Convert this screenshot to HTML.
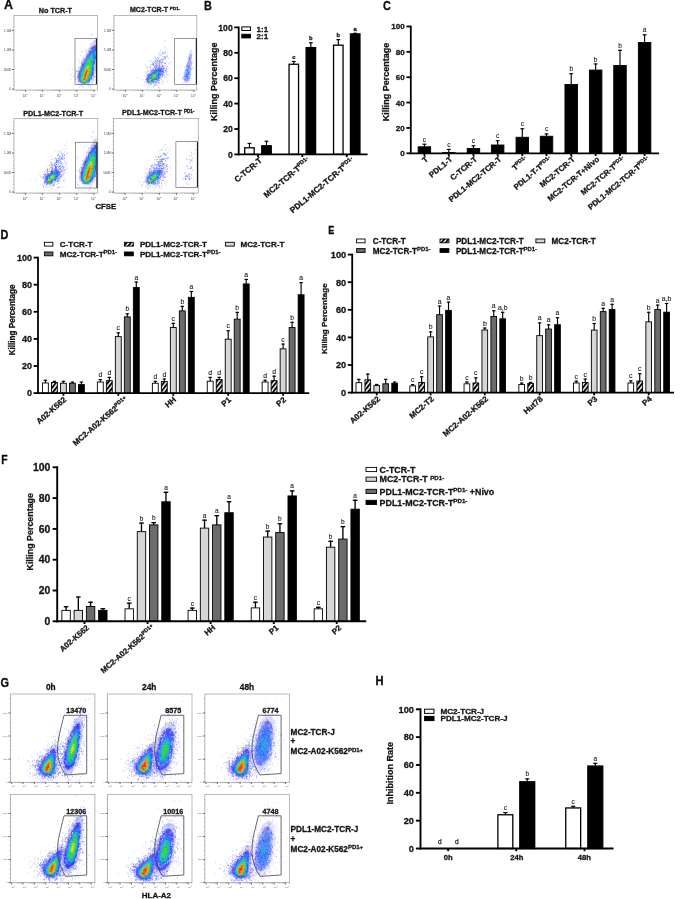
<!DOCTYPE html>
<html lang="en"><head><meta charset="utf-8"><title>Figure</title>
<style>
html,body{margin:0;padding:0;background:#fff;}
body{width:682px;height:899px;overflow:hidden;}
svg{display:block;font-family:"Liberation Sans", Arial, Helvetica, sans-serif;}
</style></head><body>
<svg width="682" height="899" viewBox="0 0 682 899">
<rect width="682" height="899" fill="#fff"/>
<defs>
<pattern id="hatch" width="3.4" height="3.4" patternUnits="userSpaceOnUse" patternTransform="rotate(-52)"><rect width="3.4" height="3.4" fill="#fff"/><rect width="3.4" height="1.95" fill="#000"/></pattern>
<filter id="bl" x="-20%" y="-20%" width="140%" height="140%"><feGaussianBlur stdDeviation="0.55" result="b"/><feTurbulence type="fractalNoise" baseFrequency="0.85" numOctaves="2" seed="3" result="n"/><feDisplacementMap in="b" in2="n" scale="2.4" xChannelSelector="R" yChannelSelector="G"/></filter>
<filter id="gr" x="-20%" y="-20%" width="140%" height="140%"><feGaussianBlur stdDeviation="0.5" result="b"/><feTurbulence type="fractalNoise" baseFrequency="0.85" numOctaves="2" seed="3" result="n"/><feDisplacementMap in="b" in2="n" scale="2.4" xChannelSelector="R" yChannelSelector="G" result="d"/><feTurbulence type="fractalNoise" baseFrequency="1.1" numOctaves="1" seed="11" result="n2"/><feColorMatrix in="n2" type="matrix" values="0 0 0 0 0 0 0 0 0 0 0 0 0 0 0 5 0 0 0 -1.35" result="m"/><feComposite in="d" in2="m" operator="in"/></filter>
</defs>
<text transform="translate(4.1 8.9) scale(0.92 1)" font-size="13.6" font-weight="bold" fill="#0a0a0a" stroke="#0a0a0a" stroke-width="0.3">A</text>
<rect x="14" y="15.6" width="83.4" height="74.4" fill="#fff" stroke="#8c8c8c" stroke-width="0.6"/>
<text x="11" y="90.22" font-size="3.1" font-weight="normal" text-anchor="end" fill="#333">0</text>
<text x="11" y="70.67" font-size="3.1" font-weight="normal" text-anchor="end" fill="#333">500K</text>
<text x="11" y="51.12" font-size="3.1" font-weight="normal" text-anchor="end" fill="#333">1.0M</text>
<text x="11" y="31.57" font-size="3.1" font-weight="normal" text-anchor="end" fill="#333">1.5M</text>
<text x="25" y="96.6" font-size="3.1" font-weight="normal" text-anchor="middle" fill="#333">10<tspan dy="-1.4" font-size="2.17">3</tspan></text>
<text x="42.1" y="96.6" font-size="3.1" font-weight="normal" text-anchor="middle" fill="#333">10<tspan dy="-1.4" font-size="2.17">4</tspan></text>
<text x="59.2" y="96.6" font-size="3.1" font-weight="normal" text-anchor="middle" fill="#333">10<tspan dy="-1.4" font-size="2.17">5</tspan></text>
<text x="76.3" y="96.6" font-size="3.1" font-weight="normal" text-anchor="middle" fill="#333">10<tspan dy="-1.4" font-size="2.17">6</tspan></text>
<text x="93.4" y="96.6" font-size="3.1" font-weight="normal" text-anchor="middle" fill="#333">10<tspan dy="-1.4" font-size="2.17">7</tspan></text>
<path d="M11.9 89.1H14M11.9 69.5H14M11.9 50H14M11.9 30.4H14M25.6 90V91.8M42.7 90V91.8M59.8 90V91.8M76.9 90V91.8M94 90V91.8" stroke="#333" stroke-width="0.7" fill="none"/>
<path d="M13 89.1H14M13 85.2H14M13 81.3H14M13 77.4H14M13 73.5H14M13 69.6H14M13 65.6H14M13 61.7H14M13 57.8H14M13 53.9H14M13 50H14M13 46.1H14M13 42.2H14M13 38.3H14M13 34.4H14M13 30.5H14M13 26.5H14M13 22.6H14M13 18.7H14M16.7 90V91M18.8 90V91M20.5 90V91M21.8 90V91M23 90V91M23.9 90V91M24.7 90V91M30.7 90V91M33.8 90V91M35.9 90V91M37.6 90V91M38.9 90V91M40.1 90V91M41 90V91M41.8 90V91M47.8 90V91M50.9 90V91M53 90V91M54.7 90V91M56 90V91M57.2 90V91M58.1 90V91M58.9 90V91M64.9 90V91M68 90V91M70.1 90V91M71.8 90V91M73.1 90V91M74.3 90V91M75.2 90V91M76 90V91M82 90V91M85.1 90V91M87.2 90V91M88.9 90V91M90.2 90V91M91.4 90V91M92.3 90V91M93.1 90V91" stroke="#777" stroke-width="0.4" fill="none"/>
<path d="M87.4 83.8h0.8M74.2 79.7h0.8M93.5 79.8h0.8M80.8 83.8h0.8M85.3 49.4h0.8M70 79.5h0.8M89.7 84h0.8M79.3 83h0.8M82.9 56.8h0.8M91.8 83.1h0.8M88 50.8h0.8M87.7 40h0.8M78.8 87.3h0.8M81.3 51.7h0.8M86.2 53.3h0.8M75.7 79.2h0.8M76.8 76.5h0.8M92.3 80.8h0.8M89.6 86.4h0.8M90.5 47.2h0.8M80 85.2h0.8M86.9 84.8h0.8M77.2 81.8h0.8M87.9 85.8h0.8M80.1 81.3h0.8M83.5 86.7h0.8M75.1 73.7h0.8M77.7 84h0.8M78.9 62.7h0.8M91 39.2h0.8M78 59h0.8M87.8 85.6h0.8M77.1 77.6h0.8M78.4 83.8h0.8M83 83.7h0.8M70.8 75h0.8M92.1 81.6h0.8M75.1 72.5h0.8M76.5 71.4h0.8M82.4 83.6h0.8M81.6 60.3h0.8M77.4 81.5h0.8M72 69.9h0.8M82.7 51.7h0.8M93.5 80.4h0.8M91.9 85.8h0.8M88.9 49.1h0.8M75.2 78.9h0.8M78.2 82.2h0.8M94.3 41.7h0.8M90.1 85.4h0.8M83.6 56h0.8M74 76.3h0.8M73.2 76.6h0.8M90.8 44.2h0.8M68 69.8h0.8M91.3 82h0.8M91.4 84.5h0.8M88.2 83.4h0.8M75.2 70.1h0.8M92.3 34.6h0.8M76.2 70.4h0.8M84.3 83.7h0.8M85.3 51.1h0.8M90.8 33.9h0.8M87.4 83.7h0.8M88.8 84.6h0.8M75 78.1h0.8M80.5 85.1h0.8M80.5 55.3h0.8M88.7 83.8h0.8M74.8 71.8h0.8M89.4 36.1h0.8M76.4 71.5h0.8M82.3 87.1h0.8M78.9 60.9h0.8M81.9 85.5h0.8M74.7 75.2h0.8" stroke="#9a9aff" stroke-opacity="0.8" stroke-width="0.8" fill="none"/>
<path d="M93.7 55.4h0.8M94.4 65.8h0.8M91.2 78.2h0.8M81.4 64h0.8M92.8 74.7h0.8M87.6 82.7h0.8M93.8 63.6h0.8M95.1 49.7h0.8M80.2 69.3h0.8M78.8 73.8h0.8M81.6 77.8h0.8M84.6 81.7h0.8M89 81.1h0.8M92.6 55.2h0.8M92.3 73.2h0.8M89.2 79.7h0.8M92.4 48.4h0.8M82.9 80.6h0.8M89.9 48.7h0.8M95.5 55.6h0.8M85.3 79.9h0.8M86.7 55h0.8M81.2 82h0.8M83.2 59.9h0.8M92.8 72.4h0.8M93.6 76.4h0.8M85.1 61.7h0.8M90.6 47.7h0.8M80.3 71.5h0.8M93.2 48.9h0.8M89.8 79.1h0.8M92.8 49.3h0.8M93 74.2h0.8M89.3 78.5h0.8M83.8 80h0.8M93.4 66h0.8M79.3 72.4h0.8M90.4 78.2h0.8M94.7 57.6h0.8M81.1 68.8h0.8M80 80.8h0.8M80.5 77h0.8M82.7 81.5h0.8M85.8 80.4h0.8M87.8 79.5h0.8M80.3 76.6h0.8M80.2 79.9h0.8M79.4 72.1h0.8M93.2 67.9h0.8M88.1 79.6h0.8M78.4 73.2h0.8M87.2 54.9h0.8M90.9 76.8h0.8M91.9 52.4h0.8M84.9 80h0.8M93.2 69.1h0.8M81 78.1h0.8M78.7 70.9h0.8M78.4 72.3h0.8M88.4 54h0.8M94.2 61.7h0.8M77.8 74.5h0.8M81.1 79.7h0.8M78.7 77.4h0.8M81.4 62.9h0.8M83.7 80h0.8M84.4 81.9h0.8M80.1 68.7h0.8M77.9 75.1h0.8M83.5 79.2h0.8M92.5 55.1h0.8M93.8 70h0.8M94.2 61.9h0.8M83.9 63.3h0.8M88.5 52.4h0.8M92.4 54h0.8M95.1 45.6h0.8M91.1 48.9h0.8M93.2 51.1h0.8M90.6 53.2h0.8M78.9 70.7h0.8M93 78.6h0.8M87.3 80.1h0.8M83.4 81h0.8M95.5 48h0.8M88 57.5h0.8M82.3 81.2h0.8M92 47.8h0.8M77.4 76.7h0.8M85.5 80.5h0.8M78.3 77h0.8M82.7 80.1h0.8M90.7 77h0.8M92.2 49.7h0.8M87.4 58.2h0.8M92.9 47.6h0.8M83.5 81.5h0.8M81.4 63.1h0.8M95.5 70.9h0.8M93.2 55.8h0.8M91.9 50.6h0.8M93.8 76.6h0.8M95.3 45.4h0.8M89.9 52h0.8M92.2 73.3h0.8M86.7 79.9h0.8M81.9 62.2h0.8M83.5 58.5h0.8M93.8 53h0.8M94 58.1h0.8M78.9 77.6h0.8M82.7 62.7h0.8M92.2 51.3h0.8M94.5 76.8h0.8M80 78.3h0.8M92.7 75.8h0.8M82.2 65.6h0.8M88.1 80.1h0.8M91.2 78h0.8M93.3 52.5h0.8M95.3 54.6h0.8M88.9 79.2h0.8M93.9 59.3h0.8M89.1 53.2h0.8M94 53h0.8M80.5 77.7h0.8M87.2 80.7h0.8M87 81.6h0.8M94.2 50.7h0.8M78.3 68.2h0.8M77 71.5h0.8M94.4 59.1h0.8" stroke="#5560ff" stroke-opacity="0.85" stroke-width="0.8" fill="none"/>
<clipPath id="c1"><rect x="14.5" y="16" width="81.8" height="73"/></clipPath><g clip-path="url(#c1)">
<g transform="translate(86 73.4) rotate(-72)" filter="url(#gr)"><path d="M-11.5 0C-11.5 -8.5 -2.9 -10.1 11.1 -7.4C24.1 -5.6 37 -3.4 37 0C37 3.4 24.1 5.6 11.1 7.4C-2.9 10.1 -11.5 8.5 -11.5 0Z" fill="#8080ff" fill-opacity="0.38"/><path d="M-10.6 0C-10.6 -6.8 -2.6 -8.1 8.9 -5.9C19.2 -4.5 29.6 -2.7 29.6 0C29.6 2.7 19.2 4.5 8.9 5.9C-2.6 8.1 -10.6 6.8 -10.6 0Z" fill="#3038f8" fill-opacity="0.85"/></g>
<g transform="translate(86 73.4) rotate(-72)" filter="url(#bl)"><path d="M-10.1 0C-10.1 -5.9 -2.5 -7 7.7 -5.1C16.7 -3.9 25.7 -2.3 25.7 0C25.7 2.3 16.7 3.9 7.7 5.1C-2.5 7 -10.1 5.9 -10.1 0Z" fill="#1f8cf5" fill-opacity="0.95"/><path d="M-9.5 0C-9.5 -4.8 -2.4 -5.6 6.2 -4.1C13.5 -3.1 20.7 -1.9 20.7 0C20.7 1.9 13.5 3.1 6.2 4.1C-2.4 5.6 -9.5 4.8 -9.5 0Z" fill="#22c4b8" fill-opacity="1"/><path d="M-9 0C-9 -3.8 -2.2 -4.5 5 -3.3C10.8 -2.5 16.6 -1.5 16.6 0C16.6 1.5 10.8 2.5 5 3.3C-2.2 4.5 -9 3.8 -9 0Z" fill="#3fd44a" fill-opacity="1"/><path d="M-8 0C-8 -2 -2 -2.4 2.6 -1.7C5.7 -1.3 8.7 -0.8 8.7 0C8.7 0.8 5.7 1.3 2.6 1.7C-2 2.4 -8 2 -8 0Z" fill="#cce42a" fill-opacity="1"/><path d="M-7.6 0C-7.6 -1.4 -1.9 -1.6 1.8 -1.2C3.8 -0.9 5.9 -0.5 5.9 0C5.9 0.5 3.8 0.9 1.8 1.2C-1.9 1.6 -7.6 1.4 -7.6 0Z" fill="#ff8a1a" fill-opacity="1"/><path d="M-7.3 0C-7.3 -0.8 -1.8 -0.9 1 -0.7C2.2 -0.5 3.4 -0.3 3.4 0C3.4 0.3 2.2 0.5 1 0.7C-1.8 0.9 -7.3 0.8 -7.3 0Z" fill="#f0301e" fill-opacity="1"/></g>
</g>
<path d="M86.5 64.1h0.8M83.1 72.7h0.8M88.9 75.7h0.8M90.4 72.5h0.8M89.9 67.8h0.8M86.7 75.8h0.8M82.7 76.1h0.8M91.3 61.3h0.8M87.4 76.5h0.8M88.2 65.3h0.8M87.4 77.4h0.8" stroke="#3fd44a" stroke-opacity="0.8" stroke-width="0.8" fill="none"/>
<path d="M79.4 74h0.8M92.1 67.6h0.8M77.7 77.1h0.8M90.1 54.3h0.8M83.4 79.9h0.8M80.2 76h0.8M92.8 57h0.8M89.3 58.4h0.8M94.2 63.3h0.8M82.7 68.8h0.8M91.7 61.6h0.8M90.6 52.1h0.8M92.7 74h0.8M91.4 48.5h0.8M92.5 73.3h0.8M93.1 55.5h0.8M94.5 67.8h0.8" stroke="#3038f8" stroke-opacity="0.8" stroke-width="0.8" fill="none"/>
<path d="M90.3 59.7h0.8M89.9 60.7h0.8M89 75.6h0.8M89.6 75.8h0.8M82.6 73.3h0.8M84.4 76.3h0.8M81.3 74.1h0.8M81.6 75.5h0.8" stroke="#22c4b8" stroke-opacity="0.8" stroke-width="0.8" fill="none"/>
<path d="M86.8 74.4h0.8M85.2 70.6h0.8M87.6 73.2h0.8M88.1 72.3h0.8M89.7 70.8h0.8M86.7 68.6h0.8M87 74.8h0.8" stroke="#cce42a" stroke-opacity="0.8" stroke-width="0.8" fill="none"/>
<path d="M86.8 70.9h0.8M86.7 72.6h0.8M86.1 73.3h0.8M88.7 69.8h0.8M83.6 73.3h0.8M88.1 74.2h0.8" stroke="#ff8a1a" stroke-opacity="0.8" stroke-width="0.8" fill="none"/>
<path d="M84.9 77.8h0.8M90.2 61.3h0.8M81.8 75.2h0.8M90.7 64h0.8M85.2 79.6h0.8M91.5 63.8h0.8" stroke="#1f8cf5" stroke-opacity="0.8" stroke-width="0.8" fill="none"/>
<path d="M86.3 72.7h0.8M84.5 74h0.8M86.8 71.2h0.8M88 68.3h0.8M86.3 70.4h0.8" stroke="#f0301e" stroke-opacity="0.8" stroke-width="0.8" fill="none"/>
<rect x="75" y="38.4" width="21.4" height="45.9" fill="none" stroke="#555" stroke-width="0.6"/>
<line x1="96.4" y1="38.4" x2="96.4" y2="84.3" stroke="#111" stroke-width="1"/>
<text x="55.4" y="12.6" font-size="7.2" font-weight="bold" text-anchor="middle" fill="#151515" stroke="#151515" stroke-width="0.3">No TCR-T</text>
<rect x="114" y="15.6" width="82.8" height="74.4" fill="#fff" stroke="#8c8c8c" stroke-width="0.6"/>
<text x="111" y="90.22" font-size="3.1" font-weight="normal" text-anchor="end" fill="#333">0</text>
<text x="111" y="70.67" font-size="3.1" font-weight="normal" text-anchor="end" fill="#333">500K</text>
<text x="111" y="51.12" font-size="3.1" font-weight="normal" text-anchor="end" fill="#333">1.0M</text>
<text x="111" y="31.57" font-size="3.1" font-weight="normal" text-anchor="end" fill="#333">1.5M</text>
<text x="125" y="96.6" font-size="3.1" font-weight="normal" text-anchor="middle" fill="#333">10<tspan dy="-1.4" font-size="2.17">3</tspan></text>
<text x="142.1" y="96.6" font-size="3.1" font-weight="normal" text-anchor="middle" fill="#333">10<tspan dy="-1.4" font-size="2.17">4</tspan></text>
<text x="159.2" y="96.6" font-size="3.1" font-weight="normal" text-anchor="middle" fill="#333">10<tspan dy="-1.4" font-size="2.17">5</tspan></text>
<text x="176.3" y="96.6" font-size="3.1" font-weight="normal" text-anchor="middle" fill="#333">10<tspan dy="-1.4" font-size="2.17">6</tspan></text>
<text x="193.4" y="96.6" font-size="3.1" font-weight="normal" text-anchor="middle" fill="#333">10<tspan dy="-1.4" font-size="2.17">7</tspan></text>
<path d="M111.9 89.1H114M111.9 69.5H114M111.9 50H114M111.9 30.4H114M125.6 90V91.8M142.7 90V91.8M159.8 90V91.8M176.9 90V91.8M194 90V91.8" stroke="#333" stroke-width="0.7" fill="none"/>
<path d="M113 89.1H114M113 85.2H114M113 81.3H114M113 77.4H114M113 73.5H114M113 69.6H114M113 65.6H114M113 61.7H114M113 57.8H114M113 53.9H114M113 50H114M113 46.1H114M113 42.2H114M113 38.3H114M113 34.4H114M113 30.5H114M113 26.5H114M113 22.6H114M113 18.7H114M116.7 90V91M118.8 90V91M120.5 90V91M121.8 90V91M123 90V91M123.9 90V91M124.7 90V91M130.7 90V91M133.8 90V91M135.9 90V91M137.6 90V91M138.9 90V91M140.1 90V91M141 90V91M141.8 90V91M147.8 90V91M150.9 90V91M153 90V91M154.7 90V91M156 90V91M157.2 90V91M158.1 90V91M158.9 90V91M164.9 90V91M168 90V91M170.1 90V91M171.8 90V91M173.1 90V91M174.3 90V91M175.2 90V91M176 90V91M182 90V91M185.1 90V91M187.2 90V91M188.9 90V91M190.2 90V91M191.4 90V91M192.3 90V91M193.1 90V91" stroke="#777" stroke-width="0.4" fill="none"/>
<path d="M165.9 49.6h0.8M166.9 81.8h0.8M153.2 84.1h0.8M168.2 68.3h0.8M166.7 53.9h0.8M160.5 84.1h0.8M167.5 51.3h0.8M168.2 74.7h0.8M155.7 85.5h0.8M171.1 62h0.8M146.9 67.4h0.8M147.4 71.4h0.8M149.4 61.5h0.8M148 76.4h0.8M146 67.1h0.8M150.8 64h0.8M148.2 76.4h0.8M167.3 56.8h0.8M162.8 81.2h0.8M163.1 83.7h0.8M154.5 56.4h0.8M168.6 58.4h0.8M159.3 53.6h0.8M158.9 88.1h0.8M154 85.8h0.8M150.7 81.8h0.8M165.8 76.5h0.8M147 69.3h0.8M169.3 63.6h0.8M150.7 61.2h0.8M161.8 81.4h0.8M167 56.7h0.8M148.2 82.9h0.8M164.6 40.6h0.8M148 75.4h0.8M149.8 60.7h0.8M144.5 83h0.8M159.6 53h0.8M149.6 79.9h0.8M155.1 58h0.8M166.9 75.2h0.8M146.5 66.2h0.8M149.3 67h0.8M160.2 50.6h0.8M172.1 34.6h0.8M148.8 76.5h0.8M164.8 47.9h0.8M158.3 87.5h0.8M150 65h0.8M163.6 46.6h0.8" stroke="#9a9aff" stroke-opacity="0.8" stroke-width="0.8" fill="none"/>
<path d="M154.3 62.2h0.8M155 61.2h0.8M166.1 55.9h0.8M151.3 70.6h0.8M166.8 66.8h0.8M155.6 78.5h0.8M166.1 68.5h0.8M152.5 63.8h0.8M152.9 64.4h0.8M156.7 79.2h0.8M150 66.8h0.8M156 59.5h0.8M157.4 82.7h0.8M164.1 76h0.8M162 75.8h0.8M152.7 62.8h0.8M152.7 63.5h0.8M154.6 80.3h0.8M158 79.5h0.8M166.2 70.1h0.8M158.4 54.9h0.8M150.1 72.4h0.8M158.6 82.5h0.8M150.4 70.1h0.8M156.8 80.4h0.8M159 80.5h0.8M148.6 74.8h0.8M159.6 77.7h0.8M152.6 77.2h0.8M151.6 69.9h0.8M152.1 74.1h0.8M155.1 63.5h0.8M163.2 74.5h0.8M150.2 75.1h0.8M155.4 60.7h0.8M161.5 54.2h0.8M158.6 57.3h0.8M152.3 64.6h0.8M151.3 71.3h0.8M158.1 58.6h0.8M164.3 63h0.8M163.2 59h0.8M164.3 63.4h0.8M155.1 79.1h0.8M156.2 62h0.8M152 79h0.8M164.8 56.8h0.8M150.5 77h0.8M161.8 56.8h0.8M164.6 53.3h0.8M156.1 79.1h0.8M159 78.2h0.8M163.4 73.1h0.8M162.4 53.9h0.8M151.5 77.7h0.8M150.7 76.8h0.8M151.1 76.2h0.8M150 76.1h0.8M150.8 77.7h0.8M165.8 68.3h0.8M156.3 82.6h0.8M165.2 51.9h0.8M159.9 55.4h0.8M153.3 64.9h0.8M157.9 80.4h0.8M159.9 78.8h0.8M165.2 58.3h0.8M164.2 52.8h0.8M166.2 71.7h0.8M151.5 65h0.8M156.7 57.5h0.8M164.8 57.5h0.8M152 70.3h0.8M162.4 52.6h0.8M157 60.7h0.8M150.4 74.5h0.8M153.2 65h0.8M162.7 52.8h0.8M155.4 61.1h0.8M150.6 71.9h0.8M157.3 59.2h0.8M153.8 62.1h0.8M164.3 58.8h0.8M165 70.6h0.8M151.9 72h0.8M153.3 61.2h0.8M164.8 70.5h0.8M154.6 77.9h0.8M165.2 63.2h0.8M161.4 76.6h0.8M155.5 79.6h0.8M166.3 73.7h0.8M163.7 57.1h0.8M157.5 60.6h0.8M164.3 57h0.8" stroke="#5560ff" stroke-opacity="0.85" stroke-width="0.8" fill="none"/>
<path d="M158.9 64.9h0.8M160.7 69.3h0.8M160 71.5h0.8M162.8 68.6h0.8M158 71.5h0.8M162 71.6h0.8M152.9 70h0.8M156.7 71.1h0.8M158.6 77.5h0.8M154.1 67.1h0.8M158.3 69.8h0.8M158.3 69h0.8M155.8 67h0.8M156 76.8h0.8M156.3 64.8h0.8M159.6 61.2h0.8M156.9 73.5h0.8M155.8 71.5h0.8M160.5 75.8h0.8M160.8 62.8h0.8M155.7 77.1h0.8M157.8 63.3h0.8M153 72.9h0.8M159.9 72.8h0.8M154.9 69.2h0.8M155.7 72.9h0.8M161.4 70.5h0.8M156.9 65.7h0.8M162.3 66.3h0.8M163 65.9h0.8M155.6 69.7h0.8M159.1 64.9h0.8M157.9 74.8h0.8M155.5 71.7h0.8M163.4 68.5h0.8M162.3 59.4h0.8M157.4 74.1h0.8M153 74.9h0.8M152.8 68.4h0.8M157.3 76.4h0.8M155.6 71.8h0.8M163.2 71.7h0.8M158.9 63.3h0.8M158.8 66.9h0.8M155.9 73.9h0.8M156.6 73.2h0.8M154.9 77.2h0.8M159.4 62.6h0.8M152.5 71.4h0.8M155.6 68.7h0.8M161 59.6h0.8M161.8 62.1h0.8M158.2 71.1h0.8M158.4 77.4h0.8M152.9 70.7h0.8M161.4 71.6h0.8M155.8 74.8h0.8M154.8 65.1h0.8M160.9 69.4h0.8M155.1 74.4h0.8M160.4 59.7h0.8M162.5 72.3h0.8M163.2 71.9h0.8M158.4 69.8h0.8M153.7 69.8h0.8M162.3 71.1h0.8M156.2 77.8h0.8M157.5 67.3h0.8M155.8 67.9h0.8M158.6 68.4h0.8M160.3 70.7h0.8M162.1 65.8h0.8M154.2 66.9h0.8M155.8 67.4h0.8M156.7 65.3h0.8M152.6 68.7h0.8M161.4 71.7h0.8M157.8 69h0.8M156.3 63.1h0.8M156.7 70.9h0.8M159.4 60.6h0.8M153.3 73.6h0.8M157.1 62.2h0.8M155 68h0.8M157.8 77.7h0.8M154.8 66.1h0.8M161 73.7h0.8M156.9 68.9h0.8M156.8 72.1h0.8M158.4 70.4h0.8M161.5 64.9h0.8M162.1 71.7h0.8M158.2 76.3h0.8M158.5 66.4h0.8M156.8 71.7h0.8M157.9 71.2h0.8M156.4 77.7h0.8M161.2 69.4h0.8M158.4 68.9h0.8M155.2 70.7h0.8M159.1 65.3h0.8M157.5 65.5h0.8M159.9 69.1h0.8M159.2 61.9h0.8M158.7 68.1h0.8M162.4 62.2h0.8M154.9 69.6h0.8M162.5 60.7h0.8M153.3 76.2h0.8M154.9 71h0.8M154.8 65.6h0.8M158.4 77h0.8M159.5 71.2h0.8M156 64.2h0.8M162 74.4h0.8M158.1 61h0.8M158.3 70.2h0.8M163 72.3h0.8M157.9 67.3h0.8M158.9 60.7h0.8M155.7 66.9h0.8M162.2 68.9h0.8M157.6 73.2h0.8M155 73.4h0.8M161.6 68.4h0.8M152.8 70.6h0.8M153.8 76.1h0.8M156.4 74h0.8M158.9 73h0.8M159.1 67.2h0.8M160 61.6h0.8M161 63.1h0.8M160.4 68.6h0.8M158.6 73.4h0.8" stroke="#3d55ff" stroke-opacity="0.9" stroke-width="0.8" fill="none"/>
<path d="M165.8 74.3h0.8M153.2 86.8h0.8M160.3 66.2h0.8M163.9 69h0.8M162.4 65.6h0.8M161.8 66h0.8M154 85.2h0.8M158 83.4h0.8M172.9 58.3h0.8M157.4 85h0.8M158.2 87.8h0.8M164 67.7h0.8M164.2 67h0.8M147.7 86.8h0.8M146.5 72.5h0.8M164.3 69h0.8M154.3 85.4h0.8M166.1 65.8h0.8M146.1 84.9h0.8M146.7 72.2h0.8M160 64.2h0.8M168.7 64h0.8M164.9 70.8h0.8M162.6 75.7h0.8M149.2 85.7h0.8M163.2 67h0.8M160.5 66.5h0.8M142.4 84.9h0.8M166.7 72h0.8M149.7 67.6h0.8M144.6 76.6h0.8M159.6 65.7h0.8M147.1 88h0.8M140.9 79.7h0.8M144.4 81.5h0.8M153.2 86h0.8M165.3 68.7h0.8M162.4 81.8h0.8M156.4 67.3h0.8M147.2 83.8h0.8M145 71.7h0.8M164.4 72.5h0.8M155 84.4h0.8M166.3 69.1h0.8M155 85.2h0.8M156.6 64.8h0.8M144.3 85h0.8M161 63.6h0.8M137 77.7h0.8M165.2 71h0.8M145.8 73.4h0.8M165 65.7h0.8M156.1 84.6h0.8M167.1 66.5h0.8M159.7 66.6h0.8M164.9 77.3h0.8M158.1 83.3h0.8M155.2 67.8h0.8M159.2 83.8h0.8M161.3 79.7h0.8M149.7 87.2h0.8M149.9 68.7h0.8M159.3 82.5h0.8M162.3 76.9h0.8" stroke="#9a9aff" stroke-opacity="0.72" stroke-width="0.8" fill="none"/>
<path d="M146.5 79.5h0.8M160.8 68.3h0.8M148.1 73.3h0.8M162.3 74.5h0.8M160.3 68.2h0.8M155.6 82h0.8M160.1 74.4h0.8M161.5 74.7h0.8M162.7 68.7h0.8M148.4 82.3h0.8M162.9 70.2h0.8M158.2 68.3h0.8M158.1 78.4h0.8M163.1 70.1h0.8M158.5 79h0.8M150.4 70.6h0.8M161.6 72.2h0.8M159.2 78.4h0.8M163.2 70.3h0.8M150.5 84.2h0.8M155.8 70.2h0.8M148.7 81h0.8M147.8 80.2h0.8M162.5 72.1h0.8M146.9 77.9h0.8M146.5 81.5h0.8M160.2 74.3h0.8M160.8 74.7h0.8M145.3 79.6h0.8M161.4 67h0.8M150.3 83.2h0.8M152.9 82.4h0.8M162 70.1h0.8M157.3 81.8h0.8M156.4 81.1h0.8M159.2 68.7h0.8M157.1 80.3h0.8M149.3 81.8h0.8M147 77.5h0.8M149.3 74h0.8M146.9 80h0.8M157.7 79.9h0.8M147.4 74.8h0.8M146.3 81.9h0.8M148.4 71.3h0.8M163.2 67.9h0.8M147.7 78.3h0.8M160 69.3h0.8M149.7 84.9h0.8M156.7 69.1h0.8M148.4 83.6h0.8M155.1 70.3h0.8M147 78.9h0.8M161.3 71.1h0.8M151.2 71.7h0.8M160.3 70.3h0.8M146.8 81.6h0.8M160.6 68.2h0.8M147.1 79.4h0.8M153.7 82.2h0.8M154 70.6h0.8M155.7 81.2h0.8M160.1 77.1h0.8M161.4 69.1h0.8M146.1 78.7h0.8M158.7 77.7h0.8M147.7 76h0.8M160.8 69.8h0.8M162 75.3h0.8M159.5 76.5h0.8M153.9 69.9h0.8M163.4 68.1h0.8M154.8 83.6h0.8M158 69.1h0.8M157.4 69.2h0.8M155.4 82.2h0.8M159.3 70h0.8M151.4 84.3h0.8M156.2 70.2h0.8M155.8 81.6h0.8M160.6 73.8h0.8M162.3 69.9h0.8M159.1 69.9h0.8M162.1 73.9h0.8M157.7 80.6h0.8M160.4 74.3h0.8M147.5 75.6h0.8M147.1 74.5h0.8M146.3 75.4h0.8M153.3 83.2h0.8M159.6 67.5h0.8M155.2 82.6h0.8M145.6 79.6h0.8" stroke="#5560ff" stroke-opacity="0.77" stroke-width="0.8" fill="none"/>
<clipPath id="c2"><rect x="114.5" y="16" width="82.3" height="73"/></clipPath><g clip-path="url(#c2)">
<g transform="translate(153.6 76.4) rotate(-42)" filter="url(#gr)"><path d="M-9 0C-9 -5.5 -2.2 -6.5 3.8 -4.9C8.1 -3.8 12.5 -2.6 12.5 0C12.5 2.6 8.1 3.8 3.8 4.9C-2.2 6.5 -9 5.5 -9 0Z" fill="#8080ff" fill-opacity="0.26"/><path d="M-8.1 0C-8.1 -4.4 -2 -5.2 3 -3.9C6.5 -3.1 10 -2.1 10 0C10 2.1 6.5 3.1 3 3.9C-2 5.2 -8.1 4.4 -8.1 0Z" fill="#3038f8" fill-opacity="0.6"/></g>
<g transform="translate(153.6 76.4) rotate(-42)" filter="url(#bl)"><path d="M-7.6 0C-7.6 -3.8 -1.9 -4.4 2.6 -3.3C5.5 -2.6 8.5 -1.8 8.5 0C8.5 1.8 5.5 2.6 2.6 3.3C-1.9 4.4 -7.6 3.8 -7.6 0Z" fill="#1f8cf5" fill-opacity="0.85"/><path d="M-7 0C-7 -3 -1.7 -3.6 2.1 -2.7C4.5 -2.1 6.9 -1.4 6.9 0C6.9 1.4 4.5 2.1 2.1 2.7C-1.7 3.6 -7 3 -7 0Z" fill="#22c4b8" fill-opacity="0.9"/><path d="M-6.5 0C-6.5 -2.4 -1.6 -2.9 1.7 -2.1C3.6 -1.7 5.5 -1.1 5.5 0C5.5 1.1 3.6 1.7 1.7 2.1C-1.6 2.9 -6.5 2.4 -6.5 0Z" fill="#3fd44a" fill-opacity="0.9"/><path d="M-5.9 0C-5.9 -1.7 -1.5 -2 1.2 -1.5C2.5 -1.2 3.9 -0.8 3.9 0C3.9 0.8 2.5 1.2 1.2 1.5C-1.5 2 -5.9 1.7 -5.9 0Z" fill="#cce42a" fill-opacity="0.9"/></g>
</g>
<path d="M151.8 75.8h0.8M158.1 74.7h0.8M150.9 73.9h0.8M154.8 77.4h0.8M155.8 76.5h0.8M155.3 77h0.8M151.3 75.6h0.8M156.8 75.8h0.8M155.9 75.1h0.8M155.9 75.6h0.8M157.9 74.2h0.8M153.9 78.4h0.8M151.9 76.2h0.8M152.3 75.2h0.8M151.5 76.3h0.8M153.2 79.2h0.8M153.8 74.6h0.8M151.3 76.4h0.8M158.3 72.3h0.8M151 77.9h0.8M158.5 73.7h0.8M150.8 75.6h0.8M151.1 79.1h0.8M155.5 73.9h0.8M151.3 77.4h0.8M153.1 79.5h0.8M155.1 77.6h0.8M151.1 78.3h0.8M156 74.4h0.8M151.5 75.6h0.8M153.3 79.1h0.8M156.9 77.8h0.8M151.5 79h0.8M151.5 77.1h0.8M156.1 76h0.8" stroke="#1f8cf5" stroke-opacity="0.8" stroke-width="0.8" fill="none"/>
<path d="M153.9 76.9h0.8M153 76.2h0.8M153.3 75.9h0.8M154.7 77.4h0.8M152.6 76h0.8M152.9 75.4h0.8M153.5 76.3h0.8M155.4 75.1h0.8M152.2 76.3h0.8M153.1 76.1h0.8M153.4 75.4h0.8M155.2 75.4h0.8M154.3 75.8h0.8M153.3 77.2h0.8" stroke="#cce42a" stroke-opacity="0.8" stroke-width="0.8" fill="none"/>
<path d="M152.9 76.5h0.8M155.3 73.7h0.8M154 77.2h0.8M152.4 78.3h0.8M151.6 75.5h0.8M153.5 78.3h0.8M152.5 76.5h0.8M153.7 75.2h0.8M156.2 76.3h0.8M152.5 76.9h0.8M152.4 76h0.8M154 76.2h0.8M154.4 74.8h0.8M151.5 76.1h0.8M152.5 77h0.8M156.6 74.8h0.8M153.6 75.2h0.8M154.9 77.7h0.8M153.5 75.8h0.8M152.1 77.7h0.8" stroke="#3fd44a" stroke-opacity="0.8" stroke-width="0.8" fill="none"/>
<path d="M157.6 78h0.8M152.5 80.2h0.8M154.5 72.3h0.8M153.7 73.5h0.8M147.8 79.6h0.8M159.9 75.4h0.8M156.6 73.9h0.8M158.1 73.9h0.8M152 73.1h0.8M152.8 82.1h0.8M154.9 71.2h0.8M157.9 74.6h0.8M162.1 66.5h0.8M157.5 70.4h0.8M151.9 80h0.8M150.3 77.1h0.8M154.2 73.6h0.8M154.8 72.2h0.8M158.8 71.1h0.8M159.7 70.2h0.8M151.4 74.3h0.8M157.8 79.1h0.8M149.1 78.3h0.8M150.1 78.3h0.8M147.8 76.8h0.8M158.6 74.2h0.8M147.8 79.7h0.8M149.7 78.2h0.8M149 74.2h0.8M154.6 79.4h0.8M148.5 78.7h0.8M157.3 76.4h0.8M153.1 73.1h0.8M151 80.4h0.8M151.3 80.2h0.8M158.3 74.6h0.8M159 75.5h0.8M149.6 75.5h0.8M151.5 78.5h0.8M152.8 79h0.8M154.9 73h0.8M155.4 73h0.8M156.3 79.4h0.8M150.5 77.6h0.8M158.3 74.3h0.8M156.1 70.8h0.8M160.5 72.1h0.8M156.4 79.2h0.8" stroke="#3038f8" stroke-opacity="0.8" stroke-width="0.8" fill="none"/>
<path d="M150.9 76.6h0.8M153.5 77.8h0.8M156.7 74.3h0.8M156.1 73.5h0.8M150.5 76.3h0.8M157.1 73.9h0.8M154.6 76.3h0.8M151.5 78.1h0.8M153.6 77.8h0.8M151.2 77.4h0.8M154.6 73.3h0.8M155.1 78.1h0.8M151.7 79h0.8M156.8 75.3h0.8M154.2 75.2h0.8M153.5 78.5h0.8M154.8 73.3h0.8M152.7 75.1h0.8M150.3 76.8h0.8M155.3 74.1h0.8M154.2 75.2h0.8M152.4 73.9h0.8M151.9 74.8h0.8" stroke="#22c4b8" stroke-opacity="0.8" stroke-width="0.8" fill="none"/>
<path d="M182.2 77.6h0.8M188.5 56.6h0.8M192.4 67.6h0.8M181 79.4h0.8M186.3 86h0.8M189.5 53.7h0.8M191.8 54.5h0.8M190.7 78.6h0.8M183.4 79.7h0.8M192.3 63.6h0.8M190.2 51.3h0.8M184.9 82.3h0.8M184.8 61.2h0.8M189.1 84.9h0.8M182.1 73.7h0.8M187.8 57.4h0.8M187.3 82.6h0.8M192.6 68.6h0.8M191.6 69.5h0.8M191.2 52.5h0.8M189.5 81.6h0.8M191.6 76.3h0.8M185 86.8h0.8M191.5 49.9h0.8M181.9 82h0.8M184 68.5h0.8M190.5 79.6h0.8M193.1 51.3h0.8M182.7 87.4h0.8M184.8 82.3h0.8M190.8 51h0.8M191.4 54h0.8M188.1 57.8h0.8M179.8 74.3h0.8M189.1 80.6h0.8M184.3 67h0.8M182.7 77.8h0.8M191.6 55h0.8M181.7 78.4h0.8M186.6 60.7h0.8M190.3 51.7h0.8M182 78.9h0.8M183.5 67.8h0.8M191.8 72.9h0.8M190.9 50.9h0.8M192.2 67.7h0.8M183.3 83.4h0.8M187 82.3h0.8M182.7 73.1h0.8M188.8 81.9h0.8M190.2 52.7h0.8M193.6 66.7h0.8" stroke="#9a9aff" stroke-opacity="0.4" stroke-width="0.8" fill="none"/>
<path d="M185.2 70.5h0.8M188.5 80.5h0.8M188.8 59.4h0.8M191.4 62.5h0.8M190.2 74.4h0.8M188.7 59.7h0.8M183.3 75.9h0.8M188 61.7h0.8M184.2 72.4h0.8M184.4 80h0.8M189.9 60.4h0.8M183.5 79.4h0.8M188 80.4h0.8M189.4 78.2h0.8M189.7 58.4h0.8M190.6 72.3h0.8M186 68.2h0.8M190.6 57.1h0.8M184.2 76.8h0.8M184.1 74.9h0.8M188.7 77.8h0.8M191 64.4h0.8M189 58.4h0.8M190.6 63.4h0.8M191.6 68.7h0.8M190.3 74.7h0.8M185 70.7h0.8M189.4 78.6h0.8M190.6 56.7h0.8M188.7 58.4h0.8M188.7 79h0.8M190.7 55.4h0.8M185.4 70h0.8M189.5 55.1h0.8M189.2 57.1h0.8M189.5 76h0.8M189.5 78.9h0.8M187.9 79.8h0.8M190.9 63.6h0.8M184.5 79.9h0.8M189.3 59.6h0.8M185.3 80h0.8M191.2 57.4h0.8M190.5 54.3h0.8M191.7 62.6h0.8M188.2 60.1h0.8M190 73.3h0.8M190.2 55.6h0.8M186.1 65.4h0.8M190.9 59.9h0.8M190.9 55.5h0.8M188 79h0.8M184.5 75.9h0.8M185.2 78.2h0.8M184.6 76.6h0.8M189.1 77.4h0.8M189.1 77.8h0.8M191.4 55.8h0.8M188.1 80.2h0.8M184.3 76.3h0.8M190 76.6h0.8M183.5 78.3h0.8M190.5 67.7h0.8M186.2 80.6h0.8M184.5 77.5h0.8M190.2 74.7h0.8M189.6 76.3h0.8M185.8 79h0.8M191.2 54.8h0.8M191 62.8h0.8M189.1 58h0.8M191.6 61.1h0.8M190.5 69.7h0.8M186.8 64.6h0.8M189.8 60h0.8M187.2 63.7h0.8M190.7 58.1h0.8M185.6 79.1h0.8M187.4 79.3h0.8M190.9 69.8h0.8M189 57.9h0.8M187 80.9h0.8M183.3 77.1h0.8" stroke="#5560ff" stroke-opacity="0.42" stroke-width="0.8" fill="none"/>
<clipPath id="c3"><rect x="114.5" y="16" width="81.5" height="73"/></clipPath><g clip-path="url(#c3)">
<g transform="translate(187.2 73.8) rotate(-80)" filter="url(#gr)"><path d="M-9 0C-9 -3.6 -2.2 -4.3 7.2 -3C15.6 -2.1 24 -0.9 24 0C24 0.9 15.6 2.1 7.2 3C-2.2 4.3 -9 3.6 -9 0Z" fill="#8080ff" fill-opacity="0.15"/><path d="M-8.1 0C-8.1 -2.9 -2 -3.4 5.8 -2.4C12.5 -1.6 19.2 -0.7 19.2 0C19.2 0.7 12.5 1.6 5.8 2.4C-2 3.4 -8.1 2.9 -8.1 0Z" fill="#3038f8" fill-opacity="0.33"/></g>
<g transform="translate(187.2 73.8) rotate(-80)" filter="url(#bl)"><path d="M-6.2 0C-6.2 -1.3 -1.5 -1.6 2.7 -1.1C5.8 -0.8 8.9 -0.3 8.9 0C8.9 0.3 5.8 0.8 2.7 1.1C-1.5 1.6 -6.2 1.3 -6.2 0Z" fill="#1f8cf5" fill-opacity="0.47"/></g>
</g>
<path d="M186 75.6h0.8M187 71.8h0.8M187.8 72.6h0.8M188 74.5h0.8M186.6 75.4h0.8M188.5 68h0.8M186.4 75.6h0.8M186.5 74.5h0.8M187 72.4h0.8M187.2 71.4h0.8M187.1 75.3h0.8" stroke="#22c4b8" stroke-opacity="0.8" stroke-width="0.8" fill="none"/>
<path d="M187.2 78.8h0.8M190.1 68.7h0.8M189.9 61.6h0.8M186.5 70.6h0.8M187.9 66.3h0.8M184.9 73.4h0.8M187.6 77.2h0.8M190.5 66h0.8M188.2 67.3h0.8M189 72.7h0.8M187.4 77.4h0.8M189.5 54.4h0.8M189.4 62.6h0.8M185.8 76.2h0.8M188.9 71.8h0.8M184.3 78.9h0.8M189.9 69.2h0.8M186.1 69.7h0.8M189.2 67.1h0.8M186 76h0.8M189 65.6h0.8M186.4 74.5h0.8M186.7 66.2h0.8M188 74.6h0.8M188.7 74.5h0.8" stroke="#3038f8" stroke-opacity="0.8" stroke-width="0.8" fill="none"/>
<path d="M186.6 77.6h0.8M187.9 73.1h0.8M187.9 73h0.8M185.7 74.3h0.8M188.2 71.3h0.8M185.9 70.5h0.8M187.7 74.6h0.8M188.1 72.7h0.8M186.7 75.8h0.8M188.4 72.4h0.8M188.1 72.6h0.8M188.5 68.3h0.8M186.9 76.1h0.8M186.6 74.3h0.8" stroke="#1f8cf5" stroke-opacity="0.8" stroke-width="0.8" fill="none"/>
<rect x="174.7" y="38.4" width="21.6" height="45.9" fill="none" stroke="#555" stroke-width="0.6"/>
<line x1="196.3" y1="38.4" x2="196.3" y2="84.3" stroke="#111" stroke-width="1"/>
<text x="130" y="12.4" font-size="7" font-weight="bold" text-anchor="start" fill="#151515" stroke="#151515" stroke-width="0.3">MC2-TCR-T <tspan dy="-2.8" font-size="4.4">PD1-</tspan></text>
<rect x="14" y="118.6" width="83.8" height="74.4" fill="#fff" stroke="#8c8c8c" stroke-width="0.6"/>
<text x="11" y="193.22" font-size="3.1" font-weight="normal" text-anchor="end" fill="#333">0</text>
<text x="11" y="173.67" font-size="3.1" font-weight="normal" text-anchor="end" fill="#333">500K</text>
<text x="11" y="154.12" font-size="3.1" font-weight="normal" text-anchor="end" fill="#333">1.0M</text>
<text x="11" y="134.57" font-size="3.1" font-weight="normal" text-anchor="end" fill="#333">1.5M</text>
<text x="25" y="199.6" font-size="3.1" font-weight="normal" text-anchor="middle" fill="#333">10<tspan dy="-1.4" font-size="2.17">3</tspan></text>
<text x="42.1" y="199.6" font-size="3.1" font-weight="normal" text-anchor="middle" fill="#333">10<tspan dy="-1.4" font-size="2.17">4</tspan></text>
<text x="59.2" y="199.6" font-size="3.1" font-weight="normal" text-anchor="middle" fill="#333">10<tspan dy="-1.4" font-size="2.17">5</tspan></text>
<text x="76.3" y="199.6" font-size="3.1" font-weight="normal" text-anchor="middle" fill="#333">10<tspan dy="-1.4" font-size="2.17">6</tspan></text>
<text x="93.4" y="199.6" font-size="3.1" font-weight="normal" text-anchor="middle" fill="#333">10<tspan dy="-1.4" font-size="2.17">7</tspan></text>
<path d="M11.9 192.1H14M11.9 172.5H14M11.9 153H14M11.9 133.4H14M25.6 193V194.8M42.7 193V194.8M59.8 193V194.8M76.9 193V194.8M94 193V194.8" stroke="#333" stroke-width="0.7" fill="none"/>
<path d="M13 192.1H14M13 188.2H14M13 184.3H14M13 180.4H14M13 176.5H14M13 172.6H14M13 168.6H14M13 164.7H14M13 160.8H14M13 156.9H14M13 153H14M13 149.1H14M13 145.2H14M13 141.3H14M13 137.4H14M13 133.5H14M13 129.5H14M13 125.6H14M13 121.7H14M16.7 193V194M18.8 193V194M20.5 193V194M21.8 193V194M23 193V194M23.9 193V194M24.7 193V194M30.7 193V194M33.8 193V194M35.9 193V194M37.6 193V194M38.9 193V194M40.1 193V194M41 193V194M41.8 193V194M47.8 193V194M50.9 193V194M53 193V194M54.7 193V194M56 193V194M57.2 193V194M58.1 193V194M58.9 193V194M64.9 193V194M68 193V194M70.1 193V194M71.8 193V194M73.1 193V194M74.3 193V194M75.2 193V194M76 193V194M82 193V194M85.1 193V194M87.2 193V194M88.9 193V194M90.2 193V194M91.4 193V194M92.3 193V194M93.1 193V194" stroke="#777" stroke-width="0.4" fill="none"/>
<path d="M44.2 189.7h0.8M63.5 153.2h0.8M65.6 163.1h0.8M50.7 184.2h0.8M64 181.3h0.8M67.2 166.8h0.8M64.5 151.3h0.8M53.6 184.1h0.8M60.3 149.2h0.8M59.9 186.5h0.8M43.8 182.8h0.8M65.3 187h0.8M66.4 164.7h0.8M51.3 159.4h0.8M63 180.2h0.8M55.4 151h0.8M40 176.2h0.8M59.7 151.9h0.8M63.6 148.9h0.8M64.4 145.3h0.8M42.6 186h0.8M66.4 148.8h0.8M43.8 174.4h0.8M43.5 185.3h0.8M44.1 180.6h0.8M66.3 153.3h0.8M45.2 175.8h0.8M57.9 183.3h0.8M62.3 187.5h0.8M57.1 152.7h0.8M52.5 159h0.8M43.4 171.4h0.8M53.6 158.6h0.8M57 187.2h0.8M43.3 174.5h0.8M46.6 169.9h0.8M45.1 174.3h0.8M66.4 143h0.8M67.1 152.9h0.8M49 190.9h0.8M65.5 179.3h0.8M65.2 163.8h0.8M59.1 187.5h0.8M55.6 190.2h0.8M48.9 165.1h0.8M56.5 184.5h0.8M63.3 180.6h0.8M61.9 149.6h0.8M43 177.4h0.8M66.4 160.7h0.8M50.3 156.6h0.8M58.8 151.4h0.8M57.1 150.4h0.8M45 176.7h0.8M53 186.3h0.8M46 172.3h0.8M58 187.3h0.8M51.6 189.6h0.8M46.3 166.4h0.8M46.9 178.9h0.8" stroke="#9a9aff" stroke-opacity="0.8" stroke-width="0.8" fill="none"/>
<path d="M57.7 155.2h0.8M64.5 173h0.8M64.7 169.3h0.8M63.7 155.9h0.8M50.5 163.1h0.8M47.2 173.1h0.8M62.2 158.1h0.8M56.7 181.2h0.8M59.6 156.4h0.8M52.2 165.2h0.8M50.9 167.4h0.8M63.2 174.1h0.8M57.9 180.3h0.8M58.1 158.3h0.8M49.1 169h0.8M48.1 174.9h0.8M63.7 154.2h0.8M50.9 162.9h0.8M49.9 177.9h0.8M55.7 159.5h0.8M62.3 156.1h0.8M57.5 180.4h0.8M63.5 171h0.8M50.8 164.7h0.8M55.6 161h0.8M62.6 163.9h0.8M56.7 179.7h0.8M51 165.2h0.8M62.3 172.7h0.8M46.9 175.3h0.8M47.2 169.5h0.8M56.3 179.5h0.8M47.6 171.4h0.8M62.4 156.7h0.8M52.5 182.2h0.8M50.3 176.2h0.8M58.3 158.6h0.8M57.3 158.9h0.8M49.6 175h0.8M53.6 163.2h0.8M61.3 158.5h0.8M60.4 176h0.8M56.1 160.4h0.8M57.2 181.4h0.8M51.9 166h0.8M49.7 175.8h0.8M61.3 174.6h0.8M57.8 181.6h0.8M50.7 181.5h0.8M61 176.4h0.8M62.6 159.6h0.8M47.1 170.4h0.8M55.1 158.1h0.8M64.2 161.4h0.8M62 175.7h0.8M57 156.1h0.8M50.1 166.9h0.8M52.2 180.8h0.8M58.8 178.6h0.8M60.7 158.1h0.8M61.7 170.3h0.8M49.5 178.1h0.8M61 157.9h0.8M54.3 179.6h0.8M59.1 157.5h0.8M62.4 171.2h0.8M59.7 156.5h0.8M56.8 181.4h0.8M58.2 178.6h0.8M48.8 175.3h0.8M55.9 158.7h0.8M63.2 167.3h0.8M47.1 168.8h0.8M64.6 167.7h0.8M48.8 169.5h0.8M47 176.5h0.8M51.4 179.5h0.8M49.1 176h0.8M63.9 157.9h0.8M62.2 154.2h0.8M55.9 160.6h0.8M52.6 164.1h0.8M49.3 165.9h0.8M63.8 158.6h0.8M64 155.5h0.8M62.8 168.7h0.8M59.6 177.7h0.8M53.9 183.7h0.8M55.3 180.6h0.8M58.1 155.5h0.8M58.2 154.1h0.8M49 180.4h0.8M61.1 153.5h0.8M48.9 180.9h0.8M64.2 170.5h0.8M59.8 158.7h0.8M60.5 152.2h0.8M61.4 157.9h0.8M60.7 159.4h0.8M51.3 180.5h0.8M59.8 176.6h0.8M61.7 155.7h0.8M62.1 159.7h0.8M50.4 181.5h0.8M48.3 174.4h0.8M54.4 182.1h0.8" stroke="#5560ff" stroke-opacity="0.85" stroke-width="0.8" fill="none"/>
<path d="M59.3 163.1h0.8M57.5 162.1h0.8M53.3 176h0.8M58.4 167.1h0.8M52.1 171.4h0.8M53.6 170.4h0.8M59.5 159.4h0.8M53.3 172.9h0.8M53.6 174h0.8M52 172.7h0.8M54.7 168.6h0.8M57.2 173.3h0.8M60.6 167.8h0.8M52.8 174.3h0.8M54.8 170h0.8M53.7 168.7h0.8M54.2 175.3h0.8M56.2 170.3h0.8M55.6 168.5h0.8M53 177.2h0.8M60.2 161.4h0.8M57.1 172.3h0.8M52.5 172h0.8M54.6 165.4h0.8M52 168.1h0.8M56.6 160.7h0.8M59.1 174.4h0.8M56.3 176.9h0.8M60.9 162.1h0.8M55.5 172.9h0.8M59.4 171.7h0.8M50.8 174.8h0.8M56.2 161.5h0.8M57.6 173.9h0.8M61 167.1h0.8M57.9 161.6h0.8M56 171.9h0.8M55.1 167.3h0.8M52.9 172.2h0.8M52.1 169.6h0.8M58.3 174.9h0.8M59.3 174.1h0.8M55.7 166.3h0.8M57.3 176.5h0.8M54.2 175.1h0.8M58.8 172.7h0.8M58 164.2h0.8M51.9 173.9h0.8M54.8 170.3h0.8M52 177.6h0.8M58.6 160.6h0.8M56.3 162.4h0.8M55.9 164.6h0.8M54.6 169.1h0.8M51.9 167.8h0.8M51.4 171.8h0.8M57.8 176.2h0.8M56.2 175.1h0.8M55.8 168.1h0.8M56 173.8h0.8M55 167.1h0.8M55.7 172.1h0.8M59.4 168.4h0.8M61.3 163.7h0.8M54 163.9h0.8M53.7 177.6h0.8M58.7 173.3h0.8M56.2 170.3h0.8M52.6 175.2h0.8M55.7 176.1h0.8M59.8 166.5h0.8M54.7 165.4h0.8M60.3 165.5h0.8M57.3 160.7h0.8M55.4 162.4h0.8M56.3 162.6h0.8M55.7 167.2h0.8M50.9 168.2h0.8M53.7 166.1h0.8M52 171.1h0.8M60.3 173.3h0.8M57.6 162.3h0.8M58.4 166.8h0.8M55.6 167.9h0.8M51.7 173h0.8M59.2 166.5h0.8M53.9 170.1h0.8M55.8 169.2h0.8M54.2 165.1h0.8M54.9 170.1h0.8M59.5 160.9h0.8M59.2 175.1h0.8M50.1 172.2h0.8M51.9 168.2h0.8M54.8 163.4h0.8M60.4 162.9h0.8M53.4 176.2h0.8M57.1 177.2h0.8M60.3 169h0.8M55.7 175h0.8M55 172.6h0.8M55.8 169.8h0.8M60.9 169.5h0.8M55.6 166.9h0.8M55.1 166h0.8M53.3 173.4h0.8M53.5 178.1h0.8M55.8 170.1h0.8M51.8 173.3h0.8M56.2 164.3h0.8M51.2 176.8h0.8M58.8 166.4h0.8M58.2 160.3h0.8M55.6 167.5h0.8" stroke="#3d55ff" stroke-opacity="0.9" stroke-width="0.8" fill="none"/>
<path d="M38.8 174.4h0.8M60.1 163.1h0.8M63.9 165.6h0.8M58.4 167.7h0.8M61.1 174.7h0.8M63.1 175.9h0.8M60.9 165.1h0.8M57.8 166h0.8M45.1 187.2h0.8M62.9 166.9h0.8M49.4 186.1h0.8M42 178.2h0.8M61.8 164.8h0.8M57.2 166.4h0.8M41.7 176.7h0.8M47.1 170.6h0.8M58.3 183.4h0.8M42.9 186.6h0.8M30 180.9h0.8M43.2 187.8h0.8M42.6 178h0.8M63.2 168.8h0.8M45.7 186.3h0.8M56.9 188.2h0.8M50 187h0.8M60 180.9h0.8M53.7 185h0.8M58 187.4h0.8M47 188.1h0.8M62.4 171.1h0.8M52.7 166.1h0.8M56.9 165.4h0.8M62 166.2h0.8M66 162.8h0.8M66.7 168.8h0.8M41.7 177.3h0.8M62.1 169.2h0.8M61.5 177.3h0.8M45.7 171h0.8M52.7 188.1h0.8M36.4 180.4h0.8M60.7 175.9h0.8M64 177.9h0.8M63.5 166.5h0.8M44.5 173.9h0.8M53.1 185.3h0.8M44.3 172.5h0.8M45.7 186.3h0.8M56.5 165.8h0.8M42.5 176.2h0.8M53.5 185.6h0.8M50.6 187.7h0.8M65.1 169.8h0.8M59.8 178.3h0.8M58.9 179.5h0.8M45.2 170.3h0.8M43.6 185.3h0.8M43.8 183.7h0.8" stroke="#9a9aff" stroke-opacity="0.72" stroke-width="0.8" fill="none"/>
<path d="M57.1 178.3h0.8M45.4 173.9h0.8M44.9 182.4h0.8M46.4 182.5h0.8M44.3 175h0.8M47.5 171.7h0.8M61.2 171.1h0.8M60 171.9h0.8M46.4 176.8h0.8M43.3 178.2h0.8M58 175.4h0.8M43.9 183.2h0.8M44.5 177.7h0.8M58 180.6h0.8M56.1 168.9h0.8M58 169.9h0.8M54.6 169.9h0.8M44.4 178.3h0.8M47.5 174.1h0.8M43.8 181.2h0.8M46 177h0.8M53.6 171.5h0.8M49.5 171.6h0.8M58.5 172.7h0.8M51.3 183.4h0.8M58.9 177.1h0.8M59.9 176.9h0.8M47.5 182.3h0.8M59 174.5h0.8M58.8 172.8h0.8M59 172.7h0.8M58.4 174.5h0.8M51 171.1h0.8M47.2 175.1h0.8M54.9 181.4h0.8M56.5 169.5h0.8M43.4 176.8h0.8M44.9 176.6h0.8M46.4 184.6h0.8M47.1 172.9h0.8M56.7 178.5h0.8M46.7 174.6h0.8M51.3 171.2h0.8M47.1 182.7h0.8M53 185h0.8M60.1 176h0.8M59.7 169h0.8M44.5 176.2h0.8M46.6 182h0.8M45.9 181.6h0.8M48.1 183.7h0.8M52.1 170.2h0.8M60.7 171.5h0.8M52 185.4h0.8M60.6 174.9h0.8M50.5 185.1h0.8M50.5 183.2h0.8M58.6 174.9h0.8M55.4 169.9h0.8M46.3 177.1h0.8M51.3 170.5h0.8M44 175.3h0.8M55.6 181.6h0.8M53.7 170.1h0.8M47 184.1h0.8M55.9 170h0.8M49.1 183.7h0.8M50.9 170.1h0.8M48.2 182.5h0.8M51.5 171h0.8M52 172h0.8M52.7 171.8h0.8M48.3 173.6h0.8M58.7 171.9h0.8M57.9 180h0.8M45.7 174.4h0.8M49.8 183.4h0.8M53.9 184.8h0.8M58.4 177.7h0.8M46.8 175.7h0.8M45.1 176.5h0.8M50.9 172.1h0.8M46.8 174.9h0.8M49.1 171.2h0.8M45.2 174.5h0.8M57 169.2h0.8M44.5 182.2h0.8M51 170.5h0.8M47.5 183.1h0.8M58.8 168.7h0.8M58.7 172h0.8M51.5 170.4h0.8" stroke="#5560ff" stroke-opacity="0.77" stroke-width="0.8" fill="none"/>
<clipPath id="c4"><rect x="14.5" y="119.3" width="82.8" height="73"/></clipPath><g clip-path="url(#c4)">
<g transform="translate(51.7 177.4) rotate(-42)" filter="url(#gr)"><path d="M-9 0C-9 -5.5 -2.2 -6.5 3.8 -4.9C8.1 -3.8 12.5 -2.6 12.5 0C12.5 2.6 8.1 3.8 3.8 4.9C-2.2 6.5 -9 5.5 -9 0Z" fill="#8080ff" fill-opacity="0.26"/><path d="M-8.1 0C-8.1 -4.4 -2 -5.2 3 -3.9C6.5 -3.1 10 -2.1 10 0C10 2.1 6.5 3.1 3 3.9C-2 5.2 -8.1 4.4 -8.1 0Z" fill="#3038f8" fill-opacity="0.6"/></g>
<g transform="translate(51.7 177.4) rotate(-42)" filter="url(#bl)"><path d="M-7.3 0C-7.3 -3.4 -1.8 -4 2.3 -3C5 -2.4 7.8 -1.6 7.8 0C7.8 1.6 5 2.4 2.3 3C-1.8 4 -7.3 3.4 -7.3 0Z" fill="#1f8cf5" fill-opacity="0.85"/><path d="M-6.8 0C-6.8 -2.8 -1.7 -3.2 1.9 -2.4C4.1 -1.9 6.2 -1.3 6.2 0C6.2 1.3 4.1 1.9 1.9 2.4C-1.7 3.2 -6.8 2.8 -6.8 0Z" fill="#22c4b8" fill-opacity="0.9"/><path d="M-6.3 0C-6.3 -2.2 -1.6 -2.6 1.5 -1.9C3.2 -1.5 5 -1 5 0C5 1 3.2 1.5 1.5 1.9C-1.6 2.6 -6.3 2.2 -6.3 0Z" fill="#3fd44a" fill-opacity="0.9"/><path d="M-5.8 0C-5.8 -1.5 -1.4 -1.8 1.1 -1.4C2.3 -1.1 3.5 -0.7 3.5 0C3.5 0.7 2.3 1.1 1.1 1.4C-1.4 1.8 -5.8 1.5 -5.8 0Z" fill="#cce42a" fill-opacity="0.9"/></g>
</g>
<path d="M55 174h0.8M51.6 179.6h0.8M53.6 179.6h0.8M50.6 179.2h0.8M49.7 178.6h0.8M50.2 176.2h0.8M54.2 176.4h0.8M55.3 174.7h0.8M51.1 175.6h0.8M52.5 175h0.8M52.7 173.6h0.8M49.6 175.1h0.8M53.5 174.1h0.8M53.9 178.5h0.8M49.7 177.6h0.8M49.2 177.4h0.8M50.4 175.1h0.8M54 174.5h0.8M48.2 176.8h0.8M49.4 178.6h0.8M49.9 179.1h0.8M51.6 180.1h0.8M49.1 177.4h0.8M53.6 180h0.8M50 175.4h0.8M51.2 179.1h0.8M54.1 172.9h0.8M51 180.7h0.8" stroke="#1f8cf5" stroke-opacity="0.8" stroke-width="0.8" fill="none"/>
<path d="M55.4 177.5h0.8M48.8 176.5h0.8M51.9 173.1h0.8M51.8 181.2h0.8M46.7 178.3h0.8M51.1 171.5h0.8M51.7 181.6h0.8M52.9 174.3h0.8M50.8 173.7h0.8M50.3 173.7h0.8M57.1 173.8h0.8M50.3 181.5h0.8M48.2 181.6h0.8M52.3 173.6h0.8M57.1 172.5h0.8M51.1 183h0.8M51 174.7h0.8M55.2 179.3h0.8M57 172.9h0.8M62.2 166.8h0.8M53.7 174.1h0.8M54.3 174.4h0.8M51.1 173.1h0.8M54.6 179.5h0.8M46.7 178.5h0.8M55.5 173.5h0.8M55 179h0.8M54.9 179.6h0.8M48.2 175.6h0.8M56.4 176.7h0.8M54.8 179.1h0.8M47.5 177.9h0.8M56.7 174.2h0.8M46.7 180h0.8M46.2 176.1h0.8M56.8 175.7h0.8M46.7 177.9h0.8M47.1 179.9h0.8M48.8 181.7h0.8M55.8 172.4h0.8M50.9 180.9h0.8M47.4 181.3h0.8M57.4 171.3h0.8M56.5 177h0.8" stroke="#3038f8" stroke-opacity="0.8" stroke-width="0.8" fill="none"/>
<path d="M53.1 178.4h0.8M50.4 180.6h0.8M54 174.5h0.8M52.4 180.2h0.8M52.9 173.8h0.8M53.1 176.3h0.8M54.6 175.9h0.8M54.4 174.5h0.8M52.5 175.8h0.8M49.9 177.8h0.8M51 178.3h0.8M51.1 178.3h0.8M50.9 176.1h0.8M52.5 179.4h0.8M49.7 179.7h0.8M51.5 178.3h0.8M51.6 179.7h0.8M49.7 179.7h0.8M53.4 174.7h0.8M54.1 177.1h0.8M51 174.8h0.8M52.2 178.4h0.8M53.4 179.5h0.8M51.2 175.9h0.8M50 178.5h0.8M52.7 179.5h0.8M51.5 178.3h0.8M52.4 176.1h0.8M51.2 176.4h0.8M54.9 175.1h0.8M50.6 177.5h0.8M50.6 176.8h0.8M48.4 177.5h0.8M49.3 179.2h0.8M50.3 180.7h0.8" stroke="#22c4b8" stroke-opacity="0.8" stroke-width="0.8" fill="none"/>
<path d="M53.5 175.2h0.8M53 177.5h0.8M49.9 179.3h0.8M53.5 177.7h0.8M50.5 179.5h0.8M52.3 179.1h0.8M51.4 177.9h0.8M50.7 176.3h0.8M52.3 176.5h0.8M54.5 176.9h0.8M53.5 177.8h0.8M52.1 178.8h0.8M52.6 176.8h0.8M54.2 175.7h0.8M53.5 176.8h0.8" stroke="#3fd44a" stroke-opacity="0.8" stroke-width="0.8" fill="none"/>
<path d="M52 177h0.8M50.8 176.2h0.8M52.2 176h0.8M52 176.8h0.8M52.8 176.8h0.8M50.6 177.8h0.8M52.8 178.2h0.8M52.1 177.6h0.8M50.4 178h0.8M52.8 178.2h0.8M52.6 177.5h0.8M51.1 177.8h0.8M50.4 177.5h0.8M51.5 176.6h0.8M51.4 178.4h0.8M51.3 177.8h0.8M51.2 176.9h0.8M51.5 177.6h0.8" stroke="#cce42a" stroke-opacity="0.8" stroke-width="0.8" fill="none"/>
<path d="M83.1 161.1h0.8M84.1 146.9h0.8M89.6 186.8h0.8M94.5 136.9h0.8M81.5 181h0.8M87.8 149.1h0.8M86.7 183.2h0.8M76 182.4h0.8M82.9 183.6h0.8M92.3 145.5h0.8M84.6 150.3h0.8M94.6 185.3h0.8M77.7 184.8h0.8M79.5 185.2h0.8M82.2 183.4h0.8M89.8 189h0.8M75.6 176.8h0.8M83.9 186.6h0.8M78.7 190.3h0.8M85.3 183.5h0.8M79.3 170.8h0.8M78.3 169.8h0.8M92.2 131.8h0.8M81.8 160.9h0.8M77.3 184.5h0.8M76.2 178.5h0.8M95.4 142.7h0.8M91.3 145.4h0.8M93.3 142.8h0.8M95.3 179.8h0.8M88.2 147.7h0.8M91.8 181.9h0.8M81.6 190.2h0.8M90.5 187.8h0.8M87.9 189.6h0.8M82.8 183.8h0.8M93.8 139.9h0.8M91 136.3h0.8M88.7 183.2h0.8M79.3 179.4h0.8M87.3 183.3h0.8M79.3 168.2h0.8M75.6 175.5h0.8M86.6 151.9h0.8M77.2 156.6h0.8M80.8 164.5h0.8M91 184.7h0.8M81.5 182.8h0.8M91.7 137.3h0.8M79.1 177.7h0.8M88.1 185.2h0.8M89.8 187h0.8M90.6 184.9h0.8M93.7 132h0.8M79.3 176.2h0.8M77.2 158.2h0.8M87 184.4h0.8M76.3 170.9h0.8M86.1 152.4h0.8M92.9 181h0.8M87 152.1h0.8M95.3 188.5h0.8M79.1 171.1h0.8M78.5 181.7h0.8" stroke="#9a9aff" stroke-opacity="0.8" stroke-width="0.8" fill="none"/>
<path d="M88.1 158.1h0.8M82.8 167.3h0.8M90.8 152.4h0.8M88.6 182h0.8M85.8 182h0.8M83.6 168h0.8M92.2 153.4h0.8M83.5 181.2h0.8M94.6 153.8h0.8M87.1 182.1h0.8M82.9 165.7h0.8M79.9 173.2h0.8M94.8 170.1h0.8M82 172.5h0.8M95.8 160.2h0.8M91.7 177.9h0.8M82.7 167.1h0.8M91 178.4h0.8M95 174.6h0.8M93.1 149.1h0.8M94.7 150.9h0.8M95.6 167h0.8M80.7 173.9h0.8M80.3 173.4h0.8M93.7 175.8h0.8M90.6 152.7h0.8M89.2 155.8h0.8M90.5 180.9h0.8M81.6 176.5h0.8M86 179.8h0.8M94.3 178.8h0.8M93.5 175.2h0.8M82.5 170.6h0.8M89 180.9h0.8M95.9 173.7h0.8M86.4 178.7h0.8M86 162.2h0.8M95.9 160.3h0.8M81.7 171.8h0.8M89.1 152.1h0.8M85.8 178.4h0.8M85.6 179.8h0.8M86.3 178.9h0.8M89.8 180.7h0.8M79.5 171.7h0.8M91.4 153.3h0.8M90.7 180.9h0.8M86.2 161.7h0.8M81 167.4h0.8M83.5 163.7h0.8M81.2 173.2h0.8M84.6 180.7h0.8M82.9 169.5h0.8M86.2 181.9h0.8M90.6 179.3h0.8M81.3 173h0.8M81.4 173.2h0.8M95.8 170.2h0.8M81.8 174.9h0.8M84.2 166h0.8M80.2 177.5h0.8M87.2 158.5h0.8M89 178.9h0.8M95.5 175.4h0.8M93.3 177.2h0.8M82.3 173.9h0.8M84.9 164.8h0.8M80.7 173h0.8M86.6 178.6h0.8M80.8 175.5h0.8M95.8 173.1h0.8M96 163.1h0.8M93.6 175.7h0.8M95.9 159.7h0.8M94.7 176.4h0.8M84.1 179.4h0.8M83.8 165h0.8M86.5 159.4h0.8M85.8 158.9h0.8M94.9 145.5h0.8M86.3 157.4h0.8M84.8 159.2h0.8M91.5 152.3h0.8M91.5 177.5h0.8M80.8 167.6h0.8M81.2 169.6h0.8M90.1 178.7h0.8M87.5 179.1h0.8M95.3 174.1h0.8M86.6 159.5h0.8M82.3 177.3h0.8M83.4 163.2h0.8M89.9 178.6h0.8M87.3 179.5h0.8M88.7 179h0.8M83.9 177.8h0.8M95.2 176.6h0.8M95.8 169.5h0.8M80.9 175.6h0.8M95.7 155.8h0.8M83.3 162.5h0.8M92.3 152.4h0.8M90.3 180.4h0.8M84.7 177.3h0.8M95.5 148.9h0.8M95.3 176.1h0.8M81.2 175.4h0.8M93.8 175.3h0.8M94 176.8h0.8M82 179h0.8M95.9 165.6h0.8M90.2 179.6h0.8M81.9 179h0.8M94.1 173.6h0.8M94.7 174.2h0.8M85.3 163.3h0.8M86.1 178.8h0.8M85.5 160.5h0.8M95.5 173h0.8M95.4 165.9h0.8M87 181h0.8M92 179.8h0.8M81.4 169.1h0.8M90.4 179.1h0.8M81.8 171h0.8M82 171.8h0.8M81.8 171.1h0.8M83.4 164.6h0.8" stroke="#5560ff" stroke-opacity="0.85" stroke-width="0.8" fill="none"/>
<clipPath id="c5"><rect x="14.5" y="119.3" width="82.3" height="73"/></clipPath><g clip-path="url(#c5)">
<g transform="translate(88.8 170.5) rotate(-74)" filter="url(#gr)"><path d="M-15 0C-15 -8.4 -3.8 -9.9 10.2 -7.4C22.1 -5.8 34 -4 34 0C34 4 22.1 5.8 10.2 7.4C-3.8 9.9 -15 8.4 -15 0Z" fill="#8080ff" fill-opacity="0.42"/><path d="M-13.8 0C-13.8 -6.7 -3.5 -7.9 8.2 -5.9C17.7 -4.6 27.2 -3.2 27.2 0C27.2 3.2 17.7 4.6 8.2 5.9C-3.5 7.9 -13.8 6.7 -13.8 0Z" fill="#3038f8" fill-opacity="0.95"/></g>
<g transform="translate(88.8 170.5) rotate(-74)" filter="url(#bl)"><path d="M-13.2 0C-13.2 -5.8 -3.3 -6.8 7.1 -5.1C15.3 -4 23.6 -2.7 23.6 0C23.6 2.7 15.3 4 7.1 5.1C-3.3 6.8 -13.2 5.8 -13.2 0Z" fill="#1f8cf5" fill-opacity="0.95"/><path d="M-12.4 0C-12.4 -4.7 -3.1 -5.5 5.7 -4.1C12.4 -3.3 19 -2.2 19 0C19 2.2 12.4 3.3 5.7 4.1C-3.1 5.5 -12.4 4.7 -12.4 0Z" fill="#22c4b8" fill-opacity="1"/><path d="M-11.7 0C-11.7 -3.7 -2.9 -4.4 4.6 -3.3C9.9 -2.6 15.2 -1.8 15.2 0C15.2 1.8 9.9 2.6 4.6 3.3C-2.9 4.4 -11.7 3.7 -11.7 0Z" fill="#3fd44a" fill-opacity="1"/><path d="M-10.7 0C-10.7 -2.4 -2.7 -2.8 2.9 -2.1C6.2 -1.6 9.6 -1.1 9.6 0C9.6 1.1 6.2 1.6 2.9 2.1C-2.7 2.8 -10.7 2.4 -10.7 0Z" fill="#cce42a" fill-opacity="1"/><path d="M-10.1 0C-10.1 -1.6 -2.5 -1.9 2 -1.4C4.2 -1.1 6.5 -0.8 6.5 0C6.5 0.8 4.2 1.1 2 1.4C-2.5 1.9 -10.1 1.6 -10.1 0Z" fill="#ff8a1a" fill-opacity="1"/><path d="M-9.7 0C-9.7 -0.9 -2.4 -1.1 1.1 -0.8C2.5 -0.6 3.8 -0.4 3.8 0C3.8 0.4 2.5 0.6 1.1 0.8C-2.4 1.1 -9.7 0.9 -9.7 0Z" fill="#f0301e" fill-opacity="1"/></g>
</g>
<path d="M86.9 165.1h0.8M85.8 172.8h0.8M85.2 172.7h0.8M91.9 168.8h0.8M88.4 163.3h0.8M85.8 172.8h0.8M87.7 174.7h0.8M90.6 174h0.8M92.9 173.8h0.8M91.6 163.4h0.8M91.8 170.6h0.8M84.2 169.4h0.8M92.3 171.3h0.8M93.3 166.1h0.8M87.5 162.6h0.8M91.8 163.4h0.8" stroke="#22c4b8" stroke-opacity="0.8" stroke-width="0.8" fill="none"/>
<path d="M92.5 160.6h0.8M89.8 173.6h0.8M90.5 159.7h0.8M88.3 175.8h0.8M87.7 176.5h0.8" stroke="#3fd44a" stroke-opacity="0.8" stroke-width="0.8" fill="none"/>
<path d="M92 164.4h0.8M88.6 175.1h0.8M90.5 170.4h0.8M87 172.8h0.8M87.6 174.9h0.8M91.2 162.7h0.8M89.3 165.7h0.8M89.8 165.4h0.8M88.1 169.4h0.8" stroke="#cce42a" stroke-opacity="0.8" stroke-width="0.8" fill="none"/>
<path d="M81.8 168.9h0.8M81.6 173.9h0.8M82.2 172.4h0.8M93.4 177.3h0.8M87.4 160.8h0.8M94.8 152.4h0.8M90.1 180.3h0.8M94.1 155.4h0.8M94.3 153.7h0.8M87.8 177.7h0.8M95 153.1h0.8M84.9 174.8h0.8M86.7 160.4h0.8M94.4 156.1h0.8M92 155.2h0.8M95.4 162.7h0.8M91.4 178.7h0.8" stroke="#3038f8" stroke-opacity="0.8" stroke-width="0.8" fill="none"/>
<path d="M89.8 171.7h0.8M90.6 168.9h0.8M87.5 171.9h0.8M87.4 172.3h0.8M89 168.8h0.8" stroke="#f0301e" stroke-opacity="0.8" stroke-width="0.8" fill="none"/>
<path d="M91.1 169.5h0.8M90.3 169.2h0.8M91.4 163.5h0.8" stroke="#ff8a1a" stroke-opacity="0.8" stroke-width="0.8" fill="none"/>
<path d="M88.5 177.9h0.8M92.8 153.5h0.8M87.4 175.5h0.8M86.2 165.4h0.8M85.4 167.9h0.8" stroke="#1f8cf5" stroke-opacity="0.8" stroke-width="0.8" fill="none"/>
<rect x="75.4" y="142.2" width="21.6" height="45.8" fill="none" stroke="#555" stroke-width="0.6"/>
<line x1="97" y1="142.2" x2="97" y2="188" stroke="#111" stroke-width="1"/>
<text x="53.2" y="115.6" font-size="7.2" font-weight="bold" text-anchor="middle" fill="#151515" stroke="#151515" stroke-width="0.3">PDL1-MC2-TCR-T</text>
<rect x="113.6" y="118.6" width="84.6" height="74.4" fill="#fff" stroke="#8c8c8c" stroke-width="0.6"/>
<text x="110.6" y="193.22" font-size="3.1" font-weight="normal" text-anchor="end" fill="#333">0</text>
<text x="110.6" y="173.67" font-size="3.1" font-weight="normal" text-anchor="end" fill="#333">500K</text>
<text x="110.6" y="154.12" font-size="3.1" font-weight="normal" text-anchor="end" fill="#333">1.0M</text>
<text x="110.6" y="134.57" font-size="3.1" font-weight="normal" text-anchor="end" fill="#333">1.5M</text>
<text x="124.6" y="199.6" font-size="3.1" font-weight="normal" text-anchor="middle" fill="#333">10<tspan dy="-1.4" font-size="2.17">3</tspan></text>
<text x="141.7" y="199.6" font-size="3.1" font-weight="normal" text-anchor="middle" fill="#333">10<tspan dy="-1.4" font-size="2.17">4</tspan></text>
<text x="158.8" y="199.6" font-size="3.1" font-weight="normal" text-anchor="middle" fill="#333">10<tspan dy="-1.4" font-size="2.17">5</tspan></text>
<text x="175.9" y="199.6" font-size="3.1" font-weight="normal" text-anchor="middle" fill="#333">10<tspan dy="-1.4" font-size="2.17">6</tspan></text>
<text x="193" y="199.6" font-size="3.1" font-weight="normal" text-anchor="middle" fill="#333">10<tspan dy="-1.4" font-size="2.17">7</tspan></text>
<path d="M111.5 192.1H113.6M111.5 172.5H113.6M111.5 153H113.6M111.5 133.4H113.6M125.2 193V194.8M142.3 193V194.8M159.4 193V194.8M176.5 193V194.8M193.6 193V194.8" stroke="#333" stroke-width="0.7" fill="none"/>
<path d="M112.6 192.1H113.6M112.6 188.2H113.6M112.6 184.3H113.6M112.6 180.4H113.6M112.6 176.5H113.6M112.6 172.6H113.6M112.6 168.6H113.6M112.6 164.7H113.6M112.6 160.8H113.6M112.6 156.9H113.6M112.6 153H113.6M112.6 149.1H113.6M112.6 145.2H113.6M112.6 141.3H113.6M112.6 137.4H113.6M112.6 133.5H113.6M112.6 129.5H113.6M112.6 125.6H113.6M112.6 121.7H113.6M116.3 193V194M118.4 193V194M120.1 193V194M121.4 193V194M122.6 193V194M123.5 193V194M124.3 193V194M130.3 193V194M133.4 193V194M135.5 193V194M137.2 193V194M138.5 193V194M139.7 193V194M140.6 193V194M141.4 193V194M147.4 193V194M150.5 193V194M152.6 193V194M154.3 193V194M155.6 193V194M156.8 193V194M157.7 193V194M158.5 193V194M164.5 193V194M167.6 193V194M169.7 193V194M171.4 193V194M172.7 193V194M173.9 193V194M174.8 193V194M175.6 193V194M181.6 193V194M184.7 193V194M186.8 193V194M188.5 193V194M189.8 193V194M191 193V194M191.9 193V194M192.7 193V194" stroke="#777" stroke-width="0.4" fill="none"/>
<path d="M166.9 158.1h0.8M154.1 160.1h0.8M169.9 168.9h0.8M165.2 148.9h0.8M148 177.9h0.8M155 156.3h0.8M147.3 173.8h0.8M167.7 158.3h0.8M146.9 175.8h0.8M166.9 172.8h0.8M148.6 171.1h0.8M162.7 147.2h0.8M161 183.4h0.8M146.5 168.4h0.8M161.5 149.6h0.8M156.2 157.5h0.8M161.5 182.8h0.8M167.3 166.8h0.8M148.8 183h0.8M169.6 161.2h0.8M161.7 185.4h0.8M167.8 171.3h0.8M150.1 181.7h0.8M167.1 168.4h0.8M167.6 176.2h0.8M164.6 144.2h0.8M157.9 186.5h0.8M165.5 150.6h0.8M164.3 183h0.8M168.1 157.5h0.8M162.1 149.7h0.8M158.4 191.5h0.8M147.8 179.1h0.8M160.7 188.1h0.8M165.3 185h0.8M149.3 186.5h0.8M167.4 156.6h0.8M167.6 146.9h0.8M160.7 182.7h0.8M155.4 184.6h0.8M166.9 152.8h0.8M165.6 144.4h0.8M149.3 180.4h0.8M159.3 188.1h0.8M172.7 136.1h0.8M169 150.7h0.8M149.1 183.4h0.8M154.5 160h0.8M158.9 151.1h0.8M159.5 153.4h0.8M148.3 172.4h0.8M167.1 171.7h0.8M157.5 155.1h0.8M166.2 153.6h0.8M160.3 149.8h0.8M169.4 174.6h0.8M157.3 184.5h0.8M165.7 182.9h0.8" stroke="#9a9aff" stroke-opacity="0.8" stroke-width="0.8" fill="none"/>
<path d="M150.8 171.9h0.8M150.5 166.4h0.8M163.5 177.5h0.8M164.2 173.1h0.8M149.8 172.3h0.8M166.6 158.6h0.8M153.2 167.6h0.8M165.7 155.3h0.8M165.3 158.2h0.8M152.9 181.6h0.8M157.2 159.4h0.8M157.1 180.6h0.8M153.9 183.4h0.8M161.8 158.4h0.8M165.4 161.1h0.8M157.3 179.3h0.8M159.7 159.2h0.8M160.1 156.4h0.8M166.7 169.2h0.8M161.1 155.8h0.8M163.8 159.5h0.8M152.2 177.6h0.8M162.2 176.1h0.8M162.8 180.5h0.8M153.7 179.3h0.8M149.6 174.4h0.8M164 158.9h0.8M163.1 159.2h0.8M164.8 153.8h0.8M154.1 164h0.8M162.5 154.6h0.8M153.3 180.7h0.8M157.7 156.5h0.8M166 171.5h0.8M164.4 177h0.8M162.4 180.4h0.8M151.6 181.8h0.8M165.1 174h0.8M151.6 167.4h0.8M157.2 183h0.8M153.4 180.1h0.8M151.2 170.1h0.8M166.5 164.6h0.8M166.3 158.7h0.8M163.9 173h0.8M150.4 168.5h0.8M162.7 175.9h0.8M151.5 165.9h0.8M153.5 165.5h0.8M164.4 154.7h0.8M164.3 171.9h0.8M154.6 181.8h0.8M165.5 167.4h0.8M166.3 166.4h0.8M153 168.1h0.8M151.2 165.7h0.8M152.1 165h0.8M163.4 177.8h0.8M159.1 182.7h0.8M163 175.8h0.8M162.7 158.6h0.8M149.3 171.8h0.8M163.7 152.9h0.8M159.1 157h0.8M155.8 159.6h0.8M164.6 155.1h0.8M155.5 179.5h0.8M164.5 164.2h0.8M156.5 181.7h0.8M154.7 179.6h0.8M159.5 159.2h0.8M158.1 157.4h0.8M149.2 169.9h0.8M164.4 177.2h0.8M164.8 169h0.8M149.8 179.8h0.8M149.3 170.4h0.8M148.6 176.3h0.8M154.3 180.1h0.8M160.2 156.3h0.8M150.8 174.6h0.8M154.3 183.3h0.8M157.9 180.3h0.8M164.2 153.7h0.8M162.8 174.6h0.8M164.9 161h0.8M163.2 153.5h0.8M165.3 155.1h0.8M151.8 173.6h0.8M166.4 165.7h0.8M158.9 180.8h0.8" stroke="#5560ff" stroke-opacity="0.85" stroke-width="0.8" fill="none"/>
<path d="M156.6 175h0.8M155.8 167.1h0.8M156.8 168.1h0.8M160.8 161.1h0.8M154.6 175.8h0.8M158 164.1h0.8M154.2 168.7h0.8M162.3 164.3h0.8M156.3 167.6h0.8M162.9 163.8h0.8M157.7 165.7h0.8M161.9 164.4h0.8M158.8 178.6h0.8M161.9 161.4h0.8M163.4 164.4h0.8M161.4 173.8h0.8M154.5 170.2h0.8M160.7 174.9h0.8M156.3 178.2h0.8M157.2 164.7h0.8M160.2 171.9h0.8M163.9 165.7h0.8M158.2 161.9h0.8M153.3 173.2h0.8M155.7 176.8h0.8M159.4 165h0.8M157.5 162.1h0.8M158.7 168.5h0.8M156.6 178.7h0.8M155.8 170.7h0.8M160.1 163.2h0.8M159.9 177.5h0.8M159 173.9h0.8M153.1 177h0.8M161.2 159.6h0.8M160.7 176.8h0.8M158.1 176.5h0.8M155.2 175.1h0.8M160.8 165.2h0.8M158 164.2h0.8M153.7 167.1h0.8M159.7 167.2h0.8M155.8 165.9h0.8M154.1 173h0.8M153.8 174.2h0.8M157.6 176.4h0.8M161.6 169.2h0.8M155.1 164.7h0.8M153.1 171h0.8M152.6 173.8h0.8M155.4 175h0.8M162.8 163.7h0.8M162.2 159.2h0.8M153.5 170.9h0.8M161.1 160.2h0.8M158.4 169.4h0.8M157.8 168.8h0.8M154.4 177.5h0.8M154.2 168.5h0.8M157.4 173h0.8M155 168.9h0.8M158 171.2h0.8M154.3 172.5h0.8M154.5 170.6h0.8M161.4 174.9h0.8M162.8 163.3h0.8M160.6 168.6h0.8M159.4 162.3h0.8M154.9 175.7h0.8M161.5 161.3h0.8M160.3 174.1h0.8M158.6 171.7h0.8M158.3 163.3h0.8M160.7 170.5h0.8M159.1 174.1h0.8M162.3 168.5h0.8M153.2 177.1h0.8M156.6 177.6h0.8M155.7 173.1h0.8M156.1 164.7h0.8M161.6 162.8h0.8M161.2 166.9h0.8M156 175.3h0.8M156.4 169h0.8M161.9 166.3h0.8M159.5 161.4h0.8M158 164.7h0.8M155.8 173.3h0.8M159.1 165.9h0.8M152.2 172.9h0.8M158.9 166.4h0.8M157.1 171.8h0.8M159.5 159.9h0.8M159.1 171.7h0.8M159 162.8h0.8M160.5 165.4h0.8M161.1 170.3h0.8M155.6 173.9h0.8M161.8 159.6h0.8M156.2 168.4h0.8M157.7 161.9h0.8M161.5 172.7h0.8M160.3 163.3h0.8M161.5 161.4h0.8M159.9 173.2h0.8M158.1 172.9h0.8M163.1 167.2h0.8M159.5 165.4h0.8M160.6 170.4h0.8M155.7 174.1h0.8M158.1 178.5h0.8M160.2 176.9h0.8M158.1 178h0.8M159.2 166.2h0.8M159.3 178.4h0.8M153.5 176h0.8M158.9 171.2h0.8M159.2 172.6h0.8M161.9 171.7h0.8M156.6 178.4h0.8M157.4 175.2h0.8M155.7 173h0.8M153.2 176.6h0.8M155.3 170.6h0.8M162.8 171.1h0.8M154.2 176.1h0.8M160 161.3h0.8M155.6 173.3h0.8M153.1 174.2h0.8M160.3 165.6h0.8" stroke="#3d55ff" stroke-opacity="0.9" stroke-width="0.8" fill="none"/>
<path d="M147.4 187.4h0.8M149.6 169.2h0.8M148 188h0.8M161.4 186.1h0.8M164.3 173.8h0.8M160.7 180.2h0.8M151.5 170h0.8M145 173.4h0.8M152.8 165.8h0.8M169.9 167.7h0.8M147.2 188.1h0.8M164.5 169h0.8M156.7 185.2h0.8M145.9 174.5h0.8M154.7 187.9h0.8M158.4 166.1h0.8M165 171.2h0.8M146.5 173.5h0.8M151.8 168.7h0.8M162.9 175.6h0.8M147.4 185.3h0.8M158.1 185h0.8M166.2 170h0.8M158.9 186.9h0.8M146.5 184.4h0.8M152.3 187.3h0.8M144.5 181.2h0.8M141.7 185.1h0.8M165.5 166.7h0.8M160.5 167h0.8M153.5 190.2h0.8M163.7 167.4h0.8M157.5 167h0.8M156.5 168.1h0.8M164.1 172.6h0.8M154.1 187.5h0.8M165 176.9h0.8M144 179.9h0.8M144 169.2h0.8M141.7 184.7h0.8M141.8 181.4h0.8M163.1 166.2h0.8M158.5 183.4h0.8M163.4 168.2h0.8M147.6 185.1h0.8M165.3 165.1h0.8M140.9 186.7h0.8M143.9 181.8h0.8M161.7 179.3h0.8M158.5 183.3h0.8M157.7 166.9h0.8M139.3 181.5h0.8M146.5 187.3h0.8M143.1 182.7h0.8M143.9 176.3h0.8M155.2 186.5h0.8M145 191.5h0.8M162.5 165.3h0.8M159 185.3h0.8M169.5 166.8h0.8M159.9 167.4h0.8M153 169.4h0.8M155.7 168.1h0.8M149.9 170.6h0.8M138.6 182.3h0.8M149.4 168.7h0.8M145.2 173.1h0.8M155.8 185.7h0.8M163.6 175h0.8M142 177.6h0.8M145.1 186.2h0.8" stroke="#9a9aff" stroke-opacity="0.72" stroke-width="0.8" fill="none"/>
<path d="M155.3 183.2h0.8M157.3 170.5h0.8M157.2 181.6h0.8M157.3 183.8h0.8M146.6 182h0.8M152.8 184.7h0.8M149.4 182.6h0.8M154 184.3h0.8M156.8 181.4h0.8M153.7 170.9h0.8M162.4 168.5h0.8M146.1 176.9h0.8M161.7 171.4h0.8M146.2 177.6h0.8M148.5 181.1h0.8M145.6 181.2h0.8M156.8 171h0.8M160.7 175.7h0.8M151.9 183.5h0.8M150.7 172.8h0.8M151.8 171.9h0.8M149.8 171.8h0.8M146.2 183h0.8M156.7 168.6h0.8M153 171.6h0.8M147.4 180.3h0.8M151 183.4h0.8M147.1 175.7h0.8M152.8 170.4h0.8M145.5 182.4h0.8M159.8 176.6h0.8M159 168.2h0.8M151.7 182.8h0.8M151.2 171.2h0.8M155.7 184.1h0.8M149.2 174.5h0.8M153.9 184.6h0.8M161.5 169.8h0.8M161.2 172.9h0.8M155.1 183.1h0.8M161.3 168.5h0.8M147.7 175.8h0.8M148.5 172.9h0.8M149.3 174.6h0.8M160.2 172.4h0.8M157.3 183.2h0.8M153.4 183.7h0.8M161 172.6h0.8M152.6 183.7h0.8M158.6 181.4h0.8M148.5 173.2h0.8M160.7 171.5h0.8M149.8 172.7h0.8M154.6 182.2h0.8M161.6 173.6h0.8M162.9 173h0.8M161.1 174.9h0.8M150.6 173.3h0.8M148 183.7h0.8M158.6 178h0.8M160.5 170.7h0.8M145.4 177.6h0.8M158 182h0.8M154.9 182.1h0.8M149.2 172.8h0.8M159.7 169h0.8M160.7 171.6h0.8M147.2 177.9h0.8M157.9 183.3h0.8M155.5 183h0.8M148.5 172.8h0.8M154.4 170h0.8M162.5 173.5h0.8M160 171.3h0.8M148.7 174.8h0.8M150.1 185.3h0.8M149.3 173.4h0.8M151 183.5h0.8M162.9 170.6h0.8M148.9 173.4h0.8M160 179.5h0.8M154 170.6h0.8M158.1 180.2h0.8M155.2 182.5h0.8M146.3 179.8h0.8" stroke="#5560ff" stroke-opacity="0.77" stroke-width="0.8" fill="none"/>
<clipPath id="c6"><rect x="114" y="119.3" width="83.8" height="73"/></clipPath><g clip-path="url(#c6)">
<g transform="translate(153.5 177.2) rotate(-42)" filter="url(#gr)"><path d="M-9 0C-9 -5.5 -2.2 -6.5 3.8 -4.9C8.1 -3.8 12.5 -2.6 12.5 0C12.5 2.6 8.1 3.8 3.8 4.9C-2.2 6.5 -9 5.5 -9 0Z" fill="#8080ff" fill-opacity="0.26"/><path d="M-8.1 0C-8.1 -4.4 -2 -5.2 3 -3.9C6.5 -3.1 10 -2.1 10 0C10 2.1 6.5 3.1 3 3.9C-2 5.2 -8.1 4.4 -8.1 0Z" fill="#3038f8" fill-opacity="0.6"/></g>
<g transform="translate(153.5 177.2) rotate(-42)" filter="url(#bl)"><path d="M-7.6 0C-7.6 -3.8 -1.9 -4.4 2.6 -3.3C5.5 -2.6 8.5 -1.8 8.5 0C8.5 1.8 5.5 2.6 2.6 3.3C-1.9 4.4 -7.6 3.8 -7.6 0Z" fill="#1f8cf5" fill-opacity="0.85"/><path d="M-7 0C-7 -3 -1.7 -3.6 2.1 -2.7C4.5 -2.1 6.9 -1.4 6.9 0C6.9 1.4 4.5 2.1 2.1 2.7C-1.7 3.6 -7 3 -7 0Z" fill="#22c4b8" fill-opacity="0.9"/><path d="M-6.5 0C-6.5 -2.4 -1.6 -2.9 1.7 -2.1C3.6 -1.7 5.5 -1.1 5.5 0C5.5 1.1 3.6 1.7 1.7 2.1C-1.6 2.9 -6.5 2.4 -6.5 0Z" fill="#3fd44a" fill-opacity="0.9"/><path d="M-5.9 0C-5.9 -1.7 -1.5 -2 1.2 -1.5C2.5 -1.2 3.9 -0.8 3.9 0C3.9 0.8 2.5 1.2 1.2 1.5C-1.5 2 -5.9 1.7 -5.9 0Z" fill="#cce42a" fill-opacity="0.9"/></g>
</g>
<path d="M149.4 178.5h0.8M153.4 174h0.8M151.8 175.6h0.8M149.2 183.4h0.8M150.4 179.3h0.8M154.3 172.7h0.8M158.2 174.6h0.8M155 172.8h0.8M150.1 178.5h0.8M157.4 173.6h0.8M152.8 172.7h0.8M157.4 173h0.8M162.8 168.6h0.8M157.8 177h0.8M156.6 176h0.8M158.5 171.9h0.8M151.8 180h0.8M150.5 177.1h0.8M150.7 179h0.8M151.7 175.4h0.8M150.2 181.2h0.8M150.5 179.8h0.8M153.2 181.3h0.8M159 174.1h0.8M156.4 173.8h0.8M155.4 179.3h0.8M159 170.1h0.8M155.6 179.7h0.8M156.5 176.6h0.8M151 182.2h0.8M151.2 172.8h0.8M153.3 180.7h0.8M147.6 177.2h0.8M150.4 178.6h0.8M152.4 175.1h0.8M153.1 182.9h0.8M154 174.1h0.8M151 179.2h0.8M152.5 181.3h0.8M157.2 171.4h0.8M158.8 173h0.8" stroke="#3038f8" stroke-opacity="0.8" stroke-width="0.8" fill="none"/>
<path d="M149.9 176.9h0.8M157.6 173.4h0.8M156.5 177.1h0.8M156.3 177.8h0.8M155.9 177.2h0.8M151.5 176.1h0.8M155.2 179.6h0.8M153.2 179h0.8M158.3 175.7h0.8M156.3 176.9h0.8M156.3 173.1h0.8M153.9 175.2h0.8M157.4 176.4h0.8M153.5 179h0.8M154.7 178.1h0.8M154.8 174.4h0.8M157.1 175.7h0.8M154.4 178.5h0.8M156 176.1h0.8M155 179.2h0.8M154.4 179.9h0.8" stroke="#1f8cf5" stroke-opacity="0.8" stroke-width="0.8" fill="none"/>
<path d="M153.2 176.2h0.8M153.1 178.7h0.8M155.5 176.8h0.8M154 180.1h0.8M154.8 178.7h0.8M153.2 175.9h0.8M150.8 177.2h0.8M154.9 175.4h0.8M157 175.6h0.8M155.4 178.9h0.8M152.3 175.1h0.8M152.8 179h0.8M154.7 174.4h0.8M152.1 178.7h0.8M153.2 178.4h0.8M154.4 178.9h0.8M154.7 174.9h0.8M154.9 178h0.8M153.2 176.2h0.8M154.8 173.9h0.8M150.4 177.1h0.8M154.6 175.8h0.8M153.9 179h0.8M152.8 176.6h0.8M154.7 176.4h0.8M152.5 176.8h0.8M155.4 176.7h0.8M155.2 176.5h0.8M152 176h0.8M154.1 174.8h0.8M154.9 176.6h0.8M153.4 178.9h0.8M154.2 179.9h0.8" stroke="#22c4b8" stroke-opacity="0.8" stroke-width="0.8" fill="none"/>
<path d="M154 177.1h0.8M153.6 177.6h0.8M154.1 175.8h0.8M152.8 178.3h0.8M153.9 175.7h0.8M152.6 176.2h0.8M155.5 176.3h0.8M153.8 176.7h0.8M152.9 177h0.8M153.5 177.7h0.8M153.5 176h0.8M153.6 178.8h0.8M154.9 176h0.8M152.1 177.2h0.8M153.2 177h0.8" stroke="#cce42a" stroke-opacity="0.8" stroke-width="0.8" fill="none"/>
<path d="M152.6 177.1h0.8M152.5 178.6h0.8M154.1 178.4h0.8M154.5 177.1h0.8M151.8 176.5h0.8M152.9 176.5h0.8M155.7 174.8h0.8M152.8 179.6h0.8M152.2 179.7h0.8M152.5 177.3h0.8M153.9 179.3h0.8M153.4 177h0.8M152.7 179.4h0.8M153.5 177.8h0.8M151.7 177.1h0.8M154.2 178.1h0.8M156.1 174.9h0.8M153.1 176h0.8M155.7 174.6h0.8M152.9 177.9h0.8M153.6 176.1h0.8M153.9 175.9h0.8M155.1 175.3h0.8M153.9 176.9h0.8M155 177.4h0.8M154.8 176.6h0.8M154.1 176.2h0.8M152 179.2h0.8M153.5 174.7h0.8M152.3 176.8h0.8" stroke="#3fd44a" stroke-opacity="0.8" stroke-width="0.8" fill="none"/>
<path d="M187.3 184.7h0.8M194.9 140.1h0.8M188.2 142.7h0.8M191.5 141h0.8M194.7 149h0.8M188.2 187.7h0.8M180.4 173.1h0.8M189.6 150.9h0.8M193.3 154.1h0.8M193.2 186.9h0.8M193.1 181.3h0.8M183.5 167.2h0.8M182.6 185.9h0.8M193.7 146h0.8M194.1 137.4h0.8M188.5 184.4h0.8M193.6 154.1h0.8M194.9 149.7h0.8M192.8 178.8h0.8M186.2 159.4h0.8" stroke="#9a9aff" stroke-opacity="0.64" stroke-width="0.8" fill="none"/>
<path d="M191.9 161.6h0.8M183.8 178.3h0.8M186.5 183.6h0.8M191.2 155.9h0.8M192.3 158.2h0.8M186.9 159.3h0.8M189 155.2h0.8M190.9 178.1h0.8M184.1 173h0.8M192.2 170.4h0.8M191.4 159.7h0.8M186.4 165.8h0.8M182.6 178.9h0.8M189.5 179.9h0.8M191.2 152.7h0.8" stroke="#5560ff" stroke-opacity="0.68" stroke-width="0.8" fill="none"/>
<path d="M189 174.4h0.8M187.1 166.5h0.8M187.6 176h0.8M188 176h0.8M188.6 179.1h0.8M188.3 168.6h0.8M189 178h0.8M191.3 167.2h0.8M189.1 179.2h0.8M190.7 160.6h0.8M187.2 176h0.8M191 166.8h0.8M186 175.8h0.8M185.7 173h0.8M189.3 163h0.8M189.6 159.6h0.8M185.4 176.3h0.8M185.2 179.3h0.8M185 178.5h0.8M189.5 173.5h0.8M185.1 179.4h0.8M185.6 175.1h0.8M186.1 179h0.8M189.5 176.6h0.8M190.7 168.5h0.8M189.3 179h0.8M186 176.5h0.8M189.7 167.9h0.8M189.9 161.5h0.8M184.7 177h0.8M188.7 178.5h0.8M187.1 177.1h0.8M191.1 174.8h0.8M189.8 168.4h0.8M188.1 174.7h0.8" stroke="#3d55ff" stroke-opacity="0.72" stroke-width="0.8" fill="none"/>
<rect x="175.9" y="141.7" width="21.5" height="45.7" fill="none" stroke="#555" stroke-width="0.6"/>
<line x1="197.4" y1="141.7" x2="197.4" y2="187.4" stroke="#111" stroke-width="1"/>
<text x="122" y="115.4" font-size="7.2" font-weight="bold" text-anchor="start" fill="#151515" stroke="#151515" stroke-width="0.3">PDL1-MC2-TCR-T <tspan dy="-2.8" font-size="4.6">PD1-</tspan></text>
<text x="105.8" y="209" font-size="7.8" font-weight="bold" text-anchor="middle" fill="#151515" stroke="#151515" stroke-width="0.3">CFSE</text>
<text transform="translate(204 9.6) scale(0.84 1)" font-size="13" font-weight="bold" fill="#0a0a0a" stroke="#0a0a0a" stroke-width="0.3">B</text>
<line x1="249.45" y1="142.84" x2="249.45" y2="147.66" stroke="#000" stroke-width="1.15"/>
<line x1="247.55" y1="143.42" x2="251.35" y2="143.42" stroke="#000" stroke-width="1.15"/>
<rect x="244.7" y="147.81" width="9.5" height="6.59" fill="#ffffff" stroke="#000" stroke-width="1.3"/>
<line x1="266.5" y1="140.68" x2="266.5" y2="145.63" stroke="#000" stroke-width="1.15"/>
<line x1="264.6" y1="141.26" x2="268.4" y2="141.26" stroke="#000" stroke-width="1.15"/>
<rect x="261.75" y="145.78" width="9.5" height="8.62" fill="#000000" stroke="#000" stroke-width="1.3"/>
<line x1="293.8" y1="60.93" x2="293.8" y2="64.09" stroke="#000" stroke-width="1.15"/>
<line x1="291.9" y1="61.5" x2="295.7" y2="61.5" stroke="#000" stroke-width="1.15"/>
<rect x="289.05" y="64.25" width="9.5" height="90.16" fill="#ffffff" stroke="#000" stroke-width="1.3"/>
<text x="293.8" y="59.03" font-size="5.8" font-weight="bold" text-anchor="middle" fill="#1c1c1c" stroke="#1c1c1c" stroke-width="0.3">c</text>
<line x1="310.85" y1="42.26" x2="310.85" y2="47.46" stroke="#000" stroke-width="1.15"/>
<line x1="308.95" y1="42.83" x2="312.75" y2="42.83" stroke="#000" stroke-width="1.15"/>
<rect x="306.1" y="47.61" width="9.5" height="106.79" fill="#000000" stroke="#000" stroke-width="1.3"/>
<text x="310.85" y="40.36" font-size="5.8" font-weight="bold" text-anchor="middle" fill="#1c1c1c" stroke="#1c1c1c" stroke-width="0.3">b</text>
<line x1="338.3" y1="39.08" x2="338.3" y2="45.05" stroke="#000" stroke-width="1.15"/>
<line x1="336.4" y1="39.66" x2="340.2" y2="39.66" stroke="#000" stroke-width="1.15"/>
<rect x="333.55" y="45.2" width="9.5" height="109.2" fill="#ffffff" stroke="#000" stroke-width="1.3"/>
<text x="338.3" y="37.18" font-size="5.8" font-weight="bold" text-anchor="middle" fill="#1c1c1c" stroke="#1c1c1c" stroke-width="0.3">b</text>
<line x1="355.2" y1="32.73" x2="355.2" y2="33.74" stroke="#000" stroke-width="1.15"/>
<line x1="353.3" y1="33.31" x2="357.1" y2="33.31" stroke="#000" stroke-width="1.15"/>
<rect x="350.45" y="33.89" width="9.5" height="120.51" fill="#000000" stroke="#000" stroke-width="1.3"/>
<text x="355.2" y="30.83" font-size="5.8" font-weight="bold" text-anchor="middle" fill="#1c1c1c" stroke="#1c1c1c" stroke-width="0.3">a</text>
<line x1="238.7" y1="26.5" x2="238.7" y2="155.3" stroke="#000" stroke-width="1.8"/>
<line x1="237.8" y1="154.4" x2="367.6" y2="154.4" stroke="#000" stroke-width="1.8"/>
<line x1="234.3" y1="154.4" x2="238.7" y2="154.4" stroke="#000" stroke-width="1.8"/>
<text x="232.7" y="157.5" font-size="8.6" font-weight="bold" text-anchor="end" fill="#151515" stroke="#151515" stroke-width="0.3">0</text>
<line x1="234.3" y1="129" x2="238.7" y2="129" stroke="#000" stroke-width="1.8"/>
<text x="232.7" y="132.1" font-size="8.6" font-weight="bold" text-anchor="end" fill="#151515" stroke="#151515" stroke-width="0.3">20</text>
<line x1="234.3" y1="103.6" x2="238.7" y2="103.6" stroke="#000" stroke-width="1.8"/>
<text x="232.7" y="106.7" font-size="8.6" font-weight="bold" text-anchor="end" fill="#151515" stroke="#151515" stroke-width="0.3">40</text>
<line x1="234.3" y1="78.2" x2="238.7" y2="78.2" stroke="#000" stroke-width="1.8"/>
<text x="232.7" y="81.3" font-size="8.6" font-weight="bold" text-anchor="end" fill="#151515" stroke="#151515" stroke-width="0.3">60</text>
<line x1="234.3" y1="52.8" x2="238.7" y2="52.8" stroke="#000" stroke-width="1.8"/>
<text x="232.7" y="55.9" font-size="8.6" font-weight="bold" text-anchor="end" fill="#151515" stroke="#151515" stroke-width="0.3">80</text>
<line x1="234.3" y1="27.4" x2="238.7" y2="27.4" stroke="#000" stroke-width="1.8"/>
<text x="232.7" y="30.5" font-size="8.6" font-weight="bold" text-anchor="end" fill="#151515" stroke="#151515" stroke-width="0.3">100</text>
<line x1="258" y1="154.4" x2="258" y2="157.1" stroke="#000" stroke-width="1.8"/>
<line x1="302.3" y1="154.4" x2="302.3" y2="157.1" stroke="#000" stroke-width="1.8"/>
<line x1="346.7" y1="154.4" x2="346.7" y2="157.1" stroke="#000" stroke-width="1.8"/>
<text x="216.9" y="81.8" font-size="9" font-weight="bold" text-anchor="middle" fill="#151515" transform="rotate(-90 216.9 81.8)" stroke="#151515" stroke-width="0.3">Killing Percentage</text>
<rect x="241.8" y="26.9" width="8.6" height="3.6" fill="#fff" stroke="#000" stroke-width="1"/>
<text x="256.6" y="31.8" font-size="8" font-weight="bold" text-anchor="start" fill="#151515" stroke="#151515" stroke-width="0.3">1:1</text>
<rect x="241.8" y="34.3" width="8.6" height="3.6" fill="#000" stroke="#000" stroke-width="1"/>
<text x="256.6" y="39.3" font-size="8" font-weight="bold" text-anchor="start" fill="#151515" stroke="#151515" stroke-width="0.3">2:1</text>
<text x="262.6" y="161.4" font-size="8.2" font-weight="bold" text-anchor="end" fill="#151515" transform="rotate(-40 262.6 161.4)" stroke="#151515" stroke-width="0.3">C-TCR-T</text>
<text x="310.5" y="161.4" font-size="8.2" font-weight="bold" text-anchor="end" fill="#151515" transform="rotate(-40 310.5 161.4)" stroke="#151515" stroke-width="0.3">MC2-TCR-T<tspan dy="-3.12" font-size="5.6">PD1-</tspan></text>
<text x="354.9" y="161.4" font-size="8.2" font-weight="bold" text-anchor="end" fill="#151515" transform="rotate(-40 354.9 161.4)" stroke="#151515" stroke-width="0.3">PDL1-MC2-TCR-T<tspan dy="-3.12" font-size="5.6">PD1-</tspan></text>
<text transform="translate(383 9.6) scale(0.84 1)" font-size="13" font-weight="bold" fill="#0a0a0a" stroke="#0a0a0a" stroke-width="0.3">C</text>
<line x1="424.4" y1="143.66" x2="424.4" y2="146.83" stroke="#000" stroke-width="1.15"/>
<line x1="422.5" y1="144.24" x2="426.3" y2="144.24" stroke="#000" stroke-width="1.15"/>
<rect x="418.15" y="146.78" width="12.5" height="6.52" fill="#000000" stroke="#000" stroke-width="0.9"/>
<text x="424.4" y="141.76" font-size="6.5" font-weight="normal" text-anchor="middle" fill="#1c1c1c" stroke="#1c1c1c" stroke-width="0.12">c</text>
<line x1="448.8" y1="148.86" x2="448.8" y2="152.66" stroke="#000" stroke-width="1.15"/>
<line x1="446.9" y1="149.44" x2="450.7" y2="149.44" stroke="#000" stroke-width="1.15"/>
<rect x="442.55" y="152.61" width="12.5" height="0.69" fill="#000000" stroke="#000" stroke-width="0.9"/>
<text x="448.8" y="146.96" font-size="6.5" font-weight="normal" text-anchor="middle" fill="#1c1c1c" stroke="#1c1c1c" stroke-width="0.12">c</text>
<line x1="473.45" y1="145.18" x2="473.45" y2="148.47" stroke="#000" stroke-width="1.15"/>
<line x1="471.55" y1="145.76" x2="475.35" y2="145.76" stroke="#000" stroke-width="1.15"/>
<rect x="467.2" y="148.42" width="12.5" height="4.88" fill="#000000" stroke="#000" stroke-width="0.9"/>
<text x="473.45" y="143.28" font-size="6.5" font-weight="normal" text-anchor="middle" fill="#1c1c1c" stroke="#1c1c1c" stroke-width="0.12">c</text>
<line x1="497.65" y1="140.11" x2="497.65" y2="145.05" stroke="#000" stroke-width="1.15"/>
<line x1="495.75" y1="140.69" x2="499.55" y2="140.69" stroke="#000" stroke-width="1.15"/>
<rect x="491.4" y="145" width="12.5" height="8.3" fill="#000000" stroke="#000" stroke-width="0.9"/>
<text x="497.65" y="138.21" font-size="6.5" font-weight="normal" text-anchor="middle" fill="#1c1c1c" stroke="#1c1c1c" stroke-width="0.12">c</text>
<line x1="522.3" y1="128.19" x2="522.3" y2="137.32" stroke="#000" stroke-width="1.15"/>
<line x1="520.4" y1="128.77" x2="524.2" y2="128.77" stroke="#000" stroke-width="1.15"/>
<rect x="516.05" y="137.27" width="12.5" height="16.03" fill="#000000" stroke="#000" stroke-width="0.9"/>
<text x="522.3" y="126.29" font-size="6.5" font-weight="normal" text-anchor="middle" fill="#1c1c1c" stroke="#1c1c1c" stroke-width="0.12">c</text>
<line x1="546.5" y1="133.39" x2="546.5" y2="136.3" stroke="#000" stroke-width="1.15"/>
<line x1="544.6" y1="133.97" x2="548.4" y2="133.97" stroke="#000" stroke-width="1.15"/>
<rect x="540.25" y="136.25" width="12.5" height="17.05" fill="#000000" stroke="#000" stroke-width="0.9"/>
<text x="546.5" y="131.49" font-size="6.5" font-weight="normal" text-anchor="middle" fill="#1c1c1c" stroke="#1c1c1c" stroke-width="0.12">c</text>
<line x1="571.2" y1="73.16" x2="571.2" y2="84.57" stroke="#000" stroke-width="1.15"/>
<line x1="569.3" y1="73.74" x2="573.1" y2="73.74" stroke="#000" stroke-width="1.15"/>
<rect x="564.95" y="84.52" width="12.5" height="68.78" fill="#000000" stroke="#000" stroke-width="0.9"/>
<text x="571.2" y="71.26" font-size="6.5" font-weight="normal" text-anchor="middle" fill="#1c1c1c" stroke="#1c1c1c" stroke-width="0.12">b</text>
<line x1="595.65" y1="63.4" x2="595.65" y2="70.11" stroke="#000" stroke-width="1.15"/>
<line x1="593.75" y1="63.97" x2="597.55" y2="63.97" stroke="#000" stroke-width="1.15"/>
<rect x="589.4" y="70.06" width="12.5" height="83.24" fill="#000000" stroke="#000" stroke-width="0.9"/>
<text x="595.65" y="61.5" font-size="6.5" font-weight="normal" text-anchor="middle" fill="#1c1c1c" stroke="#1c1c1c" stroke-width="0.12">b</text>
<line x1="620" y1="49.7" x2="620" y2="65.55" stroke="#000" stroke-width="1.15"/>
<line x1="618.1" y1="50.28" x2="621.9" y2="50.28" stroke="#000" stroke-width="1.15"/>
<rect x="613.75" y="65.5" width="12.5" height="87.8" fill="#000000" stroke="#000" stroke-width="0.9"/>
<text x="620" y="47.8" font-size="6.5" font-weight="normal" text-anchor="middle" fill="#1c1c1c" stroke="#1c1c1c" stroke-width="0.12">b</text>
<line x1="644.6" y1="34.23" x2="644.6" y2="42.6" stroke="#000" stroke-width="1.15"/>
<line x1="642.7" y1="34.81" x2="646.5" y2="34.81" stroke="#000" stroke-width="1.15"/>
<rect x="638.35" y="42.55" width="12.5" height="110.75" fill="#000000" stroke="#000" stroke-width="0.9"/>
<text x="644.6" y="32.33" font-size="6.5" font-weight="normal" text-anchor="middle" fill="#1c1c1c" stroke="#1c1c1c" stroke-width="0.12">a</text>
<line x1="410.8" y1="25.6" x2="410.8" y2="154.2" stroke="#000" stroke-width="1.8"/>
<line x1="409.9" y1="153.3" x2="659" y2="153.3" stroke="#000" stroke-width="1.8"/>
<line x1="406.4" y1="153.3" x2="410.8" y2="153.3" stroke="#000" stroke-width="1.8"/>
<text x="404.8" y="156.22" font-size="8.1" font-weight="bold" text-anchor="end" fill="#151515" stroke="#151515" stroke-width="0.3">0</text>
<line x1="406.4" y1="127.94" x2="410.8" y2="127.94" stroke="#000" stroke-width="1.8"/>
<text x="404.8" y="130.86" font-size="8.1" font-weight="bold" text-anchor="end" fill="#151515" stroke="#151515" stroke-width="0.3">20</text>
<line x1="406.4" y1="102.58" x2="410.8" y2="102.58" stroke="#000" stroke-width="1.8"/>
<text x="404.8" y="105.5" font-size="8.1" font-weight="bold" text-anchor="end" fill="#151515" stroke="#151515" stroke-width="0.3">40</text>
<line x1="406.4" y1="77.22" x2="410.8" y2="77.22" stroke="#000" stroke-width="1.8"/>
<text x="404.8" y="80.14" font-size="8.1" font-weight="bold" text-anchor="end" fill="#151515" stroke="#151515" stroke-width="0.3">60</text>
<line x1="406.4" y1="51.86" x2="410.8" y2="51.86" stroke="#000" stroke-width="1.8"/>
<text x="404.8" y="54.78" font-size="8.1" font-weight="bold" text-anchor="end" fill="#151515" stroke="#151515" stroke-width="0.3">80</text>
<line x1="406.4" y1="26.5" x2="410.8" y2="26.5" stroke="#000" stroke-width="1.8"/>
<text x="404.8" y="29.42" font-size="8.1" font-weight="bold" text-anchor="end" fill="#151515" stroke="#151515" stroke-width="0.3">100</text>
<line x1="424.4" y1="153.3" x2="424.4" y2="156" stroke="#000" stroke-width="1.8"/>
<line x1="448.8" y1="153.3" x2="448.8" y2="156" stroke="#000" stroke-width="1.8"/>
<line x1="473.45" y1="153.3" x2="473.45" y2="156" stroke="#000" stroke-width="1.8"/>
<line x1="497.65" y1="153.3" x2="497.65" y2="156" stroke="#000" stroke-width="1.8"/>
<line x1="522.3" y1="153.3" x2="522.3" y2="156" stroke="#000" stroke-width="1.8"/>
<line x1="546.5" y1="153.3" x2="546.5" y2="156" stroke="#000" stroke-width="1.8"/>
<line x1="571.2" y1="153.3" x2="571.2" y2="156" stroke="#000" stroke-width="1.8"/>
<line x1="595.65" y1="153.3" x2="595.65" y2="156" stroke="#000" stroke-width="1.8"/>
<line x1="620" y1="153.3" x2="620" y2="156" stroke="#000" stroke-width="1.8"/>
<line x1="644.6" y1="153.3" x2="644.6" y2="156" stroke="#000" stroke-width="1.8"/>
<text x="389.4" y="82" font-size="9" font-weight="bold" text-anchor="middle" fill="#151515" transform="rotate(-90 389.4 82)" stroke="#151515" stroke-width="0.3">Killing Percentage</text>
<text x="428.6" y="160.2" font-size="7.9" font-weight="bold" text-anchor="end" fill="#151515" transform="rotate(-40 428.6 160.2)" stroke="#151515" stroke-width="0.3">T</text>
<text x="453" y="160.2" font-size="7.9" font-weight="bold" text-anchor="end" fill="#151515" transform="rotate(-40 453 160.2)" stroke="#151515" stroke-width="0.3">PDL1-T</text>
<text x="477.65" y="160.2" font-size="7.9" font-weight="bold" text-anchor="end" fill="#151515" transform="rotate(-40 477.65 160.2)" stroke="#151515" stroke-width="0.3">C-TCR-T</text>
<text x="501.85" y="160.2" font-size="7.9" font-weight="bold" text-anchor="end" fill="#151515" transform="rotate(-40 501.85 160.2)" stroke="#151515" stroke-width="0.3">PDL1-MC2-TCR-T</text>
<text x="528" y="160.2" font-size="7.9" font-weight="bold" text-anchor="end" fill="#151515" transform="rotate(-40 528 160.2)" stroke="#151515" stroke-width="0.3">T<tspan dy="-3" font-size="5.3">PD1-</tspan></text>
<text x="552.2" y="160.2" font-size="7.9" font-weight="bold" text-anchor="end" fill="#151515" transform="rotate(-40 552.2 160.2)" stroke="#151515" stroke-width="0.3">PDL1-T-T<tspan dy="-3" font-size="5.3">PD1-</tspan></text>
<text x="575.4" y="160.2" font-size="7.9" font-weight="bold" text-anchor="end" fill="#151515" transform="rotate(-40 575.4 160.2)" stroke="#151515" stroke-width="0.3">MC2-TCR-T</text>
<text x="599.85" y="160.2" font-size="7.9" font-weight="bold" text-anchor="end" fill="#151515" transform="rotate(-40 599.85 160.2)" stroke="#151515" stroke-width="0.3">MC2-TCR-T+Nivo</text>
<text x="625.7" y="160.2" font-size="7.9" font-weight="bold" text-anchor="end" fill="#151515" transform="rotate(-40 625.7 160.2)" stroke="#151515" stroke-width="0.3">MC2-TCR-T<tspan dy="-3" font-size="5.3">PD1-</tspan></text>
<text x="650.3" y="160.2" font-size="7.9" font-weight="bold" text-anchor="end" fill="#151515" transform="rotate(-40 650.3 160.2)" stroke="#151515" stroke-width="0.3">PDL1-MC2-TCR-T<tspan dy="-3" font-size="5.3">PD1-</tspan></text>
<text transform="translate(0.5 239.1) scale(0.88 1)" font-size="12.4" font-weight="bold" fill="#0a0a0a" stroke="#0a0a0a" stroke-width="0.3">D</text>
<line x1="45.4" y1="379.69" x2="45.4" y2="383.03" stroke="#000" stroke-width="1.15"/>
<line x1="43.7" y1="380.26" x2="47.1" y2="380.26" stroke="#000" stroke-width="1.15"/>
<rect x="42.45" y="382.98" width="5.9" height="10.12" fill="#ffffff" stroke="#000" stroke-width="0.9"/>
<line x1="54.4" y1="380.77" x2="54.4" y2="382.49" stroke="#000" stroke-width="1.15"/>
<line x1="52.7" y1="381.34" x2="56.1" y2="381.34" stroke="#000" stroke-width="1.15"/>
<rect x="51.45" y="382.44" width="5.9" height="10.66" fill="url(#hatch)" stroke="#000" stroke-width="0.9"/>
<line x1="63.4" y1="380.77" x2="63.4" y2="383.3" stroke="#000" stroke-width="1.15"/>
<line x1="61.7" y1="381.34" x2="65.1" y2="381.34" stroke="#000" stroke-width="1.15"/>
<rect x="60.45" y="383.25" width="5.9" height="9.85" fill="#d6d6d6" stroke="#000" stroke-width="0.9"/>
<line x1="72.4" y1="381.58" x2="72.4" y2="383.3" stroke="#000" stroke-width="1.15"/>
<line x1="70.7" y1="382.16" x2="74.1" y2="382.16" stroke="#000" stroke-width="1.15"/>
<rect x="69.45" y="383.25" width="5.9" height="9.85" fill="#6b6b6b" stroke="#000" stroke-width="0.9"/>
<line x1="81.4" y1="381.58" x2="81.4" y2="384.66" stroke="#000" stroke-width="1.15"/>
<line x1="79.7" y1="382.16" x2="83.1" y2="382.16" stroke="#000" stroke-width="1.15"/>
<rect x="78.45" y="384.61" width="5.9" height="8.49" fill="#000000" stroke="#000" stroke-width="0.9"/>
<line x1="100.3" y1="379.01" x2="100.3" y2="382.08" stroke="#000" stroke-width="1.15"/>
<line x1="98.6" y1="379.58" x2="102" y2="379.58" stroke="#000" stroke-width="1.15"/>
<rect x="97.35" y="382.03" width="5.9" height="11.07" fill="#ffffff" stroke="#000" stroke-width="0.9"/>
<text x="100.3" y="377.11" font-size="6.9" font-weight="normal" text-anchor="middle" fill="#1c1c1c" stroke="#1c1c1c" stroke-width="0.12">d</text>
<line x1="109.3" y1="376.84" x2="109.3" y2="380.73" stroke="#000" stroke-width="1.15"/>
<line x1="107.6" y1="377.42" x2="111" y2="377.42" stroke="#000" stroke-width="1.15"/>
<rect x="106.35" y="380.68" width="5.9" height="12.42" fill="url(#hatch)" stroke="#000" stroke-width="0.9"/>
<text x="109.3" y="374.94" font-size="6.9" font-weight="normal" text-anchor="middle" fill="#1c1c1c" stroke="#1c1c1c" stroke-width="0.12">d</text>
<line x1="118.3" y1="332.26" x2="118.3" y2="336.69" stroke="#000" stroke-width="1.15"/>
<line x1="116.6" y1="332.84" x2="120" y2="332.84" stroke="#000" stroke-width="1.15"/>
<rect x="115.35" y="336.64" width="5.9" height="56.46" fill="#d6d6d6" stroke="#000" stroke-width="0.9"/>
<text x="118.3" y="330.36" font-size="6.9" font-weight="normal" text-anchor="middle" fill="#1c1c1c" stroke="#1c1c1c" stroke-width="0.12">c</text>
<line x1="127.3" y1="313.29" x2="127.3" y2="316.91" stroke="#000" stroke-width="1.15"/>
<line x1="125.6" y1="313.87" x2="129" y2="313.87" stroke="#000" stroke-width="1.15"/>
<rect x="124.35" y="316.86" width="5.9" height="76.24" fill="#6b6b6b" stroke="#000" stroke-width="0.9"/>
<text x="127.3" y="311.39" font-size="6.9" font-weight="normal" text-anchor="middle" fill="#1c1c1c" stroke="#1c1c1c" stroke-width="0.12">b</text>
<line x1="136.3" y1="281.45" x2="136.3" y2="287.64" stroke="#000" stroke-width="1.15"/>
<line x1="134.6" y1="282.02" x2="138" y2="282.02" stroke="#000" stroke-width="1.15"/>
<rect x="133.35" y="287.59" width="5.9" height="105.51" fill="#000000" stroke="#000" stroke-width="0.9"/>
<text x="136.3" y="279.55" font-size="6.9" font-weight="normal" text-anchor="middle" fill="#1c1c1c" stroke="#1c1c1c" stroke-width="0.12">a</text>
<line x1="155.3" y1="380.77" x2="155.3" y2="383.3" stroke="#000" stroke-width="1.15"/>
<line x1="153.6" y1="381.34" x2="157" y2="381.34" stroke="#000" stroke-width="1.15"/>
<rect x="152.35" y="383.25" width="5.9" height="9.85" fill="#ffffff" stroke="#000" stroke-width="0.9"/>
<text x="155.3" y="378.87" font-size="6.9" font-weight="normal" text-anchor="middle" fill="#1c1c1c" stroke="#1c1c1c" stroke-width="0.12">d</text>
<line x1="164.3" y1="378.47" x2="164.3" y2="381.54" stroke="#000" stroke-width="1.15"/>
<line x1="162.6" y1="379.04" x2="166" y2="379.04" stroke="#000" stroke-width="1.15"/>
<rect x="161.35" y="381.49" width="5.9" height="11.61" fill="url(#hatch)" stroke="#000" stroke-width="0.9"/>
<text x="164.3" y="376.57" font-size="6.9" font-weight="normal" text-anchor="middle" fill="#1c1c1c" stroke="#1c1c1c" stroke-width="0.12">d</text>
<line x1="173.3" y1="322.78" x2="173.3" y2="327.61" stroke="#000" stroke-width="1.15"/>
<line x1="171.6" y1="323.35" x2="175" y2="323.35" stroke="#000" stroke-width="1.15"/>
<rect x="170.35" y="327.56" width="5.9" height="65.54" fill="#d6d6d6" stroke="#000" stroke-width="0.9"/>
<text x="173.3" y="320.88" font-size="6.9" font-weight="normal" text-anchor="middle" fill="#1c1c1c" stroke="#1c1c1c" stroke-width="0.12">c</text>
<line x1="182.3" y1="305.84" x2="182.3" y2="310.95" stroke="#000" stroke-width="1.15"/>
<line x1="180.6" y1="306.41" x2="184" y2="306.41" stroke="#000" stroke-width="1.15"/>
<rect x="179.35" y="310.9" width="5.9" height="82.2" fill="#6b6b6b" stroke="#000" stroke-width="0.9"/>
<text x="182.3" y="303.94" font-size="6.9" font-weight="normal" text-anchor="middle" fill="#1c1c1c" stroke="#1c1c1c" stroke-width="0.12">b</text>
<line x1="191.3" y1="290.93" x2="191.3" y2="297.4" stroke="#000" stroke-width="1.15"/>
<line x1="189.6" y1="291.51" x2="193" y2="291.51" stroke="#000" stroke-width="1.15"/>
<rect x="188.35" y="297.35" width="5.9" height="95.75" fill="#000000" stroke="#000" stroke-width="0.9"/>
<text x="191.3" y="289.03" font-size="6.9" font-weight="normal" text-anchor="middle" fill="#1c1c1c" stroke="#1c1c1c" stroke-width="0.12">a</text>
<line x1="210.2" y1="376.84" x2="210.2" y2="381.27" stroke="#000" stroke-width="1.15"/>
<line x1="208.5" y1="377.42" x2="211.9" y2="377.42" stroke="#000" stroke-width="1.15"/>
<rect x="207.25" y="381.22" width="5.9" height="11.88" fill="#ffffff" stroke="#000" stroke-width="0.9"/>
<text x="210.2" y="374.94" font-size="6.9" font-weight="normal" text-anchor="middle" fill="#1c1c1c" stroke="#1c1c1c" stroke-width="0.12">d</text>
<line x1="219.2" y1="376.84" x2="219.2" y2="379.51" stroke="#000" stroke-width="1.15"/>
<line x1="217.5" y1="377.42" x2="220.9" y2="377.42" stroke="#000" stroke-width="1.15"/>
<rect x="216.25" y="379.46" width="5.9" height="13.64" fill="url(#hatch)" stroke="#000" stroke-width="0.9"/>
<text x="219.2" y="374.94" font-size="6.9" font-weight="normal" text-anchor="middle" fill="#1c1c1c" stroke="#1c1c1c" stroke-width="0.12">d</text>
<line x1="228.2" y1="330.23" x2="228.2" y2="339.26" stroke="#000" stroke-width="1.15"/>
<line x1="226.5" y1="330.8" x2="229.9" y2="330.8" stroke="#000" stroke-width="1.15"/>
<rect x="225.25" y="339.21" width="5.9" height="53.89" fill="#d6d6d6" stroke="#000" stroke-width="0.9"/>
<text x="228.2" y="328.33" font-size="6.9" font-weight="normal" text-anchor="middle" fill="#1c1c1c" stroke="#1c1c1c" stroke-width="0.12">c</text>
<line x1="237.2" y1="311.8" x2="237.2" y2="319.21" stroke="#000" stroke-width="1.15"/>
<line x1="235.5" y1="312.38" x2="238.9" y2="312.38" stroke="#000" stroke-width="1.15"/>
<rect x="234.25" y="319.16" width="5.9" height="73.94" fill="#6b6b6b" stroke="#000" stroke-width="0.9"/>
<text x="237.2" y="309.9" font-size="6.9" font-weight="normal" text-anchor="middle" fill="#1c1c1c" stroke="#1c1c1c" stroke-width="0.12">b</text>
<line x1="246.2" y1="278.87" x2="246.2" y2="283.98" stroke="#000" stroke-width="1.15"/>
<line x1="244.5" y1="279.45" x2="247.9" y2="279.45" stroke="#000" stroke-width="1.15"/>
<rect x="243.25" y="283.93" width="5.9" height="109.17" fill="#000000" stroke="#000" stroke-width="0.9"/>
<text x="246.2" y="276.97" font-size="6.9" font-weight="normal" text-anchor="middle" fill="#1c1c1c" stroke="#1c1c1c" stroke-width="0.12">a</text>
<line x1="265.1" y1="379.69" x2="265.1" y2="382.08" stroke="#000" stroke-width="1.15"/>
<line x1="263.4" y1="380.26" x2="266.8" y2="380.26" stroke="#000" stroke-width="1.15"/>
<rect x="262.15" y="382.03" width="5.9" height="11.07" fill="#ffffff" stroke="#000" stroke-width="0.9"/>
<text x="265.1" y="377.79" font-size="6.9" font-weight="normal" text-anchor="middle" fill="#1c1c1c" stroke="#1c1c1c" stroke-width="0.12">d</text>
<line x1="274.1" y1="375.62" x2="274.1" y2="380.73" stroke="#000" stroke-width="1.15"/>
<line x1="272.4" y1="376.2" x2="275.8" y2="376.2" stroke="#000" stroke-width="1.15"/>
<rect x="271.15" y="380.68" width="5.9" height="12.42" fill="url(#hatch)" stroke="#000" stroke-width="0.9"/>
<text x="274.1" y="373.72" font-size="6.9" font-weight="normal" text-anchor="middle" fill="#1c1c1c" stroke="#1c1c1c" stroke-width="0.12">d</text>
<line x1="283.1" y1="343.51" x2="283.1" y2="348.89" stroke="#000" stroke-width="1.15"/>
<line x1="281.4" y1="344.08" x2="284.8" y2="344.08" stroke="#000" stroke-width="1.15"/>
<rect x="280.15" y="348.84" width="5.9" height="44.26" fill="#d6d6d6" stroke="#000" stroke-width="0.9"/>
<text x="283.1" y="341.61" font-size="6.9" font-weight="normal" text-anchor="middle" fill="#1c1c1c" stroke="#1c1c1c" stroke-width="0.12">c</text>
<line x1="292.1" y1="321.69" x2="292.1" y2="327.61" stroke="#000" stroke-width="1.15"/>
<line x1="290.4" y1="322.27" x2="293.8" y2="322.27" stroke="#000" stroke-width="1.15"/>
<rect x="289.15" y="327.56" width="5.9" height="65.54" fill="#6b6b6b" stroke="#000" stroke-width="0.9"/>
<text x="292.1" y="319.79" font-size="6.9" font-weight="normal" text-anchor="middle" fill="#1c1c1c" stroke="#1c1c1c" stroke-width="0.12">b</text>
<line x1="301.1" y1="281.99" x2="301.1" y2="294.82" stroke="#000" stroke-width="1.15"/>
<line x1="299.4" y1="282.56" x2="302.8" y2="282.56" stroke="#000" stroke-width="1.15"/>
<rect x="298.15" y="294.77" width="5.9" height="98.33" fill="#000000" stroke="#000" stroke-width="0.9"/>
<text x="301.1" y="280.09" font-size="6.9" font-weight="normal" text-anchor="middle" fill="#1c1c1c" stroke="#1c1c1c" stroke-width="0.12">a</text>
<line x1="38" y1="256.7" x2="38" y2="394" stroke="#000" stroke-width="1.8"/>
<line x1="37.1" y1="393.1" x2="309.2" y2="393.1" stroke="#000" stroke-width="1.8"/>
<line x1="33.6" y1="393.1" x2="38" y2="393.1" stroke="#000" stroke-width="1.8"/>
<text x="32" y="396.34" font-size="9" font-weight="bold" text-anchor="end" fill="#151515" stroke="#151515" stroke-width="0.3">0</text>
<line x1="33.6" y1="366" x2="38" y2="366" stroke="#000" stroke-width="1.8"/>
<text x="32" y="369.24" font-size="9" font-weight="bold" text-anchor="end" fill="#151515" stroke="#151515" stroke-width="0.3">20</text>
<line x1="33.6" y1="338.9" x2="38" y2="338.9" stroke="#000" stroke-width="1.8"/>
<text x="32" y="342.14" font-size="9" font-weight="bold" text-anchor="end" fill="#151515" stroke="#151515" stroke-width="0.3">40</text>
<line x1="33.6" y1="311.8" x2="38" y2="311.8" stroke="#000" stroke-width="1.8"/>
<text x="32" y="315.04" font-size="9" font-weight="bold" text-anchor="end" fill="#151515" stroke="#151515" stroke-width="0.3">60</text>
<line x1="33.6" y1="284.7" x2="38" y2="284.7" stroke="#000" stroke-width="1.8"/>
<text x="32" y="287.94" font-size="9" font-weight="bold" text-anchor="end" fill="#151515" stroke="#151515" stroke-width="0.3">80</text>
<line x1="33.6" y1="257.6" x2="38" y2="257.6" stroke="#000" stroke-width="1.8"/>
<text x="32" y="260.84" font-size="9" font-weight="bold" text-anchor="end" fill="#151515" stroke="#151515" stroke-width="0.3">100</text>
<line x1="63.4" y1="393.1" x2="63.4" y2="395.8" stroke="#000" stroke-width="1.8"/>
<line x1="118.3" y1="393.1" x2="118.3" y2="395.8" stroke="#000" stroke-width="1.8"/>
<line x1="173.3" y1="393.1" x2="173.3" y2="395.8" stroke="#000" stroke-width="1.8"/>
<line x1="228.2" y1="393.1" x2="228.2" y2="395.8" stroke="#000" stroke-width="1.8"/>
<line x1="283.1" y1="393.1" x2="283.1" y2="395.8" stroke="#000" stroke-width="1.8"/>
<text x="14.9" y="319.9" font-size="8.15" font-weight="bold" text-anchor="middle" fill="#151515" transform="rotate(-90 14.9 319.9)" stroke="#151515" stroke-width="0.3">Killing Percentage</text>
<rect x="44.4" y="242.3" width="8.5" height="3.8" fill="#ffffff" stroke="#000" stroke-width="0.9"/>
<text x="59.8" y="246.9" font-size="8.05" font-weight="bold" text-anchor="start" fill="#151515" stroke="#151515" stroke-width="0.3">C-TCR-T</text>
<rect x="44.4" y="252" width="8.5" height="3.8" fill="#6b6b6b" stroke="#000" stroke-width="0.9"/>
<text x="59.8" y="256.8" font-size="8.05" font-weight="bold" text-anchor="start" fill="#151515" stroke="#151515" stroke-width="0.3">MC2-TCR-T<tspan dy="-3" font-size="5.9">PD1-</tspan></text>
<rect x="124.4" y="242.3" width="8.9" height="3.8" fill="url(#hatch)" stroke="#000" stroke-width="0.9"/>
<text x="139.9" y="246.9" font-size="8.05" font-weight="bold" text-anchor="start" fill="#151515" stroke="#151515" stroke-width="0.3">PDL1-MC2-TCR-T</text>
<rect x="124.4" y="252" width="8.9" height="3.8" fill="#000000" stroke="#000" stroke-width="0.9"/>
<text x="139.9" y="256.8" font-size="8.05" font-weight="bold" text-anchor="start" fill="#151515" stroke="#151515" stroke-width="0.3">PDL1-MC2-TCR-T<tspan dy="-3" font-size="5.9">PD1-</tspan></text>
<rect x="225.4" y="242.3" width="8.9" height="3.8" fill="#d6d6d6" stroke="#000" stroke-width="0.9"/>
<text x="240.5" y="246.9" font-size="8.05" font-weight="bold" text-anchor="start" fill="#151515" stroke="#151515" stroke-width="0.3">MC2-TCR-T</text>
<text x="66.8" y="400.5" font-size="8" font-weight="bold" text-anchor="end" fill="#151515" transform="rotate(-41 66.8 400.5)" stroke="#151515" stroke-width="0.3">A02-K562</text>
<text x="128.3" y="400.5" font-size="8" font-weight="bold" text-anchor="end" fill="#151515" transform="rotate(-41 128.3 400.5)" stroke="#151515" stroke-width="0.3">MC2-A02-K562<tspan dy="-3.04" font-size="5.4">PD1+</tspan></text>
<text x="176.7" y="400.5" font-size="8" font-weight="bold" text-anchor="end" fill="#151515" transform="rotate(-41 176.7 400.5)" stroke="#151515" stroke-width="0.3">HH</text>
<text x="231.6" y="400.5" font-size="8" font-weight="bold" text-anchor="end" fill="#151515" transform="rotate(-41 231.6 400.5)" stroke="#151515" stroke-width="0.3">P1</text>
<text x="286.5" y="400.5" font-size="8" font-weight="bold" text-anchor="end" fill="#151515" transform="rotate(-41 286.5 400.5)" stroke="#151515" stroke-width="0.3">P2</text>
<text transform="translate(328.2 233.6) scale(0.82 1)" font-size="11" font-weight="bold" fill="#0a0a0a" stroke="#0a0a0a" stroke-width="0.3">E</text>
<line x1="358.85" y1="378.8" x2="358.85" y2="382.75" stroke="#000" stroke-width="1.15"/>
<line x1="357.15" y1="379.38" x2="360.55" y2="379.38" stroke="#000" stroke-width="1.15"/>
<rect x="356" y="382.7" width="5.7" height="9.9" fill="#ffffff" stroke="#000" stroke-width="0.9"/>
<line x1="367.8" y1="373.56" x2="367.8" y2="379.85" stroke="#000" stroke-width="1.15"/>
<line x1="366.1" y1="374.13" x2="369.5" y2="374.13" stroke="#000" stroke-width="1.15"/>
<rect x="364.95" y="379.8" width="5.7" height="12.8" fill="url(#hatch)" stroke="#000" stroke-width="0.9"/>
<line x1="376.75" y1="383.91" x2="376.75" y2="385.65" stroke="#000" stroke-width="1.15"/>
<line x1="375.05" y1="384.48" x2="378.45" y2="384.48" stroke="#000" stroke-width="1.15"/>
<rect x="373.9" y="385.6" width="5.7" height="7" fill="#d6d6d6" stroke="#000" stroke-width="0.9"/>
<line x1="385.7" y1="378.8" x2="385.7" y2="383.85" stroke="#000" stroke-width="1.15"/>
<line x1="384" y1="379.38" x2="387.4" y2="379.38" stroke="#000" stroke-width="1.15"/>
<rect x="382.85" y="383.8" width="5.7" height="8.8" fill="#6b6b6b" stroke="#000" stroke-width="0.9"/>
<line x1="394.65" y1="381.56" x2="394.65" y2="383.3" stroke="#000" stroke-width="1.15"/>
<line x1="392.95" y1="382.13" x2="396.35" y2="382.13" stroke="#000" stroke-width="1.15"/>
<rect x="391.8" y="383.25" width="5.7" height="9.35" fill="#000000" stroke="#000" stroke-width="0.9"/>
<line x1="412.7" y1="384.04" x2="412.7" y2="385.92" stroke="#000" stroke-width="1.15"/>
<line x1="411" y1="384.62" x2="414.4" y2="384.62" stroke="#000" stroke-width="1.15"/>
<rect x="409.85" y="385.87" width="5.7" height="6.73" fill="#ffffff" stroke="#000" stroke-width="0.9"/>
<text x="412.7" y="382.14" font-size="6.9" font-weight="normal" text-anchor="middle" fill="#1c1c1c" stroke="#1c1c1c" stroke-width="0.12">c</text>
<line x1="421.65" y1="376.18" x2="421.65" y2="382.47" stroke="#000" stroke-width="1.15"/>
<line x1="419.95" y1="376.75" x2="423.35" y2="376.75" stroke="#000" stroke-width="1.15"/>
<rect x="418.8" y="382.42" width="5.7" height="10.18" fill="url(#hatch)" stroke="#000" stroke-width="0.9"/>
<text x="421.65" y="374.28" font-size="6.9" font-weight="normal" text-anchor="middle" fill="#1c1c1c" stroke="#1c1c1c" stroke-width="0.12">c</text>
<line x1="430.6" y1="331.33" x2="430.6" y2="336.93" stroke="#000" stroke-width="1.15"/>
<line x1="428.9" y1="331.9" x2="432.3" y2="331.9" stroke="#000" stroke-width="1.15"/>
<rect x="427.75" y="336.88" width="5.7" height="55.72" fill="#d6d6d6" stroke="#000" stroke-width="0.9"/>
<text x="430.6" y="329.43" font-size="6.9" font-weight="normal" text-anchor="middle" fill="#1c1c1c" stroke="#1c1c1c" stroke-width="0.12">b</text>
<line x1="439.55" y1="305.52" x2="439.55" y2="314.72" stroke="#000" stroke-width="1.15"/>
<line x1="437.85" y1="306.1" x2="441.25" y2="306.1" stroke="#000" stroke-width="1.15"/>
<rect x="436.7" y="314.67" width="5.7" height="77.93" fill="#6b6b6b" stroke="#000" stroke-width="0.9"/>
<text x="439.55" y="303.62" font-size="6.9" font-weight="normal" text-anchor="middle" fill="#1c1c1c" stroke="#1c1c1c" stroke-width="0.12">a</text>
<line x1="448.5" y1="301.52" x2="448.5" y2="310.44" stroke="#000" stroke-width="1.15"/>
<line x1="446.8" y1="302.09" x2="450.2" y2="302.09" stroke="#000" stroke-width="1.15"/>
<rect x="445.65" y="310.39" width="5.7" height="82.21" fill="#000000" stroke="#000" stroke-width="0.9"/>
<text x="448.5" y="299.62" font-size="6.9" font-weight="normal" text-anchor="middle" fill="#1c1c1c" stroke="#1c1c1c" stroke-width="0.12">a</text>
<line x1="466.9" y1="381.42" x2="466.9" y2="383.85" stroke="#000" stroke-width="1.15"/>
<line x1="465.2" y1="382" x2="468.6" y2="382" stroke="#000" stroke-width="1.15"/>
<rect x="464.05" y="383.8" width="5.7" height="8.8" fill="#ffffff" stroke="#000" stroke-width="0.9"/>
<text x="466.9" y="379.52" font-size="6.9" font-weight="normal" text-anchor="middle" fill="#1c1c1c" stroke="#1c1c1c" stroke-width="0.12">c</text>
<line x1="475.85" y1="377.28" x2="475.85" y2="383.03" stroke="#000" stroke-width="1.15"/>
<line x1="474.15" y1="377.86" x2="477.55" y2="377.86" stroke="#000" stroke-width="1.15"/>
<rect x="473" y="382.98" width="5.7" height="9.62" fill="url(#hatch)" stroke="#000" stroke-width="0.9"/>
<text x="475.85" y="375.38" font-size="6.9" font-weight="normal" text-anchor="middle" fill="#1c1c1c" stroke="#1c1c1c" stroke-width="0.12">c</text>
<line x1="484.8" y1="327.46" x2="484.8" y2="330.03" stroke="#000" stroke-width="1.15"/>
<line x1="483.1" y1="328.04" x2="486.5" y2="328.04" stroke="#000" stroke-width="1.15"/>
<rect x="481.95" y="329.98" width="5.7" height="62.62" fill="#d6d6d6" stroke="#000" stroke-width="0.9"/>
<text x="484.8" y="325.56" font-size="6.9" font-weight="normal" text-anchor="middle" fill="#1c1c1c" stroke="#1c1c1c" stroke-width="0.12">b</text>
<line x1="493.75" y1="310.21" x2="493.75" y2="316.51" stroke="#000" stroke-width="1.15"/>
<line x1="492.05" y1="310.79" x2="495.45" y2="310.79" stroke="#000" stroke-width="1.15"/>
<rect x="490.9" y="316.46" width="5.7" height="76.14" fill="#6b6b6b" stroke="#000" stroke-width="0.9"/>
<text x="493.75" y="308.31" font-size="6.9" font-weight="normal" text-anchor="middle" fill="#1c1c1c" stroke="#1c1c1c" stroke-width="0.12">a</text>
<line x1="502.7" y1="311.73" x2="502.7" y2="318.86" stroke="#000" stroke-width="1.15"/>
<line x1="501" y1="312.31" x2="504.4" y2="312.31" stroke="#000" stroke-width="1.15"/>
<rect x="499.85" y="318.81" width="5.7" height="73.79" fill="#000000" stroke="#000" stroke-width="0.9"/>
<text x="502.7" y="309.83" font-size="6.9" font-weight="normal" text-anchor="middle" fill="#1c1c1c" stroke="#1c1c1c" stroke-width="0.12">a,b</text>
<line x1="521.7" y1="382.53" x2="521.7" y2="384.54" stroke="#000" stroke-width="1.15"/>
<line x1="520" y1="383.1" x2="523.4" y2="383.1" stroke="#000" stroke-width="1.15"/>
<rect x="518.85" y="384.49" width="5.7" height="8.11" fill="#ffffff" stroke="#000" stroke-width="0.9"/>
<text x="521.7" y="380.63" font-size="6.9" font-weight="normal" text-anchor="middle" fill="#1c1c1c" stroke="#1c1c1c" stroke-width="0.12">b</text>
<line x1="530.65" y1="381.84" x2="530.65" y2="383.44" stroke="#000" stroke-width="1.15"/>
<line x1="528.95" y1="382.41" x2="532.35" y2="382.41" stroke="#000" stroke-width="1.15"/>
<rect x="527.8" y="383.39" width="5.7" height="9.21" fill="url(#hatch)" stroke="#000" stroke-width="0.9"/>
<text x="530.65" y="379.94" font-size="6.9" font-weight="normal" text-anchor="middle" fill="#1c1c1c" stroke="#1c1c1c" stroke-width="0.12">b</text>
<line x1="539.6" y1="322.36" x2="539.6" y2="335.69" stroke="#000" stroke-width="1.15"/>
<line x1="537.9" y1="322.93" x2="541.3" y2="322.93" stroke="#000" stroke-width="1.15"/>
<rect x="536.75" y="335.64" width="5.7" height="56.96" fill="#d6d6d6" stroke="#000" stroke-width="0.9"/>
<text x="539.6" y="320.46" font-size="6.9" font-weight="normal" text-anchor="middle" fill="#1c1c1c" stroke="#1c1c1c" stroke-width="0.12">a</text>
<line x1="548.55" y1="324.29" x2="548.55" y2="329.07" stroke="#000" stroke-width="1.15"/>
<line x1="546.85" y1="324.87" x2="550.25" y2="324.87" stroke="#000" stroke-width="1.15"/>
<rect x="545.7" y="329.02" width="5.7" height="63.58" fill="#6b6b6b" stroke="#000" stroke-width="0.9"/>
<text x="548.55" y="322.39" font-size="6.9" font-weight="normal" text-anchor="middle" fill="#1c1c1c" stroke="#1c1c1c" stroke-width="0.12">a</text>
<line x1="557.5" y1="317.11" x2="557.5" y2="324.79" stroke="#000" stroke-width="1.15"/>
<line x1="555.8" y1="317.69" x2="559.2" y2="317.69" stroke="#000" stroke-width="1.15"/>
<rect x="554.65" y="324.74" width="5.7" height="67.86" fill="#000000" stroke="#000" stroke-width="0.9"/>
<text x="557.5" y="315.21" font-size="6.9" font-weight="normal" text-anchor="middle" fill="#1c1c1c" stroke="#1c1c1c" stroke-width="0.12">a</text>
<line x1="576.3" y1="380.59" x2="576.3" y2="383.03" stroke="#000" stroke-width="1.15"/>
<line x1="574.6" y1="381.17" x2="578" y2="381.17" stroke="#000" stroke-width="1.15"/>
<rect x="573.45" y="382.98" width="5.7" height="9.62" fill="#ffffff" stroke="#000" stroke-width="0.9"/>
<text x="576.3" y="378.69" font-size="6.9" font-weight="normal" text-anchor="middle" fill="#1c1c1c" stroke="#1c1c1c" stroke-width="0.12">c</text>
<line x1="585.25" y1="378.52" x2="585.25" y2="382.47" stroke="#000" stroke-width="1.15"/>
<line x1="583.55" y1="379.1" x2="586.95" y2="379.1" stroke="#000" stroke-width="1.15"/>
<rect x="582.4" y="382.42" width="5.7" height="10.18" fill="url(#hatch)" stroke="#000" stroke-width="0.9"/>
<text x="585.25" y="376.62" font-size="6.9" font-weight="normal" text-anchor="middle" fill="#1c1c1c" stroke="#1c1c1c" stroke-width="0.12">c</text>
<line x1="594.2" y1="322.91" x2="594.2" y2="330.17" stroke="#000" stroke-width="1.15"/>
<line x1="592.5" y1="323.49" x2="595.9" y2="323.49" stroke="#000" stroke-width="1.15"/>
<rect x="591.35" y="330.12" width="5.7" height="62.48" fill="#d6d6d6" stroke="#000" stroke-width="0.9"/>
<text x="594.2" y="321.01" font-size="6.9" font-weight="normal" text-anchor="middle" fill="#1c1c1c" stroke="#1c1c1c" stroke-width="0.12">b</text>
<line x1="603.15" y1="307.73" x2="603.15" y2="311.68" stroke="#000" stroke-width="1.15"/>
<line x1="601.45" y1="308.31" x2="604.85" y2="308.31" stroke="#000" stroke-width="1.15"/>
<rect x="600.3" y="311.63" width="5.7" height="80.97" fill="#6b6b6b" stroke="#000" stroke-width="0.9"/>
<text x="603.15" y="305.83" font-size="6.9" font-weight="normal" text-anchor="middle" fill="#1c1c1c" stroke="#1c1c1c" stroke-width="0.12">a</text>
<line x1="612.1" y1="303.73" x2="612.1" y2="309.61" stroke="#000" stroke-width="1.15"/>
<line x1="610.4" y1="304.3" x2="613.8" y2="304.3" stroke="#000" stroke-width="1.15"/>
<rect x="609.25" y="309.56" width="5.7" height="83.04" fill="#000000" stroke="#000" stroke-width="0.9"/>
<text x="612.1" y="301.83" font-size="6.9" font-weight="normal" text-anchor="middle" fill="#1c1c1c" stroke="#1c1c1c" stroke-width="0.12">a</text>
<line x1="630.8" y1="380.32" x2="630.8" y2="383.03" stroke="#000" stroke-width="1.15"/>
<line x1="629.1" y1="380.89" x2="632.5" y2="380.89" stroke="#000" stroke-width="1.15"/>
<rect x="627.95" y="382.98" width="5.7" height="9.62" fill="#ffffff" stroke="#000" stroke-width="0.9"/>
<text x="630.8" y="378.42" font-size="6.9" font-weight="normal" text-anchor="middle" fill="#1c1c1c" stroke="#1c1c1c" stroke-width="0.12">c</text>
<line x1="639.75" y1="373.14" x2="639.75" y2="381.09" stroke="#000" stroke-width="1.15"/>
<line x1="638.05" y1="373.72" x2="641.45" y2="373.72" stroke="#000" stroke-width="1.15"/>
<rect x="636.9" y="381.04" width="5.7" height="11.56" fill="url(#hatch)" stroke="#000" stroke-width="0.9"/>
<text x="639.75" y="371.24" font-size="6.9" font-weight="normal" text-anchor="middle" fill="#1c1c1c" stroke="#1c1c1c" stroke-width="0.12">c</text>
<line x1="648.7" y1="311.73" x2="648.7" y2="321.89" stroke="#000" stroke-width="1.15"/>
<line x1="647" y1="312.31" x2="650.4" y2="312.31" stroke="#000" stroke-width="1.15"/>
<rect x="645.85" y="321.84" width="5.7" height="70.76" fill="#d6d6d6" stroke="#000" stroke-width="0.9"/>
<text x="648.7" y="309.83" font-size="6.9" font-weight="normal" text-anchor="middle" fill="#1c1c1c" stroke="#1c1c1c" stroke-width="0.12">b</text>
<line x1="657.65" y1="304.56" x2="657.65" y2="309.61" stroke="#000" stroke-width="1.15"/>
<line x1="655.95" y1="305.13" x2="659.35" y2="305.13" stroke="#000" stroke-width="1.15"/>
<rect x="654.8" y="309.56" width="5.7" height="83.04" fill="#6b6b6b" stroke="#000" stroke-width="0.9"/>
<text x="657.65" y="302.66" font-size="6.9" font-weight="normal" text-anchor="middle" fill="#1c1c1c" stroke="#1c1c1c" stroke-width="0.12">a</text>
<line x1="666.6" y1="302.9" x2="666.6" y2="312.23" stroke="#000" stroke-width="1.15"/>
<line x1="664.9" y1="303.47" x2="668.3" y2="303.47" stroke="#000" stroke-width="1.15"/>
<rect x="663.75" y="312.18" width="5.7" height="80.42" fill="#000000" stroke="#000" stroke-width="0.9"/>
<text x="666.6" y="301" font-size="6.9" font-weight="normal" text-anchor="middle" fill="#1c1c1c" stroke="#1c1c1c" stroke-width="0.12">a,b</text>
<line x1="352.2" y1="253.7" x2="352.2" y2="393.5" stroke="#000" stroke-width="1.8"/>
<line x1="351.3" y1="392.6" x2="674" y2="392.6" stroke="#000" stroke-width="1.8"/>
<line x1="347.8" y1="392.6" x2="352.2" y2="392.6" stroke="#000" stroke-width="1.8"/>
<text x="346.2" y="395.91" font-size="9.2" font-weight="bold" text-anchor="end" fill="#151515" stroke="#151515" stroke-width="0.3">0</text>
<line x1="347.8" y1="365" x2="352.2" y2="365" stroke="#000" stroke-width="1.8"/>
<text x="346.2" y="368.31" font-size="9.2" font-weight="bold" text-anchor="end" fill="#151515" stroke="#151515" stroke-width="0.3">20</text>
<line x1="347.8" y1="337.4" x2="352.2" y2="337.4" stroke="#000" stroke-width="1.8"/>
<text x="346.2" y="340.71" font-size="9.2" font-weight="bold" text-anchor="end" fill="#151515" stroke="#151515" stroke-width="0.3">40</text>
<line x1="347.8" y1="309.8" x2="352.2" y2="309.8" stroke="#000" stroke-width="1.8"/>
<text x="346.2" y="313.11" font-size="9.2" font-weight="bold" text-anchor="end" fill="#151515" stroke="#151515" stroke-width="0.3">60</text>
<line x1="347.8" y1="282.2" x2="352.2" y2="282.2" stroke="#000" stroke-width="1.8"/>
<text x="346.2" y="285.51" font-size="9.2" font-weight="bold" text-anchor="end" fill="#151515" stroke="#151515" stroke-width="0.3">80</text>
<line x1="347.8" y1="254.6" x2="352.2" y2="254.6" stroke="#000" stroke-width="1.8"/>
<text x="346.2" y="257.91" font-size="9.2" font-weight="bold" text-anchor="end" fill="#151515" stroke="#151515" stroke-width="0.3">100</text>
<line x1="376.75" y1="392.6" x2="376.75" y2="395.3" stroke="#000" stroke-width="1.8"/>
<line x1="430.6" y1="392.6" x2="430.6" y2="395.3" stroke="#000" stroke-width="1.8"/>
<line x1="484.8" y1="392.6" x2="484.8" y2="395.3" stroke="#000" stroke-width="1.8"/>
<line x1="539.6" y1="392.6" x2="539.6" y2="395.3" stroke="#000" stroke-width="1.8"/>
<line x1="594.2" y1="392.6" x2="594.2" y2="395.3" stroke="#000" stroke-width="1.8"/>
<line x1="648.7" y1="392.6" x2="648.7" y2="395.3" stroke="#000" stroke-width="1.8"/>
<text x="327.4" y="318.6" font-size="8.1" font-weight="bold" text-anchor="middle" fill="#151515" transform="rotate(-90 327.4 318.6)" stroke="#151515" stroke-width="0.3">Killing Percentage</text>
<rect x="356.6" y="239" width="8.5" height="3.8" fill="#ffffff" stroke="#000" stroke-width="0.9"/>
<text x="372.8" y="243.5" font-size="8.15" font-weight="bold" text-anchor="start" fill="#151515" stroke="#151515" stroke-width="0.3">C-TCR-T</text>
<rect x="356.6" y="248.6" width="8.5" height="3.8" fill="#6b6b6b" stroke="#000" stroke-width="0.9"/>
<text x="372.8" y="253.5" font-size="8.15" font-weight="bold" text-anchor="start" fill="#151515" stroke="#151515" stroke-width="0.3">MC2-TCR-T<tspan dy="-3" font-size="5.9">PD1-</tspan></text>
<rect x="440" y="239" width="8.9" height="3.8" fill="url(#hatch)" stroke="#000" stroke-width="0.9"/>
<text x="455.9" y="243.5" font-size="8.15" font-weight="bold" text-anchor="start" fill="#151515" stroke="#151515" stroke-width="0.3">PDL1-MC2-TCR-T</text>
<rect x="440" y="248.6" width="8.9" height="3.8" fill="#000000" stroke="#000" stroke-width="0.9"/>
<text x="455.9" y="253.5" font-size="8.15" font-weight="bold" text-anchor="start" fill="#151515" stroke="#151515" stroke-width="0.3">PDL1-MC2-TCR-T<tspan dy="-3" font-size="5.9">PD1-</tspan></text>
<rect x="535.9" y="239" width="8.9" height="3.8" fill="#d6d6d6" stroke="#000" stroke-width="0.9"/>
<text x="551.5" y="243.5" font-size="8.15" font-weight="bold" text-anchor="start" fill="#151515" stroke="#151515" stroke-width="0.3">MC2-TCR-T</text>
<text x="380.55" y="399.8" font-size="8.1" font-weight="bold" text-anchor="end" fill="#151515" transform="rotate(-41 380.55 399.8)" stroke="#151515" stroke-width="0.3">A02-K562</text>
<text x="434.4" y="399.8" font-size="8.1" font-weight="bold" text-anchor="end" fill="#151515" transform="rotate(-41 434.4 399.8)" stroke="#151515" stroke-width="0.3">MC2-T2</text>
<text x="488.6" y="399.8" font-size="8.1" font-weight="bold" text-anchor="end" fill="#151515" transform="rotate(-41 488.6 399.8)" stroke="#151515" stroke-width="0.3">MC2-A02-K562</text>
<text x="543.4" y="399.8" font-size="8.1" font-weight="bold" text-anchor="end" fill="#151515" transform="rotate(-41 543.4 399.8)" stroke="#151515" stroke-width="0.3">Hut78</text>
<text x="598" y="399.8" font-size="8.1" font-weight="bold" text-anchor="end" fill="#151515" transform="rotate(-41 598 399.8)" stroke="#151515" stroke-width="0.3">P3</text>
<text x="652.5" y="399.8" font-size="8.1" font-weight="bold" text-anchor="end" fill="#151515" transform="rotate(-41 652.5 399.8)" stroke="#151515" stroke-width="0.3">P4</text>
<text transform="translate(1.3 464.4) scale(0.84 1)" font-size="12.4" font-weight="bold" fill="#0a0a0a" stroke="#0a0a0a" stroke-width="0.3">F</text>
<line x1="66.08" y1="606.05" x2="66.08" y2="610.4" stroke="#000" stroke-width="1.35"/>
<line x1="63.78" y1="606.73" x2="68.38" y2="606.73" stroke="#000" stroke-width="1.35"/>
<rect x="61.88" y="610.35" width="8.4" height="10.95" fill="#ffffff" stroke="#000" stroke-width="0.9"/>
<line x1="78.33" y1="596.35" x2="78.33" y2="610.4" stroke="#000" stroke-width="1.35"/>
<line x1="76.03" y1="597.03" x2="80.62" y2="597.03" stroke="#000" stroke-width="1.35"/>
<rect x="74.12" y="610.35" width="8.4" height="10.95" fill="#d6d6d6" stroke="#000" stroke-width="0.9"/>
<line x1="90.58" y1="601.59" x2="90.58" y2="606.55" stroke="#000" stroke-width="1.35"/>
<line x1="88.28" y1="602.26" x2="92.88" y2="602.26" stroke="#000" stroke-width="1.35"/>
<rect x="86.38" y="606.5" width="8.4" height="14.8" fill="#6b6b6b" stroke="#000" stroke-width="0.9"/>
<line x1="102.83" y1="608.06" x2="102.83" y2="610.4" stroke="#000" stroke-width="1.35"/>
<line x1="100.53" y1="608.73" x2="105.12" y2="608.73" stroke="#000" stroke-width="1.35"/>
<rect x="98.62" y="610.35" width="8.4" height="10.95" fill="#000000" stroke="#000" stroke-width="0.9"/>
<line x1="129.22" y1="602.51" x2="129.22" y2="608.86" stroke="#000" stroke-width="1.35"/>
<line x1="126.92" y1="603.19" x2="131.53" y2="603.19" stroke="#000" stroke-width="1.35"/>
<rect x="125.02" y="608.81" width="8.4" height="12.49" fill="#ffffff" stroke="#000" stroke-width="0.9"/>
<text x="129.22" y="600.61" font-size="6.5" font-weight="normal" text-anchor="middle" fill="#1c1c1c" stroke="#1c1c1c" stroke-width="0.12">c</text>
<line x1="141.47" y1="522.43" x2="141.47" y2="531.71" stroke="#000" stroke-width="1.35"/>
<line x1="139.17" y1="523.11" x2="143.78" y2="523.11" stroke="#000" stroke-width="1.35"/>
<rect x="137.27" y="531.66" width="8.4" height="89.64" fill="#d6d6d6" stroke="#000" stroke-width="0.9"/>
<text x="141.47" y="520.53" font-size="6.5" font-weight="normal" text-anchor="middle" fill="#1c1c1c" stroke="#1c1c1c" stroke-width="0.12">b</text>
<line x1="153.72" y1="521.97" x2="153.72" y2="524.93" stroke="#000" stroke-width="1.35"/>
<line x1="151.42" y1="522.64" x2="156.03" y2="522.64" stroke="#000" stroke-width="1.35"/>
<rect x="149.52" y="524.88" width="8.4" height="96.42" fill="#6b6b6b" stroke="#000" stroke-width="0.9"/>
<text x="153.72" y="520.07" font-size="6.5" font-weight="normal" text-anchor="middle" fill="#1c1c1c" stroke="#1c1c1c" stroke-width="0.12">b</text>
<line x1="165.97" y1="491.63" x2="165.97" y2="501.83" stroke="#000" stroke-width="1.35"/>
<line x1="163.67" y1="492.31" x2="168.28" y2="492.31" stroke="#000" stroke-width="1.35"/>
<rect x="161.77" y="501.78" width="8.4" height="119.52" fill="#000000" stroke="#000" stroke-width="0.9"/>
<text x="165.97" y="489.73" font-size="6.5" font-weight="normal" text-anchor="middle" fill="#1c1c1c" stroke="#1c1c1c" stroke-width="0.12">a</text>
<line x1="192.28" y1="607.44" x2="192.28" y2="610.4" stroke="#000" stroke-width="1.35"/>
<line x1="189.97" y1="608.11" x2="194.58" y2="608.11" stroke="#000" stroke-width="1.35"/>
<rect x="188.07" y="610.35" width="8.4" height="10.95" fill="#ffffff" stroke="#000" stroke-width="0.9"/>
<text x="192.28" y="605.54" font-size="6.5" font-weight="normal" text-anchor="middle" fill="#1c1c1c" stroke="#1c1c1c" stroke-width="0.12">c</text>
<line x1="204.53" y1="519.51" x2="204.53" y2="528.17" stroke="#000" stroke-width="1.35"/>
<line x1="202.22" y1="520.18" x2="206.83" y2="520.18" stroke="#000" stroke-width="1.35"/>
<rect x="200.32" y="528.12" width="8.4" height="93.18" fill="#d6d6d6" stroke="#000" stroke-width="0.9"/>
<text x="204.53" y="517.61" font-size="6.5" font-weight="normal" text-anchor="middle" fill="#1c1c1c" stroke="#1c1c1c" stroke-width="0.12">a</text>
<line x1="216.78" y1="515.04" x2="216.78" y2="524.93" stroke="#000" stroke-width="1.35"/>
<line x1="214.47" y1="515.71" x2="219.08" y2="515.71" stroke="#000" stroke-width="1.35"/>
<rect x="212.57" y="524.88" width="8.4" height="96.42" fill="#6b6b6b" stroke="#000" stroke-width="0.9"/>
<text x="216.78" y="513.14" font-size="6.5" font-weight="normal" text-anchor="middle" fill="#1c1c1c" stroke="#1c1c1c" stroke-width="0.12">a</text>
<line x1="229.03" y1="501.03" x2="229.03" y2="512.77" stroke="#000" stroke-width="1.35"/>
<line x1="226.72" y1="501.7" x2="231.33" y2="501.7" stroke="#000" stroke-width="1.35"/>
<rect x="224.82" y="512.72" width="8.4" height="108.58" fill="#000000" stroke="#000" stroke-width="0.9"/>
<text x="229.03" y="499.13" font-size="6.5" font-weight="normal" text-anchor="middle" fill="#1c1c1c" stroke="#1c1c1c" stroke-width="0.12">a</text>
<line x1="255.43" y1="601.59" x2="255.43" y2="607.94" stroke="#000" stroke-width="1.35"/>
<line x1="253.12" y1="602.26" x2="257.73" y2="602.26" stroke="#000" stroke-width="1.35"/>
<rect x="251.22" y="607.89" width="8.4" height="13.41" fill="#ffffff" stroke="#000" stroke-width="0.9"/>
<text x="255.43" y="599.69" font-size="6.5" font-weight="normal" text-anchor="middle" fill="#1c1c1c" stroke="#1c1c1c" stroke-width="0.12">c</text>
<line x1="267.68" y1="530.44" x2="267.68" y2="537.1" stroke="#000" stroke-width="1.35"/>
<line x1="265.38" y1="531.12" x2="269.98" y2="531.12" stroke="#000" stroke-width="1.35"/>
<rect x="263.48" y="537.05" width="8.4" height="84.25" fill="#d6d6d6" stroke="#000" stroke-width="0.9"/>
<text x="267.68" y="528.54" font-size="6.5" font-weight="normal" text-anchor="middle" fill="#1c1c1c" stroke="#1c1c1c" stroke-width="0.12">b</text>
<line x1="279.93" y1="523.05" x2="279.93" y2="532.63" stroke="#000" stroke-width="1.35"/>
<line x1="277.62" y1="523.72" x2="282.23" y2="523.72" stroke="#000" stroke-width="1.35"/>
<rect x="275.73" y="532.58" width="8.4" height="88.72" fill="#6b6b6b" stroke="#000" stroke-width="0.9"/>
<text x="279.93" y="521.15" font-size="6.5" font-weight="normal" text-anchor="middle" fill="#1c1c1c" stroke="#1c1c1c" stroke-width="0.12">b</text>
<line x1="292.18" y1="490.25" x2="292.18" y2="495.98" stroke="#000" stroke-width="1.35"/>
<line x1="289.88" y1="490.92" x2="294.48" y2="490.92" stroke="#000" stroke-width="1.35"/>
<rect x="287.98" y="495.93" width="8.4" height="125.37" fill="#000000" stroke="#000" stroke-width="0.9"/>
<text x="292.18" y="488.35" font-size="6.5" font-weight="normal" text-anchor="middle" fill="#1c1c1c" stroke="#1c1c1c" stroke-width="0.12">a</text>
<line x1="318.38" y1="606.67" x2="318.38" y2="608.86" stroke="#000" stroke-width="1.35"/>
<line x1="316.07" y1="607.34" x2="320.68" y2="607.34" stroke="#000" stroke-width="1.35"/>
<rect x="314.18" y="608.81" width="8.4" height="12.49" fill="#ffffff" stroke="#000" stroke-width="0.9"/>
<text x="318.38" y="604.77" font-size="6.5" font-weight="normal" text-anchor="middle" fill="#1c1c1c" stroke="#1c1c1c" stroke-width="0.12">c</text>
<line x1="330.62" y1="540.6" x2="330.62" y2="547.26" stroke="#000" stroke-width="1.35"/>
<line x1="328.32" y1="541.28" x2="332.93" y2="541.28" stroke="#000" stroke-width="1.35"/>
<rect x="326.43" y="547.21" width="8.4" height="74.09" fill="#d6d6d6" stroke="#000" stroke-width="0.9"/>
<text x="330.62" y="538.7" font-size="6.5" font-weight="normal" text-anchor="middle" fill="#1c1c1c" stroke="#1c1c1c" stroke-width="0.12">b</text>
<line x1="342.88" y1="525.97" x2="342.88" y2="539.1" stroke="#000" stroke-width="1.35"/>
<line x1="340.57" y1="526.65" x2="345.18" y2="526.65" stroke="#000" stroke-width="1.35"/>
<rect x="338.68" y="539.05" width="8.4" height="82.25" fill="#6b6b6b" stroke="#000" stroke-width="0.9"/>
<text x="342.88" y="524.07" font-size="6.5" font-weight="normal" text-anchor="middle" fill="#1c1c1c" stroke="#1c1c1c" stroke-width="0.12">b</text>
<line x1="355.12" y1="499.64" x2="355.12" y2="509.23" stroke="#000" stroke-width="1.35"/>
<line x1="352.82" y1="500.31" x2="357.43" y2="500.31" stroke="#000" stroke-width="1.35"/>
<rect x="350.93" y="509.18" width="8.4" height="112.12" fill="#000000" stroke="#000" stroke-width="0.9"/>
<text x="355.12" y="497.74" font-size="6.5" font-weight="normal" text-anchor="middle" fill="#1c1c1c" stroke="#1c1c1c" stroke-width="0.12">a</text>
<line x1="57.2" y1="466.35" x2="57.2" y2="622.25" stroke="#000" stroke-width="1.9"/>
<line x1="56.25" y1="621.3" x2="366.2" y2="621.3" stroke="#000" stroke-width="1.9"/>
<line x1="52.6" y1="621.3" x2="57.2" y2="621.3" stroke="#000" stroke-width="1.9"/>
<text x="50.4" y="625.04" font-size="10.4" font-weight="bold" text-anchor="end" fill="#151515" stroke="#151515" stroke-width="0.3">0</text>
<line x1="52.6" y1="590.5" x2="57.2" y2="590.5" stroke="#000" stroke-width="1.9"/>
<text x="50.4" y="594.24" font-size="10.4" font-weight="bold" text-anchor="end" fill="#151515" stroke="#151515" stroke-width="0.3">20</text>
<line x1="52.6" y1="559.7" x2="57.2" y2="559.7" stroke="#000" stroke-width="1.9"/>
<text x="50.4" y="563.44" font-size="10.4" font-weight="bold" text-anchor="end" fill="#151515" stroke="#151515" stroke-width="0.3">40</text>
<line x1="52.6" y1="528.9" x2="57.2" y2="528.9" stroke="#000" stroke-width="1.9"/>
<text x="50.4" y="532.64" font-size="10.4" font-weight="bold" text-anchor="end" fill="#151515" stroke="#151515" stroke-width="0.3">60</text>
<line x1="52.6" y1="498.1" x2="57.2" y2="498.1" stroke="#000" stroke-width="1.9"/>
<text x="50.4" y="501.84" font-size="10.4" font-weight="bold" text-anchor="end" fill="#151515" stroke="#151515" stroke-width="0.3">80</text>
<line x1="52.6" y1="467.3" x2="57.2" y2="467.3" stroke="#000" stroke-width="1.9"/>
<text x="50.4" y="471.04" font-size="10.4" font-weight="bold" text-anchor="end" fill="#151515" stroke="#151515" stroke-width="0.3">100</text>
<line x1="84.45" y1="621.3" x2="84.45" y2="624" stroke="#000" stroke-width="1.9"/>
<line x1="147.6" y1="621.3" x2="147.6" y2="624" stroke="#000" stroke-width="1.9"/>
<line x1="210.65" y1="621.3" x2="210.65" y2="624" stroke="#000" stroke-width="1.9"/>
<line x1="273.8" y1="621.3" x2="273.8" y2="624" stroke="#000" stroke-width="1.9"/>
<line x1="336.75" y1="621.3" x2="336.75" y2="624" stroke="#000" stroke-width="1.9"/>
<text x="32.9" y="531.8" font-size="8.9" font-weight="bold" text-anchor="middle" fill="#151515" transform="rotate(-90 32.9 531.8)" stroke="#151515" stroke-width="0.3">Killing Percentage</text>
<rect x="366" y="467.4" width="10.6" height="4.2" fill="#ffffff" stroke="#000" stroke-width="0.9"/>
<text x="379.6" y="472.6" font-size="8.85" font-weight="bold" text-anchor="start" fill="#151515" stroke="#151515" stroke-width="0.3">C-TCR-T</text>
<rect x="366" y="477.1" width="10.6" height="4.2" fill="#d6d6d6" stroke="#000" stroke-width="0.9"/>
<text x="379.6" y="482.3" font-size="8.85" font-weight="bold" text-anchor="start" fill="#151515" stroke="#151515" stroke-width="0.3">MC2-TCR-T <tspan dy="-2.4" font-size="6.2">PD1-</tspan></text>
<rect x="366" y="489.3" width="10.6" height="4.2" fill="#6b6b6b" stroke="#000" stroke-width="0.9"/>
<text x="379.6" y="494.5" font-size="8.85" font-weight="bold" text-anchor="start" fill="#151515" stroke="#151515" stroke-width="0.3">PDL1-MC2-TCR-T<tspan dy="-2.4" font-size="6.2">PD1-</tspan><tspan dy="2.4"> +Nivo</tspan></text>
<rect x="366" y="500.3" width="10.6" height="4.2" fill="#000000" stroke="#000" stroke-width="0.9"/>
<text x="379.6" y="505.5" font-size="8.85" font-weight="bold" text-anchor="start" fill="#151515" stroke="#151515" stroke-width="0.3">PDL1-MC2-TCR-T<tspan dy="-2.4" font-size="6.2">PD1-</tspan></text>
<text x="89.65" y="628.6" font-size="7.9" font-weight="bold" text-anchor="end" fill="#151515" transform="rotate(-41 89.65 628.6)" stroke="#151515" stroke-width="0.3">A02-K562</text>
<text x="155.3" y="628.6" font-size="7.9" font-weight="bold" text-anchor="end" fill="#151515" transform="rotate(-41 155.3 628.6)" stroke="#151515" stroke-width="0.3">MC2-A02-K562<tspan dy="-3" font-size="5.3">PD1+</tspan></text>
<text x="215.85" y="628.6" font-size="7.9" font-weight="bold" text-anchor="end" fill="#151515" transform="rotate(-41 215.85 628.6)" stroke="#151515" stroke-width="0.3">HH</text>
<text x="279" y="628.6" font-size="7.9" font-weight="bold" text-anchor="end" fill="#151515" transform="rotate(-41 279 628.6)" stroke="#151515" stroke-width="0.3">P1</text>
<text x="341.95" y="628.6" font-size="7.9" font-weight="bold" text-anchor="end" fill="#151515" transform="rotate(-41 341.95 628.6)" stroke="#151515" stroke-width="0.3">P2</text>
<text transform="translate(0.4 686.6) scale(0.82 1)" font-size="13.4" font-weight="bold" fill="#0a0a0a" stroke="#0a0a0a" stroke-width="0.3">G</text>
<rect x="10.5" y="694" width="84.4" height="88.2" fill="#fff" stroke="#8c8c8c" stroke-width="0.6"/>
<text x="7.5" y="782.96" font-size="2.4" font-weight="normal" text-anchor="end" fill="#555">0</text>
<text x="7.5" y="759.93" font-size="2.4" font-weight="normal" text-anchor="end" fill="#555">500</text>
<text x="7.5" y="736.9" font-size="2.4" font-weight="normal" text-anchor="end" fill="#555">1.0K</text>
<text x="7.5" y="713.87" font-size="2.4" font-weight="normal" text-anchor="end" fill="#555">1.5K</text>
<text x="13.3" y="787.4" font-size="2.4" font-weight="normal" text-anchor="middle" fill="#555">10<tspan dy="-1.08" font-size="1.68">0</tspan></text>
<text x="24.65" y="787.4" font-size="2.4" font-weight="normal" text-anchor="middle" fill="#555">10<tspan dy="-1.08" font-size="1.68">1</tspan></text>
<text x="36" y="787.4" font-size="2.4" font-weight="normal" text-anchor="middle" fill="#555">10<tspan dy="-1.08" font-size="1.68">2</tspan></text>
<text x="47.35" y="787.4" font-size="2.4" font-weight="normal" text-anchor="middle" fill="#555">10<tspan dy="-1.08" font-size="1.68">3</tspan></text>
<text x="58.7" y="787.4" font-size="2.4" font-weight="normal" text-anchor="middle" fill="#555">10<tspan dy="-1.08" font-size="1.68">4</tspan></text>
<text x="70.05" y="787.4" font-size="2.4" font-weight="normal" text-anchor="middle" fill="#555">10<tspan dy="-1.08" font-size="1.68">5</tspan></text>
<text x="81.4" y="787.4" font-size="2.4" font-weight="normal" text-anchor="middle" fill="#555">10<tspan dy="-1.08" font-size="1.68">6</tspan></text>
<text x="92.75" y="787.4" font-size="2.4" font-weight="normal" text-anchor="middle" fill="#555">10<tspan dy="-1.08" font-size="1.68">7</tspan></text>
<path d="M8.4 782.1H10.5M8.4 759.1H10.5M8.4 736H10.5M8.4 713H10.5M11.7 782.2V784M23 782.2V784M34.4 782.2V784M45.8 782.2V784M57.1 782.2V784M68.5 782.2V784M79.8 782.2V784M91.2 782.2V784" stroke="#333" stroke-width="0.7" fill="none"/>
<path d="M9.5 782.1H10.5M9.5 777.5H10.5M9.5 772.9H10.5M9.5 768.3H10.5M9.5 763.7H10.5M9.5 759.1H10.5M9.5 754.5H10.5M9.5 749.9H10.5M9.5 745.3H10.5M9.5 740.6H10.5M9.5 736H10.5M9.5 731.4H10.5M9.5 726.8H10.5M9.5 722.2H10.5M9.5 717.6H10.5M9.5 713H10.5M9.5 708.4H10.5M9.5 703.8H10.5M9.5 699.2H10.5M11.1 782.2V783.2M15.1 782.2V783.2M17.1 782.2V783.2M18.5 782.2V783.2M19.6 782.2V783.2M20.6 782.2V783.2M21.3 782.2V783.2M21.9 782.2V783.2M22.5 782.2V783.2M26.5 782.2V783.2M28.5 782.2V783.2M29.9 782.2V783.2M31 782.2V783.2M31.9 782.2V783.2M32.7 782.2V783.2M33.3 782.2V783.2M33.8 782.2V783.2M37.8 782.2V783.2M39.8 782.2V783.2M41.2 782.2V783.2M42.3 782.2V783.2M43.3 782.2V783.2M44 782.2V783.2M44.6 782.2V783.2M45.2 782.2V783.2M49.2 782.2V783.2M51.2 782.2V783.2M52.6 782.2V783.2M53.7 782.2V783.2M54.6 782.2V783.2M55.4 782.2V783.2M56 782.2V783.2M56.5 782.2V783.2M60.5 782.2V783.2M62.5 782.2V783.2M63.9 782.2V783.2M65 782.2V783.2M66 782.2V783.2M66.7 782.2V783.2M67.3 782.2V783.2M67.9 782.2V783.2M71.9 782.2V783.2M73.9 782.2V783.2M75.3 782.2V783.2M76.4 782.2V783.2M77.3 782.2V783.2M78.1 782.2V783.2M78.7 782.2V783.2M79.2 782.2V783.2M83.2 782.2V783.2M85.2 782.2V783.2M86.6 782.2V783.2M87.7 782.2V783.2M88.7 782.2V783.2M89.4 782.2V783.2M90 782.2V783.2M90.6 782.2V783.2M94.6 782.2V783.2" stroke="#777" stroke-width="0.4" fill="none"/>
<path d="M32.3 765.4h0.8M56.8 750.3h0.8M65 773.7h0.8M40.2 780.7h0.8M56.4 752.1h0.8M34 774.9h0.8M67.2 765h0.8M60.1 772.1h0.8M35.5 775.2h0.8M18.3 759h0.8M52.8 750.7h0.8M27.3 760.2h0.8M34.7 775.4h0.8M51.9 779.9h0.8M37.1 755.1h0.8M62.7 767.5h0.8M58.1 774.9h0.8M40.6 755.9h0.8M38.2 779.3h0.8M34.1 760h0.8M66.3 741.3h0.8M60.3 751.8h0.8M61.8 754h0.8M36.9 758.3h0.8M60.7 756.1h0.8M61.2 761.8h0.8M62.7 775h0.8M45.4 780.5h0.8M51.8 745.7h0.8M62 773.1h0.8M53.5 752.1h0.8M50.2 780.2h0.8M30 765.4h0.8M69.3 767.4h0.8M34.6 774.5h0.8M33.8 775.9h0.8M66.4 746.5h0.8M30.2 768.5h0.8M35.1 774.1h0.8M56.6 747.1h0.8M29.3 773h0.8M42.5 755h0.8M60.1 764.1h0.8M31 755.7h0.8M33.9 760.8h0.8M28.6 761h0.8M57.7 748h0.8M35.3 778.8h0.8M25.7 764.7h0.8" stroke="#9a9aff" stroke-opacity="0.8" stroke-width="0.8" fill="none"/>
<path d="M47.8 777.1h0.8M39.3 761.4h0.8M56.2 756.8h0.8M47.7 754.7h0.8M35.2 765.2h0.8M41.1 760.3h0.8M37.6 763.2h0.8M38.3 764.1h0.8M50.3 775.9h0.8M55.3 760.9h0.8M41.7 775.4h0.8M54.8 760.4h0.8M37.6 763.2h0.8M37.5 773.4h0.8M54.7 770.3h0.8M41.7 778.1h0.8M38.8 775.9h0.8M48.9 757.6h0.8M54.8 772h0.8M48.9 777.7h0.8M51.1 775h0.8M49.2 777.6h0.8M49.8 753.5h0.8M41.8 777.9h0.8M36 760.7h0.8M39.7 761.6h0.8M52.3 758h0.8M56.6 764.6h0.8M37.7 766.6h0.8M44.4 777.2h0.8M59.2 765.2h0.8M53.7 752.7h0.8M55.7 765h0.8M53.7 756.9h0.8M48.3 776.5h0.8M37.2 765.2h0.8M47.1 779.2h0.8M54.3 752.4h0.8M33.8 766.6h0.8M37.1 766.5h0.8M53.7 757.7h0.8M56.5 762.8h0.8M41.5 759.7h0.8M44.5 777.1h0.8M47.7 776.4h0.8M37.6 771h0.8M53.3 772.7h0.8M55.9 765.5h0.8M54.3 758.6h0.8M36.6 769.1h0.8M37.5 769.9h0.8M48.1 780.1h0.8M57.7 768.4h0.8M37.5 769.6h0.8M37.3 760.9h0.8M55.2 765.7h0.8M55.7 770.6h0.8M44.3 775.8h0.8M47.1 754.5h0.8M51 777.8h0.8M57.9 761.7h0.8M55.5 756.8h0.8M58.8 768h0.8M59.1 758.6h0.8M55.8 765.9h0.8M39.9 761.9h0.8M58.5 758.4h0.8M55.2 766.2h0.8M35.8 762h0.8M50.5 775.7h0.8M59.8 760.4h0.8M55.3 773.5h0.8M58.8 762.2h0.8M54.3 758h0.8M35.7 773.9h0.8M51.3 754.1h0.8M42.1 776.8h0.8M40.9 778.5h0.8M40.3 774.7h0.8M55.3 758.4h0.8M55.6 767.2h0.8M54 755.5h0.8M40 774.1h0.8M52 757.3h0.8M51.3 774.4h0.8M55.9 764.2h0.8M44.2 776.4h0.8" stroke="#5560ff" stroke-opacity="0.85" stroke-width="0.8" fill="none"/>
<path d="M51.8 773.7h0.8M41 773.7h0.8M49.2 765.6h0.8M49.1 767.6h0.8M44.9 765.7h0.8M39.7 765.8h0.8M41.4 769.2h0.8M53 764.3h0.8M43.2 770.2h0.8M44 772.8h0.8M40.9 769.4h0.8M49.8 774.2h0.8M42.3 762.2h0.8M42.1 770.8h0.8M43.5 771.8h0.8M47.1 766.7h0.8M41.6 770h0.8M43.5 770.7h0.8M46.7 759.8h0.8M48 763h0.8M47.4 772.6h0.8M42 765.3h0.8M46.6 770.8h0.8M54.5 762.6h0.8M54 760.7h0.8M44 770.7h0.8M45.9 765.1h0.8M52.9 769.1h0.8M48.4 761.6h0.8M43.3 770.3h0.8M39.6 768.3h0.8M52.2 758.6h0.8M49.4 766.1h0.8M49.4 766.8h0.8M46 770.7h0.8M48.4 760.1h0.8M52.1 771.9h0.8M54.4 767.3h0.8M46 762.5h0.8M47 774h0.8M50.6 772.7h0.8M51.9 769.5h0.8M43.9 768h0.8M50.8 764.3h0.8M39 767.6h0.8M43 771.5h0.8M51.6 763.2h0.8M44.1 767.4h0.8M46.3 765.4h0.8M47.3 765h0.8M45 772.4h0.8M50.4 765.4h0.8M45.2 770h0.8M43.6 774.6h0.8M44.6 770.6h0.8M45.1 770h0.8M50.1 765h0.8M49.4 760.3h0.8M41.1 768.7h0.8M50.5 761.4h0.8M48.4 767.4h0.8M43.1 769.1h0.8M53 760.7h0.8M43 766.3h0.8M45.6 772.6h0.8M41.4 761.8h0.8M42.8 768.4h0.8M42.6 773.8h0.8M39.5 769.7h0.8M44.1 772.3h0.8M50.5 761.4h0.8M45.3 769.1h0.8M42.7 764.3h0.8M48.8 771.7h0.8M47.7 764h0.8M50.8 765.4h0.8M42.9 760.7h0.8M40.7 772.8h0.8M46.4 766.2h0.8M44.1 769.9h0.8M43.8 762.6h0.8M45.5 767.1h0.8M49.4 767.1h0.8M43.6 767.3h0.8M51.9 769h0.8M41.2 766.4h0.8M54.9 764.8h0.8M44.2 770.1h0.8M44.6 770.2h0.8M51.8 767.3h0.8M46.7 769.7h0.8M53.8 762.1h0.8M50.1 759.2h0.8M47.5 773.9h0.8M50 771.7h0.8M48.2 770.3h0.8M49.8 763.1h0.8M43.8 771.6h0.8M45.5 767.8h0.8M50.4 760.9h0.8M44.8 772.2h0.8M43.8 771.1h0.8M48.7 770.6h0.8M46 769.6h0.8M43.7 762.8h0.8M53.4 769.3h0.8M50.8 760h0.8M53.4 767h0.8M48.1 770.4h0.8M41.5 768.2h0.8M50.7 774.5h0.8M46.8 770.6h0.8M52.9 766.7h0.8M39 770h0.8M46.4 769.2h0.8" stroke="#3d55ff" stroke-opacity="0.9" stroke-width="0.8" fill="none"/>
<path d="M35.1 770.1h0.8M43.7 748.4h0.8M47 748.1h0.8M61.3 742.5h0.8M47.4 741.4h0.8M55.6 739.7h0.8M60.2 752h0.8M62 775.4h0.8M43.4 778.5h0.8M68.2 765h0.8M35.9 773.2h0.8M32 765.8h0.8M34.1 769.4h0.8M29.8 773.8h0.8M53.2 736.2h0.8M65.7 765h0.8M60.4 748h0.8M60.5 774h0.8M32.3 760.7h0.8M58.3 737.8h0.8M60.1 743.8h0.8M34.1 751.7h0.8M59.6 743.9h0.8M61.4 775.5h0.8M27.6 761.5h0.8M38.7 778.8h0.8M60.3 730.8h0.8M61 764.5h0.8M58.7 740.3h0.8M61.6 759.7h0.8M36.6 773.2h0.8M62.5 747.8h0.8M60.2 715h0.8M62.7 734.9h0.8M60.1 777.6h0.8M59.4 746h0.8M41.5 776.8h0.8M62.1 758.1h0.8M39.5 756h0.8M52.9 778.9h0.8M51 737.2h0.8M57.8 730.3h0.8M32.2 760.9h0.8M56.5 733.6h0.8M33.1 765.1h0.8M52.2 741.8h0.8M60.9 753.6h0.8M54.5 736.8h0.8M32.5 764.6h0.8M55.3 778h0.8M57.2 737.2h0.8M50.7 779.1h0.8M32.4 773.3h0.8M60.8 771.4h0.8M50.8 779.7h0.8M54.6 741.9h0.8M61.5 736.7h0.8M59 735.3h0.8M64.3 743.1h0.8M37.2 777.2h0.8M60.7 744.2h0.8M36.5 772.2h0.8M39.8 755.9h0.8M60.1 754.3h0.8M63.2 750.9h0.8M62.5 763.6h0.8M29.3 766.6h0.8M62.2 749.1h0.8M43.1 778.3h0.8M62.6 775.6h0.8M68.1 741.9h0.8M59.2 740.7h0.8M46.1 778.6h0.8M61 754.2h0.8M54.5 778.5h0.8M63.7 747.2h0.8M28.4 762.5h0.8M34 765.5h0.8M57 742.3h0.8M56.6 776.9h0.8M31.5 767.4h0.8M62.7 742.1h0.8M46.9 745.6h0.8M52.5 743.6h0.8M61.5 754.5h0.8M55.4 742.3h0.8M32.2 764.2h0.8M44 749.9h0.8M60.9 771.1h0.8M62.4 776.2h0.8M59 746.5h0.8M40.1 752h0.8M27.4 770h0.8M29.5 776.4h0.8M56.3 742.3h0.8M59.5 749.3h0.8M54 740.2h0.8M56.4 731.4h0.8M42 780.8h0.8M58.8 734.7h0.8M37.8 754.8h0.8M48.4 744h0.8M61.2 741.4h0.8M36.7 777.5h0.8M55.2 740.3h0.8M58.2 732.7h0.8M62.3 772.5h0.8M53.9 736.1h0.8M32.3 775.7h0.8M62.1 763.8h0.8M60.3 744.3h0.8M61.1 761.2h0.8M60.3 746.5h0.8" stroke="#9a9aff" stroke-opacity="0.8" stroke-width="0.8" fill="none"/>
<path d="M58.3 749.2h0.8M42.2 758h0.8M36.2 762.5h0.8M56.3 752.6h0.8M58.1 753.5h0.8M59.3 772.6h0.8M55.6 776.2h0.8M45.9 750.3h0.8M43 773.3h0.8M55 746.6h0.8M49.3 747h0.8M58.4 753.4h0.8M50.7 749.4h0.8M47.6 752.1h0.8M38.8 769.5h0.8M45.4 754.8h0.8M39.3 774.6h0.8M43.5 757.3h0.8M48.4 751h0.8M40.5 771h0.8M57.8 769.1h0.8M41.6 755.8h0.8M39.6 757.1h0.8M54.9 772.1h0.8M57.9 765.4h0.8M38.1 764.2h0.8M42.6 759.4h0.8M51.9 776.4h0.8M42.2 775.5h0.8M49.6 777.8h0.8M54.9 773h0.8M44.1 756.5h0.8M38.9 766.6h0.8M54.6 777.1h0.8M50.5 748h0.8M44.6 776.6h0.8M59.5 765.2h0.8M36.3 770.4h0.8M38.1 770.8h0.8M53 776.5h0.8M40.8 756.7h0.8M39.4 760.9h0.8M41.4 758.8h0.8M39.3 764.5h0.8M56.7 763.5h0.8M51 746.8h0.8M41.7 773.4h0.8M57.4 758h0.8M59.8 772.8h0.8M39 761.4h0.8M58.3 773.3h0.8M49 750.6h0.8M49.8 749.1h0.8M38.6 763.3h0.8M53 777.2h0.8M53.9 748.7h0.8M39 773.3h0.8M40.3 771.7h0.8M56.5 769.3h0.8M54.1 751.9h0.8M42.9 756.8h0.8M57.3 768.3h0.8M56.5 750.6h0.8M58.6 762.6h0.8M50.8 774.9h0.8M38.7 774.5h0.8M50.1 751.9h0.8M42.6 772.7h0.8M47 753.4h0.8M49.6 775.1h0.8M57.8 765.9h0.8M57.2 771.1h0.8M41.3 759.5h0.8M47.9 749.6h0.8M38.1 769.6h0.8M38.1 763.9h0.8M57.6 748.7h0.8M53.5 775.1h0.8M39 757h0.8M55.4 773.7h0.8M57.8 750.5h0.8M38.7 774.2h0.8M59.1 754.4h0.8M48 777.1h0.8M50.6 751.2h0.8M53.7 773.9h0.8M38.3 765.9h0.8M34.9 767.8h0.8M52.9 777.8h0.8M56.2 760.4h0.8M57.5 747.7h0.8M36 769.3h0.8M51.6 750.9h0.8M36.9 769h0.8M56.9 759.4h0.8M59 749.8h0.8M52.1 751.1h0.8M45.7 774.2h0.8M50.8 775.2h0.8M35.3 766.2h0.8M46.2 753.4h0.8M57.2 773.9h0.8M37.2 760h0.8M51.4 775.9h0.8M57.6 771.9h0.8M38 766h0.8M45.1 775.5h0.8M38.4 773h0.8M51.7 775.9h0.8M55.8 749.8h0.8M40.7 771.7h0.8M55 745.9h0.8M56 768.2h0.8M35.9 765.6h0.8M57.6 748.5h0.8M50.6 751.7h0.8M37.3 765.4h0.8M58.9 772.2h0.8M58 775.2h0.8M57.5 759.3h0.8M34.8 766.8h0.8M55.2 773.4h0.8M46 775.4h0.8M59 765.5h0.8M34.9 766.3h0.8M39 774.2h0.8M55.6 771.9h0.8M47.9 776.1h0.8M57.3 763.9h0.8M40.5 770.5h0.8M36.5 771.6h0.8M38.3 773.3h0.8M38 761.2h0.8M44.3 774.5h0.8M38.8 757.7h0.8M56.7 756.6h0.8M44 776.7h0.8M36.7 762.1h0.8M57.4 746.7h0.8M38 761h0.8M49.3 775.1h0.8M49.7 775.6h0.8M45.1 756.2h0.8M46.7 750.8h0.8M40.9 760.2h0.8M51.4 777.2h0.8M41.6 772.6h0.8M36.5 764.7h0.8M38 770.6h0.8M58.1 769.6h0.8M45 756.1h0.8M52.1 745.7h0.8M36.9 764.6h0.8M44.6 777.7h0.8M41.8 776.2h0.8M38.2 766.5h0.8M52.7 750.5h0.8M48.3 752.8h0.8M58.5 773.5h0.8M53.9 743.9h0.8M57.3 753.2h0.8M56.8 748.1h0.8M59.5 765.9h0.8M51 747.2h0.8M53.2 777.5h0.8M53.5 773.6h0.8M46.4 749.7h0.8" stroke="#5560ff" stroke-opacity="0.85" stroke-width="0.8" fill="none"/>
<clipPath id="c7"><rect x="11" y="694.5" width="83.4" height="87.2"/></clipPath><g clip-path="url(#c7)">
<g transform="translate(47.5 767.2) rotate(-70)" filter="url(#gr)"><path d="M-10 0C-10 -10 -2.5 -11.8 7.5 -8.3C16.2 -5.9 25 -2.8 25 0C25 2.8 16.2 5.9 7.5 8.3C-2.5 11.8 -10 10 -10 0Z" fill="#8080ff" fill-opacity="0.38"/><path d="M-8.6 0C-8.6 -8 -2.1 -9.4 6 -6.6C13 -4.7 20 -2.2 20 0C20 2.2 13 4.7 6 6.6C-2.1 9.4 -8.6 8 -8.6 0Z" fill="#3038f8" fill-opacity="0.85"/></g>
<g transform="translate(47.5 767.2) rotate(-70)" filter="url(#bl)"><path d="M-7.3 0C-7.3 -6.2 -1.8 -7.3 4.6 -5.1C10.1 -3.6 15.5 -1.7 15.5 0C15.5 1.7 10.1 3.6 4.6 5.1C-1.8 7.3 -7.3 6.2 -7.3 0Z" fill="#1f8cf5" fill-opacity="0.95"/><path d="M-6.5 0C-6.5 -5 -1.6 -5.9 3.8 -4.1C8.1 -2.9 12.5 -1.4 12.5 0C12.5 1.4 8.1 2.9 3.8 4.1C-1.6 5.9 -6.5 5 -6.5 0Z" fill="#22c4b8" fill-opacity="1"/><path d="M-5.8 0C-5.8 -4 -1.4 -4.7 3 -3.3C6.5 -2.4 10 -1.1 10 0C10 1.1 6.5 2.4 3 3.3C-1.4 4.7 -5.8 4 -5.8 0Z" fill="#3fd44a" fill-opacity="1"/><path d="M-5.2 0C-5.2 -3.1 -1.3 -3.6 2.3 -2.6C5 -1.8 7.7 -0.8 7.7 0C7.7 0.8 5 1.8 2.3 2.6C-1.3 3.6 -5.2 3.1 -5.2 0Z" fill="#cce42a" fill-opacity="1"/><path d="M-4.9 0C-4.9 -2.7 -1.2 -3.2 2 -2.3C4.4 -1.6 6.8 -0.7 6.8 0C6.8 0.7 4.4 1.6 2 2.3C-1.2 3.2 -4.9 2.7 -4.9 0Z" fill="#ff8a1a" fill-opacity="1"/><path d="M-4.1 0C-4.1 -1.6 -1 -1.8 1.2 -1.3C2.6 -0.9 3.9 -0.4 3.9 0C3.9 0.4 2.6 0.9 1.2 1.3C-1 1.8 -4.1 1.6 -4.1 0Z" fill="#f0301e" fill-opacity="1"/></g>
</g>
<path d="M51 772.2h0.8M51.7 755.5h0.8M40.5 765.2h0.8M40.6 769.6h0.8M46.2 773.1h0.8M48.2 756.1h0.8M49.5 775.1h0.8M50.8 752.6h0.8M53.3 753.2h0.8M49.5 757.7h0.8M52.9 771.6h0.8M54.1 772.1h0.8M46.4 773.4h0.8M46.5 756.1h0.8M52.4 752.4h0.8M38 768.5h0.8M46.8 772.5h0.8M41.2 767.3h0.8M44.3 772.5h0.8" stroke="#3038f8" stroke-opacity="0.8" stroke-width="0.8" fill="none"/>
<path d="M51.4 764.3h0.8M50.1 769.2h0.8M43.8 767h0.8M43.7 769.3h0.8M48.5 769.7h0.8M50.1 769.3h0.8M48.9 771.1h0.8M47.4 758.1h0.8M53.7 765.4h0.8M51.7 764.7h0.8M45 769.9h0.8M53.7 765.3h0.8M48.9 758.5h0.8M45.1 771.4h0.8" stroke="#22c4b8" stroke-opacity="0.8" stroke-width="0.8" fill="none"/>
<path d="M54.4 760.8h0.8M44 769h0.8M50.8 760.1h0.8M51.5 768.8h0.8M53.2 757.8h0.8M51.2 756.6h0.8M43.6 761.4h0.8M44.5 759.9h0.8M51.5 761h0.8M47.4 760h0.8M42 765.7h0.8M44.8 770.2h0.8" stroke="#1f8cf5" stroke-opacity="0.8" stroke-width="0.8" fill="none"/>
<path d="M48.7 769.3h0.8M44.7 766.3h0.8M50.5 761.7h0.8M50.8 763.7h0.8M48.3 769h0.8M48.5 763.3h0.8M52.6 761h0.8M43.9 766.6h0.8" stroke="#3fd44a" stroke-opacity="0.8" stroke-width="0.8" fill="none"/>
<path d="M46.5 768.3h0.8M48.1 762.2h0.8M48.4 761.8h0.8M46 767.1h0.8M45.1 766.6h0.8M47.3 765.4h0.8M48.8 764.8h0.8" stroke="#ff8a1a" stroke-opacity="0.8" stroke-width="0.8" fill="none"/>
<path d="M46.8 767.3h0.8M48.1 767.7h0.8M48.3 767.8h0.8M45.9 767.5h0.8M49.6 764.9h0.8" stroke="#f0301e" stroke-opacity="0.8" stroke-width="0.8" fill="none"/>
<path d="M45.6 769.1h0.8M48 768.7h0.8M44.5 768.3h0.8M45.4 766.1h0.8M50.5 764.7h0.8" stroke="#cce42a" stroke-opacity="0.8" stroke-width="0.8" fill="none"/>
<path d="M59.9 752.1h0.8M86 711.9h0.8M88.7 717.7h0.8M86.4 717.1h0.8M81.1 707.3h0.8M85.9 726h0.8M57.6 761.7h0.8M85.5 755.2h0.8M71.4 779.4h0.8M81.4 712.2h0.8M57.4 760h0.8M59 738h0.8M84.2 718.8h0.8M83.6 716.7h0.8M64.3 728.3h0.8M84.6 738.5h0.8M68.8 779.6h0.8M69.5 780.8h0.8M81.8 707.6h0.8M59.7 747.2h0.8M84.2 719.4h0.8M83.8 717.6h0.8M91.1 765.1h0.8M68 780.4h0.8M68.2 779.5h0.8M82 774.5h0.8M84.5 746.6h0.8M84.2 720.5h0.8M75.3 780.9h0.8M80.4 776.8h0.8M82.2 714.9h0.8M84.4 734.2h0.8M79 780h0.8M86 751.2h0.8M79.1 773.5h0.8M88.1 714.7h0.8M56.9 761.8h0.8M57.2 765.4h0.8M80.6 763.2h0.8M85.5 741.7h0.8M85 717.2h0.8M59.8 753.1h0.8M90.9 738.9h0.8M57.9 740.8h0.8M83.3 710.8h0.8M82.6 711h0.8M72 776.2h0.8M53.6 769.5h0.8M51.8 755.1h0.8M75.3 774.6h0.8M79.4 764.6h0.8M72.2 776.4h0.8M81.9 706.3h0.8M77.7 767.7h0.8M77.7 775h0.8M68.5 778.2h0.8M78.1 707h0.8M81.7 767.9h0.8M85.7 736.6h0.8M81.8 774.4h0.8M87.6 720.7h0.8M72.1 776.2h0.8M85.1 699.5h0.8M74.7 775.4h0.8M59.6 751.7h0.8M60.2 773.2h0.8M81.4 708.8h0.8M58.5 764.9h0.8M87.7 746.7h0.8M84 725.1h0.8M80.4 712.8h0.8M66.2 729.5h0.8M58 765.7h0.8M80.9 764.4h0.8M65.4 778.4h0.8M58.2 767.8h0.8M78.3 780.5h0.8M85.6 722.3h0.8M88.1 699h0.8M57.9 750.4h0.8" stroke="#9a9aff" stroke-opacity="0.8" stroke-width="0.8" fill="none"/>
<path d="M61.9 769.7h0.8M63.8 746.5h0.8M80.7 741.3h0.8M75.3 720.2h0.8M75 765.5h0.8M65.1 764.7h0.8M71.4 724.8h0.8M74.5 722h0.8M81.8 735.5h0.8M81.8 717.8h0.8M60.8 749.4h0.8M82.6 721.2h0.8M61.3 762.9h0.8M69.6 735.6h0.8M61.3 763.1h0.8M65.5 743.5h0.8M80.6 726.7h0.8M80.7 751.6h0.8M62 758h0.8M74.3 719.4h0.8M60.3 753.5h0.8M81.6 753.7h0.8M70.3 734.6h0.8M83.5 741.1h0.8M69.3 770.4h0.8M60.3 759.8h0.8M63.4 758.8h0.8M64.6 749.4h0.8M79.7 728.1h0.8M71.8 767.8h0.8M73 765.5h0.8M71.3 772.6h0.8M67.1 770.3h0.8M78.2 758.5h0.8M72.6 729.3h0.8M68.3 730.6h0.8M80.2 715.2h0.8M68.2 737.3h0.8M62.1 746.3h0.8M83 727.7h0.8M82.4 743.7h0.8M76.9 765h0.8M81.4 748.5h0.8M80.7 738.7h0.8M64.6 775.3h0.8M61.4 758.5h0.8M80.1 713.8h0.8M81.7 725h0.8M83.7 724.8h0.8M62.2 757.3h0.8M80.3 734.6h0.8M70.6 767.5h0.8M75.9 719h0.8M67.2 777.1h0.8M66.9 775.1h0.8M79.7 726.5h0.8M80 715.1h0.8M68.8 732.3h0.8M63.2 746h0.8M79.1 727.9h0.8M75.3 725.7h0.8M65 743.4h0.8M79.6 757h0.8M70.9 731.6h0.8M82.6 754.6h0.8M82.6 725.7h0.8M59.9 756.4h0.8M81.9 729.4h0.8M62.1 745.4h0.8M78.9 716.4h0.8M78.2 757.6h0.8M65.8 772.7h0.8M74.8 726.5h0.8M78.4 762.3h0.8M70.5 772.8h0.8M67.8 738.5h0.8M77.4 726h0.8M80.7 736.7h0.8M64.6 776.7h0.8M63.6 748.8h0.8M64.3 752.5h0.8M64.8 768.7h0.8M64 774.9h0.8M71.8 767.9h0.8M63.5 761.9h0.8M75.4 763.5h0.8M68.6 733.3h0.8M64.7 775.2h0.8M79 754.8h0.8M80.9 750h0.8M80.7 740.7h0.8M62.6 746.7h0.8M78.8 723.2h0.8M80.7 737.3h0.8M63.8 771.3h0.8M80.3 747.9h0.8M67.9 769.6h0.8M66.4 737h0.8M64.2 748.2h0.8M80.8 722h0.8M82.5 736.3h0.8M81.2 738.3h0.8M71.9 771h0.8M70.1 735.1h0.8M63.4 751.9h0.8M70.5 775.2h0.8M61.3 764h0.8M67.6 769.1h0.8M66.8 742.1h0.8M61.2 754.5h0.8M81.8 723.5h0.8M73.1 764.8h0.8M81 724.8h0.8M64 751.6h0.8M63.5 768h0.8M80.4 761.4h0.8M76.7 765.8h0.8M63.8 769.4h0.8M61.6 766.7h0.8M77.5 759.4h0.8M82.9 751h0.8M64.9 739.6h0.8M62.4 761.2h0.8M63.7 767.6h0.8M68.3 767.9h0.8M64.3 775.2h0.8M81.9 717.7h0.8M78.9 754.3h0.8M62.2 752.9h0.8M70.6 734.1h0.8M74.6 722.1h0.8M70.3 768.9h0.8M81.9 731.3h0.8M74.8 766h0.8M65.1 770.4h0.8M79.2 722.4h0.8M72.1 730.1h0.8M82.5 724.4h0.8M70.6 732.3h0.8M67 738h0.8M69.1 768.5h0.8M83.5 745.4h0.8M82 723h0.8M65.6 738.7h0.8M74.6 764.2h0.8M79.9 726.3h0.8M65.9 744.1h0.8M77.6 722.7h0.8M78.1 725.7h0.8M61.5 760.3h0.8M78.7 759h0.8M73 721.5h0.8M63.1 746.4h0.8M67 776.9h0.8M65.4 771.6h0.8M63.1 767.2h0.8M65.7 745.1h0.8M81.2 751.5h0.8M79.4 758.1h0.8M62.7 743.2h0.8M79 725.8h0.8M67.3 738.5h0.8M75.8 763.7h0.8M64.9 773.8h0.8M73.6 766h0.8M65 745.3h0.8M66 773.4h0.8M62.2 754h0.8M77.3 763.1h0.8M81.8 752.1h0.8M83 726.7h0.8M73 728.9h0.8M65.3 766.9h0.8M69.8 734.5h0.8M83.8 744.1h0.8M81.3 722.8h0.8M78.3 756.4h0.8M67.9 769.1h0.8M71.4 769.7h0.8" stroke="#5560ff" stroke-opacity="0.85" stroke-width="0.8" fill="none"/>
<clipPath id="c8"><rect x="11" y="694.5" width="83.4" height="87.2"/></clipPath><g clip-path="url(#c8)">
<g transform="translate(72.2 749.3) rotate(-77)" filter="url(#gr)"><path d="M-26 0C-26 -8 -6.5 -9.4 10.2 -7.1C22.1 -5.7 34 -4.1 34 0C34 4.1 22.1 5.7 10.2 7.1C-6.5 9.4 -26 8 -26 0Z" fill="#8080ff" fill-opacity="0.42"/><path d="M-20.8 0C-20.8 -6.4 -5.2 -7.5 8.2 -5.7C17.7 -4.6 27.2 -3.3 27.2 0C27.2 3.3 17.7 4.6 8.2 5.7C-5.2 7.5 -20.8 6.4 -20.8 0Z" fill="#3038f8" fill-opacity="0.95"/></g>
<g transform="translate(72.2 749.3) rotate(-77)" filter="url(#bl)"><path d="M-16.1 0C-16.1 -4.9 -4 -5.8 6.3 -4.4C13.7 -3.5 21.1 -2.5 21.1 0C21.1 2.5 13.7 3.5 6.3 4.4C-4 5.8 -16.1 4.9 -16.1 0Z" fill="#1f8cf5" fill-opacity="0.95"/><path d="M-13 0C-13 -4 -3.2 -4.7 5.1 -3.6C11.1 -2.9 17 -2 17 0C17 2 11.1 2.9 5.1 3.6C-3.2 4.7 -13 4 -13 0Z" fill="#22c4b8" fill-opacity="1"/><path d="M-10.4 0C-10.4 -3.2 -2.6 -3.8 4.1 -2.9C8.8 -2.3 13.6 -1.6 13.6 0C13.6 1.6 8.8 2.3 4.1 2.9C-2.6 3.8 -10.4 3.2 -10.4 0Z" fill="#3fd44a" fill-opacity="1"/><path d="M-4.4 0C-4.4 -1.3 -1.1 -1.6 1.7 -1.2C3.7 -1 5.7 -0.7 5.7 0C5.7 0.7 3.7 1 1.7 1.2C-1.1 1.6 -4.4 1.3 -4.4 0Z" fill="#cce42a" fill-opacity="1"/></g>
</g>
<path d="M68.2 754.9h0.8M68.9 757h0.8M69.6 747.3h0.8M69.7 748.7h0.8M69.4 742.4h0.8M67 758.4h0.8M68.4 751.9h0.8M71.9 756.1h0.8M76.3 752.4h0.8M69.4 751.1h0.8M71.3 756.5h0.8M68.6 752.4h0.8M72.4 755.5h0.8M68.3 751.2h0.8M76.9 748.1h0.8M68.6 749.4h0.8M73.4 753.4h0.8M77.2 746.6h0.8M73.1 754.3h0.8M67.5 761.1h0.8M75.8 740.5h0.8M75 752h0.8M69 754.8h0.8M75.1 754.9h0.8" stroke="#1f8cf5" stroke-opacity="0.8" stroke-width="0.8" fill="none"/>
<path d="M73.1 749h0.8M72.6 746.7h0.8M71.8 745.8h0.8M71.1 751.9h0.8M72.1 750.2h0.8M70.4 752.2h0.8M73.7 749.1h0.8M72.5 746.5h0.8" stroke="#cce42a" stroke-opacity="0.8" stroke-width="0.8" fill="none"/>
<path d="M70.3 742h0.8M76.3 739.9h0.8M68.9 743.2h0.8M68.5 745h0.8M74.2 734.8h0.8M65.4 758.8h0.8M67.2 765.7h0.8M60.2 762.6h0.8M67.6 757.3h0.8M70.6 765.5h0.8M73.7 757.8h0.8M70.5 759.3h0.8M73.7 732.1h0.8M76.9 739h0.8M78 734.2h0.8M76.9 748.1h0.8M75.9 740.3h0.8M64.5 762.2h0.8M74.2 733.1h0.8M77 741.5h0.8M70 734.9h0.8M74.2 755h0.8M62.4 759h0.8M65 765.3h0.8M72.5 736.2h0.8M72.1 767.9h0.8M74.2 733.9h0.8M72.2 764.8h0.8M71.1 760.4h0.8M65.8 756.4h0.8" stroke="#3038f8" stroke-opacity="0.8" stroke-width="0.8" fill="none"/>
<path d="M73.5 738.1h0.8M70.9 758.9h0.8M72.7 752.6h0.8M67.9 752.9h0.8M71.5 754.2h0.8M69.2 754.9h0.8M69 756h0.8M74.1 740.3h0.8M68.7 752.9h0.8M76.2 740.9h0.8M74.2 756.1h0.8M68.1 753.3h0.8M69.1 754.5h0.8M75.8 742.1h0.8M70 755.8h0.8M70.7 747.4h0.8M74.2 741.6h0.8M74.8 753h0.8M71.7 745.5h0.8M70.1 754.3h0.8M71.8 757.5h0.8M70.8 755.6h0.8M75.8 740.5h0.8" stroke="#22c4b8" stroke-opacity="0.8" stroke-width="0.8" fill="none"/>
<path d="M72.8 753.8h0.8M69.5 752.7h0.8M74.8 751.6h0.8M69.3 753.6h0.8M72.2 752.3h0.8M71.4 754.6h0.8M70.7 751.2h0.8M71.2 747.2h0.8M72.7 741.6h0.8M73.3 752.7h0.8M71.7 744.1h0.8M72.6 754.4h0.8M73.9 751.8h0.8M74.7 740.7h0.8M75 744.8h0.8M75 741.4h0.8M74.7 746.4h0.8M75.5 747.4h0.8M72.7 753.9h0.8M71.7 754.8h0.8M74.1 739.3h0.8M69.7 748.8h0.8M72.3 746h0.8M72.8 743.5h0.8M70.5 750.6h0.8" stroke="#3fd44a" stroke-opacity="0.8" stroke-width="0.8" fill="none"/>
<path transform="translate(10.5 694)" d="M53.5 21.3L76.2 21.3L76.2 79.6L55.1 80.9C51.5 76.5 48 68 47.2 60C46.7 54 47.4 46 49.4 38Z" fill="none" stroke="#3a3a3a" stroke-width="0.75"/>
<text x="76.2" y="713" font-size="7.2" font-weight="bold" text-anchor="middle" fill="#151515" stroke="#151515" stroke-width="0.3">13470</text>
<rect x="107.6" y="694" width="84.4" height="88.2" fill="#fff" stroke="#8c8c8c" stroke-width="0.6"/>
<text x="104.6" y="782.96" font-size="2.4" font-weight="normal" text-anchor="end" fill="#555">0</text>
<text x="104.6" y="759.93" font-size="2.4" font-weight="normal" text-anchor="end" fill="#555">500</text>
<text x="104.6" y="736.9" font-size="2.4" font-weight="normal" text-anchor="end" fill="#555">1.0K</text>
<text x="104.6" y="713.87" font-size="2.4" font-weight="normal" text-anchor="end" fill="#555">1.5K</text>
<text x="110.4" y="787.4" font-size="2.4" font-weight="normal" text-anchor="middle" fill="#555">10<tspan dy="-1.08" font-size="1.68">0</tspan></text>
<text x="121.75" y="787.4" font-size="2.4" font-weight="normal" text-anchor="middle" fill="#555">10<tspan dy="-1.08" font-size="1.68">1</tspan></text>
<text x="133.1" y="787.4" font-size="2.4" font-weight="normal" text-anchor="middle" fill="#555">10<tspan dy="-1.08" font-size="1.68">2</tspan></text>
<text x="144.45" y="787.4" font-size="2.4" font-weight="normal" text-anchor="middle" fill="#555">10<tspan dy="-1.08" font-size="1.68">3</tspan></text>
<text x="155.8" y="787.4" font-size="2.4" font-weight="normal" text-anchor="middle" fill="#555">10<tspan dy="-1.08" font-size="1.68">4</tspan></text>
<text x="167.15" y="787.4" font-size="2.4" font-weight="normal" text-anchor="middle" fill="#555">10<tspan dy="-1.08" font-size="1.68">5</tspan></text>
<text x="178.5" y="787.4" font-size="2.4" font-weight="normal" text-anchor="middle" fill="#555">10<tspan dy="-1.08" font-size="1.68">6</tspan></text>
<text x="189.85" y="787.4" font-size="2.4" font-weight="normal" text-anchor="middle" fill="#555">10<tspan dy="-1.08" font-size="1.68">7</tspan></text>
<path d="M105.5 782.1H107.6M105.5 759.1H107.6M105.5 736H107.6M105.5 713H107.6M108.8 782.2V784M120.1 782.2V784M131.5 782.2V784M142.8 782.2V784M154.2 782.2V784M165.6 782.2V784M176.9 782.2V784M188.2 782.2V784" stroke="#333" stroke-width="0.7" fill="none"/>
<path d="M106.6 782.1H107.6M106.6 777.5H107.6M106.6 772.9H107.6M106.6 768.3H107.6M106.6 763.7H107.6M106.6 759.1H107.6M106.6 754.5H107.6M106.6 749.9H107.6M106.6 745.3H107.6M106.6 740.6H107.6M106.6 736H107.6M106.6 731.4H107.6M106.6 726.8H107.6M106.6 722.2H107.6M106.6 717.6H107.6M106.6 713H107.6M106.6 708.4H107.6M106.6 703.8H107.6M106.6 699.2H107.6M108.2 782.2V783.2M112.2 782.2V783.2M114.2 782.2V783.2M115.6 782.2V783.2M116.7 782.2V783.2M117.7 782.2V783.2M118.4 782.2V783.2M119 782.2V783.2M119.6 782.2V783.2M123.6 782.2V783.2M125.6 782.2V783.2M127 782.2V783.2M128.1 782.2V783.2M129 782.2V783.2M129.8 782.2V783.2M130.4 782.2V783.2M130.9 782.2V783.2M134.9 782.2V783.2M136.9 782.2V783.2M138.3 782.2V783.2M139.4 782.2V783.2M140.4 782.2V783.2M141.1 782.2V783.2M141.7 782.2V783.2M142.3 782.2V783.2M146.3 782.2V783.2M148.3 782.2V783.2M149.7 782.2V783.2M150.8 782.2V783.2M151.7 782.2V783.2M152.5 782.2V783.2M153.1 782.2V783.2M153.6 782.2V783.2M157.6 782.2V783.2M159.6 782.2V783.2M161 782.2V783.2M162.1 782.2V783.2M163.1 782.2V783.2M163.8 782.2V783.2M164.4 782.2V783.2M165 782.2V783.2M169 782.2V783.2M171 782.2V783.2M172.4 782.2V783.2M173.5 782.2V783.2M174.4 782.2V783.2M175.2 782.2V783.2M175.8 782.2V783.2M176.3 782.2V783.2M180.3 782.2V783.2M182.3 782.2V783.2M183.7 782.2V783.2M184.8 782.2V783.2M185.8 782.2V783.2M186.5 782.2V783.2M187.1 782.2V783.2M187.7 782.2V783.2M191.7 782.2V783.2" stroke="#777" stroke-width="0.4" fill="none"/>
<path d="M158.8 758.6h0.8M131.3 771.8h0.8M157.5 751.5h0.8M135.1 754.3h0.8M156.2 747.5h0.8M124.8 761h0.8M155.3 747.6h0.8M137.1 778.9h0.8M125.1 767.1h0.8M158.7 763.7h0.8M127.4 764.5h0.8M160.7 749.5h0.8M154.8 780.4h0.8M124.6 763.3h0.8M126.9 760.2h0.8M129 775.3h0.8M161.4 747.1h0.8M138.2 779.7h0.8M137.9 780.6h0.8M130.9 758.3h0.8M157 749.5h0.8M156.1 769.8h0.8M159.4 751h0.8M142.2 753h0.8M128.4 760.1h0.8M151.2 746.4h0.8M157.6 766.9h0.8M141.2 780.7h0.8M145.9 780.6h0.8M154.8 741.2h0.8M133.6 779.3h0.8M163.1 760.8h0.8M158.1 757h0.8M127.6 760.5h0.8M129.6 771.5h0.8M159.2 754.5h0.8M128.9 773.6h0.8M130.8 771.3h0.8M129.4 770.7h0.8M149.9 778.3h0.8M131.1 776.1h0.8M154.9 777.1h0.8M161.9 759.6h0.8M133.1 775.2h0.8M158 762.5h0.8M153.7 776.6h0.8M151.2 746.8h0.8" stroke="#9a9aff" stroke-opacity="0.8" stroke-width="0.8" fill="none"/>
<path d="M153.6 772.9h0.8M146 777.1h0.8M131.6 762.7h0.8M148.3 772.9h0.8M142.3 775.8h0.8M132.4 764.3h0.8M135.1 763h0.8M140.9 776.4h0.8M151 769.7h0.8M154.3 767.3h0.8M133.9 769.9h0.8M145.1 754.3h0.8M148.2 774.2h0.8M155.6 760.4h0.8M138.9 775.8h0.8M141.1 757.2h0.8M137.9 759.8h0.8M145.9 753.2h0.8M152.2 774.8h0.8M151.8 754.8h0.8M134.6 764h0.8M139.6 774.4h0.8M146.3 775.6h0.8M133 763.8h0.8M148.3 777.6h0.8M135.4 773.6h0.8M152.2 762h0.8M150.8 756.3h0.8M136 771.7h0.8M133.5 758.2h0.8M153.3 765.4h0.8M141.8 776.2h0.8M132.1 771h0.8M131.5 769.4h0.8M154.7 768.2h0.8M138.3 773.7h0.8M153.3 766.8h0.8M130.8 762.4h0.8M147.3 778h0.8M147.8 755.1h0.8M144.3 754.3h0.8M152.9 763.2h0.8M145.7 777h0.8M151.7 765.7h0.8M135.7 772.5h0.8M153.1 772.1h0.8M152.3 757.2h0.8M132.2 761.1h0.8M145.5 774.4h0.8M148.8 755.1h0.8M142.6 756.5h0.8M150.7 755.6h0.8M137 758.7h0.8M133.9 770.4h0.8M132.8 759.9h0.8M152 755h0.8M133.7 768.8h0.8M134.6 771.1h0.8M139.4 756.6h0.8M137.2 774h0.8M145.8 778.5h0.8M139.3 776.4h0.8M150.3 755.6h0.8M148.3 773.6h0.8M136.7 772.9h0.8M147.5 775.5h0.8M137.8 772.7h0.8M132.3 761.6h0.8M153.7 766.1h0.8M152.5 762.6h0.8M140.4 757.1h0.8M147 752.8h0.8M142.4 754h0.8M149.6 752.2h0.8M150.4 773.3h0.8" stroke="#5560ff" stroke-opacity="0.85" stroke-width="0.8" fill="none"/>
<path d="M146 764.1h0.8M143.8 762.6h0.8M144.7 762.4h0.8M138.2 766.2h0.8M140.7 765.3h0.8M147.6 769.3h0.8M143.6 769.8h0.8M150.4 764.6h0.8M150 765.1h0.8M136.4 766.2h0.8M151.3 763.5h0.8M146.8 770h0.8M145.6 759.9h0.8M137.6 767.4h0.8M150.1 766.6h0.8M137.9 764h0.8M136.9 768.4h0.8M139.9 764.2h0.8M138.4 768.6h0.8M149.3 758.8h0.8M144.6 763h0.8M139.4 771.8h0.8M140.4 770.9h0.8M140.2 761.8h0.8M139.9 766.8h0.8M142.7 771.8h0.8M147.9 760.7h0.8M144.4 774.4h0.8M144.7 771.5h0.8M138.2 766.9h0.8M140.1 772.2h0.8M143.1 767.1h0.8M143.6 773.7h0.8M140.8 769.2h0.8M145.5 758.8h0.8M142.1 773.4h0.8M147.8 767.6h0.8M144.7 768.5h0.8M150.3 762.8h0.8M140 765h0.8M141.3 763.7h0.8M142.8 771h0.8M141.4 761.8h0.8M138.3 764.3h0.8M145.7 762.2h0.8M144 765.4h0.8M143.7 764.3h0.8M140.8 763.6h0.8M143.8 762.7h0.8M148.7 770.2h0.8M144.8 769h0.8M134.7 766.6h0.8M150.4 763.5h0.8M135.5 769.2h0.8M139.6 768.6h0.8M143.3 767.7h0.8M140.4 761.9h0.8M139.7 769.6h0.8M150.4 765.8h0.8M139.4 769h0.8M144 770h0.8M137.8 762.3h0.8M147.7 771.5h0.8M143.1 769.4h0.8M139.1 772.8h0.8M143.7 760.2h0.8M141.6 771.8h0.8M139.1 762.7h0.8M137.5 769.4h0.8M137.4 772.2h0.8M140.9 766.3h0.8M142.8 765.9h0.8M148.7 766.3h0.8M137.3 768.2h0.8M142 773.8h0.8M135.1 764.5h0.8M140.7 769.4h0.8M142.9 763.9h0.8M143.3 764.1h0.8M135.7 763.5h0.8M138.7 766.5h0.8M141.2 764.7h0.8M140.5 770.3h0.8M143.1 763.3h0.8M138.8 764h0.8M146.5 762.5h0.8M136.1 765.4h0.8M141.1 772.5h0.8M140.2 763.5h0.8M146.9 765.1h0.8M140.4 765h0.8M147.6 759.6h0.8M146.5 758.5h0.8M149.4 757.5h0.8M136.7 767h0.8M142.8 765.5h0.8M140.2 771.8h0.8M140 767h0.8M147.8 761.8h0.8M140.3 764.8h0.8M145.6 768h0.8M149.2 760.4h0.8M147.3 760.2h0.8M145.4 760.9h0.8M136.2 767.7h0.8M149.5 760.6h0.8M138.1 765.3h0.8M140.6 765.7h0.8M142.1 760.9h0.8M142.9 772.9h0.8M141.4 765.4h0.8M144 769h0.8M145.4 760.5h0.8M137.7 768.2h0.8M139.3 764.8h0.8M145.6 761.1h0.8M142.8 766.8h0.8M141.3 761.1h0.8M148.9 759.5h0.8M149.3 757.1h0.8M145.8 769.9h0.8M146.9 770.4h0.8M149.1 759.8h0.8M135.3 767.7h0.8M144 766.1h0.8M142 762.4h0.8M149.8 767.2h0.8M145.6 770.9h0.8M147.1 771.6h0.8M140.6 770.8h0.8" stroke="#3d55ff" stroke-opacity="0.9" stroke-width="0.8" fill="none"/>
<path d="M150.5 739.4h0.8M133.5 777.2h0.8M155.8 740.2h0.8M156.3 734.7h0.8M129.1 769.8h0.8M131.3 774.8h0.8M156.4 739.6h0.8M137.4 748.1h0.8M152.6 735.2h0.8M150.9 776.5h0.8M142.3 748.7h0.8M157.6 744.6h0.8M138.8 747.9h0.8M157.2 757.6h0.8M155.2 742.2h0.8M157.1 752.7h0.8M153 739.8h0.8M129.9 763.4h0.8M132.8 757.8h0.8M159.6 773.1h0.8M144.6 779.4h0.8M132.6 776.1h0.8M162.8 779.2h0.8M158.4 732.4h0.8M127.8 778.5h0.8M141.9 744.6h0.8M155.1 742.7h0.8M129.5 766h0.8M156.9 774.9h0.8M160.3 742.4h0.8M160.4 760.8h0.8M152.9 735.9h0.8M156.5 738.8h0.8M137.7 748.4h0.8M135.5 774.9h0.8M160.9 778.6h0.8M144.2 780.8h0.8M142.1 749h0.8M138.4 747.3h0.8M148.3 735.5h0.8M139.3 777.3h0.8M129.6 761.7h0.8M158.2 771.8h0.8M134.5 775h0.8M127.1 777.5h0.8M148.2 778.3h0.8M130.4 769.2h0.8M155.8 741.4h0.8M157.8 743.6h0.8M156.5 744.7h0.8M151.9 778.7h0.8M148.3 777.8h0.8M162 770.3h0.8M157.1 771.5h0.8M137.6 752.8h0.8M131.1 772.1h0.8M146.3 745.4h0.8M157.6 749.2h0.8M133.8 772.1h0.8M146.4 745.2h0.8M140.8 776.4h0.8M126.8 768.6h0.8M133.8 745.5h0.8M161.2 772.4h0.8M158.1 748.7h0.8M158.6 740.2h0.8M130.5 766.1h0.8M132.5 755.5h0.8M134.7 775.7h0.8M153.9 725.1h0.8M162.8 769.7h0.8M133.2 771.3h0.8M128.3 768.3h0.8M160.2 773h0.8M155.8 776.2h0.8M129.6 767.9h0.8M120.8 759.1h0.8M158.2 748.2h0.8M158.1 740h0.8M137.5 779.5h0.8M156.1 735.7h0.8M158.8 762.3h0.8M153.6 778.7h0.8M124.6 770.7h0.8M129.7 764.5h0.8M138.8 751.8h0.8M122.6 770h0.8M155.6 739h0.8M153.6 725.6h0.8M126.8 755.4h0.8M156.4 746.8h0.8M156.5 737.4h0.8M159.4 766.3h0.8M157.2 742.8h0.8M126.4 763.1h0.8M153.2 737.8h0.8M131 772.8h0.8M160.7 775.8h0.8M159.4 765.3h0.8M138 778.2h0.8M135.7 775.4h0.8M165 770.9h0.8M155.9 743.1h0.8M160.5 752.7h0.8M130.2 765.7h0.8M135.9 746.9h0.8M159.8 737.5h0.8M149.7 739.2h0.8M146.2 778.5h0.8M156.4 741h0.8M130 762h0.8M163.6 746.5h0.8M158.9 737.2h0.8M128.3 763.5h0.8M158.3 733h0.8M154.7 775.9h0.8M135.4 749h0.8M128.2 766.2h0.8M158.9 761.6h0.8M147.3 777.4h0.8M138.1 779.1h0.8M137.7 779.6h0.8" stroke="#9a9aff" stroke-opacity="0.8" stroke-width="0.8" fill="none"/>
<path d="M134.6 766.9h0.8M145.7 750.2h0.8M150.6 750.5h0.8M154.6 743.4h0.8M138.2 774h0.8M156.1 753.4h0.8M154.8 769.4h0.8M156.3 770.5h0.8M146.2 774.1h0.8M142.1 774.1h0.8M152.1 744.8h0.8M136.6 758.4h0.8M155.3 758.2h0.8M152.4 751h0.8M140.9 776.3h0.8M143.7 776.9h0.8M139.3 772.6h0.8M151.3 774.4h0.8M145.4 750.9h0.8M151 744.5h0.8M149.2 748.4h0.8M150.2 771.8h0.8M132.8 760.1h0.8M138.3 757.7h0.8M136.8 769.8h0.8M141.6 776.1h0.8M134 765.7h0.8M150.3 775.3h0.8M148.7 746.4h0.8M154.2 772h0.8M138.6 772.7h0.8M137.9 757.1h0.8M156 770h0.8M142 773.5h0.8M132.6 760.4h0.8M143.3 776.2h0.8M141.9 773h0.8M133.4 769.2h0.8M147.1 746.7h0.8M153.8 773.4h0.8M135.6 772.9h0.8M147.4 750.3h0.8M151.9 745.1h0.8M155.8 766.3h0.8M148.4 747.8h0.8M131.7 766.3h0.8M137.7 771h0.8M137.8 774.4h0.8M155 760h0.8M154.2 752h0.8M145.8 749.6h0.8M136.1 769.6h0.8M142.3 773.7h0.8M136.9 769.1h0.8M134.9 764.2h0.8M144 753.2h0.8M155.5 754h0.8M136.1 773.5h0.8M150 773.7h0.8M152.6 746.2h0.8M148.8 776.2h0.8M153.8 772.4h0.8M132.5 761.7h0.8M148.9 774.3h0.8M147.1 750.3h0.8M137.9 771.1h0.8M134 760.8h0.8M136.6 768.4h0.8M155.5 764.9h0.8M143.7 751.8h0.8M151.8 770.6h0.8M142.3 751h0.8M138.9 775h0.8M137.4 770.1h0.8M140.3 773.5h0.8M155.6 766.5h0.8M146.8 773h0.8M149.7 745.6h0.8M151.5 770.5h0.8M152.7 748.2h0.8M137.8 770h0.8M136.1 758.4h0.8M142.6 752.1h0.8M133.9 759.7h0.8M155.8 771.8h0.8M134.1 763.1h0.8M154.1 762.6h0.8M150.3 747.6h0.8M145.2 773.8h0.8M155.2 759.5h0.8M140.1 772.1h0.8M154.1 747.6h0.8M154.2 764.6h0.8M152.7 769.7h0.8M153.3 755.6h0.8M156.5 766h0.8M133.9 767.9h0.8M145.5 774h0.8M152.6 771.8h0.8M153.3 754.1h0.8M148.1 749.1h0.8M151.6 751h0.8M144.3 750.6h0.8M148.7 774.5h0.8M135.7 763.6h0.8M152.7 746.8h0.8M137.8 756.6h0.8M133.7 761.8h0.8M138.4 774.1h0.8M134.3 764h0.8M137.2 774.2h0.8M146.1 774.6h0.8M136.4 773.8h0.8M153.7 769.1h0.8M152.4 772h0.8M152.6 769.4h0.8M146.6 777.2h0.8M155.5 752.5h0.8M156.7 759.3h0.8M149.5 775.6h0.8M139.2 774.1h0.8M133.6 766.7h0.8M140.3 772.3h0.8M145.6 751.5h0.8M153.3 759.1h0.8M156.8 757.8h0.8M153.5 763.3h0.8M149.9 775.5h0.8M135.9 762.6h0.8M135 757.6h0.8M154.6 755.3h0.8M132.5 761.9h0.8M132.7 766.3h0.8M140.4 752.2h0.8M156.8 769h0.8M135.5 766.4h0.8M155 763.4h0.8M136.2 772.5h0.8M134.7 764.5h0.8M152.9 756h0.8M155.9 751.3h0.8M143.5 773.5h0.8M136 767.9h0.8M145.8 775.1h0.8M143.8 749.7h0.8M150.5 747.3h0.8M149.2 745.7h0.8M150.2 772.7h0.8M145 751.1h0.8M137.3 754.8h0.8M135.2 759.8h0.8M153.5 752.1h0.8M140.7 772.4h0.8M156.4 750.2h0.8M135.5 773.2h0.8M151.1 771.9h0.8M153.3 742.6h0.8M156.5 765.1h0.8M155.6 766.4h0.8M136.4 761.2h0.8M135.3 766.8h0.8M149.3 744.5h0.8M153.5 748.2h0.8M145.3 775.6h0.8" stroke="#5560ff" stroke-opacity="0.85" stroke-width="0.8" fill="none"/>
<clipPath id="c9"><rect x="108.1" y="694.5" width="83.4" height="87.2"/></clipPath><g clip-path="url(#c9)">
<g transform="translate(144 765.9) rotate(-68)" filter="url(#gr)"><path d="M-10 0C-10 -10 -2.5 -11.8 7.5 -8.3C16.2 -5.9 25 -2.8 25 0C25 2.8 16.2 5.9 7.5 8.3C-2.5 11.8 -10 10 -10 0Z" fill="#8080ff" fill-opacity="0.38"/><path d="M-8.6 0C-8.6 -8 -2.1 -9.4 6 -6.6C13 -4.7 20 -2.2 20 0C20 2.2 13 4.7 6 6.6C-2.1 9.4 -8.6 8 -8.6 0Z" fill="#3038f8" fill-opacity="0.85"/></g>
<g transform="translate(144 765.9) rotate(-68)" filter="url(#bl)"><path d="M-7.3 0C-7.3 -6.2 -1.8 -7.3 4.6 -5.1C10.1 -3.6 15.5 -1.7 15.5 0C15.5 1.7 10.1 3.6 4.6 5.1C-1.8 7.3 -7.3 6.2 -7.3 0Z" fill="#1f8cf5" fill-opacity="0.95"/><path d="M-6.5 0C-6.5 -5 -1.6 -5.9 3.8 -4.1C8.1 -2.9 12.5 -1.4 12.5 0C12.5 1.4 8.1 2.9 3.8 4.1C-1.6 5.9 -6.5 5 -6.5 0Z" fill="#22c4b8" fill-opacity="1"/><path d="M-5.8 0C-5.8 -4 -1.4 -4.7 3 -3.3C6.5 -2.4 10 -1.1 10 0C10 1.1 6.5 2.4 3 3.3C-1.4 4.7 -5.8 4 -5.8 0Z" fill="#3fd44a" fill-opacity="1"/><path d="M-5.2 0C-5.2 -3.1 -1.3 -3.6 2.3 -2.6C5 -1.8 7.7 -0.8 7.7 0C7.7 0.8 5 1.8 2.3 2.6C-1.3 3.6 -5.2 3.1 -5.2 0Z" fill="#cce42a" fill-opacity="1"/><path d="M-5.3 0C-5.3 -3.2 -1.3 -3.8 2.4 -2.7C5.3 -1.9 8.1 -0.9 8.1 0C8.1 0.9 5.3 1.9 2.4 2.7C-1.3 3.8 -5.3 3.2 -5.3 0Z" fill="#ff8a1a" fill-opacity="1"/><path d="M-4.3 0C-4.3 -1.9 -1.1 -2.2 1.4 -1.6C3 -1.1 4.7 -0.5 4.7 0C4.7 0.5 3 1.1 1.4 1.6C-1.1 2.2 -4.3 1.9 -4.3 0Z" fill="#f0301e" fill-opacity="1"/></g>
</g>
<path d="M146 763.2h0.8M144.7 761.4h0.8M143.2 766.9h0.8M141.3 764.6h0.8M144.6 762.8h0.8" stroke="#ff8a1a" stroke-opacity="0.8" stroke-width="0.8" fill="none"/>
<path d="M150.5 768.4h0.8M137.3 771.8h0.8M138.7 763.8h0.8M153.1 760.4h0.8M140.9 759.7h0.8M141 758.3h0.8M147.6 771.6h0.8M133.5 768.1h0.8M150.7 754h0.8M148.4 749.6h0.8M145.1 771.3h0.8M154.2 772.8h0.8M142.4 754.8h0.8M153.9 752.6h0.8" stroke="#3038f8" stroke-opacity="0.8" stroke-width="0.8" fill="none"/>
<path d="M139.7 764.5h0.8M141 759.3h0.8M148 755.7h0.8M150.1 765.9h0.8M141.3 761.2h0.8M148.5 762.7h0.8M143.5 758.5h0.8M139.4 766.7h0.8M141.5 760.3h0.8M143.6 759.8h0.8M146.4 768.9h0.8M140.6 767.7h0.8M141.9 760.7h0.8M144.6 769.9h0.8M148.8 766.7h0.8M150.8 761.9h0.8M150.2 758h0.8" stroke="#1f8cf5" stroke-opacity="0.8" stroke-width="0.8" fill="none"/>
<path d="M146.1 762.5h0.8M140.8 765.2h0.8M146.7 762.9h0.8M145.1 768.8h0.8M143.9 768.4h0.8" stroke="#3fd44a" stroke-opacity="0.8" stroke-width="0.8" fill="none"/>
<path d="M144.7 769.2h0.8M147.5 767.7h0.8M140.7 765.6h0.8M147.9 769.7h0.8M141.3 768.5h0.8M148.2 766.5h0.8M148.1 755.4h0.8M149.4 760.6h0.8M140.1 763.3h0.8M141.6 759.8h0.8M146.2 768h0.8" stroke="#22c4b8" stroke-opacity="0.8" stroke-width="0.8" fill="none"/>
<path d="M144.3 763.8h0.8M142.4 766.6h0.8M145.3 766.6h0.8M142.7 766.3h0.8M143.1 765.7h0.8M143.6 767h0.8" stroke="#f0301e" stroke-opacity="0.8" stroke-width="0.8" fill="none"/>
<path d="M143.5 767.6h0.8M141 764.8h0.8M146 768.7h0.8M144.4 768h0.8M147.2 767.6h0.8M146.3 765h0.8M147.9 764.9h0.8M142.5 768.5h0.8M143.3 767.5h0.8M145.4 762.9h0.8M146 768.9h0.8M147.3 768.1h0.8" stroke="#cce42a" stroke-opacity="0.8" stroke-width="0.8" fill="none"/>
<path d="M176.1 720.2h0.8M182.3 765h0.8M142.6 765.2h0.8M147 751.6h0.8M187.5 737.7h0.8M133.6 777.2h0.8M182.7 701.2h0.8M149.4 776.2h0.8M182.1 731.3h0.8M143.2 778.9h0.8M155.7 733.4h0.8M159.1 725.4h0.8M165.1 722h0.8M137.9 767.7h0.8M139.7 743.9h0.8M147.5 764.2h0.8M152.4 776.1h0.8M157.4 780h0.8M176.8 763.3h0.8M176.1 721.8h0.8M167.9 714.3h0.8M162.7 718.3h0.8M152.1 742.1h0.8M145.9 757.7h0.8M180.1 721.3h0.8M175 775.6h0.8M172.6 716h0.8M175.6 763.2h0.8M168 712.9h0.8M158.5 728.8h0.8M177.3 762.9h0.8M174.8 714.9h0.8M174.1 767.4h0.8M151.1 734.5h0.8M170.3 773.5h0.8M172.1 719.8h0.8M178.4 724.6h0.8M170.7 778.2h0.8M178.6 746.3h0.8M179.5 744h0.8M152.1 773.3h0.8M171.8 712.6h0.8M175.5 723.1h0.8M149.2 771.8h0.8M144.6 754.8h0.8M178.1 761.2h0.8M174.2 705.6h0.8M169.8 777.5h0.8M178.3 735.6h0.8M147.1 778.6h0.8M169 719.6h0.8M179.5 747.3h0.8M167.1 715.1h0.8M175.9 707h0.8M170.8 775h0.8M155.4 732.5h0.8M157.6 730.4h0.8M167.8 714.8h0.8M183.7 743.1h0.8M164.6 716.5h0.8M176.4 764.5h0.8M170.9 718.6h0.8M174.4 774.7h0.8M180 756.6h0.8M141.6 754.2h0.8M174.3 720.5h0.8M177.1 718.9h0.8M177.2 718.7h0.8M182.8 757.8h0.8M146.8 754.3h0.8M180.9 780.6h0.8M174.4 715.4h0.8M182.5 710h0.8M172.5 709.2h0.8M161.1 779.9h0.8M147.4 739.2h0.8M181.2 727.2h0.8M159.6 721.1h0.8M176.1 723.9h0.8M175.1 722.9h0.8M160.8 726.3h0.8M135.9 774.1h0.8M169.1 714.8h0.8M178.4 728.7h0.8M150.5 770.4h0.8M176.8 726.3h0.8M172 710.9h0.8M142.8 761.5h0.8M174.7 712.6h0.8M149.1 753.7h0.8M152.6 778.5h0.8M159.5 780.6h0.8M178.7 754.1h0.8M145.4 761.2h0.8M167.5 716.8h0.8M180.6 745.9h0.8M155.4 736.9h0.8M148.3 751.6h0.8M156.2 735.2h0.8" stroke="#9a9aff" stroke-opacity="0.72" stroke-width="0.8" fill="none"/>
<path d="M164.8 775.1h0.8M173.8 728.7h0.8M174.6 725.2h0.8M151.9 760.6h0.8M157.8 769.5h0.8M165 723h0.8M155.1 746.2h0.8M174.8 758.5h0.8M156 768.5h0.8M162.6 771.2h0.8M161.7 777.2h0.8M171.5 732.5h0.8M156.4 744.3h0.8M163 730.5h0.8M175.9 742.4h0.8M155.2 756.7h0.8M176.5 749.4h0.8M164.3 732.6h0.8M161.6 768.9h0.8M157.1 775.9h0.8M158.6 735.6h0.8M174.9 732.4h0.8M161.9 735.8h0.8M165.2 772.5h0.8M175.2 732.6h0.8M169 768.1h0.8M156.5 770.4h0.8M156.9 770.6h0.8M152.2 758.4h0.8M167.9 731.4h0.8M157.4 771.1h0.8M160.7 738.2h0.8M163.3 727.5h0.8M167 770.2h0.8M160 776.8h0.8M153.4 742.2h0.8M169.2 771.3h0.8M171.1 723.9h0.8M153.5 754.5h0.8M151.3 767.5h0.8M174.7 753.9h0.8M166 770.1h0.8M171.2 722.4h0.8M157.3 738h0.8M164.1 773.7h0.8M176.4 744.3h0.8M172.9 733.7h0.8M152 748.2h0.8M172.8 730h0.8M169.3 726.7h0.8M173.6 753.5h0.8M155.7 737.1h0.8M173.4 722.2h0.8M174 751.8h0.8M154.4 751.8h0.8M167.4 728h0.8M172.2 724.2h0.8M171.2 728.7h0.8M161.3 734.1h0.8M175.8 732.2h0.8M153.9 752.7h0.8M166.5 731.2h0.8M164.9 769h0.8M175.6 732h0.8M177.7 738.4h0.8M165.7 769.5h0.8M158.1 738.5h0.8M152 758.4h0.8M163.6 732.5h0.8M168.8 725.2h0.8M168.5 730.7h0.8M176.2 744.9h0.8M157.6 734.3h0.8M169.6 764.1h0.8M173.3 757.5h0.8M152.4 756.2h0.8M174.1 747.3h0.8M164 732.1h0.8M159.4 769h0.8M155.2 753.5h0.8M168 727.4h0.8M156.5 766.5h0.8M169.7 721.6h0.8M152.5 765.8h0.8M155.3 740.5h0.8M156.5 742.3h0.8M153.2 746.8h0.8M172.8 762.7h0.8M171.9 725.9h0.8M173.5 756.5h0.8M160.6 734.7h0.8M164.9 725.4h0.8M167 723.1h0.8M169.8 767.4h0.8M173.9 762.3h0.8M165 774.7h0.8M173.7 747.1h0.8M164.1 771.9h0.8M173 722.1h0.8M150.3 753.8h0.8M171.5 728.2h0.8M169.8 729.8h0.8M164.4 770.1h0.8M174 734.5h0.8M175.8 753.6h0.8M173.3 738.6h0.8M151.2 760.8h0.8M161.8 776.6h0.8M153.2 762.4h0.8M170.6 768h0.8M173.3 739.8h0.8M172.9 758h0.8M170.5 721.1h0.8M174.9 728.9h0.8M170.9 732.7h0.8M171.1 768.8h0.8M173.2 724.5h0.8M167.3 774h0.8M168.9 722.5h0.8M154.2 765h0.8M163.2 778h0.8M159.1 771.9h0.8M150.6 757.5h0.8M161.8 731.3h0.8M166.3 729.2h0.8M174.8 741.3h0.8M177 750.5h0.8M175.9 732.6h0.8M170 770.7h0.8M169.5 728.9h0.8M156.6 773h0.8M173.1 753.9h0.8M176.6 748h0.8M166.6 769.6h0.8M166.3 767.9h0.8M174.2 735h0.8M174.6 736.3h0.8M178 742.6h0.8M164.6 731.4h0.8M173.4 725.2h0.8M151.6 756h0.8M158.6 739.3h0.8M173 738.4h0.8M158.8 771.3h0.8M160.9 774.8h0.8M175.3 737.7h0.8M171.9 734.4h0.8M161.8 773.6h0.8M151.4 756.6h0.8M154.7 768.1h0.8M173 734.8h0.8M154.7 771.5h0.8M174.6 726.4h0.8M173.5 722.5h0.8M168.3 770.5h0.8M168.4 768.4h0.8M177.6 734.5h0.8M161.5 734.4h0.8M165.1 723.9h0.8M150.3 764.2h0.8M166.4 731.8h0.8M154.9 744.6h0.8M166.6 730.9h0.8M161.1 732.2h0.8M178.5 741.3h0.8M162.2 776.1h0.8M158.2 739.4h0.8M174.7 733.1h0.8M166.3 766.9h0.8M161 729h0.8M175 749.2h0.8M164.3 776.1h0.8" stroke="#5560ff" stroke-opacity="0.77" stroke-width="0.8" fill="none"/>
<clipPath id="c10"><rect x="108.1" y="694.5" width="83.4" height="87.2"/></clipPath><g clip-path="url(#c10)">
<g transform="translate(164.6 751) rotate(-78)" filter="url(#gr)"><path d="M-25 0C-25 -9.7 -6.2 -11.4 8.7 -9.3C18.9 -8.2 29 -7.3 29 0C29 7.3 18.9 8.2 8.7 9.3C-6.2 11.4 -25 9.7 -25 0Z" fill="#8080ff" fill-opacity="0.38"/><path d="M-20 0C-20 -7.8 -5 -9.1 7 -7.4C15.1 -6.5 23.2 -5.8 23.2 0C23.2 5.8 15.1 6.5 7 7.4C-5 9.1 -20 7.8 -20 0Z" fill="#3038f8" fill-opacity="0.85"/></g>
<g transform="translate(164.6 751) rotate(-78)" filter="url(#bl)"><path d="M-13.2 0C-13.2 -5.1 -3.3 -6 4.6 -4.9C9.9 -4.3 15.3 -3.8 15.3 0C15.3 3.8 9.9 4.3 4.6 4.9C-3.3 6 -13.2 5.1 -13.2 0Z" fill="#1f8cf5" fill-opacity="0.85"/><path d="M-10.6 0C-10.6 -4.1 -2.7 -4.9 3.7 -3.9C8 -3.5 12.3 -3.1 12.3 0C12.3 3.1 8 3.5 3.7 3.9C-2.7 4.9 -10.6 4.1 -10.6 0Z" fill="#22c4b8" fill-opacity="0.9"/><path d="M-6.8 0C-6.8 -2.6 -1.7 -3.1 2.4 -2.5C5.1 -2.2 7.9 -2 7.9 0C7.9 2 5.1 2.2 2.4 2.5C-1.7 3.1 -6.8 2.6 -6.8 0Z" fill="#3fd44a" fill-opacity="0.9"/></g>
</g>
<path d="M165.3 756.3h0.8M162.9 751.5h0.8M160.7 755.5h0.8M163.7 740.4h0.8M166.4 753.7h0.8M166.4 752.2h0.8M165 760.4h0.8M169.7 747.1h0.8M164.9 743h0.8M162.2 760.6h0.8M163.4 744.2h0.8M164.3 756.9h0.8M164.8 755.1h0.8M164.5 744.4h0.8M165.4 740.9h0.8M168.1 757.7h0.8M163.5 742.6h0.8M166.2 741.3h0.8M161.5 753.6h0.8M160.8 760.7h0.8M167.4 747.5h0.8M165.9 756.9h0.8M158.8 749.1h0.8M165.7 737.5h0.8M166.5 757.2h0.8M165.7 756.8h0.8M165.5 753.3h0.8M162.7 762.9h0.8M161 755.8h0.8M160.9 761h0.8M164.8 758.4h0.8M162.8 747.8h0.8M165.3 737.9h0.8M162.1 755.1h0.8" stroke="#1f8cf5" stroke-opacity="0.8" stroke-width="0.8" fill="none"/>
<path d="M161.1 752.6h0.8M167.2 745.6h0.8M164.6 753.8h0.8M161.4 751.4h0.8M164.1 754h0.8M162.1 750.5h0.8M165.8 743.4h0.8M160.4 756.9h0.8M164.2 755h0.8M167.1 752.5h0.8M166.7 746.9h0.8M160.3 754h0.8M166.5 750.1h0.8M167.1 742.1h0.8M163.2 759.2h0.8M164.7 751.8h0.8M162.2 750.5h0.8M166.4 754.3h0.8M165.1 758.2h0.8M162.6 752h0.8M166.5 747.7h0.8M164.9 756.2h0.8M160.7 751.9h0.8M165.5 756.9h0.8M161.6 758.3h0.8" stroke="#22c4b8" stroke-opacity="0.8" stroke-width="0.8" fill="none"/>
<path d="M167.8 744.9h0.8M163.3 763.1h0.8M164.3 738.1h0.8M159.5 755.3h0.8M163.1 759.7h0.8M168.6 757.4h0.8M166.1 738.6h0.8M160 747.7h0.8M160.6 753h0.8M166.3 736.2h0.8M166.4 758.8h0.8M169.4 749.4h0.8M162.1 763.3h0.8M171.1 750.3h0.8M169.9 737.4h0.8M170.6 747.6h0.8M165.3 756.8h0.8M169.2 739.4h0.8M163.9 738.9h0.8M167.9 761.3h0.8M161 756.8h0.8M169.6 746.9h0.8M168.1 737.1h0.8M169.5 744.6h0.8M168.9 753h0.8M167.5 733.4h0.8M166.3 757.8h0.8M157 748.3h0.8M165.8 763h0.8M158.7 737.7h0.8M159.3 745h0.8M159.1 744.7h0.8M169.8 740.4h0.8M163.6 736.1h0.8M172 743h0.8M168.3 736.5h0.8M160.2 755.3h0.8M160 763h0.8" stroke="#3038f8" stroke-opacity="0.8" stroke-width="0.8" fill="none"/>
<path d="M166.2 749.7h0.8M166.1 750.5h0.8M165.4 747.1h0.8M166.1 744h0.8M165.4 747h0.8M162.7 751.2h0.8M165.5 753.1h0.8M166.5 750.5h0.8M165.8 748.7h0.8M163.6 754h0.8M163.8 750.5h0.8M163.6 748.6h0.8M165 752.1h0.8" stroke="#3fd44a" stroke-opacity="0.8" stroke-width="0.8" fill="none"/>
<path transform="translate(107.6 694)" d="M53.5 21.3L76.2 21.3L76.2 79.6L55.1 80.9C51.5 76.5 48 68 47.2 60C46.7 54 47.4 46 49.4 38Z" fill="none" stroke="#3a3a3a" stroke-width="0.75"/>
<text x="173.3" y="713" font-size="7.2" font-weight="bold" text-anchor="middle" fill="#151515" stroke="#151515" stroke-width="0.3">8575</text>
<rect x="204.9" y="694" width="84.4" height="88.2" fill="#fff" stroke="#8c8c8c" stroke-width="0.6"/>
<text x="201.9" y="782.96" font-size="2.4" font-weight="normal" text-anchor="end" fill="#555">0</text>
<text x="201.9" y="759.93" font-size="2.4" font-weight="normal" text-anchor="end" fill="#555">500</text>
<text x="201.9" y="736.9" font-size="2.4" font-weight="normal" text-anchor="end" fill="#555">1.0K</text>
<text x="201.9" y="713.87" font-size="2.4" font-weight="normal" text-anchor="end" fill="#555">1.5K</text>
<text x="207.7" y="787.4" font-size="2.4" font-weight="normal" text-anchor="middle" fill="#555">10<tspan dy="-1.08" font-size="1.68">0</tspan></text>
<text x="219.05" y="787.4" font-size="2.4" font-weight="normal" text-anchor="middle" fill="#555">10<tspan dy="-1.08" font-size="1.68">1</tspan></text>
<text x="230.4" y="787.4" font-size="2.4" font-weight="normal" text-anchor="middle" fill="#555">10<tspan dy="-1.08" font-size="1.68">2</tspan></text>
<text x="241.75" y="787.4" font-size="2.4" font-weight="normal" text-anchor="middle" fill="#555">10<tspan dy="-1.08" font-size="1.68">3</tspan></text>
<text x="253.1" y="787.4" font-size="2.4" font-weight="normal" text-anchor="middle" fill="#555">10<tspan dy="-1.08" font-size="1.68">4</tspan></text>
<text x="264.45" y="787.4" font-size="2.4" font-weight="normal" text-anchor="middle" fill="#555">10<tspan dy="-1.08" font-size="1.68">5</tspan></text>
<text x="275.8" y="787.4" font-size="2.4" font-weight="normal" text-anchor="middle" fill="#555">10<tspan dy="-1.08" font-size="1.68">6</tspan></text>
<text x="287.15" y="787.4" font-size="2.4" font-weight="normal" text-anchor="middle" fill="#555">10<tspan dy="-1.08" font-size="1.68">7</tspan></text>
<path d="M202.8 782.1H204.9M202.8 759.1H204.9M202.8 736H204.9M202.8 713H204.9M206.1 782.2V784M217.4 782.2V784M228.8 782.2V784M240.1 782.2V784M251.5 782.2V784M262.9 782.2V784M274.2 782.2V784M285.6 782.2V784" stroke="#333" stroke-width="0.7" fill="none"/>
<path d="M203.9 782.1H204.9M203.9 777.5H204.9M203.9 772.9H204.9M203.9 768.3H204.9M203.9 763.7H204.9M203.9 759.1H204.9M203.9 754.5H204.9M203.9 749.9H204.9M203.9 745.3H204.9M203.9 740.6H204.9M203.9 736H204.9M203.9 731.4H204.9M203.9 726.8H204.9M203.9 722.2H204.9M203.9 717.6H204.9M203.9 713H204.9M203.9 708.4H204.9M203.9 703.8H204.9M203.9 699.2H204.9M205.5 782.2V783.2M209.5 782.2V783.2M211.5 782.2V783.2M212.9 782.2V783.2M214 782.2V783.2M215 782.2V783.2M215.7 782.2V783.2M216.3 782.2V783.2M216.9 782.2V783.2M220.9 782.2V783.2M222.9 782.2V783.2M224.3 782.2V783.2M225.4 782.2V783.2M226.3 782.2V783.2M227.1 782.2V783.2M227.7 782.2V783.2M228.2 782.2V783.2M232.2 782.2V783.2M234.2 782.2V783.2M235.6 782.2V783.2M236.7 782.2V783.2M237.7 782.2V783.2M238.4 782.2V783.2M239 782.2V783.2M239.6 782.2V783.2M243.6 782.2V783.2M245.6 782.2V783.2M247 782.2V783.2M248.1 782.2V783.2M249 782.2V783.2M249.8 782.2V783.2M250.4 782.2V783.2M250.9 782.2V783.2M254.9 782.2V783.2M256.9 782.2V783.2M258.3 782.2V783.2M259.4 782.2V783.2M260.4 782.2V783.2M261.1 782.2V783.2M261.7 782.2V783.2M262.3 782.2V783.2M266.3 782.2V783.2M268.3 782.2V783.2M269.7 782.2V783.2M270.8 782.2V783.2M271.7 782.2V783.2M272.5 782.2V783.2M273.1 782.2V783.2M273.6 782.2V783.2M277.6 782.2V783.2M279.6 782.2V783.2M281 782.2V783.2M282.1 782.2V783.2M283.1 782.2V783.2M283.8 782.2V783.2M284.4 782.2V783.2M285 782.2V783.2M289 782.2V783.2" stroke="#777" stroke-width="0.4" fill="none"/>
<path d="M256.9 764.1h0.8M225.3 768.1h0.8M227.5 762.6h0.8M240 752.4h0.8M228.1 775.1h0.8M247.2 749h0.8M251.2 750.7h0.8M246.4 748.1h0.8M239 752.7h0.8M251.2 773.4h0.8M227.8 773.4h0.8M248.4 742.5h0.8M231.3 758.1h0.8M227.2 762h0.8M247.9 780h0.8M252.7 752h0.8M232.1 753.8h0.8M257.7 747h0.8M256 776.6h0.8M239.6 780.8h0.8M243.1 753.1h0.8M229 757.6h0.8M255.3 770h0.8M243.5 749.5h0.8M228.6 760.7h0.8M224 779h0.8M253.8 763.8h0.8M237.8 752h0.8M253.1 754.9h0.8M255.2 757h0.8M251.7 736.6h0.8M255.6 760.6h0.8M229.1 779.3h0.8M221.5 767.4h0.8" stroke="#9a9aff" stroke-opacity="0.8" stroke-width="0.8" fill="none"/>
<path d="M244.9 775.5h0.8M233.8 758.2h0.8M247.8 758.5h0.8M232.3 774h0.8M228.5 765.2h0.8M231.7 775.7h0.8M232 773.2h0.8M232.8 772.7h0.8M246.3 756.7h0.8M241.9 777.4h0.8M237.8 778.2h0.8M242.4 776.6h0.8M233.6 761.5h0.8M240.9 755.2h0.8M252.1 754.9h0.8M233.4 776.3h0.8M228.6 770.8h0.8M250.7 761.5h0.8M249.1 760.5h0.8M227.4 768.6h0.8M250.8 756.5h0.8M231.3 769.1h0.8M230.7 766.7h0.8M249.4 752.7h0.8M230.8 772.4h0.8M229.7 769.8h0.8M249 767.6h0.8M251.9 764.7h0.8M231.5 771.4h0.8M246.2 778.9h0.8M230.4 767.9h0.8M230.4 763.3h0.8M230.8 769.5h0.8M236.8 779.4h0.8M239.5 777.9h0.8M250.8 758.3h0.8M233.2 776.5h0.8M243.8 777.1h0.8M229 761h0.8M252.3 766.3h0.8M232.5 773h0.8M230.7 766.7h0.8M250.9 769.2h0.8M232.6 762.7h0.8M241.5 778h0.8M249.1 775.9h0.8M245.2 753.9h0.8M230.2 770.3h0.8M232.6 761.5h0.8M237.6 759.6h0.8M236 758h0.8M248.8 770h0.8M242.2 778.1h0.8M240.7 776.3h0.8M240.9 755.6h0.8M252 755h0.8M250.5 768.5h0.8M243.4 776h0.8M232 764.1h0.8M232.2 773.8h0.8M239.7 776.4h0.8M238.8 777.9h0.8M231.6 776h0.8M228.7 764.3h0.8M249.9 768.3h0.8M251.4 756.9h0.8M252.9 761h0.8M229.3 763.2h0.8M232.6 776.1h0.8M235 761.1h0.8M250.7 765.8h0.8M247.7 771.3h0.8M241.9 776.4h0.8M249.2 755.8h0.8M242.8 776.1h0.8M246.7 772.4h0.8M242.7 753.9h0.8M238.2 776.6h0.8M229.6 768.3h0.8M249.1 774h0.8M229 767.1h0.8M246.2 774.6h0.8M227.7 767.8h0.8M231.8 763.5h0.8M245 755.6h0.8M248.8 768.4h0.8M239.9 776.6h0.8M250.4 772.3h0.8M239.2 756.6h0.8M230.2 772.3h0.8" stroke="#5560ff" stroke-opacity="0.85" stroke-width="0.8" fill="none"/>
<path d="M239.5 763.5h0.8M239.2 772.7h0.8M241.7 775.6h0.8M237 770.4h0.8M242.9 768.5h0.8M239.7 766.4h0.8M243.6 773.4h0.8M234.1 770.5h0.8M236.9 771.9h0.8M244.6 763.8h0.8M233.2 763.9h0.8M238.2 766.5h0.8M232.7 770.5h0.8M236.1 768.6h0.8M243.7 771.9h0.8M245.3 768.8h0.8M243.6 764.8h0.8M233.9 767.1h0.8M240.6 762.2h0.8M243.5 772.5h0.8M247.6 760.7h0.8M245.3 764.2h0.8M241.4 772.8h0.8M232.8 771.3h0.8M239.5 769.1h0.8M241.2 772.7h0.8M244.9 772.3h0.8M238.6 768.9h0.8M245.2 761.5h0.8M244.8 764.9h0.8M244.8 770.1h0.8M237.8 760.9h0.8M233.9 768h0.8M232.2 769.7h0.8M242 764.3h0.8M239.7 773.5h0.8M246.2 765.9h0.8M241.6 765.4h0.8M236.2 765.6h0.8M241.8 763h0.8M236 771.3h0.8M237.3 767.7h0.8M245.6 765.9h0.8M239.9 774.8h0.8M243 773.7h0.8M238.8 767.4h0.8M241.8 774.7h0.8M234.9 768.2h0.8M245.3 771.9h0.8M245 767.1h0.8M242.6 774.6h0.8M234.6 765.5h0.8M243.9 770.4h0.8M243.6 760.8h0.8M243.1 763.2h0.8M233.7 771.6h0.8M241.6 774.1h0.8M243.4 765.8h0.8M243.3 763.4h0.8M236.5 761.2h0.8M242.8 765.5h0.8M244.9 760.9h0.8M244.6 759.9h0.8M243 771.8h0.8M231.3 768.3h0.8M239.8 774.1h0.8M233.7 764.9h0.8M242.1 763.1h0.8M234.4 771.6h0.8M243.8 769.9h0.8M234.3 765.6h0.8M246.2 758.9h0.8M246.5 771.7h0.8M243.1 769.7h0.8M233.2 770.5h0.8M231.7 767.5h0.8M234.9 765.8h0.8M236.4 764.2h0.8M247.6 768.4h0.8M242.1 773.5h0.8M247.1 767.2h0.8M247.5 765h0.8M232.9 769h0.8M235.6 767.7h0.8M234.1 766.4h0.8M238.4 771h0.8M243.3 766.5h0.8M235.4 769.1h0.8M244.3 759.4h0.8M242.4 767.6h0.8M234.3 769.1h0.8M237.5 764.6h0.8M244.2 773.8h0.8M237.6 772.2h0.8M247.2 760.7h0.8M242.3 773.6h0.8M239.7 766.1h0.8M237.9 767.6h0.8M238.8 773.8h0.8M245.1 773.2h0.8M235.8 761.3h0.8M232.7 768.8h0.8M247.9 765.4h0.8M242.4 774.6h0.8M241.7 764.9h0.8M244.5 762.8h0.8M241.1 767.1h0.8M232.4 764.7h0.8M241.6 769.5h0.8M235 765.9h0.8M234.1 763.1h0.8M235.1 770.6h0.8M248 761.9h0.8M233.7 770h0.8M239.6 766.7h0.8M238.9 770.3h0.8M243.7 766.4h0.8M245.9 771.2h0.8M240.8 765.6h0.8M241.3 763h0.8M239.8 770.8h0.8M232.7 765.3h0.8M237 774.4h0.8M245.8 763.7h0.8" stroke="#3d55ff" stroke-opacity="0.9" stroke-width="0.8" fill="none"/>
<path d="M259.3 774.9h0.8M254.6 773.5h0.8M254.4 771.9h0.8M228.6 770.7h0.8M255.9 739.7h0.8M259.1 767h0.8M251.8 736.1h0.8M256.1 776.7h0.8M254.8 756.2h0.8M236.5 779.3h0.8M223.1 763.5h0.8M254.7 755.5h0.8M247.9 741.2h0.8M249.3 728.6h0.8M232.9 780.4h0.8M246.4 741.5h0.8M226.6 764h0.8M235.4 779h0.8M226.2 762.3h0.8M215.9 765.7h0.8M256.4 778.4h0.8M252.9 740.9h0.8M249.2 779.8h0.8M255.1 769.5h0.8M222.1 755.9h0.8M232 775.4h0.8M221.1 769.9h0.8M238.9 749h0.8M238.1 748.5h0.8M226.1 752.9h0.8M255.1 753.6h0.8M236.4 778.4h0.8M251 776.6h0.8M230.6 774.9h0.8M236.7 779.3h0.8M252.2 775h0.8M240.8 780.6h0.8M249.2 777.6h0.8M255.3 747.6h0.8M251.3 741.8h0.8M247.3 778.6h0.8M259.6 761.2h0.8M243.2 743h0.8M233.2 751.5h0.8M228.7 772.7h0.8M237.1 748.9h0.8M228.4 774.9h0.8M251.4 743.5h0.8M256 760h0.8M234.3 754.4h0.8M248.2 780.4h0.8M260.4 767.7h0.8M252.8 779.8h0.8M254.6 770.5h0.8M253 734.9h0.8M257.5 757.5h0.8M252.7 745.9h0.8M233.4 779.2h0.8M251.4 775.5h0.8M228.3 770.9h0.8M245.4 780.3h0.8M249.3 741h0.8M230.1 754.6h0.8M241.9 779.2h0.8M230.2 774.7h0.8M225.5 762.9h0.8M253.8 740.4h0.8M248.9 778h0.8M249.6 740h0.8M246.7 779.3h0.8M227.4 758.2h0.8M227.6 771.5h0.8M224.7 762.4h0.8M258.5 726.8h0.8M254.2 748.5h0.8M232.7 778.7h0.8M247.8 742.9h0.8M257.7 773.7h0.8M255.7 740.2h0.8M247.3 739.6h0.8M237.3 746.2h0.8M254.3 752.1h0.8M226.3 766.9h0.8M227.6 770.9h0.8M230.4 777.7h0.8M252.8 774.2h0.8M250 734.5h0.8M235.8 780.4h0.8M233.2 776.1h0.8M224.3 776h0.8M244.9 738.9h0.8M243.5 745.7h0.8M227.5 772.3h0.8M236.6 746.8h0.8M255.9 739.9h0.8M226.5 762.2h0.8M244.3 778.9h0.8M230.5 773.6h0.8M237.7 778.8h0.8M255.5 735.5h0.8M226.6 765.8h0.8M217.3 777.6h0.8M258.4 756.8h0.8M255.4 730.9h0.8M228.3 757.6h0.8M259.2 733.7h0.8M228 761.1h0.8M254.8 734.3h0.8M252 774.8h0.8" stroke="#9a9aff" stroke-opacity="0.8" stroke-width="0.8" fill="none"/>
<path d="M231.7 766.6h0.8M246.4 773.5h0.8M248.2 748.6h0.8M229 765.3h0.8M231.4 772.8h0.8M233.2 771.2h0.8M245.7 776.4h0.8M236.5 753.7h0.8M247.4 752.5h0.8M243.1 749.5h0.8M243.5 748.2h0.8M251.8 750.9h0.8M251.5 763.4h0.8M231.6 760.7h0.8M242.3 750.4h0.8M230.9 773.3h0.8M245.7 745.1h0.8M231.9 770.1h0.8M239.2 775.6h0.8M240.8 754h0.8M230.8 766.7h0.8M229.4 770.3h0.8M232.3 762.5h0.8M234.8 775.7h0.8M236.5 776.2h0.8M248.9 754h0.8M231.2 767h0.8M237.1 752.9h0.8M236.7 775.6h0.8M235.5 758.3h0.8M235.9 758.6h0.8M234.7 772.3h0.8M248.5 751.3h0.8M239.4 774.9h0.8M248.9 774.5h0.8M249.5 755h0.8M244.4 751.9h0.8M230.2 766.6h0.8M249.1 774.2h0.8M232 760.6h0.8M247 750h0.8M242.9 747.6h0.8M231.1 766.6h0.8M241.4 777.3h0.8M248.5 771.2h0.8M249.7 766.3h0.8M251.6 753.6h0.8M241.5 776.6h0.8M241.2 777.3h0.8M247.2 776.5h0.8M234.3 760h0.8M250.4 752.7h0.8M228.4 766.5h0.8M249.1 770.9h0.8M232.3 774h0.8M241 751.6h0.8M238.2 774.1h0.8M228.5 769.6h0.8M231.7 767.4h0.8M228.9 761.4h0.8M246.1 777.1h0.8M246.4 773.7h0.8M249 751.7h0.8M252.1 757.8h0.8M244.6 751.7h0.8M250.1 758.1h0.8M243.3 750.8h0.8M231.4 770.7h0.8M236.8 755.5h0.8M250.9 751.2h0.8M244.9 749.7h0.8M253.3 769.7h0.8M238.4 776.5h0.8M247.8 745.4h0.8M252 767.7h0.8M229.1 768.6h0.8M252 750.1h0.8M243.8 778.6h0.8M237.6 757.3h0.8M237.7 774.7h0.8M250.1 775.8h0.8M229.3 765.5h0.8M249.6 760h0.8M234.7 772.3h0.8M235.8 773.5h0.8M231.3 765.8h0.8M233.4 770.1h0.8M242.8 775h0.8M246.7 776.2h0.8M247.9 772.7h0.8M236.1 773.6h0.8M236.7 775.5h0.8M251.6 748.3h0.8M231.9 764.8h0.8M251 748.5h0.8M251.5 762.2h0.8M231.8 773.4h0.8M242.2 776.2h0.8M232 769.2h0.8M249.8 771.5h0.8M251.5 768.1h0.8M229 763.8h0.8M251.8 746.2h0.8M251.5 763.4h0.8M252.3 750.1h0.8M228.2 768.8h0.8M249.2 746.4h0.8M245 777.4h0.8M250.4 754.6h0.8M232.1 758.8h0.8M251.9 751.8h0.8M241.8 747.5h0.8M248 773.3h0.8M228.3 764.2h0.8M248.3 752.4h0.8M231.9 767.7h0.8M230.5 766.5h0.8M249.8 745.4h0.8M242.1 751.7h0.8M243.6 751.2h0.8M245.6 774.1h0.8M250.1 760.7h0.8M236.2 773h0.8M251.1 769.1h0.8M245.8 746.1h0.8M235.7 775.6h0.8M248.4 745h0.8M246.4 778h0.8M237 753.8h0.8M243.5 776.2h0.8M246.4 776.4h0.8M251.3 750.9h0.8M249.1 771.9h0.8M230.5 766.9h0.8M229.3 767.3h0.8M247.5 773.4h0.8M235.1 755.7h0.8M228.6 762.5h0.8M247.9 750.7h0.8M250.3 761.9h0.8M250.5 759.3h0.8M233.2 770.8h0.8M245.4 774.4h0.8M241.2 748.2h0.8M236.5 757.4h0.8M248.8 773.6h0.8M229.2 771.2h0.8M231.4 768.3h0.8M237.5 774.3h0.8M249.8 750.7h0.8M231.8 765h0.8M238.3 774.8h0.8M247.8 748.6h0.8M251.8 766h0.8M245.3 745.8h0.8M244.5 747.7h0.8M236 759.2h0.8M243.3 747.9h0.8M250.8 757.8h0.8M235.1 772.5h0.8M252.9 760.1h0.8M230.2 772h0.8M232.8 761.4h0.8M237.8 756.5h0.8M231.5 768.2h0.8M235.8 757.6h0.8M233.3 770.3h0.8M244.5 775.9h0.8M249.2 747.1h0.8M249.9 773.4h0.8M249 743.2h0.8M237.8 751.3h0.8M232.4 772.9h0.8M248.9 776.1h0.8M245.9 749.7h0.8M232.2 766h0.8M231.6 763.2h0.8M242.3 774.8h0.8" stroke="#5560ff" stroke-opacity="0.85" stroke-width="0.8" fill="none"/>
<clipPath id="c11"><rect x="205.4" y="694.5" width="83.4" height="87.2"/></clipPath><g clip-path="url(#c11)">
<g transform="translate(240.7 767.4) rotate(-70)" filter="url(#gr)"><path d="M-10 0C-10 -10 -2.5 -11.8 7.5 -8.3C16.2 -5.9 25 -2.8 25 0C25 2.8 16.2 5.9 7.5 8.3C-2.5 11.8 -10 10 -10 0Z" fill="#8080ff" fill-opacity="0.38"/><path d="M-8.6 0C-8.6 -8 -2.1 -9.4 6 -6.6C13 -4.7 20 -2.2 20 0C20 2.2 13 4.7 6 6.6C-2.1 9.4 -8.6 8 -8.6 0Z" fill="#3038f8" fill-opacity="0.85"/></g>
<g transform="translate(240.7 767.4) rotate(-70)" filter="url(#bl)"><path d="M-7.3 0C-7.3 -6.2 -1.8 -7.3 4.6 -5.1C10.1 -3.6 15.5 -1.7 15.5 0C15.5 1.7 10.1 3.6 4.6 5.1C-1.8 7.3 -7.3 6.2 -7.3 0Z" fill="#1f8cf5" fill-opacity="0.95"/><path d="M-6.5 0C-6.5 -5 -1.6 -5.9 3.8 -4.1C8.1 -2.9 12.5 -1.4 12.5 0C12.5 1.4 8.1 2.9 3.8 4.1C-1.6 5.9 -6.5 5 -6.5 0Z" fill="#22c4b8" fill-opacity="1"/><path d="M-5.8 0C-5.8 -4 -1.4 -4.7 3 -3.3C6.5 -2.4 10 -1.1 10 0C10 1.1 6.5 2.4 3 3.3C-1.4 4.7 -5.8 4 -5.8 0Z" fill="#3fd44a" fill-opacity="1"/><path d="M-5.2 0C-5.2 -3.1 -1.3 -3.6 2.3 -2.6C5 -1.8 7.7 -0.8 7.7 0C7.7 0.8 5 1.8 2.3 2.6C-1.3 3.6 -5.2 3.1 -5.2 0Z" fill="#cce42a" fill-opacity="1"/><path d="M-5.1 0C-5.1 -3 -1.3 -3.5 2.2 -2.5C4.9 -1.8 7.5 -0.8 7.5 0C7.5 0.8 4.9 1.8 2.2 2.5C-1.3 3.5 -5.1 3 -5.1 0Z" fill="#ff8a1a" fill-opacity="1"/><path d="M-4.2 0C-4.2 -1.7 -1.1 -2 1.3 -1.4C2.8 -1 4.3 -0.5 4.3 0C4.3 0.5 2.8 1 1.3 1.4C-1.1 2 -4.2 1.7 -4.2 0Z" fill="#f0301e" fill-opacity="1"/></g>
</g>
<path d="M243.1 766.7h0.8M241.8 763.6h0.8M243 761.5h0.8M239.7 769.3h0.8M244 768.9h0.8M244.4 770.4h0.8M241.2 769.3h0.8M243.1 770.6h0.8M239 770.7h0.8M243.1 762.3h0.8M239.3 761.6h0.8M242.6 769.7h0.8M242.5 763.6h0.8M243 765.6h0.8M244.3 767.2h0.8M238.4 762.6h0.8" stroke="#3fd44a" stroke-opacity="0.8" stroke-width="0.8" fill="none"/>
<path d="M240.3 768.1h0.8M240.4 767.1h0.8M241.2 769h0.8M238.1 767h0.8M238.8 766.1h0.8M238.3 766.9h0.8M243.4 764.7h0.8M242.4 768.3h0.8" stroke="#ff8a1a" stroke-opacity="0.8" stroke-width="0.8" fill="none"/>
<path d="M246.1 771.1h0.8M245 772.3h0.8M241.6 774.4h0.8M238.7 753.1h0.8M236.7 773.4h0.8M243.2 773.4h0.8M243.3 775.2h0.8M237.6 757.2h0.8M234.7 767.9h0.8M238.8 759.9h0.8M235.9 771.4h0.8M237.5 757.1h0.8M236.7 769.5h0.8M233.1 767.6h0.8M236.5 770.4h0.8M247.9 755.8h0.8M244 770.9h0.8" stroke="#3038f8" stroke-opacity="0.8" stroke-width="0.8" fill="none"/>
<path d="M239 762.2h0.8M244.5 758.6h0.8M241 771h0.8M237.8 770.6h0.8M245.5 762.9h0.8M239.6 771.2h0.8M235.5 766h0.8M235.2 765.9h0.8" stroke="#22c4b8" stroke-opacity="0.8" stroke-width="0.8" fill="none"/>
<path d="M241.7 768.1h0.8M239.9 768.2h0.8M240.8 767.9h0.8M240.5 765.7h0.8" stroke="#f0301e" stroke-opacity="0.8" stroke-width="0.8" fill="none"/>
<path d="M243.3 763.5h0.8M241.8 769.8h0.8M237.9 764.6h0.8M240.6 764.6h0.8M241 765.1h0.8M241.1 770.5h0.8M241.4 769.5h0.8M244.2 766.5h0.8M240.1 762.4h0.8" stroke="#cce42a" stroke-opacity="0.8" stroke-width="0.8" fill="none"/>
<path d="M240.8 771h0.8M244.2 756h0.8M241.5 758h0.8M244.8 769.1h0.8M244.3 759.9h0.8M239.8 770.8h0.8M236.1 767.6h0.8M246.3 761.8h0.8" stroke="#1f8cf5" stroke-opacity="0.8" stroke-width="0.8" fill="none"/>
<path d="M277.4 719.2h0.8M278.1 736.8h0.8M242.5 749.6h0.8M250.5 776h0.8M259.4 719h0.8M246.7 751.6h0.8M247.3 732h0.8M277.5 720.1h0.8M273.5 701.9h0.8M262.1 778.2h0.8M279.4 749.9h0.8M236.7 760.1h0.8M254.7 724.8h0.8M251.3 725.1h0.8M250.1 740.1h0.8M281.4 733.2h0.8M280.2 763.9h0.8M265.3 706h0.8M242.3 767.2h0.8M265.8 697.3h0.8M257.3 719.7h0.8M252.4 776.5h0.8M272.3 766.1h0.8M255.4 727.3h0.8M278.7 749.8h0.8M251.7 732h0.8M274.4 710.4h0.8M253.5 730.5h0.8M279.9 735.7h0.8M273.8 708.2h0.8M248.1 744.3h0.8M251.7 771.9h0.8M278.1 735h0.8M248.2 759.4h0.8M269.9 705.1h0.8M251.4 769.3h0.8M252.5 733.7h0.8M254.3 724.3h0.8M262.4 699.4h0.8M256 775.5h0.8M272.4 694.8h0.8M244.7 763.7h0.8M255.8 723.8h0.8M275.4 779.9h0.8M282.9 740.3h0.8M249.1 760.4h0.8M281.3 735.5h0.8M278.1 759.6h0.8M275.7 718.2h0.8M275.1 777.6h0.8M248.4 770.2h0.8M267.4 775.7h0.8M277.6 732h0.8M248.9 746.5h0.8M255.8 777.3h0.8M247.6 726.9h0.8M270.9 709.2h0.8M275.7 757h0.8M279.6 745.3h0.8M247.1 755h0.8M252.5 725.2h0.8M276.3 715.5h0.8M256.6 775.7h0.8M249.6 773.4h0.8M280.5 735.1h0.8M245.8 747.5h0.8M264.2 709.7h0.8M266.2 711.4h0.8M277.1 763.4h0.8M283.5 739.3h0.8M262 711.3h0.8M281.8 749.6h0.8M273.6 713.6h0.8M264.7 708h0.8M245.9 747.2h0.8M274.7 714h0.8M260.6 712.4h0.8M261.2 713.7h0.8M246.4 762.7h0.8M271.6 711.1h0.8M276.9 754.1h0.8M275.7 756.3h0.8M247 762.1h0.8M248.8 760.1h0.8M255 720.5h0.8M249.3 760.8h0.8M248.9 777.7h0.8M253.9 729.2h0.8M278.1 733.4h0.8M278.4 731.5h0.8M249.1 746.1h0.8M265 773.3h0.8M248.5 738.8h0.8M278.9 739.7h0.8M243.6 756.4h0.8M258.1 774.8h0.8M267.9 772.1h0.8M278.3 743.1h0.8M283.6 743.2h0.8M251.5 728.2h0.8M278.5 752.3h0.8M280.8 699.9h0.8M279.9 735.8h0.8M265.7 710.8h0.8M267.6 706h0.8M250.4 736.6h0.8M281 733.6h0.8M265.1 699.9h0.8M245.4 753.8h0.8M256.2 775.9h0.8M258 707.9h0.8M275.9 698.3h0.8M276.1 714.5h0.8M250.8 735.8h0.8M276.6 722.9h0.8M248.6 768h0.8M281.1 755.8h0.8M269.7 771.1h0.8M250.6 765.9h0.8M244.7 752.9h0.8M275.2 756.9h0.8M280.7 767.8h0.8" stroke="#9a9aff" stroke-opacity="0.5" stroke-width="0.8" fill="none"/>
<path d="M267.2 721.2h0.8M254.5 735.8h0.8M269.9 759.1h0.8M253.2 765.2h0.8M255.4 739h0.8M273.3 736.3h0.8M252.9 737.3h0.8M270.3 755.4h0.8M268.9 758.3h0.8M251.9 750h0.8M262.1 768.4h0.8M252.6 750.3h0.8M272.9 743.4h0.8M255.9 737.8h0.8M267.7 723.9h0.8M255.3 772.2h0.8M273.1 741.9h0.8M255.1 737.4h0.8M256.1 772.2h0.8M266.1 722.7h0.8M266.3 719.4h0.8M264.5 715.1h0.8M271.2 727.8h0.8M274.7 756.2h0.8M262.6 764.1h0.8M252.1 750.7h0.8M275.2 753.3h0.8M260.3 723.9h0.8M259.4 772.5h0.8M254.6 759.2h0.8M265.9 720.4h0.8M262.9 725.6h0.8M276.5 743.1h0.8M272.2 728.9h0.8M261.6 769.9h0.8M258.7 722.5h0.8M253.6 740.9h0.8M275 747.9h0.8M265.5 716.7h0.8M266.4 718.4h0.8M263.8 769.8h0.8M269 714.9h0.8M254.7 756.1h0.8M251.2 755.7h0.8M273.4 738.4h0.8M273.7 754.1h0.8M258.3 732.5h0.8M254.3 750.4h0.8M274.7 756.1h0.8M270.9 761.3h0.8M264.7 722.6h0.8M270.7 753.2h0.8M273.6 745.9h0.8M270.7 724.7h0.8M276.5 726.5h0.8M276.1 729.2h0.8M261 764.6h0.8M267.7 769.8h0.8M254.2 756.3h0.8M262 767.8h0.8M259.6 770.7h0.8M265.1 714.5h0.8M260 765.4h0.8M260.5 724h0.8M273.6 744h0.8M251.3 763.4h0.8M259.9 771.6h0.8M264.7 764.3h0.8M264.8 719.3h0.8M270.1 726.2h0.8M273.9 745.2h0.8M255.6 734h0.8M273.7 742.7h0.8M261.2 727h0.8M260.2 729.9h0.8M271.2 753.1h0.8M273.6 741.9h0.8M269.2 768.3h0.8M274 734h0.8M258.4 772.5h0.8M264.9 723.9h0.8M273.7 733.9h0.8M269.5 723.9h0.8M250.9 739.3h0.8M259.9 768.3h0.8M262.5 722.2h0.8M259.7 724.1h0.8M252 744.3h0.8M257.3 735.1h0.8M251 754.5h0.8M256 735.9h0.8M270 717.9h0.8M253.6 766.2h0.8M253.7 742.3h0.8M262.9 766.7h0.8M274.7 723.4h0.8M271.8 758h0.8M257.2 762.4h0.8M267.2 770.2h0.8M258.2 762.5h0.8M267.2 720h0.8M257.4 731h0.8M253.9 746.5h0.8M274.6 726.8h0.8M255.4 739.1h0.8M269.9 764.4h0.8M254.3 749.2h0.8M274.8 742.7h0.8M273.8 742.5h0.8M272.1 730.2h0.8M274.2 758.2h0.8M253.4 737.6h0.8M268.3 769h0.8M274.9 753.8h0.8M269.3 757.5h0.8M252.9 750.7h0.8M257.7 767.6h0.8M249.8 754.4h0.8M256.4 771.4h0.8M271 726.5h0.8M275.3 737.3h0.8M275 750.7h0.8M269.3 715.7h0.8M251.2 752.5h0.8M249.1 749.4h0.8M259.9 730.3h0.8M265.4 721.9h0.8M256 764.6h0.8M266.5 723.8h0.8M271.8 723.2h0.8M264.6 720.6h0.8M274.3 721.5h0.8M251.6 744.2h0.8M270.3 760.4h0.8M261 766.2h0.8M269.7 763.7h0.8M251.6 746.2h0.8M275.2 730h0.8M274.3 743.8h0.8M261.6 722.7h0.8M272.8 750.9h0.8M269 759.2h0.8M259.2 763.5h0.8M270.6 755.8h0.8M254 749h0.8M275.3 752.2h0.8M256.1 767.7h0.8M254.1 732.2h0.8M259.8 726.8h0.8M272 763.7h0.8M263.5 715.3h0.8M275 756.9h0.8M268.6 720.5h0.8M252.7 762.3h0.8M270 722.7h0.8M256.3 734.8h0.8M252.9 766.1h0.8M254.6 770.2h0.8M268 723.5h0.8M262.4 726.1h0.8M253.2 750.5h0.8M274.8 745.9h0.8M267.1 765.9h0.8M277.7 740.7h0.8M256.5 768.7h0.8M252.9 745.5h0.8M253.5 766.5h0.8M255.9 729.7h0.8M254.1 766.9h0.8M270.8 719.8h0.8M271.8 714.9h0.8M249.6 758h0.8M255.3 762.3h0.8M253.7 758h0.8M264.5 771.2h0.8M271.7 753.7h0.8M262.9 721.4h0.8M274.9 720.8h0.8M258 770.3h0.8M255.4 761.5h0.8M270.3 723.6h0.8M258.4 729.6h0.8M256 727.2h0.8" stroke="#5560ff" stroke-opacity="0.53" stroke-width="0.8" fill="none"/>
<clipPath id="c12"><rect x="205.4" y="694.5" width="83.4" height="87.2"/></clipPath><g clip-path="url(#c12)">
<g transform="translate(263.8 744.5) rotate(-80)" filter="url(#gr)"><path d="M-27 0C-27 -10 -6.8 -11.8 9 -9.5C19.5 -8.2 30 -7.1 30 0C30 7.1 19.5 8.2 9 9.5C-6.8 11.8 -27 10 -27 0Z" fill="#8080ff" fill-opacity="0.26"/><path d="M-21.6 0C-21.6 -8 -5.4 -9.4 7.2 -7.6C15.6 -6.6 24 -5.7 24 0C24 5.7 15.6 6.6 7.2 7.6C-5.4 9.4 -21.6 8 -21.6 0Z" fill="#3038f8" fill-opacity="0.59"/></g>
<g transform="translate(263.8 744.5) rotate(-80)" filter="url(#bl)"><path d="M-16.7 0C-16.7 -6.2 -4.2 -7.3 5.6 -5.9C12.1 -5.1 18.6 -4.4 18.6 0C18.6 4.4 12.1 5.1 5.6 5.9C-4.2 7.3 -16.7 6.2 -16.7 0Z" fill="#1f8cf5" fill-opacity="0.59"/></g>
</g>
<path d="M266 741.7h0.8M263 744.9h0.8M263.6 749.7h0.8M265 738.7h0.8M264.8 746.3h0.8M263.5 742.2h0.8M264.3 742.9h0.8M267.1 742.3h0.8M260.7 749.7h0.8M262.9 738h0.8M267.2 737.9h0.8M264.6 744.8h0.8M264.1 745.9h0.8M266.3 740.8h0.8M267.5 744.6h0.8M262.4 750.6h0.8M261.9 745.9h0.8M262.5 743.1h0.8M264 742.2h0.8M262.7 745h0.8M263.1 741.4h0.8M262.1 746.6h0.8M266.6 742.4h0.8M264.7 743.2h0.8M265 748.5h0.8M264.6 747.1h0.8M262.9 742.5h0.8M264.8 748.3h0.8M261.7 740.6h0.8M264.4 747.1h0.8M262.9 741.2h0.8M262.9 745.3h0.8M264.6 742.4h0.8M266.4 738.1h0.8M265.3 746.9h0.8M264.2 743.9h0.8M262 741.6h0.8M263.5 745h0.8M264.9 736.5h0.8M260.6 751.1h0.8M262.4 744.3h0.8M264.4 746.8h0.8M266.6 739.8h0.8M264.2 741h0.8M262.1 743.3h0.8M260.5 741.7h0.8M261.8 745.4h0.8" stroke="#22c4b8" stroke-opacity="0.8" stroke-width="0.8" fill="none"/>
<path d="M262.8 741.3h0.8M263.9 755.5h0.8M271.5 752.7h0.8M264.1 732.6h0.8M266.6 752.6h0.8M261 737.7h0.8M259.2 748.2h0.8M259 746.4h0.8M258.6 752.9h0.8M259.4 746.8h0.8M266.6 731.8h0.8M264.5 731.2h0.8M263.7 738.2h0.8M267 752h0.8M267.4 739.8h0.8M268.2 743.9h0.8M259.2 738.5h0.8M263 735.9h0.8M263.7 757.9h0.8M265.8 751.1h0.8M271.1 732.6h0.8M256.4 741.6h0.8M263.8 737.3h0.8M261.8 751.1h0.8M268.4 740.6h0.8M263.2 755.1h0.8M267.7 722.7h0.8M258.6 745.7h0.8M267 719.9h0.8M258.5 750.4h0.8M258.9 763.3h0.8M257.2 758.8h0.8M265.7 733.8h0.8M262.1 732h0.8M268.5 746h0.8M262.7 735h0.8M252.9 766.8h0.8M270.9 740.3h0.8M271.3 749.4h0.8M270.1 745.9h0.8M260.4 749.3h0.8M264.7 729.4h0.8M265 749.4h0.8M265.7 734.4h0.8M272.8 745.6h0.8M261 745.1h0.8M266.8 730h0.8M264.9 754.1h0.8M262.6 754.2h0.8M256 749.6h0.8M260 756.9h0.8M272.3 738.7h0.8M266.8 738.9h0.8M263.1 735.1h0.8M269.3 736h0.8M263.3 754.7h0.8M267 741.1h0.8M260.4 746.7h0.8M256.8 755.5h0.8M266.3 757h0.8M262.2 741.8h0.8M266.2 752.2h0.8M260.2 730.5h0.8M259.6 754.8h0.8M264.7 738.5h0.8M270.9 754.4h0.8M258.2 751.1h0.8M264.9 760h0.8M260.8 762.4h0.8M269.5 724.2h0.8M264.3 749.1h0.8M266.3 730.7h0.8M259.2 745.8h0.8M267.1 735h0.8M270.1 747.9h0.8M268.5 738.2h0.8M262.7 731.3h0.8M264 729.4h0.8M267.8 737h0.8M261.2 736h0.8M266.9 722.5h0.8M267.5 728.6h0.8M258.8 751h0.8M267.8 730.8h0.8M263.3 752.8h0.8M261.3 755.1h0.8M268.5 730.1h0.8M270.4 746.3h0.8M261.4 751.4h0.8M262.6 728.5h0.8M264.3 731.8h0.8M264.7 768.4h0.8M259.3 738.3h0.8M267.3 740h0.8M264.2 734.6h0.8M256.5 745.6h0.8M263.3 758.2h0.8M260.2 743.8h0.8M268.1 736.8h0.8M265.6 756.7h0.8M259.6 754.5h0.8M258.8 746.9h0.8M266.2 742.3h0.8M259 748.8h0.8M262.8 730.2h0.8M267.6 747.1h0.8" stroke="#3038f8" stroke-opacity="0.8" stroke-width="0.8" fill="none"/>
<path d="M265.2 736.4h0.8M263.9 738h0.8M259.9 746h0.8M267.1 732.1h0.8M261.1 737.4h0.8M263.2 737.1h0.8M268.9 743.8h0.8M266.4 739.3h0.8M264.2 748.8h0.8M268 744.1h0.8M264.8 738.5h0.8M262.8 746.4h0.8M265.2 732.8h0.8M265.2 745h0.8M263.1 752.9h0.8M267.7 737.6h0.8M261.9 740.1h0.8M265.9 746h0.8M268.7 740.3h0.8M262.6 741.8h0.8M261.2 743.2h0.8M268.7 745.5h0.8M263.9 746.6h0.8M259.8 753.5h0.8M265.8 748h0.8M260.7 752.9h0.8M262.7 737.1h0.8M261.5 745.9h0.8M260.9 736h0.8M264.7 740.8h0.8M268.6 739.5h0.8M261.2 745.9h0.8M259.3 747.2h0.8M259.3 750.2h0.8M269.2 742.8h0.8M263.7 753.4h0.8M258.4 744.3h0.8M267.3 745.2h0.8M258.9 746.4h0.8M262.2 748.5h0.8M266.6 747.9h0.8M262.9 743.9h0.8M265.9 746.8h0.8M264.7 743.8h0.8M266.5 733.7h0.8M259.4 749.8h0.8M267.2 736.1h0.8" stroke="#1f8cf5" stroke-opacity="0.8" stroke-width="0.8" fill="none"/>
<path transform="translate(204.9 694)" d="M53.5 21.3L76.2 21.3L76.2 79.6L55.1 80.9C51.5 76.5 48 68 47.2 60C46.7 54 47.4 46 49.4 38Z" fill="none" stroke="#3a3a3a" stroke-width="0.75"/>
<text x="270.6" y="713" font-size="7.2" font-weight="bold" text-anchor="middle" fill="#151515" stroke="#151515" stroke-width="0.3">6774</text>
<rect x="10.5" y="794.5" width="84.4" height="88.2" fill="#fff" stroke="#8c8c8c" stroke-width="0.6"/>
<text x="7.5" y="883.46" font-size="2.4" font-weight="normal" text-anchor="end" fill="#555">0</text>
<text x="7.5" y="860.43" font-size="2.4" font-weight="normal" text-anchor="end" fill="#555">500</text>
<text x="7.5" y="837.4" font-size="2.4" font-weight="normal" text-anchor="end" fill="#555">1.0K</text>
<text x="7.5" y="814.37" font-size="2.4" font-weight="normal" text-anchor="end" fill="#555">1.5K</text>
<text x="13.3" y="887.9" font-size="2.4" font-weight="normal" text-anchor="middle" fill="#555">10<tspan dy="-1.08" font-size="1.68">0</tspan></text>
<text x="24.65" y="887.9" font-size="2.4" font-weight="normal" text-anchor="middle" fill="#555">10<tspan dy="-1.08" font-size="1.68">1</tspan></text>
<text x="36" y="887.9" font-size="2.4" font-weight="normal" text-anchor="middle" fill="#555">10<tspan dy="-1.08" font-size="1.68">2</tspan></text>
<text x="47.35" y="887.9" font-size="2.4" font-weight="normal" text-anchor="middle" fill="#555">10<tspan dy="-1.08" font-size="1.68">3</tspan></text>
<text x="58.7" y="887.9" font-size="2.4" font-weight="normal" text-anchor="middle" fill="#555">10<tspan dy="-1.08" font-size="1.68">4</tspan></text>
<text x="70.05" y="887.9" font-size="2.4" font-weight="normal" text-anchor="middle" fill="#555">10<tspan dy="-1.08" font-size="1.68">5</tspan></text>
<text x="81.4" y="887.9" font-size="2.4" font-weight="normal" text-anchor="middle" fill="#555">10<tspan dy="-1.08" font-size="1.68">6</tspan></text>
<text x="92.75" y="887.9" font-size="2.4" font-weight="normal" text-anchor="middle" fill="#555">10<tspan dy="-1.08" font-size="1.68">7</tspan></text>
<path d="M8.4 882.6H10.5M8.4 859.6H10.5M8.4 836.5H10.5M8.4 813.5H10.5M11.7 882.7V884.5M23 882.7V884.5M34.4 882.7V884.5M45.8 882.7V884.5M57.1 882.7V884.5M68.5 882.7V884.5M79.8 882.7V884.5M91.2 882.7V884.5" stroke="#333" stroke-width="0.7" fill="none"/>
<path d="M9.5 882.6H10.5M9.5 878H10.5M9.5 873.4H10.5M9.5 868.8H10.5M9.5 864.2H10.5M9.5 859.6H10.5M9.5 855H10.5M9.5 850.4H10.5M9.5 845.8H10.5M9.5 841.1H10.5M9.5 836.5H10.5M9.5 831.9H10.5M9.5 827.3H10.5M9.5 822.7H10.5M9.5 818.1H10.5M9.5 813.5H10.5M9.5 808.9H10.5M9.5 804.3H10.5M9.5 799.7H10.5M11.1 882.7V883.7M15.1 882.7V883.7M17.1 882.7V883.7M18.5 882.7V883.7M19.6 882.7V883.7M20.6 882.7V883.7M21.3 882.7V883.7M21.9 882.7V883.7M22.5 882.7V883.7M26.5 882.7V883.7M28.5 882.7V883.7M29.9 882.7V883.7M31 882.7V883.7M31.9 882.7V883.7M32.7 882.7V883.7M33.3 882.7V883.7M33.8 882.7V883.7M37.8 882.7V883.7M39.8 882.7V883.7M41.2 882.7V883.7M42.3 882.7V883.7M43.3 882.7V883.7M44 882.7V883.7M44.6 882.7V883.7M45.2 882.7V883.7M49.2 882.7V883.7M51.2 882.7V883.7M52.6 882.7V883.7M53.7 882.7V883.7M54.6 882.7V883.7M55.4 882.7V883.7M56 882.7V883.7M56.5 882.7V883.7M60.5 882.7V883.7M62.5 882.7V883.7M63.9 882.7V883.7M65 882.7V883.7M66 882.7V883.7M66.7 882.7V883.7M67.3 882.7V883.7M67.9 882.7V883.7M71.9 882.7V883.7M73.9 882.7V883.7M75.3 882.7V883.7M76.4 882.7V883.7M77.3 882.7V883.7M78.1 882.7V883.7M78.7 882.7V883.7M79.2 882.7V883.7M83.2 882.7V883.7M85.2 882.7V883.7M86.6 882.7V883.7M87.7 882.7V883.7M88.7 882.7V883.7M89.4 882.7V883.7M90 882.7V883.7M90.6 882.7V883.7M94.6 882.7V883.7" stroke="#777" stroke-width="0.4" fill="none"/>
<path d="M58.7 849.6h0.8M48.5 855.4h0.8M61.7 837.9h0.8M66.9 844.7h0.8M64.5 850.9h0.8M70.7 847.9h0.8M43.2 879.4h0.8M30.1 861.2h0.8M57.4 850.8h0.8M67.3 860.2h0.8M35.3 857.1h0.8M34.1 870.3h0.8M44.9 856.9h0.8M34.7 861.2h0.8M65.7 851h0.8M67.7 842.7h0.8M65.5 863.4h0.8M34.6 859.4h0.8M49.2 855.4h0.8M28.6 863.9h0.8M65.2 847.8h0.8M62 854.3h0.8M53.5 853.2h0.8M34 864.3h0.8M63.3 878.7h0.8M37.1 858h0.8M70.8 859.7h0.8M56.6 852.5h0.8M38.1 874.5h0.8M69.6 862.1h0.8M66.4 860.4h0.8M28.4 856h0.8M64.1 850.7h0.8M49.8 852.2h0.8M64.5 872.3h0.8M36.6 874.9h0.8M63.5 868.9h0.8M40.2 859.6h0.8M40.3 852.6h0.8M59.6 852.4h0.8M66.6 864.7h0.8M65.8 860.4h0.8M51.9 851.7h0.8M65.3 867.5h0.8M69.8 851.1h0.8M33 871.8h0.8M35.5 878.6h0.8M60 846.5h0.8M35 869.7h0.8M37.4 871.6h0.8M37.5 877.5h0.8" stroke="#9a9aff" stroke-opacity="0.8" stroke-width="0.8" fill="none"/>
<path d="M59.5 864.3h0.8M48.8 880.3h0.8M60 876.2h0.8M48.5 879.7h0.8M52.5 856.6h0.8M56.1 878.5h0.8M50.3 858.8h0.8M52.6 859.3h0.8M52.2 857.7h0.8M47.1 876.5h0.8M60.3 859h0.8M59.8 864h0.8M42.8 864.5h0.8M58.5 870.3h0.8M46 878.1h0.8M55.6 854.8h0.8M52.1 859.4h0.8M44.5 860.3h0.8M43.7 873.7h0.8M57.9 855.1h0.8M56.7 878h0.8M62.7 867.2h0.8M45.4 859.4h0.8M48 878.5h0.8M61.1 856.1h0.8M48.4 861.2h0.8M44.9 878.1h0.8M48.4 878.3h0.8M60.4 858.3h0.8M59.3 874.9h0.8M55.2 854.6h0.8M46.7 876.8h0.8M63.5 858.5h0.8M49.4 857h0.8M44.9 862.9h0.8M55.1 880h0.8M54.6 857.3h0.8M44.1 858.9h0.8M61.1 863.8h0.8M56.6 858.9h0.8M48.2 861h0.8M58.3 857.9h0.8M59.6 854.6h0.8M40.4 875.3h0.8M43.6 861.3h0.8M43.4 862.9h0.8M51.9 878.3h0.8M49.9 880.1h0.8M61.1 872.4h0.8M58.7 860.4h0.8M51.6 881.4h0.8M42 866.1h0.8M59.8 861.5h0.8M45.5 876.8h0.8M53.1 859.3h0.8M62.2 859h0.8M43.8 862.3h0.8M44.1 879.6h0.8M59.4 856.3h0.8M53.4 878h0.8M39.8 866.3h0.8M54.3 879h0.8M39.7 870h0.8M61.1 868h0.8M61.7 864.7h0.8M59.7 874.4h0.8M61.1 854.1h0.8M49.1 881.1h0.8M54.8 880.2h0.8M41.7 867.4h0.8M41.1 868.1h0.8M39.9 865.1h0.8M55.1 856.5h0.8M41.4 864.5h0.8M40.3 870.9h0.8M61.7 861h0.8M56.3 856h0.8M45.5 861.8h0.8M63.7 860.1h0.8M62.3 867.9h0.8M64 862.4h0.8M53.4 858.1h0.8" stroke="#5560ff" stroke-opacity="0.85" stroke-width="0.8" fill="none"/>
<path d="M50.1 866.3h0.8M53.8 867.4h0.8M47.7 862.9h0.8M52.1 866.9h0.8M45.8 870.4h0.8M48 866.5h0.8M49.2 867.9h0.8M48.6 871.2h0.8M58.3 861.3h0.8M55.3 870.6h0.8M48 870h0.8M54.1 863.6h0.8M48.9 873.3h0.8M48.4 864.5h0.8M44.5 864.9h0.8M46.6 866.5h0.8M43.9 864.4h0.8M53.7 872.3h0.8M49.9 875.4h0.8M53.4 873.4h0.8M47.4 867.1h0.8M43.1 870.3h0.8M51.2 867.7h0.8M54.5 860.5h0.8M50.1 876.9h0.8M48.2 875.8h0.8M46 872.2h0.8M48.9 872h0.8M47.2 865.8h0.8M42.6 868h0.8M44.6 871.4h0.8M49.3 862.7h0.8M49.3 864.4h0.8M46.1 865.5h0.8M52.9 870.6h0.8M51 873.7h0.8M55.6 875.5h0.8M55 860.9h0.8M52.3 871.2h0.8M51.5 876.4h0.8M56.7 866.9h0.8M54 859.8h0.8M55.2 873.6h0.8M48.2 873.1h0.8M58.5 867h0.8M49.3 873.5h0.8M50.3 869.5h0.8M52 872.3h0.8M50.2 865.6h0.8M55.6 869.4h0.8M44.2 872.2h0.8M52.9 872.2h0.8M44.5 870.5h0.8M58.2 867.6h0.8M55 860.7h0.8M49.2 861.1h0.8M53.3 861.6h0.8M46.4 871h0.8M50.6 874.3h0.8M49.8 871.3h0.8M50.7 862.4h0.8M46.2 869.8h0.8M53.8 864.7h0.8M49.9 864.9h0.8M55.6 865.3h0.8M51.7 876.4h0.8M53 874h0.8M45.3 868.5h0.8M51.9 867.9h0.8M46.1 872.8h0.8M48.8 867.7h0.8M57.3 869.7h0.8M52.8 869.2h0.8M45.4 869.9h0.8M54.3 867.9h0.8M55.5 870h0.8M51 874.6h0.8M45.1 864.7h0.8M47.9 870.8h0.8M48.2 874.5h0.8M51.1 863.1h0.8M45 867.5h0.8M51.5 871.2h0.8M57 859.6h0.8M47.4 874.3h0.8M52.5 872.2h0.8M50.3 869.8h0.8M52.9 865h0.8M57.4 871.7h0.8M42.6 868.2h0.8M57 868h0.8M51.2 864.2h0.8M54.3 863.1h0.8M47.7 876.2h0.8M56.2 873.7h0.8M51.6 862.9h0.8M50.9 875.8h0.8M44 866.3h0.8M50.9 870.8h0.8M44.6 866.3h0.8M55.6 870.2h0.8M58.7 862.3h0.8M50.7 868.9h0.8M44.5 865.4h0.8M48.9 870.5h0.8M52.5 867h0.8M46.3 867.5h0.8M51 871.5h0.8M56.5 867.1h0.8M50 867.5h0.8M43.3 865.8h0.8M53 872.1h0.8M57.9 861.3h0.8M45.5 869.9h0.8M45.2 867.8h0.8M47.9 863.8h0.8M47.2 865.8h0.8" stroke="#3d55ff" stroke-opacity="0.9" stroke-width="0.8" fill="none"/>
<path d="M59.9 836.3h0.8M66.5 843.8h0.8M38.2 858.8h0.8M69.3 865.9h0.8M64.6 835.2h0.8M44.7 879.7h0.8M66 868h0.8M62.6 839.8h0.8M55.3 880h0.8M33.6 876.8h0.8M62 841.5h0.8M57.4 844.8h0.8M67.5 839.7h0.8M28.5 872.8h0.8M65 847.8h0.8M39.2 872.8h0.8M70.7 842.1h0.8M54.9 847h0.8M60.3 878.5h0.8M66.1 853.5h0.8M42.9 878.2h0.8M37.2 862.9h0.8M65.3 849.5h0.8M38 859.1h0.8M58.4 843.8h0.8M60.9 881.1h0.8M72.3 846.5h0.8M65.2 839.8h0.8M66.2 838.4h0.8M37.5 860.7h0.8M37.4 873.9h0.8M65.1 846.2h0.8M65 870.8h0.8M66.5 860h0.8M65.2 850.1h0.8M39.1 873.5h0.8M47.7 853.9h0.8M45.6 850.7h0.8M39.1 873.4h0.8M61.5 844.7h0.8M48.5 879.3h0.8M67.1 861.7h0.8M71.3 831.5h0.8M34 863.5h0.8M62.7 880.7h0.8M66.6 848.9h0.8M60.3 879.9h0.8M37.8 876.1h0.8M53.7 847.1h0.8M73.4 836.6h0.8M63.6 875.6h0.8M36.3 865.8h0.8M65.9 852.4h0.8M31.8 865h0.8M36.9 867.3h0.8M65.3 840.8h0.8M41.7 856.7h0.8M53.9 881h0.8M68.1 880.8h0.8M57.1 844.8h0.8M67.8 857.4h0.8M66.9 842.7h0.8M46.6 855.1h0.8M33.1 862.9h0.8M56.9 842.2h0.8M67.4 837.4h0.8M69.5 828.9h0.8M61.4 877.9h0.8M64.9 838.8h0.8M59.3 844.7h0.8M68.9 845.8h0.8M38 863.6h0.8M37.4 870.9h0.8M30.6 867h0.8M71.6 874.5h0.8M69.9 843.5h0.8M41.3 857.5h0.8M44.4 881h0.8M37.4 865.9h0.8M62.3 837.8h0.8M62.9 839h0.8M65.7 843h0.8M65.2 869.7h0.8M30.7 867.7h0.8M61.9 842.8h0.8M67.5 840.3h0.8M70 869.7h0.8M49 880.5h0.8M40.8 876.3h0.8M46.1 880h0.8M36.4 867.3h0.8M59.9 845h0.8M49.3 851.1h0.8M61.5 840.5h0.8" stroke="#9a9aff" stroke-opacity="0.8" stroke-width="0.8" fill="none"/>
<path d="M42.8 868.8h0.8M42 865.7h0.8M52.6 877.3h0.8M56.6 875.3h0.8M43.2 864.4h0.8M61.3 845.9h0.8M61.2 847.3h0.8M42.6 865.5h0.8M57 849.3h0.8M42.3 868.5h0.8M55.2 850.3h0.8M60.1 851.5h0.8M40 863.2h0.8M41.6 866.9h0.8M62.6 851.3h0.8M41.3 864.4h0.8M59.9 875.5h0.8M61.7 849.4h0.8M43.6 870.8h0.8M47.5 856.2h0.8M44.4 874.1h0.8M62.1 875.5h0.8M62.3 850.5h0.8M60.4 875h0.8M49.8 853.6h0.8M50.6 875.4h0.8M48.2 878.6h0.8M45.8 858.8h0.8M43.9 873.1h0.8M57.7 848.6h0.8M58.8 874.1h0.8M41.3 868.7h0.8M43.2 870.2h0.8M45.6 861h0.8M55.7 853.3h0.8M61.6 851.8h0.8M44.2 873.5h0.8M43.8 864.6h0.8M42.9 868.2h0.8M42.9 871.4h0.8M57.6 851.1h0.8M59.1 876h0.8M53.4 876.6h0.8M60.7 870.8h0.8M43.1 861.3h0.8M52.3 853.3h0.8M44.3 874.5h0.8M61.9 851.4h0.8M45.9 859.4h0.8M58.2 875.3h0.8M63.6 856.1h0.8M62.4 864.1h0.8M64 858.9h0.8M60.5 850.1h0.8M42.3 870.7h0.8M50.1 855.8h0.8M48 876h0.8M47.6 855.4h0.8M63.6 857.4h0.8M49.3 877.9h0.8M53 853.7h0.8M62.1 869.2h0.8M47.2 875.5h0.8M60.9 849.5h0.8M56.3 879.5h0.8M51.8 855h0.8M54.3 854.7h0.8M54.4 878h0.8M41.9 859.9h0.8M62.2 873.7h0.8M61.1 849.5h0.8M60.9 848.7h0.8M49.2 877.5h0.8M62 852.2h0.8M60.5 867.7h0.8M58 846.8h0.8M49.8 875.5h0.8M43 869.8h0.8M59.6 847.7h0.8M41 866.1h0.8M63 851.9h0.8M59.3 851.7h0.8M59.9 874.7h0.8M44.8 871.6h0.8M51 856.9h0.8M57.8 850.7h0.8M42.1 867h0.8M45.1 873.1h0.8M63 870.1h0.8M50.8 852.8h0.8M39.3 864.5h0.8M41.6 871.6h0.8M62.7 857.9h0.8M49.3 879.1h0.8M47.7 856.7h0.8M43.3 867.1h0.8M52 877.5h0.8M43.7 862.7h0.8M54.3 876.1h0.8M59.3 848h0.8M45.9 877.4h0.8M50.4 852.8h0.8M64.4 858.1h0.8M65.1 862.7h0.8M61.9 856h0.8M39.4 868.6h0.8M59.5 850.7h0.8M46.1 875.4h0.8M63.2 872.4h0.8M46.6 859.6h0.8M62.1 854.5h0.8M42.8 864.5h0.8M59.7 873.6h0.8M63.9 846.3h0.8M45.6 872.4h0.8M42.9 874.3h0.8M47.8 878.1h0.8M58.5 874.3h0.8M40.3 866h0.8M65.1 855.6h0.8M55.5 853.4h0.8M46.1 877.2h0.8M45.4 873.7h0.8M58.4 874.1h0.8M40.8 868.1h0.8M45.5 861.2h0.8M50.4 856.6h0.8M61.4 857.9h0.8M63.1 849.2h0.8M44 876.2h0.8M41.4 873.6h0.8M60.8 850.9h0.8M44.2 864.1h0.8M62.6 861.8h0.8M61.3 852.5h0.8M44.7 860.1h0.8M61.7 869.4h0.8M42.6 867.2h0.8M61.6 867.8h0.8M43.2 862.8h0.8M42.6 873.4h0.8M44.3 876h0.8M45.9 874h0.8M49.6 857.1h0.8M40.2 865.3h0.8M63.1 850.1h0.8M60.6 847.7h0.8M46.8 860.4h0.8M53.7 854h0.8M49.5 853.7h0.8M57.3 879.3h0.8M46.1 876h0.8M63.1 875.5h0.8M60 851.6h0.8M52.3 854h0.8M60.5 871.8h0.8M48 875.2h0.8M63.7 852.3h0.8M43.9 861h0.8M61.5 851.5h0.8M56.9 875.9h0.8M61.4 862.4h0.8M58.7 851.4h0.8M62.6 847.3h0.8M39.1 865.3h0.8M60.1 870.3h0.8M63 874.3h0.8M52.2 877.2h0.8M40.9 862.7h0.8M62.7 862.7h0.8M63.8 854.1h0.8M39.9 865.4h0.8M50.4 877h0.8M61.6 853.3h0.8M41.1 871.2h0.8M42.4 864.3h0.8M49.2 858.4h0.8M63.8 859.9h0.8M60.8 866.2h0.8M56.2 878.3h0.8M40.8 862.8h0.8M61.1 875.8h0.8M46.4 861.5h0.8M51.9 851.2h0.8M49.4 853.2h0.8M62.7 869.5h0.8M63.6 865.4h0.8" stroke="#5560ff" stroke-opacity="0.85" stroke-width="0.8" fill="none"/>
<clipPath id="c13"><rect x="11" y="795" width="83.4" height="87.2"/></clipPath><g clip-path="url(#c13)">
<g transform="translate(51.7 868.5) rotate(-64)" filter="url(#gr)"><path d="M-10 0C-10 -10 -2.5 -11.8 7.5 -8.3C16.2 -5.9 25 -2.8 25 0C25 2.8 16.2 5.9 7.5 8.3C-2.5 11.8 -10 10 -10 0Z" fill="#8080ff" fill-opacity="0.38"/><path d="M-8.6 0C-8.6 -8 -2.1 -9.4 6 -6.6C13 -4.7 20 -2.2 20 0C20 2.2 13 4.7 6 6.6C-2.1 9.4 -8.6 8 -8.6 0Z" fill="#3038f8" fill-opacity="0.85"/></g>
<g transform="translate(51.7 868.5) rotate(-64)" filter="url(#bl)"><path d="M-7.3 0C-7.3 -6.2 -1.8 -7.3 4.6 -5.1C10.1 -3.6 15.5 -1.7 15.5 0C15.5 1.7 10.1 3.6 4.6 5.1C-1.8 7.3 -7.3 6.2 -7.3 0Z" fill="#1f8cf5" fill-opacity="0.95"/><path d="M-6.5 0C-6.5 -5 -1.6 -5.9 3.8 -4.1C8.1 -2.9 12.5 -1.4 12.5 0C12.5 1.4 8.1 2.9 3.8 4.1C-1.6 5.9 -6.5 5 -6.5 0Z" fill="#22c4b8" fill-opacity="1"/><path d="M-5.8 0C-5.8 -4 -1.4 -4.7 3 -3.3C6.5 -2.4 10 -1.1 10 0C10 1.1 6.5 2.4 3 3.3C-1.4 4.7 -5.8 4 -5.8 0Z" fill="#3fd44a" fill-opacity="1"/><path d="M-5.2 0C-5.2 -3.1 -1.3 -3.6 2.3 -2.6C5 -1.8 7.7 -0.8 7.7 0C7.7 0.8 5 1.8 2.3 2.6C-1.3 3.6 -5.2 3.1 -5.2 0Z" fill="#cce42a" fill-opacity="1"/><path d="M-4.9 0C-4.9 -2.8 -1.2 -3.3 2.1 -2.3C4.5 -1.6 6.9 -0.8 6.9 0C6.9 0.8 4.5 1.6 2.1 2.3C-1.2 3.3 -4.9 2.8 -4.9 0Z" fill="#ff8a1a" fill-opacity="1"/><path d="M-4.1 0C-4.1 -1.6 -1 -1.9 1.2 -1.3C2.6 -0.9 4 -0.4 4 0C4 0.4 2.6 0.9 1.2 1.3C-1 1.9 -4.1 1.6 -4.1 0Z" fill="#f0301e" fill-opacity="1"/></g>
</g>
<path d="M42.3 864h0.8M56.5 873.7h0.8M52.2 856.9h0.8M60.6 870.4h0.8M58.3 873h0.8M45 870.4h0.8M57.2 870.5h0.8M44.3 874h0.8M51.2 874.5h0.8M54.2 854.4h0.8M47.8 853.7h0.8M61.2 851.3h0.8M48.6 861.3h0.8M54.3 873.1h0.8M60 871.7h0.8" stroke="#3038f8" stroke-opacity="0.8" stroke-width="0.8" fill="none"/>
<path d="M50.7 865.3h0.8M52.3 868.2h0.8M50 868.2h0.8M50.4 867.7h0.8M54.2 863.9h0.8M52.8 866.3h0.8M54.6 867.3h0.8M51.6 869.2h0.8M50.1 867.4h0.8M52.2 870.1h0.8" stroke="#ff8a1a" stroke-opacity="0.8" stroke-width="0.8" fill="none"/>
<path d="M49.7 865h0.8M49.2 870.7h0.8M55.2 861.3h0.8M54 870.6h0.8M56.8 868.5h0.8M49.2 869.7h0.8M54.7 863.1h0.8M55.8 863.2h0.8M55.7 858.7h0.8M48.5 869.3h0.8M56.5 863.1h0.8M50.9 861.7h0.8M52.5 872.9h0.8M52.2 863.1h0.8M48.9 865.8h0.8M47.7 866.3h0.8M56.7 861.4h0.8M48.4 870.9h0.8M49.3 870.5h0.8M55.9 863h0.8M48.8 869.2h0.8" stroke="#22c4b8" stroke-opacity="0.8" stroke-width="0.8" fill="none"/>
<path d="M56.1 863h0.8M55.4 866.2h0.8M56.5 861.2h0.8M50.1 871.2h0.8M49.9 869.5h0.8M50.3 865.2h0.8M50.4 869.9h0.8M49 871.3h0.8" stroke="#3fd44a" stroke-opacity="0.8" stroke-width="0.8" fill="none"/>
<path d="M47.3 871.5h0.8M47.1 867.1h0.8M58 857.2h0.8M47.8 869.9h0.8M53.3 861h0.8" stroke="#1f8cf5" stroke-opacity="0.8" stroke-width="0.8" fill="none"/>
<path d="M54.5 864.5h0.8M54 871.1h0.8M53.5 868.1h0.8M49.7 868.2h0.8M49.4 870.4h0.8M48.6 868h0.8M54.1 871.5h0.8M49.1 866.4h0.8M53 869.3h0.8M50.4 870h0.8" stroke="#cce42a" stroke-opacity="0.8" stroke-width="0.8" fill="none"/>
<path d="M51.8 866.9h0.8" stroke="#f0301e" stroke-opacity="0.8" stroke-width="0.8" fill="none"/>
<path d="M83.7 864.7h0.8M80.4 807.5h0.8M76.6 875.6h0.8M84.4 827.7h0.8M83.7 819.1h0.8M69.4 820.9h0.8M82.2 812.7h0.8M85.2 823.3h0.8M79.3 811.9h0.8M59.5 857.9h0.8M84.1 845.8h0.8M59.4 849.6h0.8M77.6 871h0.8M62.8 833.7h0.8M88 813h0.8M80.9 865.8h0.8M71.5 880.1h0.8M85.5 810.4h0.8M85.3 814.9h0.8M54.2 843.1h0.8M73.9 817.5h0.8M55.5 855.3h0.8M87.1 830.1h0.8M85.7 813.6h0.8M77.8 877.7h0.8M57.4 875.6h0.8M74.5 809.3h0.8M77.4 808.6h0.8M81.4 809.6h0.8M60.9 845.1h0.8M84 813.8h0.8M63.9 836h0.8M57.7 873.6h0.8M88.7 798.7h0.8M84.3 842h0.8M76.1 814.8h0.8M75.2 815.8h0.8M81.4 810.8h0.8M83.6 806.9h0.8M61.6 841.7h0.8M87.4 822.4h0.8M72 878.6h0.8M83.3 807.7h0.8M59.3 864h0.8M57.8 860.9h0.8M55.6 878.3h0.8M84.8 814h0.8M85.9 858.6h0.8M88.5 855.4h0.8M84.7 862.6h0.8M68.9 822.4h0.8M74.1 875.3h0.8M68.7 825.4h0.8M79.6 872.6h0.8M54.6 863.4h0.8M73.9 817.9h0.8M84 814.9h0.8M60.3 849.1h0.8M58.2 849.7h0.8M59.6 875.4h0.8M55 876.9h0.8M62.4 832.2h0.8M75.4 796.6h0.8M53.1 868.9h0.8M76.8 876.2h0.8M59.9 874.5h0.8M62.1 843h0.8M62 841.3h0.8M78.7 865.3h0.8M62.8 840.8h0.8M69.8 813.5h0.8M61 880.1h0.8M79.2 868.9h0.8M83.7 801.1h0.8M75.4 876h0.8M68.4 825h0.8M58.7 859.1h0.8M71.9 877.9h0.8M81.6 860.6h0.8M55.4 875.1h0.8M71.2 876.4h0.8M77.1 873.5h0.8M82.9 859.7h0.8M78.1 867.3h0.8M81.5 806.1h0.8M84.7 838.1h0.8M75.1 879.6h0.8M66.3 827h0.8" stroke="#9a9aff" stroke-opacity="0.8" stroke-width="0.8" fill="none"/>
<path d="M75.8 869.6h0.8M64 869.7h0.8M66.3 866.6h0.8M67.8 838.1h0.8M65.4 867.2h0.8M83 830.4h0.8M80 813.4h0.8M67.8 866.6h0.8M66.4 837.5h0.8M75.2 868.2h0.8M64.3 841.4h0.8M82.1 842.7h0.8M80.5 860.3h0.8M65.3 838.1h0.8M69 833.7h0.8M66.1 870.5h0.8M72.3 865h0.8M70.8 830.1h0.8M75.7 826.2h0.8M66.2 874.9h0.8M73.4 870h0.8M84.2 837.2h0.8M79.5 827.8h0.8M63.2 869.6h0.8M69.4 828.1h0.8M79.3 823.1h0.8M73.5 868.4h0.8M78 824.9h0.8M66.8 842.7h0.8M82 853.1h0.8M76 860.7h0.8M76.9 819.3h0.8M63.4 855.1h0.8M64.4 838.8h0.8M63.2 854.8h0.8M67.8 868h0.8M64.8 848.6h0.8M80.4 817.2h0.8M78.8 860.6h0.8M68.8 829.1h0.8M71.3 826h0.8M68.5 871.3h0.8M81.5 849.3h0.8M68.6 835.8h0.8M66.6 833.5h0.8M76.6 817.6h0.8M80.4 830.7h0.8M75.8 862h0.8M68.2 833.1h0.8M80.3 846.2h0.8M83 841.7h0.8M68.7 837.8h0.8M61.2 850.4h0.8M81.8 837.5h0.8M65.6 845.1h0.8M68.8 866.7h0.8M61.8 844.6h0.8M64.8 841.3h0.8M64.3 852h0.8M69.4 831.1h0.8M68.6 874.6h0.8M74.1 869.1h0.8M79.8 828.8h0.8M66.3 841.7h0.8M63 860.9h0.8M76.9 858.6h0.8M69.5 833.5h0.8M79.6 860.8h0.8M79 856.2h0.8M81.7 853.1h0.8M67.3 868.3h0.8M80 852.6h0.8M78.9 862.9h0.8M63.8 855.3h0.8M61.8 870h0.8M76.2 818h0.8M60.2 864.6h0.8M64.3 861.6h0.8M81.4 820.4h0.8M83.1 852.4h0.8M77.4 824.1h0.8M73.3 867.6h0.8M83.2 830.3h0.8M75.5 820.1h0.8M82.1 823.9h0.8M81 821.3h0.8M62.1 847.1h0.8M64.3 874.7h0.8M70.2 830.9h0.8M78.6 818.8h0.8M62.5 868.1h0.8M63.1 851.3h0.8M80.1 849.8h0.8M81.6 838.9h0.8M83.5 844.9h0.8M60.8 855.2h0.8M83.5 823.6h0.8M79.1 854.4h0.8M81.2 849.5h0.8M74.5 863h0.8M78.1 825.8h0.8M66.6 842.1h0.8M77.9 819.9h0.8M79 822.2h0.8M81.2 830.1h0.8M66.7 837.1h0.8M77.9 823.7h0.8M71.9 823.9h0.8M68.6 837.7h0.8M79 851.5h0.8M69 836.2h0.8M80.6 824.1h0.8M63.3 874.5h0.8M73 825h0.8M79.7 822.9h0.8M79.6 816.5h0.8M68.1 830.5h0.8M79.7 859.3h0.8M79.6 851h0.8M73.8 824.5h0.8M64.9 848.4h0.8M73.6 865.5h0.8M76.5 867h0.8M80.6 824.6h0.8M63.8 871.6h0.8M75.4 866.3h0.8M62.8 854.1h0.8M77.4 859h0.8M75.2 868.2h0.8M64.4 867.4h0.8M78.3 859.6h0.8M79.4 826.2h0.8M63.7 849.3h0.8M70.6 867.4h0.8M69.6 873.6h0.8M81.5 816.7h0.8M60.6 851.2h0.8M74.7 862.2h0.8M63.1 864.2h0.8M76.8 858.7h0.8M64.3 850.5h0.8M76.2 866.1h0.8M76.4 821.9h0.8M63.3 863.3h0.8M74.7 823.3h0.8M80.3 832.3h0.8M68.2 874.8h0.8M63 855.7h0.8M82.8 815.4h0.8M79.9 827.2h0.8M80.2 814.6h0.8M82.4 851.5h0.8M78.2 824h0.8M76.6 861.5h0.8M76.5 820h0.8M71.8 824.9h0.8M82.2 841.2h0.8M71.7 826.4h0.8M65.6 869.8h0.8M81.8 829.5h0.8M72.2 823h0.8M67.7 837.7h0.8M80.8 848.4h0.8M81.6 835.8h0.8M77.7 858.1h0.8M82.2 820.6h0.8M68.3 831.3h0.8M70.6 872.6h0.8M64.9 848.8h0.8M81.4 841.4h0.8M61.2 846.8h0.8M67.6 877h0.8M83.4 829.7h0.8M80 816.8h0.8M76.6 868.7h0.8M63.4 844.7h0.8M67.7 834.9h0.8M79.4 818.1h0.8M79.7 813.3h0.8M68.7 834.8h0.8M63.7 857.5h0.8M64.1 855.1h0.8M73.6 820.4h0.8M64.6 863.7h0.8M82.5 819.4h0.8" stroke="#5560ff" stroke-opacity="0.85" stroke-width="0.8" fill="none"/>
<clipPath id="c14"><rect x="11" y="795" width="83.4" height="87.2"/></clipPath><g clip-path="url(#c14)">
<g transform="translate(72.4 848.5) rotate(-77)" filter="url(#gr)"><path d="M-26 0C-26 -8 -6.5 -9.4 10.2 -7.1C22.1 -5.7 34 -4.1 34 0C34 4.1 22.1 5.7 10.2 7.1C-6.5 9.4 -26 8 -26 0Z" fill="#8080ff" fill-opacity="0.42"/><path d="M-20.8 0C-20.8 -6.4 -5.2 -7.5 8.2 -5.7C17.7 -4.6 27.2 -3.3 27.2 0C27.2 3.3 17.7 4.6 8.2 5.7C-5.2 7.5 -20.8 6.4 -20.8 0Z" fill="#3038f8" fill-opacity="0.95"/></g>
<g transform="translate(72.4 848.5) rotate(-77)" filter="url(#bl)"><path d="M-16.1 0C-16.1 -4.9 -4 -5.8 6.3 -4.4C13.7 -3.5 21.1 -2.5 21.1 0C21.1 2.5 13.7 3.5 6.3 4.4C-4 5.8 -16.1 4.9 -16.1 0Z" fill="#1f8cf5" fill-opacity="0.95"/><path d="M-13 0C-13 -4 -3.2 -4.7 5.1 -3.6C11.1 -2.9 17 -2 17 0C17 2 11.1 2.9 5.1 3.6C-3.2 4.7 -13 4 -13 0Z" fill="#22c4b8" fill-opacity="1"/><path d="M-10.4 0C-10.4 -3.2 -2.6 -3.8 4.1 -2.9C8.8 -2.3 13.6 -1.6 13.6 0C13.6 1.6 8.8 2.3 4.1 2.9C-2.6 3.8 -10.4 3.2 -10.4 0Z" fill="#3fd44a" fill-opacity="1"/><path d="M-4.4 0C-4.4 -1.3 -1.1 -1.6 1.7 -1.2C3.7 -1 5.7 -0.7 5.7 0C5.7 0.7 3.7 1 1.7 1.2C-1.1 1.6 -4.4 1.3 -4.4 0Z" fill="#cce42a" fill-opacity="1"/></g>
</g>
<path d="M69.4 862.5h0.8M72.2 867.6h0.8M79.9 827h0.8M76.8 846.5h0.8M70.5 832.4h0.8M80.4 827.1h0.8M75.8 831.5h0.8M77.5 838.7h0.8M71.8 838.8h0.8M80 848.7h0.8M70.1 863.6h0.8M65.6 851.6h0.8M67.6 862.5h0.8M73.7 837.7h0.8M69.6 862.9h0.8M71.7 859.4h0.8M72.8 863h0.8M71 838.4h0.8M74 857.1h0.8M66 847.4h0.8M71.9 863.1h0.8M75.1 830.2h0.8M68.1 863.5h0.8M67.8 865h0.8M77.1 837.2h0.8M75.4 850.4h0.8M64.6 865h0.8M76.9 841.1h0.8M68.3 861.8h0.8M71.2 838h0.8M76.2 824.3h0.8M68 858.4h0.8M80.1 844.2h0.8M76.1 852.6h0.8M68.4 852.3h0.8M72.2 863.3h0.8M76.5 828.4h0.8M70.8 859h0.8M66.8 846.4h0.8M68.3 863.2h0.8M77 831.4h0.8M73.8 865.8h0.8M75.9 849h0.8M79.5 843.5h0.8M72.5 857h0.8M75.2 837.6h0.8M77.5 832.7h0.8M68.3 862h0.8" stroke="#3038f8" stroke-opacity="0.8" stroke-width="0.8" fill="none"/>
<path d="M68.9 858h0.8M72.2 840.9h0.8M74.8 834h0.8M78 838.2h0.8M75.4 854.6h0.8M75.3 834.7h0.8M67.2 848.1h0.8M77.7 840.8h0.8M67.5 852.5h0.8M68.2 855.3h0.8M68.6 853.6h0.8M73.4 840.3h0.8M73.3 837.8h0.8M68.7 856.8h0.8M76.3 839.2h0.8M67.9 848.1h0.8M70.1 859.8h0.8M67.5 849.1h0.8" stroke="#1f8cf5" stroke-opacity="0.8" stroke-width="0.8" fill="none"/>
<path d="M69.1 856.8h0.8M74 841.8h0.8M71.6 855.1h0.8M75.3 837.6h0.8M74 855.7h0.8M74.7 841.5h0.8M72.7 854.9h0.8M75 841.6h0.8M71.2 853.1h0.8M70.5 850.9h0.8M74.4 841.1h0.8M73.9 852.4h0.8M69.6 851.2h0.8M68 849.4h0.8M74 850.9h0.8M76.2 844.3h0.8M68.7 849.7h0.8M69.6 852.1h0.8" stroke="#22c4b8" stroke-opacity="0.8" stroke-width="0.8" fill="none"/>
<path d="M75.8 847.5h0.8M71.7 850.4h0.8M71.7 845.2h0.8M73.2 842.3h0.8M72.3 844.7h0.8M73.1 848h0.8M71.7 856.2h0.8M69.9 854.7h0.8M75.2 844.3h0.8M71.5 856.5h0.8M73.7 853.1h0.8M73.7 845h0.8M74.6 840.3h0.8" stroke="#3fd44a" stroke-opacity="0.8" stroke-width="0.8" fill="none"/>
<path d="M74.6 848.2h0.8M71.6 849.5h0.8M71.8 850h0.8M73.6 847.3h0.8M73 851h0.8M72.3 844.8h0.8M72.7 843.2h0.8M70.2 849.4h0.8M73 843.3h0.8M74.6 846.2h0.8M72.6 848.5h0.8M71.6 844.5h0.8M72.1 850.6h0.8" stroke="#cce42a" stroke-opacity="0.8" stroke-width="0.8" fill="none"/>
<path transform="translate(10.5 794.5)" d="M53.5 21.3L76.2 21.3L76.2 80.5L55.1 81.8C51.5 76.5 48 68 47.2 60C46.7 54 47.4 46 49.4 38Z" fill="none" stroke="#3a3a3a" stroke-width="0.75"/>
<text x="76.2" y="813.5" font-size="7.2" font-weight="bold" text-anchor="middle" fill="#151515" stroke="#151515" stroke-width="0.3">12306</text>
<rect x="107.6" y="794.5" width="84.4" height="88.2" fill="#fff" stroke="#8c8c8c" stroke-width="0.6"/>
<text x="104.6" y="883.46" font-size="2.4" font-weight="normal" text-anchor="end" fill="#555">0</text>
<text x="104.6" y="860.43" font-size="2.4" font-weight="normal" text-anchor="end" fill="#555">500</text>
<text x="104.6" y="837.4" font-size="2.4" font-weight="normal" text-anchor="end" fill="#555">1.0K</text>
<text x="104.6" y="814.37" font-size="2.4" font-weight="normal" text-anchor="end" fill="#555">1.5K</text>
<text x="110.4" y="887.9" font-size="2.4" font-weight="normal" text-anchor="middle" fill="#555">10<tspan dy="-1.08" font-size="1.68">0</tspan></text>
<text x="121.75" y="887.9" font-size="2.4" font-weight="normal" text-anchor="middle" fill="#555">10<tspan dy="-1.08" font-size="1.68">1</tspan></text>
<text x="133.1" y="887.9" font-size="2.4" font-weight="normal" text-anchor="middle" fill="#555">10<tspan dy="-1.08" font-size="1.68">2</tspan></text>
<text x="144.45" y="887.9" font-size="2.4" font-weight="normal" text-anchor="middle" fill="#555">10<tspan dy="-1.08" font-size="1.68">3</tspan></text>
<text x="155.8" y="887.9" font-size="2.4" font-weight="normal" text-anchor="middle" fill="#555">10<tspan dy="-1.08" font-size="1.68">4</tspan></text>
<text x="167.15" y="887.9" font-size="2.4" font-weight="normal" text-anchor="middle" fill="#555">10<tspan dy="-1.08" font-size="1.68">5</tspan></text>
<text x="178.5" y="887.9" font-size="2.4" font-weight="normal" text-anchor="middle" fill="#555">10<tspan dy="-1.08" font-size="1.68">6</tspan></text>
<text x="189.85" y="887.9" font-size="2.4" font-weight="normal" text-anchor="middle" fill="#555">10<tspan dy="-1.08" font-size="1.68">7</tspan></text>
<path d="M105.5 882.6H107.6M105.5 859.6H107.6M105.5 836.5H107.6M105.5 813.5H107.6M108.8 882.7V884.5M120.1 882.7V884.5M131.5 882.7V884.5M142.8 882.7V884.5M154.2 882.7V884.5M165.6 882.7V884.5M176.9 882.7V884.5M188.2 882.7V884.5" stroke="#333" stroke-width="0.7" fill="none"/>
<path d="M106.6 882.6H107.6M106.6 878H107.6M106.6 873.4H107.6M106.6 868.8H107.6M106.6 864.2H107.6M106.6 859.6H107.6M106.6 855H107.6M106.6 850.4H107.6M106.6 845.8H107.6M106.6 841.1H107.6M106.6 836.5H107.6M106.6 831.9H107.6M106.6 827.3H107.6M106.6 822.7H107.6M106.6 818.1H107.6M106.6 813.5H107.6M106.6 808.9H107.6M106.6 804.3H107.6M106.6 799.7H107.6M108.2 882.7V883.7M112.2 882.7V883.7M114.2 882.7V883.7M115.6 882.7V883.7M116.7 882.7V883.7M117.7 882.7V883.7M118.4 882.7V883.7M119 882.7V883.7M119.6 882.7V883.7M123.6 882.7V883.7M125.6 882.7V883.7M127 882.7V883.7M128.1 882.7V883.7M129 882.7V883.7M129.8 882.7V883.7M130.4 882.7V883.7M130.9 882.7V883.7M134.9 882.7V883.7M136.9 882.7V883.7M138.3 882.7V883.7M139.4 882.7V883.7M140.4 882.7V883.7M141.1 882.7V883.7M141.7 882.7V883.7M142.3 882.7V883.7M146.3 882.7V883.7M148.3 882.7V883.7M149.7 882.7V883.7M150.8 882.7V883.7M151.7 882.7V883.7M152.5 882.7V883.7M153.1 882.7V883.7M153.6 882.7V883.7M157.6 882.7V883.7M159.6 882.7V883.7M161 882.7V883.7M162.1 882.7V883.7M163.1 882.7V883.7M163.8 882.7V883.7M164.4 882.7V883.7M165 882.7V883.7M169 882.7V883.7M171 882.7V883.7M172.4 882.7V883.7M173.5 882.7V883.7M174.4 882.7V883.7M175.2 882.7V883.7M175.8 882.7V883.7M176.3 882.7V883.7M180.3 882.7V883.7M182.3 882.7V883.7M183.7 882.7V883.7M184.8 882.7V883.7M185.8 882.7V883.7M186.5 882.7V883.7M187.1 882.7V883.7M187.7 882.7V883.7M191.7 882.7V883.7" stroke="#777" stroke-width="0.4" fill="none"/>
<path d="M156.1 875h0.8M159.8 864.9h0.8M151.2 854.2h0.8M143.1 856.6h0.8M130 864h0.8M134.2 852.7h0.8M156 878.1h0.8M155.4 847.8h0.8M130.7 878.3h0.8M158.3 861.2h0.8M128.3 858.2h0.8M156.5 870.8h0.8M159.2 869.6h0.8M126.9 864.1h0.8M164.2 867.5h0.8M157.7 859.3h0.8M128.8 880h0.8M159 859.6h0.8M153.8 856.1h0.8M144.2 857.2h0.8M155.9 879.6h0.8M159.5 858.6h0.8M144.7 856.2h0.8M153.9 880.7h0.8M155.2 856.5h0.8M157.3 865.5h0.8M164.8 853h0.8M154.4 854.5h0.8M158.8 849.5h0.8M130.1 868.5h0.8M137.8 857.8h0.8M156.5 879.7h0.8" stroke="#9a9aff" stroke-opacity="0.8" stroke-width="0.8" fill="none"/>
<path d="M148.4 880.3h0.8M151.5 860.7h0.8M152.1 869.9h0.8M150.5 879h0.8M135.2 876.5h0.8M136.6 879.3h0.8M155.5 865.7h0.8M154.1 875.7h0.8M148.5 880.6h0.8M148.5 861h0.8M134.8 869.7h0.8M134.4 872.9h0.8M152.5 873.4h0.8M151 861.8h0.8M132.3 870.5h0.8M155 857.5h0.8M144.6 880.9h0.8M152.9 856.6h0.8M154.5 867.9h0.8M154.5 857.2h0.8M142.6 860.2h0.8M134.7 878.9h0.8M153.1 859.5h0.8M133.5 866.7h0.8M153.9 864.7h0.8M150.5 878.8h0.8M134.3 872h0.8M154.2 861.6h0.8M150.6 878.6h0.8M151.7 871.9h0.8M134.3 870.1h0.8M154.5 869.6h0.8M133.5 866.1h0.8M153.7 865h0.8M135.2 880.3h0.8M132.7 872.2h0.8M149 880.8h0.8M133.5 869.8h0.8M140.5 864.1h0.8M139.2 861.6h0.8M133.3 866.5h0.8M146 880.6h0.8M138.2 879.7h0.8M138.4 861.7h0.8M133.1 870.8h0.8M155.5 864.2h0.8M149.4 877.9h0.8M136.5 876.2h0.8M135.2 865.9h0.8M147.1 881.4h0.8M152.7 870.1h0.8M152.9 870.6h0.8M134.3 870.4h0.8M136 879.9h0.8M132.2 866.5h0.8M149.7 861.8h0.8M149.2 877.9h0.8M151.5 879.7h0.8M133 864.4h0.8M134.5 867.4h0.8M133.4 870.9h0.8M139.7 861.7h0.8M148.7 859.8h0.8M154.3 875.4h0.8M147.9 858.1h0.8M153.6 867.3h0.8M139.9 879.3h0.8M139.9 880.8h0.8M151.7 875.5h0.8M136.6 877h0.8M134.8 864.9h0.8M151.4 862.6h0.8M155.1 859.1h0.8M143 862.9h0.8M148.8 861.1h0.8M152 872.8h0.8" stroke="#5560ff" stroke-opacity="0.85" stroke-width="0.8" fill="none"/>
<path d="M142.9 865.6h0.8M136.2 868.5h0.8M141.2 864.8h0.8M137 871.5h0.8M137.5 869.8h0.8M143.1 867.5h0.8M147 869.9h0.8M137.8 873.6h0.8M137.6 868.2h0.8M140 866.8h0.8M141.2 867.4h0.8M145 873.5h0.8M142.8 869h0.8M147.9 873.8h0.8M142.9 879.4h0.8M143.4 874.6h0.8M144.2 877.2h0.8M139.2 867.3h0.8M145.7 877.5h0.8M142.6 876.3h0.8M140.8 869.7h0.8M142.5 877.8h0.8M139 875.9h0.8M148.5 865.1h0.8M138.2 870.5h0.8M140.8 878.2h0.8M150.9 863.8h0.8M145.1 865.1h0.8M141.6 872h0.8M137.4 872.3h0.8M148.3 867.5h0.8M148.5 868.6h0.8M136.9 873.1h0.8M147.2 878.6h0.8M151.9 865.1h0.8M144.7 873.5h0.8M138.7 873.6h0.8M141.8 871.8h0.8M148.4 864.2h0.8M151.1 864.6h0.8M138.1 871.8h0.8M141.4 875.4h0.8M139.7 869.6h0.8M142 874.6h0.8M143.4 874.3h0.8M150.8 866h0.8M142.9 865.6h0.8M137 871.4h0.8M142.2 871.9h0.8M150.8 865.4h0.8M145.2 879h0.8M142 878h0.8M143.8 876.5h0.8M141.9 876.7h0.8M136.6 874.7h0.8M143.4 875.6h0.8M147.6 863.2h0.8M139.6 875.4h0.8M150.1 867h0.8M144 868.2h0.8M142.4 866.4h0.8M147.2 873.2h0.8M145.1 870.1h0.8M149.5 863.3h0.8M152.1 868.6h0.8M149.2 875.1h0.8M147.5 868.5h0.8M139.2 874.8h0.8M149.7 865.7h0.8M145.5 867.3h0.8M143.8 875.5h0.8M136.1 872.1h0.8M147.9 869h0.8M141.1 869.6h0.8M141.8 871.3h0.8M148.4 877.9h0.8M142.7 873.6h0.8M147.9 875.6h0.8M140.2 875.3h0.8M144.4 874.1h0.8M151.7 870.4h0.8M144 864.4h0.8M139 875.4h0.8M147 875.7h0.8M147.1 875.4h0.8M143.1 872.3h0.8M145.2 875.2h0.8M139.8 877h0.8M151.5 867.2h0.8M139 876.9h0.8M149.1 871.4h0.8M149.2 865.9h0.8M144.1 871.9h0.8M141 871.5h0.8M146 877.1h0.8M148.8 870.6h0.8M150.2 868.4h0.8M136.6 875.6h0.8M138 869.1h0.8M136.1 868.3h0.8M143.9 877.6h0.8M146 864.4h0.8M147 869.1h0.8M148.3 871.3h0.8M139 874.7h0.8M150.6 867.6h0.8M150.8 866h0.8M142.2 875h0.8M141.8 873h0.8M151.7 866.4h0.8M140.9 865.8h0.8M142.7 874.1h0.8M144.9 876.9h0.8M141.7 866.4h0.8M138.2 867.7h0.8M145.4 864.5h0.8M137.7 869.8h0.8M144.1 870.2h0.8M142.6 869.9h0.8M149.2 871.3h0.8M149.3 877.2h0.8M142.6 869.1h0.8M138.9 875.7h0.8M140.6 875.8h0.8M150.5 867.9h0.8M149.1 875.8h0.8" stroke="#3d55ff" stroke-opacity="0.9" stroke-width="0.8" fill="none"/>
<path d="M159.3 856.8h0.8M163.3 878.3h0.8M134.4 876.6h0.8M154.4 843.6h0.8M163.3 836.7h0.8M151.9 837.5h0.8M138.8 858.2h0.8M155.1 846h0.8M150.4 847.1h0.8M130.3 871.8h0.8M127.8 865.9h0.8M128.4 876.9h0.8M161.4 847.9h0.8M159.6 857.2h0.8M159 837.8h0.8M155.6 844.2h0.8M159.6 838.7h0.8M154.8 841.4h0.8M152.6 848.6h0.8M154.8 880.6h0.8M160.3 850.6h0.8M160.6 864.2h0.8M142.7 853.8h0.8M135.8 881.4h0.8M149.7 849.1h0.8M128 867.6h0.8M158.1 879.1h0.8M129.5 870.9h0.8M129.5 870.2h0.8M156.4 878.6h0.8M161.2 874.5h0.8M159.9 870.2h0.8M155.4 880.3h0.8M163.6 849.9h0.8M136.3 880.3h0.8M156.5 847.7h0.8M161.7 854.8h0.8M127 873.2h0.8M161.4 855.2h0.8M131.9 863.7h0.8M168.3 829.2h0.8M157.2 847.2h0.8M154.8 848.2h0.8M161.3 861h0.8M156.7 879.9h0.8M131.6 872.6h0.8M162.1 872.2h0.8M161.9 836.3h0.8M160.4 838.9h0.8M128.2 874.2h0.8M162.1 851.8h0.8M152.6 848.6h0.8M135 879.3h0.8M125.9 866.2h0.8M118.4 873.9h0.8M158.6 848.3h0.8M163.2 865.8h0.8M162.5 845.1h0.8M125.8 867.4h0.8M166.9 842.3h0.8M157.6 845.5h0.8M163.6 835.6h0.8M150.2 847.8h0.8M154.7 845.6h0.8M162.5 855.1h0.8M131 864.4h0.8M151.1 849.2h0.8M133.1 875.9h0.8M136.7 858.1h0.8M164.1 837.4h0.8M129.6 866.1h0.8M152.9 848.2h0.8M166.2 845.7h0.8M161.6 844.3h0.8M159 844.2h0.8M130.7 870.2h0.8M138.1 859.1h0.8M130.3 868.6h0.8M136.3 858.8h0.8M162.5 878.7h0.8M128.6 876.4h0.8M129 869.3h0.8M132 862.2h0.8M131.2 873.7h0.8M148.9 849.2h0.8M161.5 844.8h0.8M162.6 837.4h0.8" stroke="#9a9aff" stroke-opacity="0.8" stroke-width="0.8" fill="none"/>
<path d="M142 878.3h0.8M138.8 880.3h0.8M139.5 862.4h0.8M157 870.4h0.8M145.2 855.5h0.8M139.5 863.9h0.8M156.7 848.5h0.8M148.6 856.3h0.8M148.4 853.3h0.8M152.8 855h0.8M155 861.6h0.8M158.5 851.5h0.8M157.2 854.9h0.8M143.6 859.9h0.8M156.5 861.9h0.8M142.7 880.6h0.8M140.5 877.6h0.8M135.8 874.8h0.8M155.4 872.9h0.8M141.2 877.8h0.8M148.9 880.7h0.8M137.1 875.4h0.8M139 875.5h0.8M150.3 856.5h0.8M139.1 864.2h0.8M136.6 874.2h0.8M151.6 850.7h0.8M146.6 879.6h0.8M140.5 877.3h0.8M156.2 853.2h0.8M156.4 871h0.8M138.9 878.4h0.8M150.4 851.1h0.8M159.1 859.2h0.8M147.8 880.5h0.8M132.8 872.3h0.8M149.7 880.7h0.8M135.6 864.3h0.8M154.9 878.3h0.8M138.1 876.9h0.8M136.4 869.7h0.8M158.4 855h0.8M155.4 866.5h0.8M135.8 871.7h0.8M133 864.1h0.8M134.3 870h0.8M152.5 850h0.8M133.2 867.2h0.8M154.7 851.2h0.8M153.5 871.9h0.8M152 853.4h0.8M140.5 860.4h0.8M136.5 872.4h0.8M135 867.3h0.8M155.7 857.7h0.8M151.9 850.9h0.8M157.5 858.3h0.8M138.3 859.6h0.8M134.5 876.7h0.8M135.5 871.7h0.8M137.9 865h0.8M136.7 878.1h0.8M154.2 851.8h0.8M137.5 875.9h0.8M156.2 867.6h0.8M144.1 858.9h0.8M154.7 851.6h0.8M156.6 854.8h0.8M137.1 863.7h0.8M133.9 865.8h0.8M154 868.8h0.8M152 879.8h0.8M154.5 866.4h0.8M141.2 879.8h0.8M158.4 855.1h0.8M132.4 870.6h0.8M155.6 853.7h0.8M146.1 880.1h0.8M146.2 879.8h0.8M155.8 876.8h0.8M136.7 863.3h0.8M158.3 865.2h0.8M135.5 866.6h0.8M136 867.8h0.8M148.9 878.8h0.8M134.9 867.4h0.8M138 861.3h0.8M146.5 878.9h0.8M143.3 879.1h0.8M154.6 876h0.8M144.9 881.3h0.8M155.8 875.6h0.8M134.3 869h0.8M138 875.6h0.8M153.4 854.2h0.8M136.3 871.6h0.8M156 878.5h0.8M158.5 850h0.8M153.8 855.9h0.8M136.9 873.6h0.8M143.2 881.4h0.8M156.2 850.7h0.8M140 863.1h0.8M149.6 878.7h0.8M152.8 879.1h0.8M155.3 878.7h0.8M156.5 862.1h0.8M136.6 865.9h0.8M153.6 853.7h0.8M132 869.4h0.8M139.4 877.6h0.8M156.9 849.5h0.8M152 876.7h0.8M142.4 858.9h0.8M138.7 862.2h0.8M156.8 853.3h0.8M134.5 874h0.8M157.3 863.7h0.8M154.4 853.3h0.8M153.2 856.1h0.8M155.9 854.8h0.8M155 865.8h0.8M147.9 853.8h0.8M138.6 864.7h0.8M133.9 866.5h0.8M136.4 875.1h0.8M131.6 869.4h0.8M150.5 877.4h0.8M153.5 872.1h0.8M144.8 858h0.8M149.1 856.8h0.8M135.1 875.9h0.8M157.2 855.6h0.8M152.5 854.2h0.8M136.9 877.8h0.8M158.2 856.9h0.8M139.2 861h0.8M149.7 853.3h0.8M138.5 876.7h0.8M136.8 877.3h0.8M157.3 867.4h0.8M138.1 875.3h0.8M154.6 853.8h0.8M155.9 871.7h0.8M137.4 874.2h0.8M133.2 866.5h0.8M154.4 850h0.8M152.2 878.9h0.8M137.2 877.2h0.8M151.9 876.9h0.8M147.2 857.6h0.8M143 861h0.8M140 861.2h0.8M135.5 863.8h0.8M136.2 874.3h0.8M154 854.1h0.8M150.5 878.4h0.8M136.2 874.2h0.8M154.9 876.3h0.8M158.2 867.2h0.8M154.7 861.8h0.8M154.4 866.8h0.8M141.8 860.1h0.8M134.2 874.6h0.8M151.8 855.9h0.8" stroke="#5560ff" stroke-opacity="0.85" stroke-width="0.8" fill="none"/>
<clipPath id="c15"><rect x="108.1" y="795" width="83.4" height="87.2"/></clipPath><g clip-path="url(#c15)">
<g transform="translate(144.6 871.2) rotate(-60)" filter="url(#gr)"><path d="M-10 0C-10 -10 -2.5 -11.8 7.5 -8.3C16.2 -5.9 25 -2.8 25 0C25 2.8 16.2 5.9 7.5 8.3C-2.5 11.8 -10 10 -10 0Z" fill="#8080ff" fill-opacity="0.38"/><path d="M-8.6 0C-8.6 -8 -2.1 -9.4 6 -6.6C13 -4.7 20 -2.2 20 0C20 2.2 13 4.7 6 6.6C-2.1 9.4 -8.6 8 -8.6 0Z" fill="#3038f8" fill-opacity="0.85"/></g>
<g transform="translate(144.6 871.2) rotate(-60)" filter="url(#bl)"><path d="M-7.3 0C-7.3 -6.2 -1.8 -7.3 4.6 -5.1C10.1 -3.6 15.5 -1.7 15.5 0C15.5 1.7 10.1 3.6 4.6 5.1C-1.8 7.3 -7.3 6.2 -7.3 0Z" fill="#1f8cf5" fill-opacity="0.95"/><path d="M-6.5 0C-6.5 -5 -1.6 -5.9 3.8 -4.1C8.1 -2.9 12.5 -1.4 12.5 0C12.5 1.4 8.1 2.9 3.8 4.1C-1.6 5.9 -6.5 5 -6.5 0Z" fill="#22c4b8" fill-opacity="1"/><path d="M-5.8 0C-5.8 -4 -1.4 -4.7 3 -3.3C6.5 -2.4 10 -1.1 10 0C10 1.1 6.5 2.4 3 3.3C-1.4 4.7 -5.8 4 -5.8 0Z" fill="#3fd44a" fill-opacity="1"/><path d="M-5.2 0C-5.2 -3.1 -1.3 -3.6 2.3 -2.6C5 -1.8 7.7 -0.8 7.7 0C7.7 0.8 5 1.8 2.3 2.6C-1.3 3.6 -5.2 3.1 -5.2 0Z" fill="#cce42a" fill-opacity="1"/><path d="M-5.1 0C-5.1 -2.9 -1.3 -3.5 2.2 -2.4C4.8 -1.7 7.4 -0.8 7.4 0C7.4 0.8 4.8 1.7 2.2 2.4C-1.3 3.5 -5.1 2.9 -5.1 0Z" fill="#ff8a1a" fill-opacity="1"/><path d="M-4.2 0C-4.2 -1.7 -1 -2 1.3 -1.4C2.8 -1 4.3 -0.5 4.3 0C4.3 0.5 2.8 1 1.3 1.4C-1 2 -4.2 1.7 -4.2 0Z" fill="#f0301e" fill-opacity="1"/></g>
</g>
<path d="M150.9 864.9h0.8M145.3 864.4h0.8M146.6 864.4h0.8M140.6 873.8h0.8M142.4 873.3h0.8M148.7 862.4h0.8M139.8 869.9h0.8M149.3 867.3h0.8M147.2 865.7h0.8" stroke="#22c4b8" stroke-opacity="0.8" stroke-width="0.8" fill="none"/>
<path d="M144.8 875.6h0.8M152 860.5h0.8M152.1 872h0.8M137.5 867.2h0.8M135.8 867.3h0.8M149.7 857.8h0.8M146.7 877.7h0.8M152.3 870.9h0.8M138.8 868.8h0.8M136.8 874.8h0.8M138.7 875.7h0.8M150.2 878.3h0.8M145.3 878.6h0.8M153.4 867.9h0.8M139.2 866.7h0.8M138.9 868.7h0.8M154.3 873.1h0.8M153.5 863h0.8M147.9 878.6h0.8M148.3 875.8h0.8M155.9 878.8h0.8M151.8 866.5h0.8M144.4 876.3h0.8" stroke="#3038f8" stroke-opacity="0.8" stroke-width="0.8" fill="none"/>
<path d="M149.7 870.4h0.8M148 865.9h0.8M140.8 869.6h0.8M147.6 865.3h0.8M143.5 872.5h0.8M147 865.8h0.8M146.2 863.9h0.8" stroke="#3fd44a" stroke-opacity="0.8" stroke-width="0.8" fill="none"/>
<path d="M144.4 872.1h0.8M148.3 867.1h0.8M142.6 871.7h0.8M146.3 867.9h0.8M143.2 871.5h0.8M147.6 873.5h0.8M148.2 868.6h0.8M142.6 871.1h0.8M147.9 870.1h0.8M141.6 870.3h0.8M148.2 865.2h0.8M146.9 871.5h0.8" stroke="#cce42a" stroke-opacity="0.8" stroke-width="0.8" fill="none"/>
<path d="M145.8 873.1h0.8M144.4 871.1h0.8M143.6 872.5h0.8M145 871.4h0.8" stroke="#ff8a1a" stroke-opacity="0.8" stroke-width="0.8" fill="none"/>
<path d="M150.2 874.3h0.8M147.8 876.3h0.8M148.9 874.6h0.8M140.3 867.5h0.8M149 871.4h0.8M148.4 874.1h0.8M144.2 875.2h0.8M149.6 868h0.8M146.3 875.3h0.8M146.2 875.8h0.8" stroke="#1f8cf5" stroke-opacity="0.8" stroke-width="0.8" fill="none"/>
<path d="M143.8 869.5h0.8M143.7 870.6h0.8M142.8 871.1h0.8M145.1 871.9h0.8M146 870.4h0.8" stroke="#f0301e" stroke-opacity="0.8" stroke-width="0.8" fill="none"/>
<path d="M172.5 820.8h0.8M178.6 800.7h0.8M145.4 842h0.8M150.1 842.8h0.8M179.3 829.2h0.8M174.1 879.5h0.8M170.8 815h0.8M147.9 863h0.8M163.2 808h0.8M180.6 863.7h0.8M167.3 811.6h0.8M149.1 871.4h0.8M144.7 878.6h0.8M146.2 862.9h0.8M165.2 817.3h0.8M138.6 863.8h0.8M151.6 877.7h0.8M180.5 850h0.8M173.7 874.1h0.8M173.2 870.7h0.8M155.7 824h0.8M177.8 861.5h0.8M168.3 813.2h0.8M146 855.2h0.8M144.7 846.9h0.8M160.4 881.4h0.8M150.3 880.3h0.8M153.3 875.6h0.8M151.3 875h0.8M146.2 857.9h0.8M172 871.2h0.8M182.2 851.5h0.8M178.4 843.4h0.8M140.7 862.6h0.8M162.8 824.2h0.8M146.8 859.2h0.8M161.6 817.6h0.8M179.1 814.3h0.8M178.8 841.8h0.8M174.7 809h0.8M183 847.3h0.8M174.4 800.6h0.8M162 821h0.8M159.7 829.2h0.8M163.4 818.5h0.8M175.8 823.8h0.8M179.3 844.9h0.8M158.4 831.6h0.8M168.5 819.9h0.8M148.3 848.4h0.8M182.6 825.2h0.8M182.5 817.9h0.8M181.1 832.4h0.8M175.3 811.2h0.8M173.5 868.2h0.8M156 821h0.8M152.4 841.8h0.8M148.3 849.4h0.8M161 827.3h0.8M170.7 819h0.8M151 876.1h0.8M149.1 849h0.8M161.4 822.7h0.8M185.5 834.5h0.8M158 832.3h0.8M142.5 846h0.8M149.8 848.4h0.8M154.3 829.5h0.8M181.1 871.1h0.8M174.7 822.9h0.8M153.3 839h0.8M176.6 877.7h0.8M145.3 860.5h0.8M152.6 840.8h0.8M173.8 816.2h0.8M182.8 857.5h0.8M179.3 838h0.8M146.1 867.8h0.8M161.8 879.5h0.8M152.1 880.8h0.8M154.3 839h0.8M175.4 817h0.8M167.1 819.2h0.8M176.8 827.4h0.8M181.3 848.4h0.8M175.9 866.3h0.8M162.3 881.3h0.8M176.2 862.4h0.8M150.2 841.7h0.8M180.5 839.8h0.8M158.9 879.9h0.8M179 827.1h0.8M179.8 862.3h0.8M166 819.3h0.8M148.9 848.9h0.8M161.8 817.6h0.8M179.5 851.5h0.8M150.8 845.4h0.8M162.3 821.9h0.8M182.2 813.4h0.8M177.8 865h0.8M145.4 868.3h0.8M170.8 813.6h0.8M176.4 827h0.8M177.3 809h0.8M181.9 818h0.8M149.7 867h0.8M150.8 881h0.8M181.7 834.7h0.8M178.4 833h0.8M178.2 858.9h0.8M153.3 835.4h0.8M177.1 877.9h0.8M180.9 815.2h0.8M147.9 877.5h0.8M157.8 808.4h0.8M151.2 841.1h0.8" stroke="#9a9aff" stroke-opacity="0.72" stroke-width="0.8" fill="none"/>
<path d="M160 836.4h0.8M161 877.2h0.8M154.3 859.2h0.8M164.1 869.6h0.8M176.3 847.4h0.8M154.6 845.2h0.8M168.7 821.9h0.8M154.5 845.1h0.8M171.9 827h0.8M151.4 863.1h0.8M172.7 837.1h0.8M162.2 871.7h0.8M154.1 842.3h0.8M152.8 862.9h0.8M158.1 833.7h0.8M153.1 843.2h0.8M165.6 874.7h0.8M164.8 868.9h0.8M155.8 849.2h0.8M171 833.2h0.8M154.4 848.4h0.8M164.1 824.7h0.8M157.2 844.1h0.8M166.6 824.5h0.8M158.1 868.6h0.8M172.4 861.8h0.8M156.4 870h0.8M176.9 844h0.8M175 853.5h0.8M160.4 838.4h0.8M160.3 872.2h0.8M174.4 830h0.8M160.2 837.6h0.8M175.1 838.1h0.8M171.3 830.3h0.8M174.5 837.5h0.8M175.6 852h0.8M163.4 875.1h0.8M174.6 830.2h0.8M164.3 826.3h0.8M155.3 864h0.8M175.4 831.6h0.8M176.5 846h0.8M167.6 831.3h0.8M165.9 826.1h0.8M165.7 873.3h0.8M167.7 826.1h0.8M177.2 841.8h0.8M150.3 855.3h0.8M163.2 833.5h0.8M174.1 851.4h0.8M173.3 829.1h0.8M170.4 862.6h0.8M174.7 832.3h0.8M174.8 836.7h0.8M154.9 848.5h0.8M172.2 834.5h0.8M154.3 874.5h0.8M156.4 843.9h0.8M176.1 828.2h0.8M159.1 871h0.8M166.3 871.7h0.8M150.1 855.6h0.8M168.4 828.4h0.8M173.7 844.9h0.8M162 828h0.8M151.3 857.8h0.8M160.6 835.8h0.8M175 831.3h0.8M150.2 855.4h0.8M166.8 875.1h0.8M171.9 829.1h0.8M165 867.9h0.8M167.4 828h0.8M155.3 867.7h0.8M169.6 820.8h0.8M174.7 852.4h0.8M157.3 840.7h0.8M156.3 840.3h0.8M163.1 869.2h0.8M177.7 839.5h0.8M161.6 831.4h0.8M157.6 867.4h0.8M152.3 869.5h0.8M177.4 843.5h0.8M166.9 866.3h0.8M169.6 825h0.8M165.8 871.3h0.8M162.9 872.4h0.8M172.1 833.9h0.8M155.4 868.6h0.8M173.5 858.9h0.8M153.5 847.7h0.8M151.3 860.3h0.8M168.5 864.4h0.8M162.9 876h0.8M162.4 874.8h0.8M153.9 868.1h0.8M166.5 868.1h0.8M160.2 874.4h0.8M156.1 841.3h0.8M173.6 825.7h0.8M162.4 870h0.8M155.8 876.3h0.8M167.7 823.7h0.8M153.8 854.3h0.8M154.2 858.6h0.8M152.6 849.9h0.8M165.5 829.3h0.8M165.6 868.5h0.8M158.1 876.1h0.8M173.3 828.4h0.8M169.2 831h0.8M167.2 871.4h0.8M176.7 857.3h0.8M159.2 872h0.8M163.7 875h0.8M160.3 878.2h0.8M173.1 857.5h0.8M169.2 827.7h0.8M175.1 836.2h0.8M173.8 843.2h0.8M154 857.8h0.8M175.5 826.7h0.8M166.1 830.9h0.8M166.7 871.4h0.8M170.2 829.7h0.8M177.1 848.4h0.8M156.6 876.1h0.8M162.6 828.2h0.8M152.8 867.8h0.8M171.5 825h0.8M174.7 857h0.8M167.8 866.4h0.8M170.5 824.1h0.8M174.5 837.1h0.8M172.9 855.6h0.8M154.5 848.6h0.8M166.4 825.7h0.8M174 849.9h0.8M161.8 826.8h0.8M170.2 830.3h0.8M168.3 869.8h0.8M161 869.7h0.8M160.8 874.3h0.8M152.3 856.9h0.8M171.3 831.3h0.8M158 878h0.8M167.9 831.7h0.8M168.1 825.6h0.8M151 864.4h0.8M171 832.2h0.8M160.5 837.1h0.8M169.1 864h0.8M158.9 838.1h0.8M154 865.1h0.8M156.4 844.8h0.8M158.5 839.2h0.8M166.6 869.8h0.8M153.9 863.3h0.8M153.3 849.4h0.8M169 864.1h0.8M172.5 836h0.8M175.3 851.2h0.8M172.7 824.2h0.8M155.1 861.3h0.8M157.4 839.6h0.8M175.8 860.6h0.8M157.2 844.7h0.8M160.6 878h0.8M155.5 844.2h0.8M174.3 860.9h0.8M175.1 835.1h0.8M159.8 839.6h0.8M171.7 821h0.8M153.3 867.4h0.8M168.1 866.1h0.8M164.4 874.6h0.8M177.4 849.5h0.8M157.3 876.6h0.8M153.8 850.8h0.8M152.5 862.7h0.8M169.1 863.5h0.8M163.6 873.1h0.8M160.9 878.1h0.8M170 830.2h0.8M159.5 835.2h0.8M163.8 872.8h0.8M166 830.3h0.8M167.1 870.4h0.8M154.5 839.4h0.8M153 856.1h0.8M150.2 854.9h0.8M154.4 872.4h0.8M169.1 825h0.8" stroke="#5560ff" stroke-opacity="0.77" stroke-width="0.8" fill="none"/>
<clipPath id="c16"><rect x="108.1" y="795" width="83.4" height="87.2"/></clipPath><g clip-path="url(#c16)">
<g transform="translate(164.4 851.5) rotate(-78)" filter="url(#gr)"><path d="M-25 0C-25 -9.7 -6.2 -11.4 8.7 -9.3C18.9 -8.2 29 -7.3 29 0C29 7.3 18.9 8.2 8.7 9.3C-6.2 11.4 -25 9.7 -25 0Z" fill="#8080ff" fill-opacity="0.38"/><path d="M-20 0C-20 -7.8 -5 -9.1 7 -7.4C15.1 -6.5 23.2 -5.8 23.2 0C23.2 5.8 15.1 6.5 7 7.4C-5 9.1 -20 7.8 -20 0Z" fill="#3038f8" fill-opacity="0.85"/></g>
<g transform="translate(164.4 851.5) rotate(-78)" filter="url(#bl)"><path d="M-13.2 0C-13.2 -5.1 -3.3 -6 4.6 -4.9C9.9 -4.3 15.3 -3.8 15.3 0C15.3 3.8 9.9 4.3 4.6 4.9C-3.3 6 -13.2 5.1 -13.2 0Z" fill="#1f8cf5" fill-opacity="0.85"/><path d="M-10.6 0C-10.6 -4.1 -2.7 -4.9 3.7 -3.9C8 -3.5 12.3 -3.1 12.3 0C12.3 3.1 8 3.5 3.7 3.9C-2.7 4.9 -10.6 4.1 -10.6 0Z" fill="#22c4b8" fill-opacity="0.9"/><path d="M-6.8 0C-6.8 -2.6 -1.7 -3.1 2.4 -2.5C5.1 -2.2 7.9 -2 7.9 0C7.9 2 5.1 2.2 2.4 2.5C-1.7 3.1 -6.8 2.6 -6.8 0Z" fill="#3fd44a" fill-opacity="0.9"/></g>
</g>
<path d="M166.1 839.5h0.8M168.8 858.6h0.8M169.7 838.8h0.8M165.7 831.2h0.8M170.7 840.5h0.8M157 863.5h0.8M159.7 862.3h0.8M165 835.8h0.8M160.3 852.6h0.8M170.2 848.4h0.8M162.5 841.2h0.8M166.5 863.7h0.8M154.3 864.8h0.8M167.9 840.2h0.8M162.9 862.3h0.8M156.7 853.5h0.8M157.3 842.5h0.8M166 859.3h0.8M158.8 859.6h0.8M169.8 852.8h0.8M172.3 853h0.8M157.6 849.5h0.8M170.8 837.4h0.8M166.3 844.4h0.8M167.6 837.8h0.8M161.9 841.9h0.8M170.4 850.6h0.8M159.7 861h0.8M159.4 853.9h0.8M166.2 838.8h0.8M164.9 857.5h0.8M157.7 859h0.8M156.9 851.4h0.8M162.6 859.1h0.8M159.2 850.7h0.8M158.8 849.5h0.8M161.9 858.4h0.8M162.9 859h0.8" stroke="#3038f8" stroke-opacity="0.8" stroke-width="0.8" fill="none"/>
<path d="M161 853.3h0.8M163.1 852h0.8M163.7 852.8h0.8M162.1 855h0.8M164.2 849.7h0.8M166.5 846h0.8M161.8 852.6h0.8M163 852.2h0.8M166.7 846h0.8M166.4 851.2h0.8M166.7 845.2h0.8M162.5 853.7h0.8M165.9 847.4h0.8M163.8 853.9h0.8M162.1 850.6h0.8M164.4 845.6h0.8M162.7 850.1h0.8M167.5 852h0.8M165.2 850.4h0.8M166.4 845.5h0.8M162.6 855.3h0.8" stroke="#3fd44a" stroke-opacity="0.8" stroke-width="0.8" fill="none"/>
<path d="M165.8 854.1h0.8M158.2 854h0.8M166.1 844.3h0.8M159.1 853.5h0.8M167.4 848.8h0.8M160.6 851.9h0.8M162.1 849.5h0.8M165.7 853.8h0.8M163.4 842h0.8M167.3 847.9h0.8M163 848.3h0.8M161.6 843.9h0.8M166.7 847.5h0.8M161 850.7h0.8M164.3 861.7h0.8M167.1 842.2h0.8M163.7 840.7h0.8M162.6 851.7h0.8M166.6 847.6h0.8M165.4 846.3h0.8M167.9 855.5h0.8M167.1 850h0.8M166.3 842.7h0.8M167.3 839.9h0.8M169.5 848.5h0.8M167.5 850.9h0.8M162 851.8h0.8M169.5 847.4h0.8M164.3 862.7h0.8M165.2 847.3h0.8M163.8 847.3h0.8M163.3 848.1h0.8M168.1 853.9h0.8M165.2 857.9h0.8" stroke="#1f8cf5" stroke-opacity="0.8" stroke-width="0.8" fill="none"/>
<path d="M161 852.3h0.8M160.2 853.9h0.8M161.3 855.4h0.8M164.7 854.7h0.8M167.2 841.3h0.8M167.3 845.4h0.8M166.1 851.8h0.8M163.5 859.6h0.8M164.6 854.4h0.8M168 845.7h0.8M168.4 852.3h0.8M162.8 856.3h0.8M165.1 858.7h0.8M161.1 848.1h0.8M166.7 841.5h0.8M165.7 859.2h0.8M167.2 853h0.8" stroke="#22c4b8" stroke-opacity="0.8" stroke-width="0.8" fill="none"/>
<path transform="translate(107.6 794.5)" d="M53.5 21.3L76.2 21.3L76.2 80.5L55.1 81.8C51.5 76.5 48 68 47.2 60C46.7 54 47.4 46 49.4 38Z" fill="none" stroke="#3a3a3a" stroke-width="0.75"/>
<text x="173.3" y="813.5" font-size="7.2" font-weight="bold" text-anchor="middle" fill="#151515" stroke="#151515" stroke-width="0.3">10016</text>
<rect x="204.9" y="794.5" width="84.4" height="88.2" fill="#fff" stroke="#8c8c8c" stroke-width="0.6"/>
<text x="201.9" y="883.46" font-size="2.4" font-weight="normal" text-anchor="end" fill="#555">0</text>
<text x="201.9" y="860.43" font-size="2.4" font-weight="normal" text-anchor="end" fill="#555">500</text>
<text x="201.9" y="837.4" font-size="2.4" font-weight="normal" text-anchor="end" fill="#555">1.0K</text>
<text x="201.9" y="814.37" font-size="2.4" font-weight="normal" text-anchor="end" fill="#555">1.5K</text>
<text x="207.7" y="887.9" font-size="2.4" font-weight="normal" text-anchor="middle" fill="#555">10<tspan dy="-1.08" font-size="1.68">0</tspan></text>
<text x="219.05" y="887.9" font-size="2.4" font-weight="normal" text-anchor="middle" fill="#555">10<tspan dy="-1.08" font-size="1.68">1</tspan></text>
<text x="230.4" y="887.9" font-size="2.4" font-weight="normal" text-anchor="middle" fill="#555">10<tspan dy="-1.08" font-size="1.68">2</tspan></text>
<text x="241.75" y="887.9" font-size="2.4" font-weight="normal" text-anchor="middle" fill="#555">10<tspan dy="-1.08" font-size="1.68">3</tspan></text>
<text x="253.1" y="887.9" font-size="2.4" font-weight="normal" text-anchor="middle" fill="#555">10<tspan dy="-1.08" font-size="1.68">4</tspan></text>
<text x="264.45" y="887.9" font-size="2.4" font-weight="normal" text-anchor="middle" fill="#555">10<tspan dy="-1.08" font-size="1.68">5</tspan></text>
<text x="275.8" y="887.9" font-size="2.4" font-weight="normal" text-anchor="middle" fill="#555">10<tspan dy="-1.08" font-size="1.68">6</tspan></text>
<text x="287.15" y="887.9" font-size="2.4" font-weight="normal" text-anchor="middle" fill="#555">10<tspan dy="-1.08" font-size="1.68">7</tspan></text>
<path d="M202.8 882.6H204.9M202.8 859.6H204.9M202.8 836.5H204.9M202.8 813.5H204.9M206.1 882.7V884.5M217.4 882.7V884.5M228.8 882.7V884.5M240.1 882.7V884.5M251.5 882.7V884.5M262.9 882.7V884.5M274.2 882.7V884.5M285.6 882.7V884.5" stroke="#333" stroke-width="0.7" fill="none"/>
<path d="M203.9 882.6H204.9M203.9 878H204.9M203.9 873.4H204.9M203.9 868.8H204.9M203.9 864.2H204.9M203.9 859.6H204.9M203.9 855H204.9M203.9 850.4H204.9M203.9 845.8H204.9M203.9 841.1H204.9M203.9 836.5H204.9M203.9 831.9H204.9M203.9 827.3H204.9M203.9 822.7H204.9M203.9 818.1H204.9M203.9 813.5H204.9M203.9 808.9H204.9M203.9 804.3H204.9M203.9 799.7H204.9M205.5 882.7V883.7M209.5 882.7V883.7M211.5 882.7V883.7M212.9 882.7V883.7M214 882.7V883.7M215 882.7V883.7M215.7 882.7V883.7M216.3 882.7V883.7M216.9 882.7V883.7M220.9 882.7V883.7M222.9 882.7V883.7M224.3 882.7V883.7M225.4 882.7V883.7M226.3 882.7V883.7M227.1 882.7V883.7M227.7 882.7V883.7M228.2 882.7V883.7M232.2 882.7V883.7M234.2 882.7V883.7M235.6 882.7V883.7M236.7 882.7V883.7M237.7 882.7V883.7M238.4 882.7V883.7M239 882.7V883.7M239.6 882.7V883.7M243.6 882.7V883.7M245.6 882.7V883.7M247 882.7V883.7M248.1 882.7V883.7M249 882.7V883.7M249.8 882.7V883.7M250.4 882.7V883.7M250.9 882.7V883.7M254.9 882.7V883.7M256.9 882.7V883.7M258.3 882.7V883.7M259.4 882.7V883.7M260.4 882.7V883.7M261.1 882.7V883.7M261.7 882.7V883.7M262.3 882.7V883.7M266.3 882.7V883.7M268.3 882.7V883.7M269.7 882.7V883.7M270.8 882.7V883.7M271.7 882.7V883.7M272.5 882.7V883.7M273.1 882.7V883.7M273.6 882.7V883.7M277.6 882.7V883.7M279.6 882.7V883.7M281 882.7V883.7M282.1 882.7V883.7M283.1 882.7V883.7M283.8 882.7V883.7M284.4 882.7V883.7M285 882.7V883.7M289 882.7V883.7" stroke="#777" stroke-width="0.4" fill="none"/>
<path d="M244.4 849.8h0.8M245.1 854.2h0.8M229.5 878.7h0.8M250.2 880.3h0.8M231.2 880.5h0.8M257.8 851.1h0.8M238.9 856.5h0.8M225 874.3h0.8M252.5 877.2h0.8M224 869.3h0.8M258.3 851.9h0.8M241.6 855.2h0.8M254.3 859.7h0.8M249.3 878.8h0.8M223.8 870.6h0.8M252.6 868.7h0.8M251.4 881.1h0.8M252.5 854.3h0.8M256.6 853.5h0.8M255.1 866.1h0.8M252.9 872.5h0.8M251.4 880.3h0.8M251.9 872.9h0.8M258.1 864.9h0.8M249.6 878.2h0.8M255.4 853.1h0.8M247.1 851.9h0.8M226.1 876.6h0.8M220.6 869h0.8M230.4 878.4h0.8M253.4 862.4h0.8M259 861.8h0.8M233.4 880.9h0.8M232.3 881.2h0.8M239.9 855.8h0.8M253.4 846.2h0.8M254.2 863.7h0.8M226.5 862.9h0.8M251.8 846.6h0.8M223.8 873.6h0.8M223.5 877.5h0.8M253.7 854.8h0.8M227 880.8h0.8M252.1 873.9h0.8M253.7 879.5h0.8M232.8 855.5h0.8M247.4 881.4h0.8M227.2 865.3h0.8M252.8 866.4h0.8M231.4 879.8h0.8M223.5 866.2h0.8M249.3 847.7h0.8M223.7 861h0.8M230.3 880h0.8M214.7 874h0.8" stroke="#9a9aff" stroke-opacity="0.8" stroke-width="0.8" fill="none"/>
<path d="M235.5 862h0.8M230.8 872.3h0.8M233.6 864h0.8M248.6 871.9h0.8M252.1 859.3h0.8M244.5 879.1h0.8M234.5 876.5h0.8M241.1 878.4h0.8M234.7 861.8h0.8M239.3 860.6h0.8M249.9 855.2h0.8M245.8 881.3h0.8M248.4 877.7h0.8M252.4 864.3h0.8M246.6 854.6h0.8M245.1 877.7h0.8M249.2 863h0.8M251.9 869.2h0.8M231.1 867.1h0.8M230 866.6h0.8M246.3 855.3h0.8M249 854.7h0.8M247.5 855.3h0.8M228.9 873.8h0.8M245.3 876.2h0.8M249.5 865.7h0.8M231.2 870.4h0.8M229.6 870h0.8M250.9 856.1h0.8M240.8 880.5h0.8M232.6 875.7h0.8M236.8 880.1h0.8M247.1 876.1h0.8M248.6 859.6h0.8M248 874.7h0.8M230.3 863.6h0.8M231.4 867.4h0.8M234.4 876.8h0.8M246.3 856.7h0.8M248.2 857.4h0.8M249.7 866.8h0.8M245.1 858.3h0.8M249.1 856.9h0.8M249.5 865.8h0.8M231.5 867.1h0.8M243.5 856.8h0.8M231.9 873.6h0.8M230.9 866.7h0.8M236.1 878.1h0.8M232.9 860.5h0.8M245.9 876.3h0.8M228.1 868.2h0.8M244.1 856h0.8M231.6 866.5h0.8M230.5 876.2h0.8M246.1 880h0.8M246.8 874.1h0.8M229.9 872.4h0.8M229 872.1h0.8M235.2 880.5h0.8M238.8 879.8h0.8M234.2 880.3h0.8M245.3 879.2h0.8M250.7 855.6h0.8M240.6 879.3h0.8M248.5 874.1h0.8M250.2 873h0.8M250.4 858.9h0.8M227.6 865.2h0.8M236.1 878.5h0.8M235.7 879.1h0.8M232.6 879.3h0.8M229.1 873.2h0.8M240.3 858.7h0.8M242.1 880.8h0.8M249.3 863h0.8M241.4 856.6h0.8M244.4 877.8h0.8M249 876.6h0.8M238.2 880.4h0.8M230.9 863.3h0.8" stroke="#5560ff" stroke-opacity="0.85" stroke-width="0.8" fill="none"/>
<path d="M245.5 872.3h0.8M242.1 870.8h0.8M241.6 871.3h0.8M233.1 868.7h0.8M239.8 876.8h0.8M235.6 872h0.8M236.9 863.2h0.8M243.9 867.7h0.8M239.7 871h0.8M241.5 860.9h0.8M237.8 868.4h0.8M236.5 869.3h0.8M237.7 873.2h0.8M239.3 863.7h0.8M238 875.8h0.8M240.8 877.9h0.8M241.2 871.1h0.8M234.9 872.5h0.8M248.2 864.6h0.8M236.7 866.5h0.8M236.1 869.4h0.8M240.7 876.7h0.8M246.4 870.8h0.8M237.2 874.5h0.8M238.6 867.6h0.8M238.1 875.3h0.8M237.9 873.1h0.8M243.5 866.5h0.8M240.9 862.3h0.8M239.7 873.5h0.8M246.7 864.2h0.8M238.9 877h0.8M238.8 864.6h0.8M237.6 877.5h0.8M240.7 873.8h0.8M241.7 875.4h0.8M234.1 870.2h0.8M236.2 869.6h0.8M233.2 872.2h0.8M239.3 870.8h0.8M240.6 872.4h0.8M236 875.7h0.8M239 870.3h0.8M237.6 871.1h0.8M242.4 865.2h0.8M231.6 869.4h0.8M243.6 869.2h0.8M234 869.8h0.8M239.1 864.4h0.8M239 875.4h0.8M241.3 877.6h0.8M246.2 870.6h0.8M239.4 872.5h0.8M242 867.1h0.8M239.2 871.1h0.8M232.2 872.6h0.8M237.2 875.2h0.8M239.1 873h0.8M237.6 864.2h0.8M237.6 872.6h0.8M236.9 871.6h0.8M243.2 863.4h0.8M239.3 875.9h0.8M241.2 868h0.8M234 874.9h0.8M243 865.9h0.8M237.4 868.9h0.8M232.3 867.8h0.8M233.9 874.4h0.8M236.4 872.1h0.8M247.6 868h0.8M242.2 861.5h0.8M242.3 874.2h0.8M238.1 870.4h0.8M244.9 860.9h0.8M237.5 868.1h0.8M236.2 871.5h0.8M237.1 873.2h0.8M241.2 869.5h0.8M237.2 872.5h0.8M243.2 876.1h0.8M236.3 874.8h0.8M239.6 869.7h0.8M237.4 874.2h0.8M238.3 873.2h0.8M243 871.4h0.8M235.2 867.5h0.8M247.8 869.1h0.8M237.8 872.7h0.8M244.2 863.5h0.8M235.5 867.8h0.8M234.9 867.7h0.8M232.8 865.4h0.8M244.2 871.7h0.8M234.1 874h0.8M243.4 869.8h0.8M239.4 866.8h0.8M244.8 872.4h0.8M235.7 864.4h0.8M232.4 870.8h0.8M246.9 864.6h0.8M238.3 870.8h0.8M240.5 865.3h0.8M234.1 872.1h0.8M233.9 864.5h0.8M235.5 873.6h0.8M245.8 872.9h0.8M238.9 873.4h0.8M239.8 873.1h0.8M237.4 865.1h0.8M240.4 870h0.8M241.3 877.7h0.8M234.5 868.1h0.8" stroke="#3d55ff" stroke-opacity="0.9" stroke-width="0.8" fill="none"/>
<path d="M232.1 857.1h0.8M245 846.1h0.8M252.7 832.8h0.8M232 850.9h0.8M236.6 879.7h0.8M234.5 854.6h0.8M236.7 849.6h0.8M253.8 841.5h0.8M241.2 848.1h0.8M253.1 835.6h0.8M258.2 880.5h0.8M249.9 879.3h0.8M242.9 847.8h0.8M252 848.3h0.8M252.8 875.9h0.8M251.2 836.9h0.8M252.7 841h0.8M252.4 845.4h0.8M226.7 862.3h0.8M228.1 872.7h0.8M229.1 874.5h0.8M219 868.2h0.8M256.7 854.8h0.8M257.5 865.9h0.8M250.6 835.6h0.8M228.4 874.5h0.8M232.6 854.5h0.8M238.8 880.7h0.8M235.9 849.7h0.8M250.3 833.8h0.8M250.5 839.1h0.8M251.1 843h0.8M226.5 875h0.8M257.1 861.2h0.8M234 881.1h0.8M256.3 830.4h0.8M215 862.6h0.8M226.8 871.8h0.8M253 844.5h0.8M248.8 841.1h0.8M228.1 858.6h0.8M254.5 836.1h0.8M236.9 880.4h0.8M259.8 843.5h0.8M226.5 864.7h0.8M231.5 881h0.8M255.8 850.5h0.8M250.5 836.8h0.8M226.2 863.1h0.8M256 856.3h0.8M240.9 880.5h0.8M252.1 841.1h0.8M228.5 873.4h0.8M254.9 860.3h0.8M261.8 836.8h0.8M255 858.5h0.8M230.1 856.7h0.8M254.5 863.1h0.8M223.6 871.8h0.8M238.1 880.4h0.8M230.9 879.8h0.8M254.9 852.6h0.8M219.7 868.6h0.8M254 843.1h0.8M224.8 879.9h0.8M255.7 828.3h0.8M255.4 868h0.8M251.6 847h0.8M254.7 854.1h0.8M238.7 880.7h0.8M243.9 847.1h0.8M248.5 842.6h0.8M249.4 880.5h0.8M235.5 879.4h0.8M245.5 845.2h0.8M233.5 880.2h0.8M244.9 841.1h0.8M219.9 864.4h0.8M253.4 844.7h0.8M225.9 867.5h0.8M255.2 852.7h0.8M242.8 880.8h0.8M244.4 846.6h0.8M256.8 872.1h0.8M223.5 871.5h0.8M229 873.7h0.8M250 842.2h0.8M252.6 842.4h0.8M246.9 841.7h0.8" stroke="#9a9aff" stroke-opacity="0.8" stroke-width="0.8" fill="none"/>
<path d="M247 845.9h0.8M230.6 872.2h0.8M247.9 852.5h0.8M250.6 862h0.8M248.5 846.2h0.8M246.3 877h0.8M244.5 876.8h0.8M233.8 873.7h0.8M241.2 877.8h0.8M252.2 855.1h0.8M248.5 876.7h0.8M251.6 867.9h0.8M250.9 863.4h0.8M249 878.9h0.8M238.9 876.4h0.8M250.5 867.8h0.8M249.2 874.6h0.8M248 875.1h0.8M251 855.1h0.8M246.6 877.3h0.8M250.9 868.6h0.8M249.6 877.4h0.8M234 875h0.8M240.7 876.3h0.8M240.8 880.1h0.8M251.4 871.1h0.8M236.9 878.5h0.8M247.8 852h0.8M237.5 876.3h0.8M239.9 852.8h0.8M239.8 856.4h0.8M247.8 877.1h0.8M243.4 877.5h0.8M231.7 864.3h0.8M237 856.8h0.8M236.1 875.6h0.8M249.4 846h0.8M250.3 855.9h0.8M234 873.9h0.8M232.8 876h0.8M231.5 873.1h0.8M251.4 873.4h0.8M245.7 849.9h0.8M232.9 871.8h0.8M251.9 870.7h0.8M238.8 858h0.8M247 846.9h0.8M231.5 866.8h0.8M234.7 862.4h0.8M248 878.6h0.8M240.2 878.6h0.8M229.7 872h0.8M232 866h0.8M250.3 872.3h0.8M249.8 872.6h0.8M238.8 853.7h0.8M249.6 875.9h0.8M246.6 849.4h0.8M250.9 861.7h0.8M245 852.4h0.8M249.5 857h0.8M243.5 853h0.8M236.4 875.8h0.8M240.6 851.9h0.8M232.5 871.4h0.8M230.6 874.6h0.8M250 864.3h0.8M238.5 877.4h0.8M234.1 863.7h0.8M250.2 876.4h0.8M250.6 859.3h0.8M233.9 873.4h0.8M230.1 865.5h0.8M248.9 856.3h0.8M249.2 873.3h0.8M242.5 854.2h0.8M240.4 855.5h0.8M235.7 855.5h0.8M250.6 855.9h0.8M250 852.2h0.8M231.3 867.6h0.8M252.6 864.2h0.8M231.9 870.8h0.8M247.2 875.3h0.8M241 880.3h0.8M249.8 861.9h0.8M248 853.5h0.8M250.6 869.5h0.8M251.4 872.3h0.8M230.4 868.3h0.8M249.8 863.1h0.8M242 850.2h0.8M232.7 874h0.8M250.7 850.6h0.8M244 852.7h0.8M245.9 875.6h0.8M248.2 851.4h0.8M234 872.8h0.8M236 875.6h0.8M232.7 873.7h0.8M250.7 846h0.8M230.3 873.9h0.8M231.2 872.4h0.8M235.4 875.1h0.8M239.1 876.3h0.8M249.9 869.6h0.8M251.6 849.6h0.8M238.5 876.5h0.8M245 848.4h0.8M235.2 878.1h0.8M236.5 856.7h0.8M250.1 852.8h0.8M239 853.8h0.8M247.5 875.7h0.8M248.9 850.7h0.8M246.2 846.3h0.8M230.2 873.4h0.8M249.8 853.7h0.8M235.8 856.7h0.8M251.2 854.6h0.8M250.8 853.7h0.8M236.7 859.4h0.8M250.5 872.4h0.8M233.7 876.8h0.8M250.1 853.3h0.8M247.6 875.1h0.8M252.6 871.1h0.8M244 876.3h0.8M243.6 877.5h0.8M249 874h0.8M244.2 877.8h0.8M248 849.5h0.8M244 853.7h0.8M252.9 874.9h0.8M249.8 859.2h0.8M242.7 876.8h0.8M245.4 877.6h0.8M248.5 851.8h0.8M232 867.7h0.8M246.9 878.1h0.8M249.8 863.1h0.8M250.5 875.3h0.8M230.5 870h0.8M235.5 875.1h0.8M234.6 875.2h0.8M251.9 856.8h0.8M253.3 869.8h0.8M235.8 875.5h0.8M235.1 877.3h0.8M251.8 855.7h0.8M231.1 872.3h0.8M232.6 858.7h0.8M229 868.6h0.8M230.2 865.8h0.8M237.3 877.2h0.8M228.9 867.2h0.8M247.4 875.2h0.8M253.6 862.8h0.8M245 877.2h0.8M247.3 850.5h0.8M232.2 870.2h0.8M246.8 846h0.8M249.8 876.5h0.8M241.5 877.5h0.8M238.9 876.8h0.8M250.5 854.3h0.8M250.4 870.2h0.8M231.8 860.2h0.8M250.6 851h0.8M232.3 862.6h0.8M228.2 871.2h0.8M228.6 870.7h0.8M248 855.5h0.8M228.2 865.5h0.8M235.1 859.5h0.8M231.3 869.8h0.8M232.1 861.3h0.8M249.3 872.8h0.8M231.5 874.6h0.8M238.6 856.8h0.8M250.7 854.1h0.8M232.6 864.8h0.8M250.1 871.1h0.8M234.3 861.2h0.8M246.1 876.4h0.8M230.7 871.4h0.8M251.7 875.7h0.8" stroke="#5560ff" stroke-opacity="0.85" stroke-width="0.8" fill="none"/>
<clipPath id="c17"><rect x="205.4" y="795" width="83.4" height="87.2"/></clipPath><g clip-path="url(#c17)">
<g transform="translate(240.7 869.3) rotate(-70)" filter="url(#gr)"><path d="M-10 0C-10 -10 -2.5 -11.8 7.5 -8.3C16.2 -5.9 25 -2.8 25 0C25 2.8 16.2 5.9 7.5 8.3C-2.5 11.8 -10 10 -10 0Z" fill="#8080ff" fill-opacity="0.38"/><path d="M-8.6 0C-8.6 -8 -2.1 -9.4 6 -6.6C13 -4.7 20 -2.2 20 0C20 2.2 13 4.7 6 6.6C-2.1 9.4 -8.6 8 -8.6 0Z" fill="#3038f8" fill-opacity="0.85"/></g>
<g transform="translate(240.7 869.3) rotate(-70)" filter="url(#bl)"><path d="M-7.3 0C-7.3 -6.2 -1.8 -7.3 4.6 -5.1C10.1 -3.6 15.5 -1.7 15.5 0C15.5 1.7 10.1 3.6 4.6 5.1C-1.8 7.3 -7.3 6.2 -7.3 0Z" fill="#1f8cf5" fill-opacity="0.95"/><path d="M-6.5 0C-6.5 -5 -1.6 -5.9 3.8 -4.1C8.1 -2.9 12.5 -1.4 12.5 0C12.5 1.4 8.1 2.9 3.8 4.1C-1.6 5.9 -6.5 5 -6.5 0Z" fill="#22c4b8" fill-opacity="1"/><path d="M-5.8 0C-5.8 -4 -1.4 -4.7 3 -3.3C6.5 -2.4 10 -1.1 10 0C10 1.1 6.5 2.4 3 3.3C-1.4 4.7 -5.8 4 -5.8 0Z" fill="#3fd44a" fill-opacity="1"/><path d="M-5.2 0C-5.2 -3.1 -1.3 -3.6 2.3 -2.6C5 -1.8 7.7 -0.8 7.7 0C7.7 0.8 5 1.8 2.3 2.6C-1.3 3.6 -5.2 3.1 -5.2 0Z" fill="#cce42a" fill-opacity="1"/><path d="M-5.1 0C-5.1 -3 -1.3 -3.5 2.2 -2.5C4.9 -1.8 7.5 -0.8 7.5 0C7.5 0.8 4.9 1.8 2.2 2.5C-1.3 3.5 -5.1 3 -5.1 0Z" fill="#ff8a1a" fill-opacity="1"/><path d="M-4.2 0C-4.2 -1.7 -1.1 -2 1.3 -1.4C2.8 -1 4.3 -0.5 4.3 0C4.3 0.5 2.8 1 1.3 1.4C-1.1 2 -4.2 1.7 -4.2 0Z" fill="#f0301e" fill-opacity="1"/></g>
</g>
<path d="M244.5 860.9h0.8M242.7 861.3h0.8M238 873.5h0.8M235.9 869.5h0.8M241.8 861.5h0.8M242.7 858.9h0.8" stroke="#1f8cf5" stroke-opacity="0.8" stroke-width="0.8" fill="none"/>
<path d="M235.5 878.2h0.8M235.8 873.8h0.8M237.3 861.7h0.8M240.8 875.7h0.8M233.6 865.6h0.8M234.6 868.8h0.8M232.3 868.8h0.8M247.8 863.1h0.8M244 856.4h0.8M246.7 872.2h0.8M248.2 861.5h0.8M245.6 861.1h0.8M246.8 865.5h0.8" stroke="#3038f8" stroke-opacity="0.8" stroke-width="0.8" fill="none"/>
<path d="M240.9 866.8h0.8M242.3 864.7h0.8M239 870.3h0.8M244.7 867h0.8M240 871.4h0.8M242.3 871.3h0.8M236.8 868.2h0.8M242 870.8h0.8M241.4 870.7h0.8M240.3 866.8h0.8M240 865.7h0.8M241.3 864.7h0.8M244.9 864.9h0.8M242.8 867.4h0.8" stroke="#cce42a" stroke-opacity="0.8" stroke-width="0.8" fill="none"/>
<path d="M240.7 872.1h0.8M245.7 860.9h0.8M243.2 859.7h0.8M246.3 867h0.8M244.7 869.7h0.8M242 862.4h0.8M236.8 872.3h0.8M243 863.3h0.8M235.8 870.1h0.8M236.4 871.9h0.8M244.4 868.6h0.8M240.1 863.3h0.8" stroke="#22c4b8" stroke-opacity="0.8" stroke-width="0.8" fill="none"/>
<path d="M240.1 867.7h0.8M242.5 870.6h0.8M243.5 868.2h0.8M242.6 870.4h0.8M242.2 870.2h0.8M238.6 870.5h0.8" stroke="#ff8a1a" stroke-opacity="0.8" stroke-width="0.8" fill="none"/>
<path d="M242.2 864.1h0.8M244.3 863.9h0.8M243.7 866.1h0.8M237.7 865.3h0.8M236 869.9h0.8M245.2 867.7h0.8M245 862.6h0.8M243.1 870h0.8M243.7 870.9h0.8M242.1 871.7h0.8M243.9 870.6h0.8M239.5 871h0.8M240 873.1h0.8M239.8 871.5h0.8" stroke="#3fd44a" stroke-opacity="0.8" stroke-width="0.8" fill="none"/>
<path d="M239.2 869.1h0.8M239.9 869.1h0.8M239.7 868.6h0.8M241 866h0.8M240.7 866h0.8" stroke="#f0301e" stroke-opacity="0.8" stroke-width="0.8" fill="none"/>
<path d="M248 855.4h0.8M280.3 856.8h0.8M268.2 806.6h0.8M279 851.6h0.8M278.3 807.7h0.8M265.2 818.3h0.8M260.6 818.6h0.8M242.8 839.7h0.8M270.5 875.5h0.8M282.4 857h0.8M286.8 838h0.8M268.3 816.2h0.8M275 825.5h0.8M269.8 808.1h0.8M279.1 862.3h0.8M254.9 880.9h0.8M247.8 870.9h0.8M253.3 839.6h0.8M277 876.7h0.8M277.5 858.4h0.8M274.8 803.2h0.8M279.6 846.3h0.8M235.3 865.5h0.8M248.8 865.3h0.8M276.6 832.6h0.8M268.2 804.2h0.8M275.7 824.9h0.8M249.6 853.6h0.8M275.8 820.5h0.8M252.8 874.9h0.8M276.7 815h0.8M247.1 850.9h0.8M285.4 846.8h0.8M271.2 871.9h0.8M254.1 837.2h0.8M281.9 865.9h0.8M256.4 825.6h0.8M248.1 871.2h0.8M245.9 862.6h0.8M274.5 869h0.8M265.7 815.3h0.8M263.5 878.9h0.8M269.6 811.5h0.8M262.9 817.6h0.8M270.4 878.5h0.8M275.3 817.1h0.8M264.6 880h0.8M267.8 802.1h0.8M249.4 833h0.8M261.8 811.7h0.8M278.1 837.7h0.8M284 862.5h0.8M269.5 814.3h0.8M272.7 818.3h0.8M254.7 879.8h0.8M264.8 818.2h0.8M258.4 821.7h0.8M277.2 862.2h0.8M251.8 830.9h0.8M279.9 832.2h0.8M275.9 813.7h0.8M265.9 812.4h0.8M252 839.3h0.8M273.1 806.8h0.8M275 868.4h0.8M278 830.9h0.8M276.1 815.4h0.8M268.8 812.2h0.8M263.9 809.3h0.8M276.2 828h0.8M278.1 802.8h0.8M277.3 829.4h0.8M246.9 843h0.8M276 826.5h0.8M246.8 873.3h0.8M247.9 879.2h0.8M252.7 878.2h0.8M276.4 822.5h0.8M283 861.9h0.8M276.1 872.2h0.8M246.3 862.1h0.8M269.2 877.7h0.8M277.7 879.1h0.8M280 839.8h0.8M277.6 817.2h0.8M264.6 804.7h0.8M271.1 807.5h0.8M271.3 873.7h0.8M271.1 814.7h0.8M282.8 832.3h0.8M256.8 827.3h0.8M259.6 819.8h0.8M246 868.1h0.8M246.5 861.9h0.8M249.9 824.2h0.8M277.5 836.6h0.8M273.9 875.5h0.8" stroke="#9a9aff" stroke-opacity="0.44" stroke-width="0.8" fill="none"/>
<path d="M255.7 866.4h0.8M253.9 861.4h0.8M259.8 834.4h0.8M274.9 830.7h0.8M268.3 829.8h0.8M262.2 825.9h0.8M267.9 823.2h0.8M273.2 839.5h0.8M257.1 834.7h0.8M264.5 867.5h0.8M267.2 829h0.8M256.3 864.3h0.8M263.7 829.6h0.8M252.4 851.9h0.8M275.5 837.8h0.8M269 825.1h0.8M258.9 874.2h0.8M264.4 873.9h0.8M272.2 820.4h0.8M273.7 841.8h0.8M263 870.4h0.8M258.7 873.2h0.8M251.5 869.4h0.8M259.1 872.8h0.8M250.5 863.5h0.8M257.6 838.7h0.8M269.3 824.8h0.8M250 859.9h0.8M265 874.2h0.8M273.5 863h0.8M271.2 858.5h0.8M267.3 866h0.8M269.1 830.8h0.8M274.2 843h0.8M261.6 829.8h0.8M256 871.5h0.8M252.8 869h0.8M265.8 827.1h0.8M274.7 840.8h0.8M274.5 834.6h0.8M276 856.3h0.8M259 836.7h0.8M258.9 835.1h0.8M253 841h0.8M270.7 822.9h0.8M265.4 867.9h0.8M255.4 847.5h0.8M274.2 856.2h0.8M255 862.8h0.8M268.7 873.1h0.8M272.3 859.5h0.8M258.9 873.2h0.8M261.4 827.8h0.8M261.7 876.5h0.8M272.3 839h0.8M267.3 867.6h0.8M268.2 825.4h0.8M269.6 871.1h0.8M256.3 844.1h0.8M259.2 869.9h0.8M254.8 859.6h0.8M269.8 869h0.8M263.1 831.4h0.8M262.1 832h0.8M267.8 822h0.8M268.5 820.3h0.8M261 869.4h0.8M254.4 859.6h0.8M259.3 873.6h0.8M274.6 845.5h0.8M263 874.9h0.8M276.6 849.7h0.8M261.6 869.4h0.8M276.7 842.9h0.8M262.3 878.3h0.8M253.3 847.2h0.8M274.1 838.8h0.8M250.5 856.9h0.8M269 824.5h0.8M254.5 865.7h0.8M267.5 830h0.8M249.6 862.3h0.8M272.4 853.2h0.8M261.7 876.1h0.8M275.1 837.5h0.8M254.5 858.8h0.8M262.8 869.9h0.8M251.5 868.8h0.8M264.2 872.5h0.8M258.2 835.1h0.8M267 827.6h0.8M255.3 844.4h0.8M274.2 827.1h0.8M255.3 868.4h0.8M266.9 829.5h0.8M258.4 869.1h0.8M274.6 839.7h0.8M264.9 825.6h0.8M269.5 823.6h0.8M263.5 828.9h0.8M267.9 825.9h0.8M263.9 826.6h0.8M255.3 874.7h0.8M272.6 852.7h0.8M254.3 851h0.8M269 866.2h0.8M274.6 837.4h0.8M272.3 861.8h0.8M268.1 866.8h0.8M256.1 864.8h0.8M267.8 864.3h0.8M267.2 827.9h0.8M258.9 832.8h0.8M256.4 868h0.8M254.5 849.6h0.8M267 868h0.8M259.8 836.3h0.8M252.6 860.7h0.8M257.8 837.4h0.8M253.2 870.6h0.8M272.4 821.7h0.8M261.9 876.5h0.8M267.7 829.9h0.8M268.1 865.7h0.8M277 849.8h0.8M256.3 841.1h0.8M271.8 865.7h0.8M252.2 847.8h0.8M268.5 868.7h0.8M253.2 855.2h0.8M262.5 832.3h0.8M262.1 833.3h0.8M255.3 872.9h0.8M276.2 856.8h0.8M268.2 824.4h0.8M255.8 873.9h0.8M252.6 852.2h0.8M265.7 829.4h0.8M256.2 872h0.8M254.9 847.3h0.8M265.1 873.4h0.8M268.9 872.1h0.8M255.6 843.4h0.8M251.8 864.7h0.8M255.9 869.1h0.8M269.3 822.5h0.8M262.8 825.8h0.8M260 871.6h0.8M254.8 870.1h0.8M252.9 870.2h0.8M277.1 841.9h0.8M270.4 831h0.8M274.5 845.4h0.8M274.4 854.9h0.8M264.4 868.1h0.8M266.1 823.3h0.8M271.9 853.6h0.8M255.3 876h0.8M257.2 837.3h0.8M254.3 874.7h0.8" stroke="#5560ff" stroke-opacity="0.47" stroke-width="0.8" fill="none"/>
<clipPath id="c18"><rect x="205.4" y="795" width="83.4" height="87.2"/></clipPath><g clip-path="url(#c18)">
<g transform="translate(263.8 850.3) rotate(-80)" filter="url(#gr)"><path d="M-26 0C-26 -9.5 -6.5 -11.2 9 -9C19.5 -7.8 30 -6.8 30 0C30 6.8 19.5 7.8 9 9C-6.5 11.2 -26 9.5 -26 0Z" fill="#8080ff" fill-opacity="0.23"/><path d="M-20.8 0C-20.8 -7.6 -5.2 -9 7.2 -7.2C15.6 -6.2 24 -5.4 24 0C24 5.4 15.6 6.2 7.2 7.2C-5.2 9 -20.8 7.6 -20.8 0Z" fill="#3038f8" fill-opacity="0.52"/></g>
<g transform="translate(263.8 850.3) rotate(-80)" filter="url(#bl)"><path d="M-16.1 0C-16.1 -5.9 -4 -6.9 5.6 -5.6C12.1 -4.8 18.6 -4.2 18.6 0C18.6 4.2 12.1 4.8 5.6 5.6C-4 6.9 -16.1 5.9 -16.1 0Z" fill="#1f8cf5" fill-opacity="0.52"/></g>
</g>
<path d="M262.1 853.3h0.8M259.8 853.4h0.8M262.1 856.5h0.8M263.8 853.1h0.8M263.4 856.9h0.8M265.3 854.6h0.8M263.4 852.3h0.8M265.8 849.4h0.8M264.7 851.7h0.8M265.4 855.8h0.8M265.9 854.9h0.8M264.7 852.8h0.8M263 852.4h0.8M263.7 850.2h0.8M265.6 856.3h0.8M266.4 847.8h0.8M262.2 849.3h0.8M265 848.8h0.8M265.1 851.1h0.8M260.4 856.1h0.8M261.1 855.1h0.8M262.5 850.4h0.8M264.6 854.7h0.8M262 850.7h0.8M266 842.4h0.8M266.9 847.7h0.8M260.8 848.5h0.8M262 848.5h0.8M262.7 848.6h0.8M263.9 847.6h0.8M262.2 856.7h0.8M266.9 851.1h0.8M260.7 851.2h0.8M267 850.2h0.8M265.5 852.1h0.8M264.4 852.6h0.8M266.8 853.4h0.8M264.8 850h0.8M265.4 855.6h0.8M262.1 851.8h0.8M264.9 856.5h0.8M264.6 852.8h0.8M265.6 850.6h0.8M266.5 853.9h0.8M263 848.4h0.8M265.5 847.1h0.8" stroke="#22c4b8" stroke-opacity="0.8" stroke-width="0.8" fill="none"/>
<path d="M263 854.2h0.8M260.7 856.6h0.8M261.1 853.8h0.8M267.1 849.5h0.8M263.2 853.3h0.8M263.8 847h0.8M263.4 852.4h0.8M263.5 846.2h0.8M265.3 854.5h0.8M265.4 845.7h0.8M265.2 854.8h0.8M263.7 854.9h0.8M260.8 845.5h0.8M264.6 861.6h0.8M261.6 860.9h0.8M258.2 856.4h0.8M262.2 849.7h0.8M264.5 851.3h0.8M265.7 840.1h0.8M267.1 854.1h0.8M261.7 853.6h0.8M265.1 860h0.8M262.9 840.2h0.8M261.7 857.2h0.8M266.1 854.4h0.8M263.5 846.7h0.8M263 854.3h0.8M263.3 850.9h0.8M266.6 845.4h0.8M267.8 846.2h0.8M267.7 849.9h0.8M265.1 857.3h0.8M264.1 854.6h0.8M265.9 848h0.8M265.2 847.7h0.8M262.9 853.6h0.8M260.5 850.8h0.8M263.1 857.5h0.8M261.5 846.1h0.8M266.6 852.4h0.8M261.6 860.5h0.8M261.8 847.7h0.8M266.8 855.2h0.8M268 847.7h0.8M265.8 850.9h0.8M266.7 850.5h0.8M261.7 847.6h0.8" stroke="#1f8cf5" stroke-opacity="0.8" stroke-width="0.8" fill="none"/>
<path d="M261.7 857h0.8M264.1 859.1h0.8M266.8 852.8h0.8M261.1 868.4h0.8M260.4 842.2h0.8M262.3 858.3h0.8M264.8 840.7h0.8M270.2 848.7h0.8M267.3 854.5h0.8M265.3 852.8h0.8M272.3 851.8h0.8M258 862.5h0.8M259.7 862h0.8M258.4 856.7h0.8M259.8 866.4h0.8M265.8 841.3h0.8M264 856.7h0.8M263.1 840.5h0.8M265.8 854.2h0.8M259.8 851.2h0.8M259.4 844.6h0.8M256.5 852.2h0.8M262.5 854.7h0.8M265.2 852.7h0.8M266.7 829.2h0.8M262.7 862.2h0.8M272 847.3h0.8M259 862.5h0.8M257.7 852.3h0.8M267.6 827.3h0.8M260.4 852h0.8M268.3 839.2h0.8M256.9 853.8h0.8M260.6 853h0.8M262.2 839.1h0.8M269.8 846.1h0.8M259.8 859.3h0.8M272.2 846.1h0.8M267.7 837h0.8M266.6 860.5h0.8M260.8 870.7h0.8M257.8 856.4h0.8M265.1 845.9h0.8M269.6 860.7h0.8M266.7 841.8h0.8M265 836.8h0.8M258.8 859.3h0.8M260.4 842.9h0.8M263.5 862.6h0.8M262.4 855.3h0.8M268.1 845.4h0.8M261.7 865h0.8M256 847.3h0.8M258.6 853.5h0.8M269.8 852h0.8M258 855.9h0.8M260.7 865.4h0.8M258.8 862.8h0.8M262.6 855.1h0.8M265.2 856.4h0.8M271 832.7h0.8M271.6 835.6h0.8M266.6 852.7h0.8M260.1 857.2h0.8M264.4 841.7h0.8M258.7 848.8h0.8M259.2 853h0.8M266.2 849.4h0.8M260.6 860.8h0.8M269.3 854.3h0.8M256.9 847.5h0.8M268.2 853.9h0.8M263.6 841.3h0.8M268.7 851.8h0.8M268.3 827.8h0.8M259.9 840.7h0.8M266.7 844.5h0.8M264.4 854.6h0.8M263.5 840.1h0.8M265.1 858.5h0.8M267.9 842.5h0.8M263.6 844.8h0.8M259.7 850.9h0.8M255.8 851.8h0.8M269.1 854.1h0.8M259.3 854.4h0.8M266.7 858.3h0.8M269.4 862.5h0.8M266 839.1h0.8M262.9 864.3h0.8M263.2 841.4h0.8M261.6 857.3h0.8M267.2 849.6h0.8M268.4 840.6h0.8M265.2 842.7h0.8M266.7 849.8h0.8M265.7 859.9h0.8M259.7 856h0.8M267.5 840.1h0.8M262.9 864.2h0.8M254.8 857.8h0.8M264 855.5h0.8M265.9 853.9h0.8M258.1 856h0.8M258.7 843.7h0.8M260 855.1h0.8M272.8 834h0.8" stroke="#3038f8" stroke-opacity="0.8" stroke-width="0.8" fill="none"/>
<path transform="translate(204.9 794.5)" d="M53.5 21.3L76.2 21.3L76.2 80.5L55.1 81.8C51.5 76.5 48 68 47.2 60C46.7 54 47.4 46 49.4 38Z" fill="none" stroke="#3a3a3a" stroke-width="0.75"/>
<text x="270.6" y="813.5" font-size="7.2" font-weight="bold" text-anchor="middle" fill="#151515" stroke="#151515" stroke-width="0.3">4748</text>
<text x="50.8" y="690.2" font-size="8.3" font-weight="bold" text-anchor="middle" fill="#151515" stroke="#151515" stroke-width="0.3">0h</text>
<text x="149.2" y="690.2" font-size="8.3" font-weight="bold" text-anchor="middle" fill="#151515" stroke="#151515" stroke-width="0.3">24h</text>
<text x="247" y="690.2" font-size="8.3" font-weight="bold" text-anchor="middle" fill="#151515" stroke="#151515" stroke-width="0.3">48h</text>
<text x="156.4" y="897.6" font-size="8" font-weight="bold" text-anchor="middle" fill="#151515" stroke="#151515" stroke-width="0.3">HLA-A2</text>
<text x="290.6" y="734.6" font-size="8.2" font-weight="bold" text-anchor="start" fill="#151515" stroke="#151515" stroke-width="0.3">MC2-TCR-J</text>
<text x="290.6" y="744.2" font-size="8.2" font-weight="bold" text-anchor="start" fill="#151515" stroke="#151515" stroke-width="0.3">+</text>
<text x="290.6" y="754.2" font-size="8.2" font-weight="bold" text-anchor="start" fill="#151515" stroke="#151515" stroke-width="0.3">MC2-A02-K562<tspan dy="-2.2" font-size="6">PD1+</tspan></text>
<text x="290.6" y="832.3" font-size="8.2" font-weight="bold" text-anchor="start" fill="#151515" stroke="#151515" stroke-width="0.3">PDL1-MC2-TCR-J</text>
<text x="290.6" y="842.2" font-size="8.2" font-weight="bold" text-anchor="start" fill="#151515" stroke="#151515" stroke-width="0.3">+</text>
<text x="290.6" y="851.6" font-size="8.2" font-weight="bold" text-anchor="start" fill="#151515" stroke="#151515" stroke-width="0.3">MC2-A02-K562<tspan dy="-2.2" font-size="6">PD1+</tspan></text>
<text transform="translate(375.6 685.4) scale(0.9 1)" font-size="12.4" font-weight="bold" fill="#0a0a0a" stroke="#0a0a0a" stroke-width="0.3">H</text>
<line x1="505.35" y1="812.03" x2="505.35" y2="814.62" stroke="#000" stroke-width="1.15"/>
<line x1="503.25" y1="812.6" x2="507.45" y2="812.6" stroke="#000" stroke-width="1.15"/>
<rect x="497.9" y="814.77" width="14.9" height="33.73" fill="#ffffff" stroke="#000" stroke-width="1.3"/>
<text x="505.35" y="810.13" font-size="6.5" font-weight="normal" text-anchor="middle" fill="#1c1c1c" stroke="#1c1c1c" stroke-width="0.12">c</text>
<line x1="527.25" y1="778.34" x2="527.25" y2="781.63" stroke="#000" stroke-width="1.15"/>
<line x1="525.15" y1="778.92" x2="529.35" y2="778.92" stroke="#000" stroke-width="1.15"/>
<rect x="519.8" y="781.78" width="14.9" height="66.72" fill="#000000" stroke="#000" stroke-width="1.3"/>
<text x="527.25" y="776.44" font-size="6.5" font-weight="normal" text-anchor="middle" fill="#1c1c1c" stroke="#1c1c1c" stroke-width="0.12">b</text>
<line x1="573.2" y1="805.77" x2="573.2" y2="807.8" stroke="#000" stroke-width="1.15"/>
<line x1="571.1" y1="806.34" x2="575.3" y2="806.34" stroke="#000" stroke-width="1.15"/>
<rect x="565.75" y="807.95" width="14.9" height="40.55" fill="#ffffff" stroke="#000" stroke-width="1.3"/>
<text x="573.2" y="803.87" font-size="6.5" font-weight="normal" text-anchor="middle" fill="#1c1c1c" stroke="#1c1c1c" stroke-width="0.12">c</text>
<line x1="595.3" y1="762.75" x2="595.3" y2="765.9" stroke="#000" stroke-width="1.15"/>
<line x1="593.2" y1="763.33" x2="597.4" y2="763.33" stroke="#000" stroke-width="1.15"/>
<rect x="587.85" y="766.05" width="14.9" height="82.45" fill="#000000" stroke="#000" stroke-width="1.3"/>
<text x="595.3" y="760.85" font-size="6.5" font-weight="normal" text-anchor="middle" fill="#1c1c1c" stroke="#1c1c1c" stroke-width="0.12">a</text>
<line x1="420.5" y1="708.35" x2="420.5" y2="849.45" stroke="#000" stroke-width="1.9"/>
<line x1="419.55" y1="848.5" x2="613.5" y2="848.5" stroke="#000" stroke-width="1.9"/>
<line x1="415.9" y1="848.5" x2="420.5" y2="848.5" stroke="#000" stroke-width="1.9"/>
<text x="413.9" y="851.81" font-size="9.2" font-weight="bold" text-anchor="end" fill="#151515" stroke="#151515" stroke-width="0.3">0</text>
<line x1="415.9" y1="820.66" x2="420.5" y2="820.66" stroke="#000" stroke-width="1.9"/>
<text x="413.9" y="823.97" font-size="9.2" font-weight="bold" text-anchor="end" fill="#151515" stroke="#151515" stroke-width="0.3">20</text>
<line x1="415.9" y1="792.82" x2="420.5" y2="792.82" stroke="#000" stroke-width="1.9"/>
<text x="413.9" y="796.13" font-size="9.2" font-weight="bold" text-anchor="end" fill="#151515" stroke="#151515" stroke-width="0.3">40</text>
<line x1="415.9" y1="764.98" x2="420.5" y2="764.98" stroke="#000" stroke-width="1.9"/>
<text x="413.9" y="768.29" font-size="9.2" font-weight="bold" text-anchor="end" fill="#151515" stroke="#151515" stroke-width="0.3">60</text>
<line x1="415.9" y1="737.14" x2="420.5" y2="737.14" stroke="#000" stroke-width="1.9"/>
<text x="413.9" y="740.45" font-size="9.2" font-weight="bold" text-anchor="end" fill="#151515" stroke="#151515" stroke-width="0.3">80</text>
<line x1="415.9" y1="709.3" x2="420.5" y2="709.3" stroke="#000" stroke-width="1.9"/>
<text x="413.9" y="712.61" font-size="9.2" font-weight="bold" text-anchor="end" fill="#151515" stroke="#151515" stroke-width="0.3">100</text>
<line x1="448.2" y1="848.5" x2="448.2" y2="851.2" stroke="#000" stroke-width="1.9"/>
<line x1="516.2" y1="848.5" x2="516.2" y2="851.2" stroke="#000" stroke-width="1.9"/>
<line x1="584.5" y1="848.5" x2="584.5" y2="851.2" stroke="#000" stroke-width="1.9"/>
<text x="393.2" y="773.2" font-size="9" font-weight="bold" text-anchor="middle" fill="#151515" transform="rotate(-90 393.2 773.2)" stroke="#151515" stroke-width="0.3">Inhibition Rate</text>
<text x="439.8" y="843.8" font-size="6.5" font-weight="normal" text-anchor="middle" fill="#1c1c1c" stroke="#1c1c1c" stroke-width="0.25">d</text>
<text x="456.9" y="843.8" font-size="6.5" font-weight="normal" text-anchor="middle" fill="#1c1c1c" stroke="#1c1c1c" stroke-width="0.25">d</text>
<text x="448.2" y="859.6" font-size="7.6" font-weight="bold" text-anchor="middle" fill="#151515" stroke="#151515" stroke-width="0.3">0h</text>
<text x="516.8" y="859.6" font-size="7.6" font-weight="bold" text-anchor="middle" fill="#151515" stroke="#151515" stroke-width="0.3">24h</text>
<text x="584.3" y="859.6" font-size="7.6" font-weight="bold" text-anchor="middle" fill="#151515" stroke="#151515" stroke-width="0.3">48h</text>
<rect x="424.6" y="709.2" width="9.4" height="4.2" fill="#fff" stroke="#000" stroke-width="1"/>
<text x="440.5" y="714.4" font-size="8.1" font-weight="bold" text-anchor="start" fill="#151515" stroke="#151515" stroke-width="0.3">MC2-TCR-J</text>
<rect x="424.6" y="716.4" width="9.4" height="4.2" fill="#000" stroke="#000" stroke-width="1"/>
<text x="440.5" y="721.4" font-size="8.1" font-weight="bold" text-anchor="start" fill="#151515" stroke="#151515" stroke-width="0.3">PDL1-MC2-TCR-J</text>
</svg>
</body></html>
